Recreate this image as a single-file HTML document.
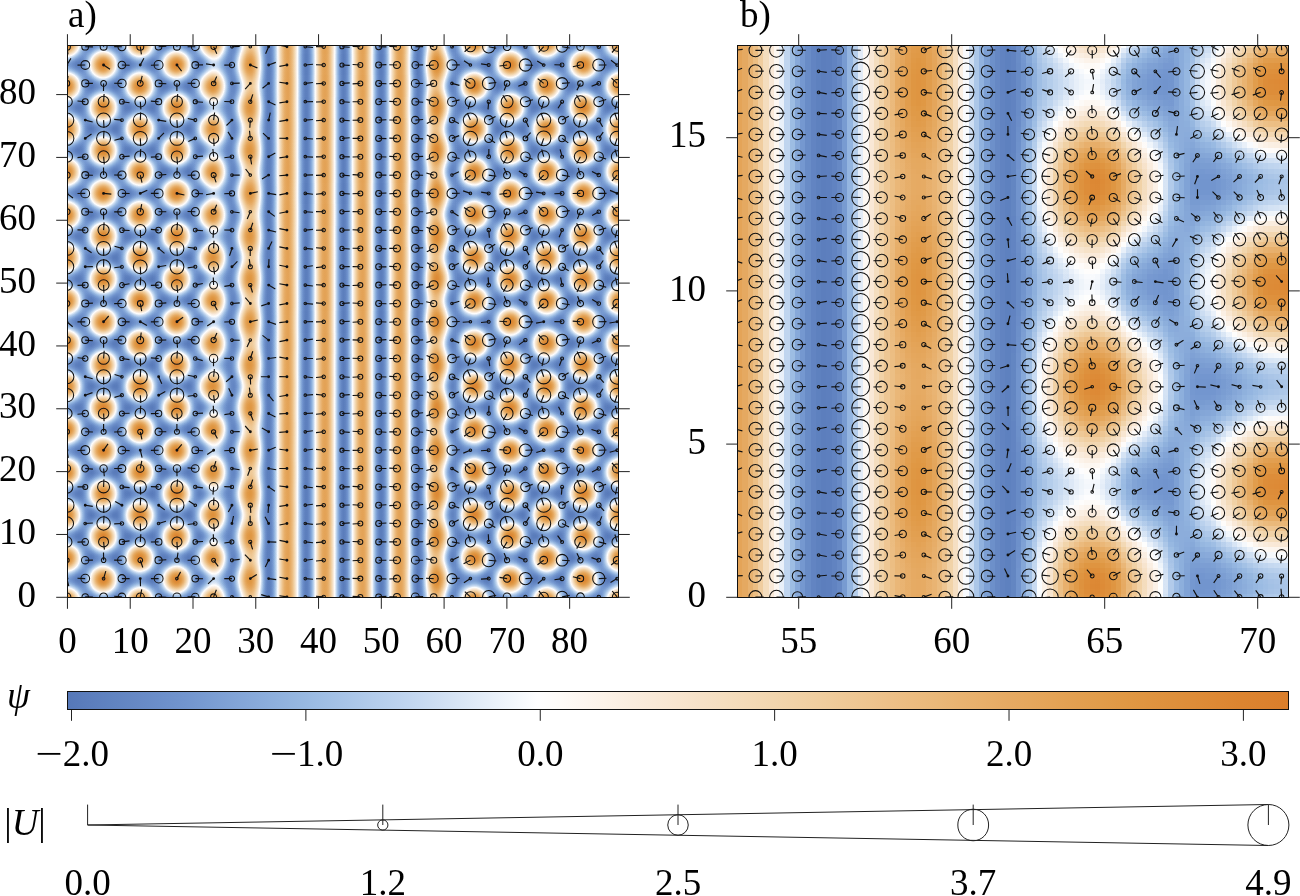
<!DOCTYPE html><html><head><meta charset="utf-8"><style>html,body{margin:0;padding:0;background:#fff;overflow:hidden;}svg{display:block}text{font-family:"Liberation Serif",serif;fill:#000}</style></head><body><svg width="1300" height="896" viewBox="0 0 1300 896"><defs><linearGradient id="ab" gradientUnits="userSpaceOnUse" x1="67.50" y1="0" x2="618.50" y2="0"><stop offset="0.0000" stop-color="#bdbdbd"/><stop offset="0.0024" stop-color="#b3b3b3"/><stop offset="0.0048" stop-color="#a3a3a3"/><stop offset="0.0072" stop-color="#8f8f8f"/><stop offset="0.0095" stop-color="#7a7a7a"/><stop offset="0.0119" stop-color="#666666"/><stop offset="0.0143" stop-color="#555555"/><stop offset="0.0167" stop-color="#484848"/><stop offset="0.0191" stop-color="#3e3e3e"/><stop offset="0.0215" stop-color="#383838"/><stop offset="0.0239" stop-color="#353535"/><stop offset="0.0263" stop-color="#343434"/><stop offset="0.0286" stop-color="#363636"/><stop offset="0.0310" stop-color="#3b3b3b"/><stop offset="0.0358" stop-color="#353535"/><stop offset="0.0382" stop-color="#343434"/><stop offset="0.0406" stop-color="#363636"/><stop offset="0.0430" stop-color="#3a3a3a"/><stop offset="0.0453" stop-color="#434343"/><stop offset="0.0477" stop-color="#4e4e4e"/><stop offset="0.0501" stop-color="#5e5e5e"/><stop offset="0.0525" stop-color="#707070"/><stop offset="0.0573" stop-color="#9a9a9a"/><stop offset="0.0597" stop-color="#acacac"/><stop offset="0.0621" stop-color="#bababa"/><stop offset="0.0644" stop-color="#bfbfbf"/><stop offset="0.0668" stop-color="#bcbcbc"/><stop offset="0.0692" stop-color="#b1b1b1"/><stop offset="0.0716" stop-color="#9f9f9f"/><stop offset="0.0764" stop-color="#767676"/><stop offset="0.0788" stop-color="#636363"/><stop offset="0.0811" stop-color="#525252"/><stop offset="0.0835" stop-color="#454545"/><stop offset="0.0859" stop-color="#3c3c3c"/><stop offset="0.0883" stop-color="#373737"/><stop offset="0.0907" stop-color="#343434"/><stop offset="0.0931" stop-color="#353535"/><stop offset="0.0955" stop-color="#373737"/><stop offset="0.0979" stop-color="#3c3c3c"/><stop offset="0.1002" stop-color="#373737"/><stop offset="0.1026" stop-color="#353535"/><stop offset="0.1050" stop-color="#343434"/><stop offset="0.1074" stop-color="#373737"/><stop offset="0.1098" stop-color="#3c3c3c"/><stop offset="0.1122" stop-color="#454545"/><stop offset="0.1146" stop-color="#515151"/><stop offset="0.1169" stop-color="#626262"/><stop offset="0.1193" stop-color="#757575"/><stop offset="0.1241" stop-color="#9e9e9e"/><stop offset="0.1265" stop-color="#b0b0b0"/><stop offset="0.1289" stop-color="#bcbcbc"/><stop offset="0.1313" stop-color="#bfbfbf"/><stop offset="0.1337" stop-color="#bababa"/><stop offset="0.1360" stop-color="#adadad"/><stop offset="0.1384" stop-color="#9b9b9b"/><stop offset="0.1432" stop-color="#727272"/><stop offset="0.1456" stop-color="#5f5f5f"/><stop offset="0.1480" stop-color="#505050"/><stop offset="0.1504" stop-color="#444444"/><stop offset="0.1527" stop-color="#3b3b3b"/><stop offset="0.1551" stop-color="#363636"/><stop offset="0.1575" stop-color="#343434"/><stop offset="0.1599" stop-color="#353535"/><stop offset="0.1647" stop-color="#3b3b3b"/><stop offset="0.1671" stop-color="#373737"/><stop offset="0.1695" stop-color="#343434"/><stop offset="0.1718" stop-color="#343434"/><stop offset="0.1742" stop-color="#373737"/><stop offset="0.1766" stop-color="#3d3d3d"/><stop offset="0.1790" stop-color="#464646"/><stop offset="0.1814" stop-color="#535353"/><stop offset="0.1838" stop-color="#636363"/><stop offset="0.1862" stop-color="#767676"/><stop offset="0.1909" stop-color="#9f9f9f"/><stop offset="0.1933" stop-color="#b0b0b0"/><stop offset="0.1957" stop-color="#bcbcbc"/><stop offset="0.1981" stop-color="#bfbfbf"/><stop offset="0.2005" stop-color="#bababa"/><stop offset="0.2029" stop-color="#acacac"/><stop offset="0.2053" stop-color="#9a9a9a"/><stop offset="0.2100" stop-color="#707070"/><stop offset="0.2124" stop-color="#5d5d5d"/><stop offset="0.2148" stop-color="#4e4e4e"/><stop offset="0.2172" stop-color="#424242"/><stop offset="0.2196" stop-color="#3a3a3a"/><stop offset="0.2220" stop-color="#363636"/><stop offset="0.2243" stop-color="#343434"/><stop offset="0.2267" stop-color="#363636"/><stop offset="0.2291" stop-color="#393939"/><stop offset="0.2315" stop-color="#3a3a3a"/><stop offset="0.2339" stop-color="#373737"/><stop offset="0.2363" stop-color="#363636"/><stop offset="0.2387" stop-color="#373737"/><stop offset="0.2411" stop-color="#3c3c3c"/><stop offset="0.2434" stop-color="#454545"/><stop offset="0.2458" stop-color="#515151"/><stop offset="0.2482" stop-color="#616161"/><stop offset="0.2506" stop-color="#737373"/><stop offset="0.2554" stop-color="#9a9a9a"/><stop offset="0.2578" stop-color="#ababab"/><stop offset="0.2601" stop-color="#b7b7b7"/><stop offset="0.2625" stop-color="#bebebe"/><stop offset="0.2649" stop-color="#bebebe"/><stop offset="0.2673" stop-color="#b9b9b9"/><stop offset="0.2697" stop-color="#afafaf"/><stop offset="0.2721" stop-color="#a1a1a1"/><stop offset="0.2745" stop-color="#919191"/><stop offset="0.2792" stop-color="#6e6e6e"/><stop offset="0.2816" stop-color="#5e5e5e"/><stop offset="0.2840" stop-color="#4f4f4f"/><stop offset="0.2864" stop-color="#444444"/><stop offset="0.2888" stop-color="#3a3a3a"/><stop offset="0.2912" stop-color="#343434"/><stop offset="0.2936" stop-color="#313131"/><stop offset="0.3007" stop-color="#303030"/><stop offset="0.3031" stop-color="#333333"/><stop offset="0.3055" stop-color="#3b3b3b"/><stop offset="0.3079" stop-color="#464646"/><stop offset="0.3103" stop-color="#545454"/><stop offset="0.3126" stop-color="#656565"/><stop offset="0.3198" stop-color="#a0a0a0"/><stop offset="0.3222" stop-color="#b1b1b1"/><stop offset="0.3246" stop-color="#c0c0c0"/><stop offset="0.3270" stop-color="#cacaca"/><stop offset="0.3294" stop-color="#d0d0d0"/><stop offset="0.3317" stop-color="#d1d1d1"/><stop offset="0.3341" stop-color="#cdcdcd"/><stop offset="0.3365" stop-color="#c5c5c5"/><stop offset="0.3389" stop-color="#bababa"/><stop offset="0.3413" stop-color="#ababab"/><stop offset="0.3437" stop-color="#9a9a9a"/><stop offset="0.3508" stop-color="#636363"/><stop offset="0.3532" stop-color="#525252"/><stop offset="0.3556" stop-color="#434343"/><stop offset="0.3580" stop-color="#373737"/><stop offset="0.3604" stop-color="#2e2e2e"/><stop offset="0.3628" stop-color="#292929"/><stop offset="0.3652" stop-color="#282828"/><stop offset="0.3675" stop-color="#292929"/><stop offset="0.3699" stop-color="#2f2f2f"/><stop offset="0.3723" stop-color="#383838"/><stop offset="0.3747" stop-color="#444444"/><stop offset="0.3771" stop-color="#535353"/><stop offset="0.3795" stop-color="#646464"/><stop offset="0.3866" stop-color="#989898"/><stop offset="0.3890" stop-color="#a8a8a8"/><stop offset="0.3914" stop-color="#b5b5b5"/><stop offset="0.3938" stop-color="#c0c0c0"/><stop offset="0.3962" stop-color="#c7c7c7"/><stop offset="0.3986" stop-color="#cbcbcb"/><stop offset="0.4010" stop-color="#cbcbcb"/><stop offset="0.4033" stop-color="#c6c6c6"/><stop offset="0.4057" stop-color="#bebebe"/><stop offset="0.4081" stop-color="#b3b3b3"/><stop offset="0.4105" stop-color="#a5a5a5"/><stop offset="0.4129" stop-color="#959595"/><stop offset="0.4200" stop-color="#606060"/><stop offset="0.4224" stop-color="#4f4f4f"/><stop offset="0.4248" stop-color="#414141"/><stop offset="0.4272" stop-color="#353535"/><stop offset="0.4296" stop-color="#2d2d2d"/><stop offset="0.4320" stop-color="#292929"/><stop offset="0.4344" stop-color="#282828"/><stop offset="0.4368" stop-color="#2c2c2c"/><stop offset="0.4391" stop-color="#333333"/><stop offset="0.4415" stop-color="#3e3e3e"/><stop offset="0.4439" stop-color="#4b4b4b"/><stop offset="0.4463" stop-color="#5b5b5b"/><stop offset="0.4535" stop-color="#909090"/><stop offset="0.4558" stop-color="#a1a1a1"/><stop offset="0.4582" stop-color="#b0b0b0"/><stop offset="0.4606" stop-color="#bcbcbc"/><stop offset="0.4630" stop-color="#c5c5c5"/><stop offset="0.4654" stop-color="#cacaca"/><stop offset="0.4678" stop-color="#cbcbcb"/><stop offset="0.4702" stop-color="#c8c8c8"/><stop offset="0.4726" stop-color="#c2c2c2"/><stop offset="0.4749" stop-color="#b8b8b8"/><stop offset="0.4773" stop-color="#ababab"/><stop offset="0.4797" stop-color="#9b9b9b"/><stop offset="0.4821" stop-color="#8a8a8a"/><stop offset="0.4869" stop-color="#666666"/><stop offset="0.4893" stop-color="#555555"/><stop offset="0.4916" stop-color="#464646"/><stop offset="0.4940" stop-color="#393939"/><stop offset="0.4964" stop-color="#303030"/><stop offset="0.4988" stop-color="#2a2a2a"/><stop offset="0.5012" stop-color="#282828"/><stop offset="0.5036" stop-color="#2a2a2a"/><stop offset="0.5060" stop-color="#303030"/><stop offset="0.5084" stop-color="#393939"/><stop offset="0.5107" stop-color="#464646"/><stop offset="0.5131" stop-color="#555555"/><stop offset="0.5155" stop-color="#666666"/><stop offset="0.5203" stop-color="#8a8a8a"/><stop offset="0.5227" stop-color="#9b9b9b"/><stop offset="0.5251" stop-color="#ababab"/><stop offset="0.5274" stop-color="#b8b8b8"/><stop offset="0.5298" stop-color="#c2c2c2"/><stop offset="0.5322" stop-color="#c8c8c8"/><stop offset="0.5346" stop-color="#cbcbcb"/><stop offset="0.5370" stop-color="#cacaca"/><stop offset="0.5394" stop-color="#c5c5c5"/><stop offset="0.5418" stop-color="#bcbcbc"/><stop offset="0.5442" stop-color="#b0b0b0"/><stop offset="0.5465" stop-color="#a1a1a1"/><stop offset="0.5489" stop-color="#919191"/><stop offset="0.5561" stop-color="#5c5c5c"/><stop offset="0.5585" stop-color="#4c4c4c"/><stop offset="0.5609" stop-color="#3e3e3e"/><stop offset="0.5632" stop-color="#343434"/><stop offset="0.5656" stop-color="#2c2c2c"/><stop offset="0.5680" stop-color="#282828"/><stop offset="0.5704" stop-color="#282828"/><stop offset="0.5728" stop-color="#2c2c2c"/><stop offset="0.5752" stop-color="#343434"/><stop offset="0.5776" stop-color="#3f3f3f"/><stop offset="0.5800" stop-color="#4d4d4d"/><stop offset="0.5823" stop-color="#5d5d5d"/><stop offset="0.5895" stop-color="#929292"/><stop offset="0.5919" stop-color="#a2a2a2"/><stop offset="0.5943" stop-color="#b1b1b1"/><stop offset="0.5967" stop-color="#bdbdbd"/><stop offset="0.5990" stop-color="#c5c5c5"/><stop offset="0.6014" stop-color="#cacaca"/><stop offset="0.6038" stop-color="#cbcbcb"/><stop offset="0.6062" stop-color="#c8c8c8"/><stop offset="0.6086" stop-color="#c1c1c1"/><stop offset="0.6110" stop-color="#b7b7b7"/><stop offset="0.6134" stop-color="#a9a9a9"/><stop offset="0.6158" stop-color="#999999"/><stop offset="0.6181" stop-color="#878787"/><stop offset="0.6229" stop-color="#626262"/><stop offset="0.6253" stop-color="#515151"/><stop offset="0.6277" stop-color="#414141"/><stop offset="0.6301" stop-color="#353535"/><stop offset="0.6325" stop-color="#2d2d2d"/><stop offset="0.6348" stop-color="#282828"/><stop offset="0.6372" stop-color="#282828"/><stop offset="0.6396" stop-color="#2a2a2a"/><stop offset="0.6420" stop-color="#303030"/><stop offset="0.6444" stop-color="#3a3a3a"/><stop offset="0.6468" stop-color="#484848"/><stop offset="0.6492" stop-color="#585858"/><stop offset="0.6516" stop-color="#6b6b6b"/><stop offset="0.6587" stop-color="#a8a8a8"/><stop offset="0.6611" stop-color="#bbbbbb"/><stop offset="0.6635" stop-color="#cbcbcb"/><stop offset="0.6659" stop-color="#d7d7d7"/><stop offset="0.6683" stop-color="#dedede"/><stop offset="0.6706" stop-color="#e0e0e0"/><stop offset="0.6730" stop-color="#dcdcdc"/><stop offset="0.6754" stop-color="#d1d1d1"/><stop offset="0.6778" stop-color="#c2c2c2"/><stop offset="0.6802" stop-color="#b0b0b0"/><stop offset="0.6826" stop-color="#9b9b9b"/><stop offset="0.6874" stop-color="#6f6f6f"/><stop offset="0.6897" stop-color="#5b5b5b"/><stop offset="0.6921" stop-color="#4a4a4a"/><stop offset="0.6945" stop-color="#3d3d3d"/><stop offset="0.6969" stop-color="#353535"/><stop offset="0.6993" stop-color="#303030"/><stop offset="0.7017" stop-color="#303030"/><stop offset="0.7041" stop-color="#333333"/><stop offset="0.7064" stop-color="#323232"/><stop offset="0.7088" stop-color="#323232"/><stop offset="0.7112" stop-color="#343434"/><stop offset="0.7136" stop-color="#393939"/><stop offset="0.7160" stop-color="#404040"/><stop offset="0.7184" stop-color="#494949"/><stop offset="0.7208" stop-color="#555555"/><stop offset="0.7232" stop-color="#626262"/><stop offset="0.7255" stop-color="#707070"/><stop offset="0.7279" stop-color="#818181"/><stop offset="0.7303" stop-color="#959595"/><stop offset="0.7327" stop-color="#a8a8a8"/><stop offset="0.7351" stop-color="#b6b6b6"/><stop offset="0.7375" stop-color="#bebebe"/><stop offset="0.7399" stop-color="#bebebe"/><stop offset="0.7422" stop-color="#b5b5b5"/><stop offset="0.7446" stop-color="#a5a5a5"/><stop offset="0.7470" stop-color="#919191"/><stop offset="0.7494" stop-color="#7b7b7b"/><stop offset="0.7518" stop-color="#676767"/><stop offset="0.7542" stop-color="#565656"/><stop offset="0.7566" stop-color="#484848"/><stop offset="0.7589" stop-color="#3e3e3e"/><stop offset="0.7613" stop-color="#373737"/><stop offset="0.7637" stop-color="#343434"/><stop offset="0.7661" stop-color="#343434"/><stop offset="0.7685" stop-color="#373737"/><stop offset="0.7709" stop-color="#3b3b3b"/><stop offset="0.7757" stop-color="#353535"/><stop offset="0.7780" stop-color="#343434"/><stop offset="0.7804" stop-color="#363636"/><stop offset="0.7828" stop-color="#3c3c3c"/><stop offset="0.7852" stop-color="#454545"/><stop offset="0.7876" stop-color="#525252"/><stop offset="0.7900" stop-color="#636363"/><stop offset="0.7924" stop-color="#777777"/><stop offset="0.7971" stop-color="#a1a1a1"/><stop offset="0.7995" stop-color="#b2b2b2"/><stop offset="0.8019" stop-color="#bdbdbd"/><stop offset="0.8043" stop-color="#bfbfbf"/><stop offset="0.8067" stop-color="#b8b8b8"/><stop offset="0.8091" stop-color="#aaaaaa"/><stop offset="0.8115" stop-color="#979797"/><stop offset="0.8162" stop-color="#6d6d6d"/><stop offset="0.8186" stop-color="#5b5b5b"/><stop offset="0.8210" stop-color="#4c4c4c"/><stop offset="0.8234" stop-color="#414141"/><stop offset="0.8258" stop-color="#393939"/><stop offset="0.8282" stop-color="#353535"/><stop offset="0.8305" stop-color="#343434"/><stop offset="0.8329" stop-color="#363636"/><stop offset="0.8353" stop-color="#393939"/><stop offset="0.8377" stop-color="#3a3a3a"/><stop offset="0.8401" stop-color="#363636"/><stop offset="0.8425" stop-color="#343434"/><stop offset="0.8449" stop-color="#353535"/><stop offset="0.8473" stop-color="#393939"/><stop offset="0.8496" stop-color="#404040"/><stop offset="0.8520" stop-color="#4a4a4a"/><stop offset="0.8544" stop-color="#595959"/><stop offset="0.8568" stop-color="#6b6b6b"/><stop offset="0.8592" stop-color="#7f7f7f"/><stop offset="0.8616" stop-color="#949494"/><stop offset="0.8640" stop-color="#a8a8a8"/><stop offset="0.8663" stop-color="#b7b7b7"/><stop offset="0.8687" stop-color="#bfbfbf"/><stop offset="0.8711" stop-color="#bebebe"/><stop offset="0.8735" stop-color="#b4b4b4"/><stop offset="0.8759" stop-color="#a5a5a5"/><stop offset="0.8783" stop-color="#919191"/><stop offset="0.8807" stop-color="#7c7c7c"/><stop offset="0.8831" stop-color="#686868"/><stop offset="0.8854" stop-color="#575757"/><stop offset="0.8878" stop-color="#494949"/><stop offset="0.8902" stop-color="#3f3f3f"/><stop offset="0.8926" stop-color="#383838"/><stop offset="0.8950" stop-color="#353535"/><stop offset="0.8974" stop-color="#343434"/><stop offset="0.8998" stop-color="#363636"/><stop offset="0.9021" stop-color="#3a3a3a"/><stop offset="0.9045" stop-color="#393939"/><stop offset="0.9069" stop-color="#353535"/><stop offset="0.9093" stop-color="#343434"/><stop offset="0.9117" stop-color="#353535"/><stop offset="0.9141" stop-color="#393939"/><stop offset="0.9165" stop-color="#414141"/><stop offset="0.9189" stop-color="#4c4c4c"/><stop offset="0.9212" stop-color="#5a5a5a"/><stop offset="0.9236" stop-color="#6c6c6c"/><stop offset="0.9284" stop-color="#959595"/><stop offset="0.9308" stop-color="#a8a8a8"/><stop offset="0.9332" stop-color="#b7b7b7"/><stop offset="0.9356" stop-color="#bfbfbf"/><stop offset="0.9379" stop-color="#bebebe"/><stop offset="0.9403" stop-color="#b4b4b4"/><stop offset="0.9427" stop-color="#a4a4a4"/><stop offset="0.9451" stop-color="#909090"/><stop offset="0.9475" stop-color="#7b7b7b"/><stop offset="0.9499" stop-color="#676767"/><stop offset="0.9523" stop-color="#565656"/><stop offset="0.9547" stop-color="#484848"/><stop offset="0.9570" stop-color="#3e3e3e"/><stop offset="0.9594" stop-color="#383838"/><stop offset="0.9618" stop-color="#353535"/><stop offset="0.9642" stop-color="#343434"/><stop offset="0.9666" stop-color="#363636"/><stop offset="0.9690" stop-color="#3a3a3a"/><stop offset="0.9714" stop-color="#383838"/><stop offset="0.9737" stop-color="#353535"/><stop offset="0.9761" stop-color="#343434"/><stop offset="0.9785" stop-color="#363636"/><stop offset="0.9809" stop-color="#3a3a3a"/><stop offset="0.9833" stop-color="#424242"/><stop offset="0.9857" stop-color="#4e4e4e"/><stop offset="0.9881" stop-color="#5e5e5e"/><stop offset="0.9905" stop-color="#707070"/><stop offset="0.9952" stop-color="#9a9a9a"/><stop offset="0.9976" stop-color="#acacac"/><stop offset="1.0000" stop-color="#bababa"/></linearGradient><linearGradient id="ag0p" gradientUnits="userSpaceOnUse" spreadMethod="repeat" x1="0" y1="64.700" x2="0" y2="107.600"><stop offset="0.0000" stop-color="#ffffff"/><stop offset="0.0278" stop-color="#fdfdfd"/><stop offset="0.0556" stop-color="#f7f7f7"/><stop offset="0.0833" stop-color="#eeeeee"/><stop offset="0.1111" stop-color="#e1e1e1"/><stop offset="0.1389" stop-color="#d1d1d1"/><stop offset="0.1667" stop-color="#bfbfbf"/><stop offset="0.1944" stop-color="#ababab"/><stop offset="0.2222" stop-color="#969696"/><stop offset="0.2500" stop-color="#808080"/><stop offset="0.2778" stop-color="#696969"/><stop offset="0.3056" stop-color="#545454"/><stop offset="0.3333" stop-color="#404040"/><stop offset="0.3611" stop-color="#2e2e2e"/><stop offset="0.3889" stop-color="#1e1e1e"/><stop offset="0.4167" stop-color="#111111"/><stop offset="0.4444" stop-color="#080808"/><stop offset="0.4722" stop-color="#020202"/><stop offset="0.5000" stop-color="#000000"/><stop offset="0.5278" stop-color="#020202"/><stop offset="0.5556" stop-color="#080808"/><stop offset="0.5833" stop-color="#111111"/><stop offset="0.6111" stop-color="#1e1e1e"/><stop offset="0.6389" stop-color="#2e2e2e"/><stop offset="0.6667" stop-color="#404040"/><stop offset="0.6944" stop-color="#545454"/><stop offset="0.7222" stop-color="#696969"/><stop offset="0.7500" stop-color="#7f7f7f"/><stop offset="0.7778" stop-color="#969696"/><stop offset="0.8056" stop-color="#ababab"/><stop offset="0.8333" stop-color="#bfbfbf"/><stop offset="0.8611" stop-color="#d1d1d1"/><stop offset="0.8889" stop-color="#e1e1e1"/><stop offset="0.9167" stop-color="#eeeeee"/><stop offset="0.9444" stop-color="#f7f7f7"/><stop offset="0.9722" stop-color="#fdfdfd"/><stop offset="1.0000" stop-color="#ffffff"/></linearGradient><linearGradient id="ag0pa" gradientUnits="userSpaceOnUse" x1="67.50" y1="0" x2="618.50" y2="0"><stop offset="0.0000" stop-color="#fff" stop-opacity="0.0000"/><stop offset="0.0310" stop-color="#fff" stop-opacity="0.0000"/><stop offset="0.0334" stop-color="#fff" stop-opacity="0.0596"/><stop offset="0.0382" stop-color="#fff" stop-opacity="0.2114"/><stop offset="0.0430" stop-color="#fff" stop-opacity="0.3524"/><stop offset="0.0453" stop-color="#fff" stop-opacity="0.4167"/><stop offset="0.0477" stop-color="#fff" stop-opacity="0.4756"/><stop offset="0.0501" stop-color="#fff" stop-opacity="0.5285"/><stop offset="0.0525" stop-color="#fff" stop-opacity="0.5747"/><stop offset="0.0549" stop-color="#fff" stop-opacity="0.6135"/><stop offset="0.0573" stop-color="#fff" stop-opacity="0.6446"/><stop offset="0.0597" stop-color="#fff" stop-opacity="0.6674"/><stop offset="0.0621" stop-color="#fff" stop-opacity="0.6817"/><stop offset="0.0644" stop-color="#fff" stop-opacity="0.6874"/><stop offset="0.0668" stop-color="#fff" stop-opacity="0.6843"/><stop offset="0.0692" stop-color="#fff" stop-opacity="0.6724"/><stop offset="0.0716" stop-color="#fff" stop-opacity="0.6520"/><stop offset="0.0740" stop-color="#fff" stop-opacity="0.6232"/><stop offset="0.0764" stop-color="#fff" stop-opacity="0.5864"/><stop offset="0.0788" stop-color="#fff" stop-opacity="0.5421"/><stop offset="0.0811" stop-color="#fff" stop-opacity="0.4909"/><stop offset="0.0835" stop-color="#fff" stop-opacity="0.4334"/><stop offset="0.0859" stop-color="#fff" stop-opacity="0.3703"/><stop offset="0.0907" stop-color="#fff" stop-opacity="0.2309"/><stop offset="0.0979" stop-color="#fff" stop-opacity="0.0020"/><stop offset="0.1623" stop-color="#fff" stop-opacity="0.0000"/><stop offset="0.1647" stop-color="#fff" stop-opacity="0.0081"/><stop offset="0.1718" stop-color="#fff" stop-opacity="0.2348"/><stop offset="0.1766" stop-color="#fff" stop-opacity="0.3728"/><stop offset="0.1790" stop-color="#fff" stop-opacity="0.4351"/><stop offset="0.1814" stop-color="#fff" stop-opacity="0.4920"/><stop offset="0.1838" stop-color="#fff" stop-opacity="0.5427"/><stop offset="0.1862" stop-color="#fff" stop-opacity="0.5866"/><stop offset="0.1885" stop-color="#fff" stop-opacity="0.6231"/><stop offset="0.1909" stop-color="#fff" stop-opacity="0.6517"/><stop offset="0.1933" stop-color="#fff" stop-opacity="0.6721"/><stop offset="0.1957" stop-color="#fff" stop-opacity="0.6841"/><stop offset="0.1981" stop-color="#fff" stop-opacity="0.6874"/><stop offset="0.2005" stop-color="#fff" stop-opacity="0.6820"/><stop offset="0.2029" stop-color="#fff" stop-opacity="0.6676"/><stop offset="0.2053" stop-color="#fff" stop-opacity="0.6446"/><stop offset="0.2076" stop-color="#fff" stop-opacity="0.6132"/><stop offset="0.2100" stop-color="#fff" stop-opacity="0.5738"/><stop offset="0.2124" stop-color="#fff" stop-opacity="0.5269"/><stop offset="0.2148" stop-color="#fff" stop-opacity="0.4732"/><stop offset="0.2172" stop-color="#fff" stop-opacity="0.4133"/><stop offset="0.2196" stop-color="#fff" stop-opacity="0.3480"/><stop offset="0.2220" stop-color="#fff" stop-opacity="0.2783"/><stop offset="0.2291" stop-color="#fff" stop-opacity="0.0488"/><stop offset="0.2315" stop-color="#fff" stop-opacity="0.0000"/><stop offset="0.2959" stop-color="#fff" stop-opacity="0.0000"/><stop offset="0.2983" stop-color="#fff" stop-opacity="0.0187"/><stop offset="0.3031" stop-color="#fff" stop-opacity="0.0901"/><stop offset="0.3079" stop-color="#fff" stop-opacity="0.1480"/><stop offset="0.3103" stop-color="#fff" stop-opacity="0.1712"/><stop offset="0.3126" stop-color="#fff" stop-opacity="0.1904"/><stop offset="0.3150" stop-color="#fff" stop-opacity="0.2055"/><stop offset="0.3174" stop-color="#fff" stop-opacity="0.2164"/><stop offset="0.3222" stop-color="#fff" stop-opacity="0.2263"/><stop offset="0.3270" stop-color="#fff" stop-opacity="0.2213"/><stop offset="0.3317" stop-color="#fff" stop-opacity="0.2037"/><stop offset="0.3389" stop-color="#fff" stop-opacity="0.1599"/><stop offset="0.3532" stop-color="#fff" stop-opacity="0.0554"/><stop offset="0.3604" stop-color="#fff" stop-opacity="0.0162"/><stop offset="0.3652" stop-color="#fff" stop-opacity="0.0002"/><stop offset="1.0000" stop-color="#fff" stop-opacity="0.0000"/></linearGradient><mask id="ag0pm" maskUnits="userSpaceOnUse" x="67.50" y="45.50" width="551.00" height="552.00"><rect x="67.50" y="45.50" width="551.00" height="552.00" fill="url(#ag0pa)"/></mask><linearGradient id="ag0n" gradientUnits="userSpaceOnUse" spreadMethod="repeat" x1="0" y1="64.700" x2="0" y2="107.600"><stop offset="0.0000" stop-color="#000000"/><stop offset="0.0278" stop-color="#020202"/><stop offset="0.0556" stop-color="#080808"/><stop offset="0.0833" stop-color="#111111"/><stop offset="0.1111" stop-color="#1e1e1e"/><stop offset="0.1389" stop-color="#2e2e2e"/><stop offset="0.1667" stop-color="#404040"/><stop offset="0.1944" stop-color="#545454"/><stop offset="0.2222" stop-color="#696969"/><stop offset="0.2500" stop-color="#7f7f7f"/><stop offset="0.2778" stop-color="#969696"/><stop offset="0.3056" stop-color="#ababab"/><stop offset="0.3333" stop-color="#bfbfbf"/><stop offset="0.3611" stop-color="#d1d1d1"/><stop offset="0.3889" stop-color="#e1e1e1"/><stop offset="0.4167" stop-color="#eeeeee"/><stop offset="0.4444" stop-color="#f7f7f7"/><stop offset="0.4722" stop-color="#fdfdfd"/><stop offset="0.5000" stop-color="#ffffff"/><stop offset="0.5278" stop-color="#fdfdfd"/><stop offset="0.5556" stop-color="#f7f7f7"/><stop offset="0.5833" stop-color="#eeeeee"/><stop offset="0.6111" stop-color="#e1e1e1"/><stop offset="0.6389" stop-color="#d1d1d1"/><stop offset="0.6667" stop-color="#bfbfbf"/><stop offset="0.6944" stop-color="#ababab"/><stop offset="0.7222" stop-color="#969696"/><stop offset="0.7500" stop-color="#808080"/><stop offset="0.7778" stop-color="#696969"/><stop offset="0.8056" stop-color="#545454"/><stop offset="0.8333" stop-color="#404040"/><stop offset="0.8611" stop-color="#2e2e2e"/><stop offset="0.8889" stop-color="#1e1e1e"/><stop offset="0.9167" stop-color="#111111"/><stop offset="0.9444" stop-color="#080808"/><stop offset="0.9722" stop-color="#020202"/><stop offset="1.0000" stop-color="#000000"/></linearGradient><linearGradient id="ag0na" gradientUnits="userSpaceOnUse" x1="67.50" y1="0" x2="618.50" y2="0"><stop offset="0.0000" stop-color="#fff" stop-opacity="0.6854"/><stop offset="0.0024" stop-color="#fff" stop-opacity="0.6751"/><stop offset="0.0048" stop-color="#fff" stop-opacity="0.6562"/><stop offset="0.0072" stop-color="#fff" stop-opacity="0.6289"/><stop offset="0.0095" stop-color="#fff" stop-opacity="0.5936"/><stop offset="0.0119" stop-color="#fff" stop-opacity="0.5508"/><stop offset="0.0143" stop-color="#fff" stop-opacity="0.5009"/><stop offset="0.0167" stop-color="#fff" stop-opacity="0.4447"/><stop offset="0.0191" stop-color="#fff" stop-opacity="0.3828"/><stop offset="0.0215" stop-color="#fff" stop-opacity="0.3160"/><stop offset="0.0263" stop-color="#fff" stop-opacity="0.1714"/><stop offset="0.0310" stop-color="#fff" stop-opacity="0.0180"/><stop offset="0.0334" stop-color="#fff" stop-opacity="0.0000"/><stop offset="0.0979" stop-color="#fff" stop-opacity="0.0000"/><stop offset="0.1050" stop-color="#fff" stop-opacity="0.2271"/><stop offset="0.1098" stop-color="#fff" stop-opacity="0.3670"/><stop offset="0.1122" stop-color="#fff" stop-opacity="0.4303"/><stop offset="0.1146" stop-color="#fff" stop-opacity="0.4881"/><stop offset="0.1169" stop-color="#fff" stop-opacity="0.5396"/><stop offset="0.1193" stop-color="#fff" stop-opacity="0.5843"/><stop offset="0.1217" stop-color="#fff" stop-opacity="0.6215"/><stop offset="0.1241" stop-color="#fff" stop-opacity="0.6507"/><stop offset="0.1265" stop-color="#fff" stop-opacity="0.6716"/><stop offset="0.1289" stop-color="#fff" stop-opacity="0.6839"/><stop offset="0.1313" stop-color="#fff" stop-opacity="0.6875"/><stop offset="0.1337" stop-color="#fff" stop-opacity="0.6823"/><stop offset="0.1360" stop-color="#fff" stop-opacity="0.6685"/><stop offset="0.1384" stop-color="#fff" stop-opacity="0.6464"/><stop offset="0.1408" stop-color="#fff" stop-opacity="0.6161"/><stop offset="0.1432" stop-color="#fff" stop-opacity="0.5780"/><stop offset="0.1456" stop-color="#fff" stop-opacity="0.5327"/><stop offset="0.1480" stop-color="#fff" stop-opacity="0.4806"/><stop offset="0.1504" stop-color="#fff" stop-opacity="0.4225"/><stop offset="0.1527" stop-color="#fff" stop-opacity="0.3591"/><stop offset="0.1575" stop-color="#fff" stop-opacity="0.2196"/><stop offset="0.1623" stop-color="#fff" stop-opacity="0.0690"/><stop offset="0.1647" stop-color="#fff" stop-opacity="0.0000"/><stop offset="0.2291" stop-color="#fff" stop-opacity="0.0000"/><stop offset="0.2315" stop-color="#fff" stop-opacity="0.0257"/><stop offset="0.2363" stop-color="#fff" stop-opacity="0.1657"/><stop offset="0.2387" stop-color="#fff" stop-opacity="0.2295"/><stop offset="0.2411" stop-color="#fff" stop-opacity="0.2880"/><stop offset="0.2434" stop-color="#fff" stop-opacity="0.3406"/><stop offset="0.2458" stop-color="#fff" stop-opacity="0.3868"/><stop offset="0.2482" stop-color="#fff" stop-opacity="0.4262"/><stop offset="0.2506" stop-color="#fff" stop-opacity="0.4585"/><stop offset="0.2530" stop-color="#fff" stop-opacity="0.4834"/><stop offset="0.2554" stop-color="#fff" stop-opacity="0.5008"/><stop offset="0.2578" stop-color="#fff" stop-opacity="0.5109"/><stop offset="0.2601" stop-color="#fff" stop-opacity="0.5136"/><stop offset="0.2625" stop-color="#fff" stop-opacity="0.5092"/><stop offset="0.2649" stop-color="#fff" stop-opacity="0.4982"/><stop offset="0.2673" stop-color="#fff" stop-opacity="0.4811"/><stop offset="0.2697" stop-color="#fff" stop-opacity="0.4585"/><stop offset="0.2721" stop-color="#fff" stop-opacity="0.4309"/><stop offset="0.2768" stop-color="#fff" stop-opacity="0.3629"/><stop offset="0.2840" stop-color="#fff" stop-opacity="0.2393"/><stop offset="0.2959" stop-color="#fff" stop-opacity="0.0210"/><stop offset="0.2983" stop-color="#fff" stop-opacity="0.0000"/><stop offset="0.3652" stop-color="#fff" stop-opacity="0.0000"/><stop offset="0.3699" stop-color="#fff" stop-opacity="0.0064"/><stop offset="1.0000" stop-color="#fff" stop-opacity="0.0000"/></linearGradient><mask id="ag0nm" maskUnits="userSpaceOnUse" x="67.50" y="45.50" width="551.00" height="552.00"><rect x="67.50" y="45.50" width="551.00" height="552.00" fill="url(#ag0na)"/></mask><linearGradient id="ag1p" gradientUnits="userSpaceOnUse" spreadMethod="repeat" x1="0" y1="64.500" x2="0" y2="107.400"><stop offset="0.0000" stop-color="#ffffff"/><stop offset="0.0278" stop-color="#fdfdfd"/><stop offset="0.0556" stop-color="#f7f7f7"/><stop offset="0.0833" stop-color="#eeeeee"/><stop offset="0.1111" stop-color="#e1e1e1"/><stop offset="0.1389" stop-color="#d1d1d1"/><stop offset="0.1667" stop-color="#bfbfbf"/><stop offset="0.1944" stop-color="#ababab"/><stop offset="0.2222" stop-color="#969696"/><stop offset="0.2500" stop-color="#808080"/><stop offset="0.2778" stop-color="#696969"/><stop offset="0.3056" stop-color="#545454"/><stop offset="0.3333" stop-color="#404040"/><stop offset="0.3611" stop-color="#2e2e2e"/><stop offset="0.3889" stop-color="#1e1e1e"/><stop offset="0.4167" stop-color="#111111"/><stop offset="0.4444" stop-color="#080808"/><stop offset="0.4722" stop-color="#020202"/><stop offset="0.5000" stop-color="#000000"/><stop offset="0.5278" stop-color="#020202"/><stop offset="0.5556" stop-color="#080808"/><stop offset="0.5833" stop-color="#111111"/><stop offset="0.6111" stop-color="#1e1e1e"/><stop offset="0.6389" stop-color="#2e2e2e"/><stop offset="0.6667" stop-color="#404040"/><stop offset="0.6944" stop-color="#545454"/><stop offset="0.7222" stop-color="#696969"/><stop offset="0.7500" stop-color="#7f7f7f"/><stop offset="0.7778" stop-color="#969696"/><stop offset="0.8056" stop-color="#ababab"/><stop offset="0.8333" stop-color="#bfbfbf"/><stop offset="0.8611" stop-color="#d1d1d1"/><stop offset="0.8889" stop-color="#e1e1e1"/><stop offset="0.9167" stop-color="#eeeeee"/><stop offset="0.9444" stop-color="#f7f7f7"/><stop offset="0.9722" stop-color="#fdfdfd"/><stop offset="1.0000" stop-color="#ffffff"/></linearGradient><linearGradient id="ag1pa" gradientUnits="userSpaceOnUse" x1="67.50" y1="0" x2="618.50" y2="0"><stop offset="0.0000" stop-color="#fff" stop-opacity="0.0000"/><stop offset="0.6348" stop-color="#fff" stop-opacity="0.0000"/><stop offset="0.6372" stop-color="#fff" stop-opacity="0.0029"/><stop offset="0.6444" stop-color="#fff" stop-opacity="0.0435"/><stop offset="0.6635" stop-color="#fff" stop-opacity="0.1844"/><stop offset="0.6683" stop-color="#fff" stop-opacity="0.2105"/><stop offset="0.6730" stop-color="#fff" stop-opacity="0.2268"/><stop offset="0.6754" stop-color="#fff" stop-opacity="0.2307"/><stop offset="0.6802" stop-color="#fff" stop-opacity="0.2447"/><stop offset="0.6826" stop-color="#fff" stop-opacity="0.2461"/><stop offset="0.6850" stop-color="#fff" stop-opacity="0.2422"/><stop offset="0.6874" stop-color="#fff" stop-opacity="0.2327"/><stop offset="0.6897" stop-color="#fff" stop-opacity="0.2174"/><stop offset="0.6921" stop-color="#fff" stop-opacity="0.1962"/><stop offset="0.6945" stop-color="#fff" stop-opacity="0.1690"/><stop offset="0.6969" stop-color="#fff" stop-opacity="0.1360"/><stop offset="0.6993" stop-color="#fff" stop-opacity="0.0973"/><stop offset="0.7017" stop-color="#fff" stop-opacity="0.0533"/><stop offset="0.7041" stop-color="#fff" stop-opacity="0.0045"/><stop offset="0.7064" stop-color="#fff" stop-opacity="0.0000"/><stop offset="0.7709" stop-color="#fff" stop-opacity="0.0000"/><stop offset="0.7733" stop-color="#fff" stop-opacity="0.0706"/><stop offset="0.7780" stop-color="#fff" stop-opacity="0.2251"/><stop offset="0.7828" stop-color="#fff" stop-opacity="0.3678"/><stop offset="0.7852" stop-color="#fff" stop-opacity="0.4322"/><stop offset="0.7876" stop-color="#fff" stop-opacity="0.4909"/><stop offset="0.7900" stop-color="#fff" stop-opacity="0.5430"/><stop offset="0.7924" stop-color="#fff" stop-opacity="0.5880"/><stop offset="0.7947" stop-color="#fff" stop-opacity="0.6251"/><stop offset="0.7971" stop-color="#fff" stop-opacity="0.6539"/><stop offset="0.7995" stop-color="#fff" stop-opacity="0.6740"/><stop offset="0.8019" stop-color="#fff" stop-opacity="0.6851"/><stop offset="0.8043" stop-color="#fff" stop-opacity="0.6872"/><stop offset="0.8067" stop-color="#fff" stop-opacity="0.6803"/><stop offset="0.8091" stop-color="#fff" stop-opacity="0.6646"/><stop offset="0.8115" stop-color="#fff" stop-opacity="0.6404"/><stop offset="0.8138" stop-color="#fff" stop-opacity="0.6080"/><stop offset="0.8162" stop-color="#fff" stop-opacity="0.5677"/><stop offset="0.8186" stop-color="#fff" stop-opacity="0.5202"/><stop offset="0.8210" stop-color="#fff" stop-opacity="0.4659"/><stop offset="0.8234" stop-color="#fff" stop-opacity="0.4057"/><stop offset="0.8258" stop-color="#fff" stop-opacity="0.3402"/><stop offset="0.8305" stop-color="#fff" stop-opacity="0.1970"/><stop offset="0.8353" stop-color="#fff" stop-opacity="0.0437"/><stop offset="0.8377" stop-color="#fff" stop-opacity="0.0000"/><stop offset="0.9021" stop-color="#fff" stop-opacity="0.0000"/><stop offset="0.9045" stop-color="#fff" stop-opacity="0.0468"/><stop offset="0.9093" stop-color="#fff" stop-opacity="0.1984"/><stop offset="0.9141" stop-color="#fff" stop-opacity="0.3400"/><stop offset="0.9165" stop-color="#fff" stop-opacity="0.4048"/><stop offset="0.9189" stop-color="#fff" stop-opacity="0.4645"/><stop offset="0.9212" stop-color="#fff" stop-opacity="0.5183"/><stop offset="0.9236" stop-color="#fff" stop-opacity="0.5657"/><stop offset="0.9260" stop-color="#fff" stop-opacity="0.6059"/><stop offset="0.9284" stop-color="#fff" stop-opacity="0.6385"/><stop offset="0.9308" stop-color="#fff" stop-opacity="0.6630"/><stop offset="0.9332" stop-color="#fff" stop-opacity="0.6792"/><stop offset="0.9356" stop-color="#fff" stop-opacity="0.6869"/><stop offset="0.9379" stop-color="#fff" stop-opacity="0.6858"/><stop offset="0.9403" stop-color="#fff" stop-opacity="0.6760"/><stop offset="0.9427" stop-color="#fff" stop-opacity="0.6576"/><stop offset="0.9451" stop-color="#fff" stop-opacity="0.6307"/><stop offset="0.9475" stop-color="#fff" stop-opacity="0.5958"/><stop offset="0.9499" stop-color="#fff" stop-opacity="0.5533"/><stop offset="0.9523" stop-color="#fff" stop-opacity="0.5036"/><stop offset="0.9547" stop-color="#fff" stop-opacity="0.4475"/><stop offset="0.9570" stop-color="#fff" stop-opacity="0.3857"/><stop offset="0.9594" stop-color="#fff" stop-opacity="0.3190"/><stop offset="0.9642" stop-color="#fff" stop-opacity="0.1742"/><stop offset="0.9690" stop-color="#fff" stop-opacity="0.0204"/><stop offset="0.9714" stop-color="#fff" stop-opacity="0.0000"/><stop offset="1.0000" stop-color="#fff" stop-opacity="0.0000"/></linearGradient><mask id="ag1pm" maskUnits="userSpaceOnUse" x="67.50" y="45.50" width="551.00" height="552.00"><rect x="67.50" y="45.50" width="551.00" height="552.00" fill="url(#ag1pa)"/></mask><linearGradient id="ag1n" gradientUnits="userSpaceOnUse" spreadMethod="repeat" x1="0" y1="64.500" x2="0" y2="107.400"><stop offset="0.0000" stop-color="#000000"/><stop offset="0.0278" stop-color="#020202"/><stop offset="0.0556" stop-color="#080808"/><stop offset="0.0833" stop-color="#111111"/><stop offset="0.1111" stop-color="#1e1e1e"/><stop offset="0.1389" stop-color="#2e2e2e"/><stop offset="0.1667" stop-color="#404040"/><stop offset="0.1944" stop-color="#545454"/><stop offset="0.2222" stop-color="#696969"/><stop offset="0.2500" stop-color="#7f7f7f"/><stop offset="0.2778" stop-color="#969696"/><stop offset="0.3056" stop-color="#ababab"/><stop offset="0.3333" stop-color="#bfbfbf"/><stop offset="0.3611" stop-color="#d1d1d1"/><stop offset="0.3889" stop-color="#e1e1e1"/><stop offset="0.4167" stop-color="#eeeeee"/><stop offset="0.4444" stop-color="#f7f7f7"/><stop offset="0.4722" stop-color="#fdfdfd"/><stop offset="0.5000" stop-color="#ffffff"/><stop offset="0.5278" stop-color="#fdfdfd"/><stop offset="0.5556" stop-color="#f7f7f7"/><stop offset="0.5833" stop-color="#eeeeee"/><stop offset="0.6111" stop-color="#e1e1e1"/><stop offset="0.6389" stop-color="#d1d1d1"/><stop offset="0.6667" stop-color="#bfbfbf"/><stop offset="0.6944" stop-color="#ababab"/><stop offset="0.7222" stop-color="#969696"/><stop offset="0.7500" stop-color="#808080"/><stop offset="0.7778" stop-color="#696969"/><stop offset="0.8056" stop-color="#545454"/><stop offset="0.8333" stop-color="#404040"/><stop offset="0.8611" stop-color="#2e2e2e"/><stop offset="0.8889" stop-color="#1e1e1e"/><stop offset="0.9167" stop-color="#111111"/><stop offset="0.9444" stop-color="#080808"/><stop offset="0.9722" stop-color="#020202"/><stop offset="1.0000" stop-color="#000000"/></linearGradient><linearGradient id="ag1na" gradientUnits="userSpaceOnUse" x1="67.50" y1="0" x2="618.50" y2="0"><stop offset="0.0000" stop-color="#fff" stop-opacity="0.0000"/><stop offset="0.6110" stop-color="#fff" stop-opacity="0.0000"/><stop offset="0.6134" stop-color="#fff" stop-opacity="0.0028"/><stop offset="0.6205" stop-color="#fff" stop-opacity="0.0208"/><stop offset="0.6253" stop-color="#fff" stop-opacity="0.0245"/><stop offset="0.6301" stop-color="#fff" stop-opacity="0.0201"/><stop offset="0.6372" stop-color="#fff" stop-opacity="0.0000"/><stop offset="0.7041" stop-color="#fff" stop-opacity="0.0000"/><stop offset="0.7064" stop-color="#fff" stop-opacity="0.0487"/><stop offset="0.7112" stop-color="#fff" stop-opacity="0.1653"/><stop offset="0.7232" stop-color="#fff" stop-opacity="0.4764"/><stop offset="0.7279" stop-color="#fff" stop-opacity="0.5879"/><stop offset="0.7303" stop-color="#fff" stop-opacity="0.6368"/><stop offset="0.7327" stop-color="#fff" stop-opacity="0.6622"/><stop offset="0.7351" stop-color="#fff" stop-opacity="0.6784"/><stop offset="0.7375" stop-color="#fff" stop-opacity="0.6865"/><stop offset="0.7399" stop-color="#fff" stop-opacity="0.6863"/><stop offset="0.7422" stop-color="#fff" stop-opacity="0.6772"/><stop offset="0.7446" stop-color="#fff" stop-opacity="0.6590"/><stop offset="0.7470" stop-color="#fff" stop-opacity="0.6321"/><stop offset="0.7494" stop-color="#fff" stop-opacity="0.5968"/><stop offset="0.7518" stop-color="#fff" stop-opacity="0.5535"/><stop offset="0.7542" stop-color="#fff" stop-opacity="0.5028"/><stop offset="0.7566" stop-color="#fff" stop-opacity="0.4455"/><stop offset="0.7589" stop-color="#fff" stop-opacity="0.3823"/><stop offset="0.7613" stop-color="#fff" stop-opacity="0.3139"/><stop offset="0.7661" stop-color="#fff" stop-opacity="0.1657"/><stop offset="0.7709" stop-color="#fff" stop-opacity="0.0087"/><stop offset="0.7733" stop-color="#fff" stop-opacity="0.0000"/><stop offset="0.8353" stop-color="#fff" stop-opacity="0.0000"/><stop offset="0.8377" stop-color="#fff" stop-opacity="0.0343"/><stop offset="0.8425" stop-color="#fff" stop-opacity="0.1879"/><stop offset="0.8473" stop-color="#fff" stop-opacity="0.3319"/><stop offset="0.8496" stop-color="#fff" stop-opacity="0.3980"/><stop offset="0.8520" stop-color="#fff" stop-opacity="0.4589"/><stop offset="0.8544" stop-color="#fff" stop-opacity="0.5139"/><stop offset="0.8568" stop-color="#fff" stop-opacity="0.5623"/><stop offset="0.8592" stop-color="#fff" stop-opacity="0.6035"/><stop offset="0.8616" stop-color="#fff" stop-opacity="0.6369"/><stop offset="0.8640" stop-color="#fff" stop-opacity="0.6621"/><stop offset="0.8663" stop-color="#fff" stop-opacity="0.6788"/><stop offset="0.8687" stop-color="#fff" stop-opacity="0.6868"/><stop offset="0.8711" stop-color="#fff" stop-opacity="0.6859"/><stop offset="0.8735" stop-color="#fff" stop-opacity="0.6764"/><stop offset="0.8759" stop-color="#fff" stop-opacity="0.6584"/><stop offset="0.8783" stop-color="#fff" stop-opacity="0.6321"/><stop offset="0.8807" stop-color="#fff" stop-opacity="0.5979"/><stop offset="0.8831" stop-color="#fff" stop-opacity="0.5561"/><stop offset="0.8854" stop-color="#fff" stop-opacity="0.5073"/><stop offset="0.8878" stop-color="#fff" stop-opacity="0.4521"/><stop offset="0.8902" stop-color="#fff" stop-opacity="0.3913"/><stop offset="0.8926" stop-color="#fff" stop-opacity="0.3255"/><stop offset="0.8974" stop-color="#fff" stop-opacity="0.1825"/><stop offset="0.9021" stop-color="#fff" stop-opacity="0.0303"/><stop offset="0.9045" stop-color="#fff" stop-opacity="0.0000"/><stop offset="0.9690" stop-color="#fff" stop-opacity="0.0000"/><stop offset="0.9714" stop-color="#fff" stop-opacity="0.0573"/><stop offset="0.9761" stop-color="#fff" stop-opacity="0.2096"/><stop offset="0.9809" stop-color="#fff" stop-opacity="0.3512"/><stop offset="0.9833" stop-color="#fff" stop-opacity="0.4157"/><stop offset="0.9857" stop-color="#fff" stop-opacity="0.4749"/><stop offset="0.9881" stop-color="#fff" stop-opacity="0.5280"/><stop offset="0.9905" stop-color="#fff" stop-opacity="0.5744"/><stop offset="0.9928" stop-color="#fff" stop-opacity="0.6134"/><stop offset="0.9952" stop-color="#fff" stop-opacity="0.6445"/><stop offset="0.9976" stop-color="#fff" stop-opacity="0.6674"/><stop offset="1.0000" stop-color="#fff" stop-opacity="0.6818"/></linearGradient><mask id="ag1nm" maskUnits="userSpaceOnUse" x="67.50" y="45.50" width="551.00" height="552.00"><rect x="67.50" y="45.50" width="551.00" height="552.00" fill="url(#ag1na)"/></mask><filter id="af" filterUnits="userSpaceOnUse" x="67.50" y="45.50" width="551.00" height="552.00" color-interpolation-filters="sRGB"><feComponentTransfer><feFuncR type="table" tableValues="0.3294 0.3294 0.3294 0.3294 0.3294 0.3294 0.3294 0.3294 0.3294 0.3294 0.3294 0.3294 0.3294 0.3294 0.3294 0.3294 0.3302 0.3361 0.3427 0.3538 0.3649 0.3759 0.3870 0.3981 0.4091 0.4202 0.4313 0.4423 0.4542 0.4688 0.4834 0.4981 0.5127 0.5273 0.5419 0.5565 0.5712 0.5858 0.6016 0.6202 0.6387 0.6573 0.6759 0.6945 0.7131 0.7316 0.7502 0.7688 0.7887 0.8108 0.8330 0.8551 0.8772 0.8994 0.9215 0.9436 0.9658 0.9879 0.9989 0.9966 0.9942 0.9918 0.9894 0.9871 0.9847 0.9823 0.9800 0.9776 0.9750 0.9722 0.9695 0.9667 0.9639 0.9612 0.9584 0.9556 0.9529 0.9501 0.9478 0.9458 0.9439 0.9419 0.9399 0.9379 0.9360 0.9340 0.9320 0.9300 0.9275 0.9247 0.9220 0.9192 0.9164 0.9137 0.9109 0.9081 0.9054 0.9026 0.9001 0.8978 0.8954 0.8930 0.8907 0.8883 0.8859 0.8835 0.8812 0.8788 0.8771 0.8755 0.8739 0.8724 0.8708 0.8692 0.8676 0.8660 0.8644 0.8629 0.8613 0.8597 0.8581 0.8565 0.8550 0.8549 0.8549 0.8549 0.8549 0.8549"/><feFuncG type="table" tableValues="0.4549 0.4549 0.4549 0.4549 0.4549 0.4549 0.4549 0.4549 0.4549 0.4549 0.4549 0.4549 0.4549 0.4549 0.4549 0.4549 0.4561 0.4660 0.4761 0.4876 0.4990 0.5105 0.5220 0.5334 0.5449 0.5564 0.5678 0.5793 0.5913 0.6051 0.6189 0.6328 0.6466 0.6604 0.6743 0.6881 0.7019 0.7158 0.7294 0.7424 0.7554 0.7685 0.7815 0.7946 0.8076 0.8207 0.8337 0.8468 0.8604 0.8750 0.8896 0.9043 0.9189 0.9335 0.9481 0.9628 0.9774 0.9920 0.9959 0.9868 0.9777 0.9686 0.9595 0.9504 0.9413 0.9322 0.9232 0.9141 0.9060 0.8989 0.8918 0.8847 0.8776 0.8705 0.8633 0.8562 0.8491 0.8420 0.8339 0.8252 0.8165 0.8078 0.7991 0.7904 0.7817 0.7730 0.7644 0.7557 0.7470 0.7383 0.7296 0.7209 0.7122 0.7035 0.6948 0.6861 0.6774 0.6687 0.6612 0.6541 0.6470 0.6399 0.6328 0.6256 0.6185 0.6114 0.6043 0.5972 0.5894 0.5815 0.5736 0.5657 0.5578 0.5499 0.5420 0.5341 0.5262 0.5183 0.5118 0.5055 0.4992 0.4928 0.4865 0.4863 0.4863 0.4863 0.4863 0.4863"/><feFuncB type="table" tableValues="0.7137 0.7137 0.7137 0.7137 0.7137 0.7137 0.7137 0.7137 0.7137 0.7137 0.7137 0.7137 0.7137 0.7137 0.7137 0.7137 0.7145 0.7204 0.7267 0.7354 0.7441 0.7528 0.7615 0.7702 0.7789 0.7876 0.7963 0.8050 0.8134 0.8209 0.8284 0.8359 0.8434 0.8510 0.8585 0.8660 0.8735 0.8810 0.8880 0.8940 0.8999 0.9058 0.9117 0.9177 0.9236 0.9295 0.9355 0.9414 0.9472 0.9527 0.9582 0.9638 0.9693 0.9748 0.9804 0.9859 0.9914 0.9970 0.9927 0.9765 0.9602 0.9440 0.9278 0.9116 0.8954 0.8792 0.8630 0.8468 0.8308 0.8150 0.7992 0.7834 0.7676 0.7518 0.7360 0.7201 0.7043 0.6885 0.6730 0.6575 0.6421 0.6267 0.6113 0.5959 0.5805 0.5651 0.5496 0.5342 0.5194 0.5047 0.4901 0.4755 0.4609 0.4462 0.4316 0.4170 0.4024 0.3877 0.3752 0.3634 0.3515 0.3397 0.3278 0.3159 0.3041 0.2922 0.2804 0.2685 0.2600 0.2521 0.2442 0.2363 0.2284 0.2205 0.2126 0.2047 0.1968 0.1889 0.1839 0.1791 0.1744 0.1696 0.1649 0.1647 0.1647 0.1647 0.1647 0.1647"/></feComponentTransfer></filter><clipPath id="ac"><rect x="67.50" y="45.50" width="551.00" height="552.00"/></clipPath><linearGradient id="bb" gradientUnits="userSpaceOnUse" x1="737.50" y1="0" x2="1288.50" y2="0"><stop offset="0.0000" stop-color="#cfcfcf"/><stop offset="0.0000" stop-color="#cecece"/><stop offset="0.0000" stop-color="#cecece"/><stop offset="0.0000" stop-color="#cbcbcb"/><stop offset="0.0086" stop-color="#cbcbcb"/><stop offset="0.0086" stop-color="#c4c4c4"/><stop offset="0.0182" stop-color="#c4c4c4"/><stop offset="0.0182" stop-color="#bbbbbb"/><stop offset="0.0277" stop-color="#bbbbbb"/><stop offset="0.0277" stop-color="#afafaf"/><stop offset="0.0373" stop-color="#afafaf"/><stop offset="0.0373" stop-color="#9f9f9f"/><stop offset="0.0468" stop-color="#9f9f9f"/><stop offset="0.0468" stop-color="#8d8d8d"/><stop offset="0.0564" stop-color="#8d8d8d"/><stop offset="0.0564" stop-color="#7e7e7e"/><stop offset="0.0659" stop-color="#7e7e7e"/><stop offset="0.0659" stop-color="#707070"/><stop offset="0.0755" stop-color="#707070"/><stop offset="0.0755" stop-color="#606060"/><stop offset="0.0850" stop-color="#606060"/><stop offset="0.0850" stop-color="#4f4f4f"/><stop offset="0.0946" stop-color="#4f4f4f"/><stop offset="0.0946" stop-color="#3e3e3e"/><stop offset="0.1041" stop-color="#3e3e3e"/><stop offset="0.1041" stop-color="#313131"/><stop offset="0.1137" stop-color="#313131"/><stop offset="0.1137" stop-color="#262626"/><stop offset="0.1232" stop-color="#262626"/><stop offset="0.1232" stop-color="#1d1d1d"/><stop offset="0.1328" stop-color="#1d1d1d"/><stop offset="0.1328" stop-color="#171717"/><stop offset="0.1423" stop-color="#171717"/><stop offset="0.1423" stop-color="#141414"/><stop offset="0.1519" stop-color="#141414"/><stop offset="0.1519" stop-color="#121212"/><stop offset="0.1614" stop-color="#121212"/><stop offset="0.1614" stop-color="#131313"/><stop offset="0.1710" stop-color="#131313"/><stop offset="0.1710" stop-color="#161616"/><stop offset="0.1805" stop-color="#161616"/><stop offset="0.1805" stop-color="#1b1b1b"/><stop offset="0.1901" stop-color="#1b1b1b"/><stop offset="0.1901" stop-color="#282828"/><stop offset="0.1996" stop-color="#282828"/><stop offset="0.1996" stop-color="#393939"/><stop offset="0.2092" stop-color="#393939"/><stop offset="0.2092" stop-color="#4a4a4a"/><stop offset="0.2187" stop-color="#4a4a4a"/><stop offset="0.2187" stop-color="#5d5d5d"/><stop offset="0.2283" stop-color="#5d5d5d"/><stop offset="0.2283" stop-color="#6f6f6f"/><stop offset="0.2378" stop-color="#6f6f6f"/><stop offset="0.2378" stop-color="#7f7f7f"/><stop offset="0.2474" stop-color="#7f7f7f"/><stop offset="0.2474" stop-color="#8d8d8d"/><stop offset="0.2569" stop-color="#8d8d8d"/><stop offset="0.2569" stop-color="#9a9a9a"/><stop offset="0.2665" stop-color="#9a9a9a"/><stop offset="0.2665" stop-color="#a7a7a7"/><stop offset="0.2760" stop-color="#a7a7a7"/><stop offset="0.2760" stop-color="#b3b3b3"/><stop offset="0.2856" stop-color="#b3b3b3"/><stop offset="0.2856" stop-color="#bfbfbf"/><stop offset="0.2951" stop-color="#bfbfbf"/><stop offset="0.2951" stop-color="#c8c8c8"/><stop offset="0.3047" stop-color="#c8c8c8"/><stop offset="0.3047" stop-color="#d1d1d1"/><stop offset="0.3142" stop-color="#d1d1d1"/><stop offset="0.3142" stop-color="#d9d9d9"/><stop offset="0.3238" stop-color="#d9d9d9"/><stop offset="0.3238" stop-color="#dbdbdb"/><stop offset="0.3333" stop-color="#dbdbdb"/><stop offset="0.3333" stop-color="#d8d8d8"/><stop offset="0.3429" stop-color="#d8d8d8"/><stop offset="0.3429" stop-color="#d0d0d0"/><stop offset="0.3524" stop-color="#d0d0d0"/><stop offset="0.3524" stop-color="#c7c7c7"/><stop offset="0.3620" stop-color="#c7c7c7"/><stop offset="0.3620" stop-color="#bcbcbc"/><stop offset="0.3715" stop-color="#bcbcbc"/><stop offset="0.3715" stop-color="#adadad"/><stop offset="0.3811" stop-color="#adadad"/><stop offset="0.3811" stop-color="#9c9c9c"/><stop offset="0.3906" stop-color="#9c9c9c"/><stop offset="0.3906" stop-color="#8b8b8b"/><stop offset="0.4002" stop-color="#8b8b8b"/><stop offset="0.4002" stop-color="#787878"/><stop offset="0.4097" stop-color="#787878"/><stop offset="0.4097" stop-color="#666666"/><stop offset="0.4193" stop-color="#666666"/><stop offset="0.4193" stop-color="#555555"/><stop offset="0.4288" stop-color="#555555"/><stop offset="0.4288" stop-color="#454545"/><stop offset="0.4384" stop-color="#454545"/><stop offset="0.4384" stop-color="#373737"/><stop offset="0.4479" stop-color="#373737"/><stop offset="0.4479" stop-color="#2b2b2b"/><stop offset="0.4575" stop-color="#2b2b2b"/><stop offset="0.4575" stop-color="#202020"/><stop offset="0.4670" stop-color="#202020"/><stop offset="0.4670" stop-color="#1a1a1a"/><stop offset="0.4766" stop-color="#1a1a1a"/><stop offset="0.4766" stop-color="#161616"/><stop offset="0.4862" stop-color="#161616"/><stop offset="0.4862" stop-color="#141414"/><stop offset="0.4957" stop-color="#141414"/><stop offset="0.4957" stop-color="#171717"/><stop offset="0.5053" stop-color="#171717"/><stop offset="0.5053" stop-color="#1d1d1d"/><stop offset="0.5148" stop-color="#1d1d1d"/><stop offset="0.5148" stop-color="#262626"/><stop offset="0.5244" stop-color="#262626"/><stop offset="0.5244" stop-color="#303030"/><stop offset="0.5339" stop-color="#303030"/><stop offset="0.5339" stop-color="#3d3d3d"/><stop offset="0.5435" stop-color="#3d3d3d"/><stop offset="0.5435" stop-color="#4b4b4b"/><stop offset="0.5530" stop-color="#4b4b4b"/><stop offset="0.5530" stop-color="#555555"/><stop offset="0.5626" stop-color="#555555"/><stop offset="0.5626" stop-color="#5f5f5f"/><stop offset="0.5721" stop-color="#5f5f5f"/><stop offset="0.5721" stop-color="#707070"/><stop offset="0.5817" stop-color="#707070"/><stop offset="0.5817" stop-color="#818181"/><stop offset="0.5912" stop-color="#818181"/><stop offset="0.5912" stop-color="#919191"/><stop offset="0.6008" stop-color="#919191"/><stop offset="0.6008" stop-color="#a2a2a2"/><stop offset="0.6103" stop-color="#a2a2a2"/><stop offset="0.6103" stop-color="#b3b3b3"/><stop offset="0.6199" stop-color="#b3b3b3"/><stop offset="0.6199" stop-color="#c3c3c3"/><stop offset="0.6294" stop-color="#c3c3c3"/><stop offset="0.6294" stop-color="#cfcfcf"/><stop offset="0.6390" stop-color="#cfcfcf"/><stop offset="0.6390" stop-color="#d7d7d7"/><stop offset="0.6485" stop-color="#d7d7d7"/><stop offset="0.6485" stop-color="#d7d7d7"/><stop offset="0.6581" stop-color="#d7d7d7"/><stop offset="0.6581" stop-color="#cfcfcf"/><stop offset="0.6676" stop-color="#cfcfcf"/><stop offset="0.6676" stop-color="#c3c3c3"/><stop offset="0.6772" stop-color="#c3c3c3"/><stop offset="0.6772" stop-color="#b3b3b3"/><stop offset="0.6867" stop-color="#b3b3b3"/><stop offset="0.6867" stop-color="#9f9f9f"/><stop offset="0.6963" stop-color="#9f9f9f"/><stop offset="0.6963" stop-color="#818181"/><stop offset="0.7058" stop-color="#818181"/><stop offset="0.7058" stop-color="#686868"/><stop offset="0.7154" stop-color="#686868"/><stop offset="0.7154" stop-color="#585858"/><stop offset="0.7249" stop-color="#585858"/><stop offset="0.7249" stop-color="#4c4c4c"/><stop offset="0.7345" stop-color="#4c4c4c"/><stop offset="0.7345" stop-color="#444444"/><stop offset="0.7440" stop-color="#444444"/><stop offset="0.7440" stop-color="#3c3c3c"/><stop offset="0.7536" stop-color="#3c3c3c"/><stop offset="0.7536" stop-color="#373737"/><stop offset="0.7631" stop-color="#373737"/><stop offset="0.7631" stop-color="#323232"/><stop offset="0.7727" stop-color="#323232"/><stop offset="0.7727" stop-color="#2d2d2d"/><stop offset="0.7822" stop-color="#2d2d2d"/><stop offset="0.7822" stop-color="#2b2b2b"/><stop offset="0.7918" stop-color="#2b2b2b"/><stop offset="0.7918" stop-color="#2f2f2f"/><stop offset="0.8013" stop-color="#2f2f2f"/><stop offset="0.8013" stop-color="#343434"/><stop offset="0.8109" stop-color="#343434"/><stop offset="0.8109" stop-color="#303030"/><stop offset="0.8204" stop-color="#303030"/><stop offset="0.8204" stop-color="#2c2c2c"/><stop offset="0.8300" stop-color="#2c2c2c"/><stop offset="0.8300" stop-color="#2d2d2d"/><stop offset="0.8395" stop-color="#2d2d2d"/><stop offset="0.8395" stop-color="#2f2f2f"/><stop offset="0.8491" stop-color="#2f2f2f"/><stop offset="0.8491" stop-color="#313131"/><stop offset="0.8586" stop-color="#313131"/><stop offset="0.8586" stop-color="#343434"/><stop offset="0.8682" stop-color="#343434"/><stop offset="0.8682" stop-color="#3a3a3a"/><stop offset="0.8777" stop-color="#3a3a3a"/><stop offset="0.8777" stop-color="#424242"/><stop offset="0.8873" stop-color="#424242"/><stop offset="0.8873" stop-color="#4a4a4a"/><stop offset="0.8968" stop-color="#4a4a4a"/><stop offset="0.8968" stop-color="#555555"/><stop offset="0.9064" stop-color="#555555"/><stop offset="0.9064" stop-color="#616161"/><stop offset="0.9159" stop-color="#616161"/><stop offset="0.9159" stop-color="#6e6e6e"/><stop offset="0.9255" stop-color="#6e6e6e"/><stop offset="0.9255" stop-color="#7e7e7e"/><stop offset="0.9350" stop-color="#7e7e7e"/><stop offset="0.9350" stop-color="#939393"/><stop offset="0.9446" stop-color="#939393"/><stop offset="0.9446" stop-color="#a8a8a8"/><stop offset="0.9541" stop-color="#a8a8a8"/><stop offset="0.9541" stop-color="#b9b9b9"/><stop offset="0.9637" stop-color="#b9b9b9"/><stop offset="0.9637" stop-color="#bebebe"/><stop offset="0.9732" stop-color="#bebebe"/><stop offset="0.9732" stop-color="#c2c2c2"/><stop offset="0.9828" stop-color="#c2c2c2"/><stop offset="0.9828" stop-color="#c5c5c5"/><stop offset="0.9923" stop-color="#c5c5c5"/><stop offset="0.9923" stop-color="#c7c7c7"/><stop offset="1.0000" stop-color="#c7c7c7"/><stop offset="1.0000" stop-color="#c8c8c8"/><stop offset="1.0000" stop-color="#c8c8c8"/><stop offset="1.0000" stop-color="#c9c9c9"/></linearGradient><linearGradient id="bg0p" gradientUnits="userSpaceOnUse" x1="0" y1="45.50" x2="0" y2="597.50"><stop offset="0.0000" stop-color="#666666"/><stop offset="0.0000" stop-color="#666666"/><stop offset="0.0000" stop-color="#525252"/><stop offset="0.0039" stop-color="#525252"/><stop offset="0.0039" stop-color="#3f3f3f"/><stop offset="0.0135" stop-color="#3f3f3f"/><stop offset="0.0135" stop-color="#2e2e2e"/><stop offset="0.0230" stop-color="#2e2e2e"/><stop offset="0.0230" stop-color="#1f1f1f"/><stop offset="0.0325" stop-color="#1f1f1f"/><stop offset="0.0325" stop-color="#121212"/><stop offset="0.0420" stop-color="#121212"/><stop offset="0.0420" stop-color="#090909"/><stop offset="0.0516" stop-color="#090909"/><stop offset="0.0516" stop-color="#030303"/><stop offset="0.0611" stop-color="#030303"/><stop offset="0.0611" stop-color="#000000"/><stop offset="0.0706" stop-color="#000000"/><stop offset="0.0706" stop-color="#010101"/><stop offset="0.0801" stop-color="#010101"/><stop offset="0.0801" stop-color="#050505"/><stop offset="0.0897" stop-color="#050505"/><stop offset="0.0897" stop-color="#0c0c0c"/><stop offset="0.0992" stop-color="#0c0c0c"/><stop offset="0.0992" stop-color="#171717"/><stop offset="0.1087" stop-color="#171717"/><stop offset="0.1087" stop-color="#242424"/><stop offset="0.1182" stop-color="#242424"/><stop offset="0.1182" stop-color="#343434"/><stop offset="0.1278" stop-color="#343434"/><stop offset="0.1278" stop-color="#464646"/><stop offset="0.1373" stop-color="#464646"/><stop offset="0.1373" stop-color="#595959"/><stop offset="0.1468" stop-color="#595959"/><stop offset="0.1468" stop-color="#6d6d6d"/><stop offset="0.1563" stop-color="#6d6d6d"/><stop offset="0.1563" stop-color="#828282"/><stop offset="0.1658" stop-color="#828282"/><stop offset="0.1658" stop-color="#979797"/><stop offset="0.1754" stop-color="#979797"/><stop offset="0.1754" stop-color="#ababab"/><stop offset="0.1849" stop-color="#ababab"/><stop offset="0.1849" stop-color="#bebebe"/><stop offset="0.1944" stop-color="#bebebe"/><stop offset="0.1944" stop-color="#d0d0d0"/><stop offset="0.2039" stop-color="#d0d0d0"/><stop offset="0.2039" stop-color="#dfdfdf"/><stop offset="0.2135" stop-color="#dfdfdf"/><stop offset="0.2135" stop-color="#ebebeb"/><stop offset="0.2230" stop-color="#ebebeb"/><stop offset="0.2230" stop-color="#f5f5f5"/><stop offset="0.2325" stop-color="#f5f5f5"/><stop offset="0.2325" stop-color="#fbfbfb"/><stop offset="0.2420" stop-color="#fbfbfb"/><stop offset="0.2420" stop-color="#ffffff"/><stop offset="0.2516" stop-color="#ffffff"/><stop offset="0.2516" stop-color="#fefefe"/><stop offset="0.2611" stop-color="#fefefe"/><stop offset="0.2611" stop-color="#fbfbfb"/><stop offset="0.2706" stop-color="#fbfbfb"/><stop offset="0.2706" stop-color="#f4f4f4"/><stop offset="0.2801" stop-color="#f4f4f4"/><stop offset="0.2801" stop-color="#eaeaea"/><stop offset="0.2897" stop-color="#eaeaea"/><stop offset="0.2897" stop-color="#dddddd"/><stop offset="0.2992" stop-color="#dddddd"/><stop offset="0.2992" stop-color="#cdcdcd"/><stop offset="0.3087" stop-color="#cdcdcd"/><stop offset="0.3087" stop-color="#bcbcbc"/><stop offset="0.3182" stop-color="#bcbcbc"/><stop offset="0.3182" stop-color="#a8a8a8"/><stop offset="0.3278" stop-color="#a8a8a8"/><stop offset="0.3278" stop-color="#949494"/><stop offset="0.3373" stop-color="#949494"/><stop offset="0.3373" stop-color="#7f7f7f"/><stop offset="0.3468" stop-color="#7f7f7f"/><stop offset="0.3468" stop-color="#6a6a6a"/><stop offset="0.3563" stop-color="#6a6a6a"/><stop offset="0.3563" stop-color="#565656"/><stop offset="0.3659" stop-color="#565656"/><stop offset="0.3659" stop-color="#434343"/><stop offset="0.3754" stop-color="#434343"/><stop offset="0.3754" stop-color="#313131"/><stop offset="0.3849" stop-color="#313131"/><stop offset="0.3849" stop-color="#222222"/><stop offset="0.3944" stop-color="#222222"/><stop offset="0.3944" stop-color="#151515"/><stop offset="0.4040" stop-color="#151515"/><stop offset="0.4040" stop-color="#0b0b0b"/><stop offset="0.4135" stop-color="#0b0b0b"/><stop offset="0.4135" stop-color="#040404"/><stop offset="0.4230" stop-color="#040404"/><stop offset="0.4230" stop-color="#010101"/><stop offset="0.4325" stop-color="#010101"/><stop offset="0.4325" stop-color="#000000"/><stop offset="0.4421" stop-color="#000000"/><stop offset="0.4421" stop-color="#040404"/><stop offset="0.4516" stop-color="#040404"/><stop offset="0.4516" stop-color="#0a0a0a"/><stop offset="0.4611" stop-color="#0a0a0a"/><stop offset="0.4611" stop-color="#141414"/><stop offset="0.4706" stop-color="#141414"/><stop offset="0.4706" stop-color="#212121"/><stop offset="0.4802" stop-color="#212121"/><stop offset="0.4802" stop-color="#303030"/><stop offset="0.4897" stop-color="#303030"/><stop offset="0.4897" stop-color="#414141"/><stop offset="0.4992" stop-color="#414141"/><stop offset="0.4992" stop-color="#545454"/><stop offset="0.5087" stop-color="#545454"/><stop offset="0.5087" stop-color="#696969"/><stop offset="0.5183" stop-color="#696969"/><stop offset="0.5183" stop-color="#7d7d7d"/><stop offset="0.5278" stop-color="#7d7d7d"/><stop offset="0.5278" stop-color="#929292"/><stop offset="0.5373" stop-color="#929292"/><stop offset="0.5373" stop-color="#a7a7a7"/><stop offset="0.5468" stop-color="#a7a7a7"/><stop offset="0.5468" stop-color="#bababa"/><stop offset="0.5564" stop-color="#bababa"/><stop offset="0.5564" stop-color="#cccccc"/><stop offset="0.5659" stop-color="#cccccc"/><stop offset="0.5659" stop-color="#dbdbdb"/><stop offset="0.5754" stop-color="#dbdbdb"/><stop offset="0.5754" stop-color="#e9e9e9"/><stop offset="0.5849" stop-color="#e9e9e9"/><stop offset="0.5849" stop-color="#f3f3f3"/><stop offset="0.5944" stop-color="#f3f3f3"/><stop offset="0.5944" stop-color="#fafafa"/><stop offset="0.6040" stop-color="#fafafa"/><stop offset="0.6040" stop-color="#fefefe"/><stop offset="0.6135" stop-color="#fefefe"/><stop offset="0.6135" stop-color="#ffffff"/><stop offset="0.6230" stop-color="#ffffff"/><stop offset="0.6230" stop-color="#fcfcfc"/><stop offset="0.6325" stop-color="#fcfcfc"/><stop offset="0.6325" stop-color="#f6f6f6"/><stop offset="0.6421" stop-color="#f6f6f6"/><stop offset="0.6421" stop-color="#ececec"/><stop offset="0.6516" stop-color="#ececec"/><stop offset="0.6516" stop-color="#e0e0e0"/><stop offset="0.6611" stop-color="#e0e0e0"/><stop offset="0.6611" stop-color="#d1d1d1"/><stop offset="0.6706" stop-color="#d1d1d1"/><stop offset="0.6706" stop-color="#c0c0c0"/><stop offset="0.6802" stop-color="#c0c0c0"/><stop offset="0.6802" stop-color="#adadad"/><stop offset="0.6897" stop-color="#adadad"/><stop offset="0.6897" stop-color="#999999"/><stop offset="0.6992" stop-color="#999999"/><stop offset="0.6992" stop-color="#848484"/><stop offset="0.7087" stop-color="#848484"/><stop offset="0.7087" stop-color="#6f6f6f"/><stop offset="0.7183" stop-color="#6f6f6f"/><stop offset="0.7183" stop-color="#5b5b5b"/><stop offset="0.7278" stop-color="#5b5b5b"/><stop offset="0.7278" stop-color="#474747"/><stop offset="0.7373" stop-color="#474747"/><stop offset="0.7373" stop-color="#353535"/><stop offset="0.7468" stop-color="#353535"/><stop offset="0.7468" stop-color="#252525"/><stop offset="0.7564" stop-color="#252525"/><stop offset="0.7564" stop-color="#181818"/><stop offset="0.7659" stop-color="#181818"/><stop offset="0.7659" stop-color="#0d0d0d"/><stop offset="0.7754" stop-color="#0d0d0d"/><stop offset="0.7754" stop-color="#050505"/><stop offset="0.7849" stop-color="#050505"/><stop offset="0.7849" stop-color="#010101"/><stop offset="0.7945" stop-color="#010101"/><stop offset="0.7945" stop-color="#000000"/><stop offset="0.8040" stop-color="#000000"/><stop offset="0.8040" stop-color="#030303"/><stop offset="0.8135" stop-color="#030303"/><stop offset="0.8135" stop-color="#080808"/><stop offset="0.8230" stop-color="#080808"/><stop offset="0.8230" stop-color="#111111"/><stop offset="0.8326" stop-color="#111111"/><stop offset="0.8326" stop-color="#1d1d1d"/><stop offset="0.8421" stop-color="#1d1d1d"/><stop offset="0.8421" stop-color="#2c2c2c"/><stop offset="0.8516" stop-color="#2c2c2c"/><stop offset="0.8516" stop-color="#3d3d3d"/><stop offset="0.8611" stop-color="#3d3d3d"/><stop offset="0.8611" stop-color="#505050"/><stop offset="0.8707" stop-color="#505050"/><stop offset="0.8707" stop-color="#646464"/><stop offset="0.8802" stop-color="#646464"/><stop offset="0.8802" stop-color="#787878"/><stop offset="0.8897" stop-color="#787878"/><stop offset="0.8897" stop-color="#8d8d8d"/><stop offset="0.8992" stop-color="#8d8d8d"/><stop offset="0.8992" stop-color="#a2a2a2"/><stop offset="0.9088" stop-color="#a2a2a2"/><stop offset="0.9088" stop-color="#b6b6b6"/><stop offset="0.9183" stop-color="#b6b6b6"/><stop offset="0.9183" stop-color="#c8c8c8"/><stop offset="0.9278" stop-color="#c8c8c8"/><stop offset="0.9278" stop-color="#d8d8d8"/><stop offset="0.9373" stop-color="#d8d8d8"/><stop offset="0.9373" stop-color="#e6e6e6"/><stop offset="0.9469" stop-color="#e6e6e6"/><stop offset="0.9469" stop-color="#f1f1f1"/><stop offset="0.9564" stop-color="#f1f1f1"/><stop offset="0.9564" stop-color="#f9f9f9"/><stop offset="0.9659" stop-color="#f9f9f9"/><stop offset="0.9659" stop-color="#fefefe"/><stop offset="0.9754" stop-color="#fefefe"/><stop offset="0.9754" stop-color="#ffffff"/><stop offset="0.9850" stop-color="#ffffff"/><stop offset="0.9850" stop-color="#fdfdfd"/><stop offset="0.9945" stop-color="#fdfdfd"/><stop offset="0.9945" stop-color="#f7f7f7"/><stop offset="1.0000" stop-color="#f7f7f7"/><stop offset="1.0000" stop-color="#efefef"/><stop offset="1.0000" stop-color="#efefef"/><stop offset="1.0000" stop-color="#e3e3e3"/></linearGradient><linearGradient id="bg0pa" gradientUnits="userSpaceOnUse" x1="737.50" y1="0" x2="1288.50" y2="0"><stop offset="0.0000" stop-color="#fff" stop-opacity="0.0000"/><stop offset="0.0000" stop-color="#fff" stop-opacity="0.0000"/><stop offset="0.0000" stop-color="#fff" stop-opacity="0.0000"/><stop offset="0.0000" stop-color="#fff" stop-opacity="0.0000"/><stop offset="0.0086" stop-color="#fff" stop-opacity="0.0000"/><stop offset="0.0086" stop-color="#fff" stop-opacity="0.0000"/><stop offset="0.0182" stop-color="#fff" stop-opacity="0.0000"/><stop offset="0.0182" stop-color="#fff" stop-opacity="0.0000"/><stop offset="0.0277" stop-color="#fff" stop-opacity="0.0000"/><stop offset="0.0277" stop-color="#fff" stop-opacity="0.0000"/><stop offset="0.0373" stop-color="#fff" stop-opacity="0.0000"/><stop offset="0.0373" stop-color="#fff" stop-opacity="0.0000"/><stop offset="0.0468" stop-color="#fff" stop-opacity="0.0000"/><stop offset="0.0468" stop-color="#fff" stop-opacity="0.0000"/><stop offset="0.0564" stop-color="#fff" stop-opacity="0.0000"/><stop offset="0.0564" stop-color="#fff" stop-opacity="0.0000"/><stop offset="0.0659" stop-color="#fff" stop-opacity="0.0000"/><stop offset="0.0659" stop-color="#fff" stop-opacity="0.0000"/><stop offset="0.0755" stop-color="#fff" stop-opacity="0.0000"/><stop offset="0.0755" stop-color="#fff" stop-opacity="0.0000"/><stop offset="0.0850" stop-color="#fff" stop-opacity="0.0000"/><stop offset="0.0850" stop-color="#fff" stop-opacity="0.0000"/><stop offset="0.0946" stop-color="#fff" stop-opacity="0.0000"/><stop offset="0.0946" stop-color="#fff" stop-opacity="0.0000"/><stop offset="0.1041" stop-color="#fff" stop-opacity="0.0000"/><stop offset="0.1041" stop-color="#fff" stop-opacity="0.0000"/><stop offset="0.1137" stop-color="#fff" stop-opacity="0.0000"/><stop offset="0.1137" stop-color="#fff" stop-opacity="0.0000"/><stop offset="0.1232" stop-color="#fff" stop-opacity="0.0000"/><stop offset="0.1232" stop-color="#fff" stop-opacity="0.0000"/><stop offset="0.1328" stop-color="#fff" stop-opacity="0.0000"/><stop offset="0.1328" stop-color="#fff" stop-opacity="0.0000"/><stop offset="0.1423" stop-color="#fff" stop-opacity="0.0000"/><stop offset="0.1423" stop-color="#fff" stop-opacity="0.0000"/><stop offset="0.1519" stop-color="#fff" stop-opacity="0.0000"/><stop offset="0.1519" stop-color="#fff" stop-opacity="0.0000"/><stop offset="0.1614" stop-color="#fff" stop-opacity="0.0000"/><stop offset="0.1614" stop-color="#fff" stop-opacity="0.0000"/><stop offset="0.1710" stop-color="#fff" stop-opacity="0.0000"/><stop offset="0.1710" stop-color="#fff" stop-opacity="0.0000"/><stop offset="0.1805" stop-color="#fff" stop-opacity="0.0000"/><stop offset="0.1805" stop-color="#fff" stop-opacity="0.0000"/><stop offset="0.1901" stop-color="#fff" stop-opacity="0.0000"/><stop offset="0.1901" stop-color="#fff" stop-opacity="0.0000"/><stop offset="0.1996" stop-color="#fff" stop-opacity="0.0000"/><stop offset="0.1996" stop-color="#fff" stop-opacity="0.0000"/><stop offset="0.2092" stop-color="#fff" stop-opacity="0.0000"/><stop offset="0.2092" stop-color="#fff" stop-opacity="0.0000"/><stop offset="0.2187" stop-color="#fff" stop-opacity="0.0000"/><stop offset="0.2187" stop-color="#fff" stop-opacity="0.0000"/><stop offset="0.2283" stop-color="#fff" stop-opacity="0.0000"/><stop offset="0.2283" stop-color="#fff" stop-opacity="0.0000"/><stop offset="0.2378" stop-color="#fff" stop-opacity="0.0000"/><stop offset="0.2378" stop-color="#fff" stop-opacity="0.0000"/><stop offset="0.2474" stop-color="#fff" stop-opacity="0.0000"/><stop offset="0.2474" stop-color="#fff" stop-opacity="0.0000"/><stop offset="0.2569" stop-color="#fff" stop-opacity="0.0000"/><stop offset="0.2569" stop-color="#fff" stop-opacity="0.0000"/><stop offset="0.2665" stop-color="#fff" stop-opacity="0.0000"/><stop offset="0.2665" stop-color="#fff" stop-opacity="0.0000"/><stop offset="0.2760" stop-color="#fff" stop-opacity="0.0000"/><stop offset="0.2760" stop-color="#fff" stop-opacity="0.0000"/><stop offset="0.2856" stop-color="#fff" stop-opacity="0.0000"/><stop offset="0.2856" stop-color="#fff" stop-opacity="0.0000"/><stop offset="0.2951" stop-color="#fff" stop-opacity="0.0000"/><stop offset="0.2951" stop-color="#fff" stop-opacity="0.0000"/><stop offset="0.3047" stop-color="#fff" stop-opacity="0.0000"/><stop offset="0.3047" stop-color="#fff" stop-opacity="0.0000"/><stop offset="0.3142" stop-color="#fff" stop-opacity="0.0000"/><stop offset="0.3142" stop-color="#fff" stop-opacity="0.0000"/><stop offset="0.3238" stop-color="#fff" stop-opacity="0.0000"/><stop offset="0.3238" stop-color="#fff" stop-opacity="0.0000"/><stop offset="0.3333" stop-color="#fff" stop-opacity="0.0000"/><stop offset="0.3333" stop-color="#fff" stop-opacity="0.0000"/><stop offset="0.3429" stop-color="#fff" stop-opacity="0.0000"/><stop offset="0.3429" stop-color="#fff" stop-opacity="0.0000"/><stop offset="0.3524" stop-color="#fff" stop-opacity="0.0000"/><stop offset="0.3524" stop-color="#fff" stop-opacity="0.0000"/><stop offset="0.3620" stop-color="#fff" stop-opacity="0.0000"/><stop offset="0.3620" stop-color="#fff" stop-opacity="0.0000"/><stop offset="0.3715" stop-color="#fff" stop-opacity="0.0000"/><stop offset="0.3715" stop-color="#fff" stop-opacity="0.0000"/><stop offset="0.3811" stop-color="#fff" stop-opacity="0.0000"/><stop offset="0.3811" stop-color="#fff" stop-opacity="0.0000"/><stop offset="0.3906" stop-color="#fff" stop-opacity="0.0000"/><stop offset="0.3906" stop-color="#fff" stop-opacity="0.0000"/><stop offset="0.4002" stop-color="#fff" stop-opacity="0.0000"/><stop offset="0.4002" stop-color="#fff" stop-opacity="0.0000"/><stop offset="0.4097" stop-color="#fff" stop-opacity="0.0000"/><stop offset="0.4097" stop-color="#fff" stop-opacity="0.0000"/><stop offset="0.4193" stop-color="#fff" stop-opacity="0.0000"/><stop offset="0.4193" stop-color="#fff" stop-opacity="0.0000"/><stop offset="0.4288" stop-color="#fff" stop-opacity="0.0000"/><stop offset="0.4288" stop-color="#fff" stop-opacity="0.0000"/><stop offset="0.4384" stop-color="#fff" stop-opacity="0.0000"/><stop offset="0.4384" stop-color="#fff" stop-opacity="0.0000"/><stop offset="0.4479" stop-color="#fff" stop-opacity="0.0000"/><stop offset="0.4479" stop-color="#fff" stop-opacity="0.0000"/><stop offset="0.4575" stop-color="#fff" stop-opacity="0.0000"/><stop offset="0.4575" stop-color="#fff" stop-opacity="0.0000"/><stop offset="0.4670" stop-color="#fff" stop-opacity="0.0000"/><stop offset="0.4670" stop-color="#fff" stop-opacity="0.0000"/><stop offset="0.4766" stop-color="#fff" stop-opacity="0.0000"/><stop offset="0.4766" stop-color="#fff" stop-opacity="0.0000"/><stop offset="0.4862" stop-color="#fff" stop-opacity="0.0000"/><stop offset="0.4862" stop-color="#fff" stop-opacity="0.0000"/><stop offset="0.4957" stop-color="#fff" stop-opacity="0.0000"/><stop offset="0.4957" stop-color="#fff" stop-opacity="0.0077"/><stop offset="0.5053" stop-color="#fff" stop-opacity="0.0077"/><stop offset="0.5053" stop-color="#fff" stop-opacity="0.0277"/><stop offset="0.5148" stop-color="#fff" stop-opacity="0.0277"/><stop offset="0.5148" stop-color="#fff" stop-opacity="0.0548"/><stop offset="0.5244" stop-color="#fff" stop-opacity="0.0548"/><stop offset="0.5244" stop-color="#fff" stop-opacity="0.0841"/><stop offset="0.5339" stop-color="#fff" stop-opacity="0.0841"/><stop offset="0.5339" stop-color="#fff" stop-opacity="0.1176"/><stop offset="0.5435" stop-color="#fff" stop-opacity="0.1176"/><stop offset="0.5435" stop-color="#fff" stop-opacity="0.1576"/><stop offset="0.5530" stop-color="#fff" stop-opacity="0.1576"/><stop offset="0.5530" stop-color="#fff" stop-opacity="0.1929"/><stop offset="0.5626" stop-color="#fff" stop-opacity="0.1929"/><stop offset="0.5626" stop-color="#fff" stop-opacity="0.2331"/><stop offset="0.5721" stop-color="#fff" stop-opacity="0.2331"/><stop offset="0.5721" stop-color="#fff" stop-opacity="0.3013"/><stop offset="0.5817" stop-color="#fff" stop-opacity="0.3013"/><stop offset="0.5817" stop-color="#fff" stop-opacity="0.3621"/><stop offset="0.5912" stop-color="#fff" stop-opacity="0.3621"/><stop offset="0.5912" stop-color="#fff" stop-opacity="0.4023"/><stop offset="0.6008" stop-color="#fff" stop-opacity="0.4023"/><stop offset="0.6008" stop-color="#fff" stop-opacity="0.4390"/><stop offset="0.6103" stop-color="#fff" stop-opacity="0.4390"/><stop offset="0.6103" stop-color="#fff" stop-opacity="0.4712"/><stop offset="0.6199" stop-color="#fff" stop-opacity="0.4712"/><stop offset="0.6199" stop-color="#fff" stop-opacity="0.4981"/><stop offset="0.6294" stop-color="#fff" stop-opacity="0.4981"/><stop offset="0.6294" stop-color="#fff" stop-opacity="0.5189"/><stop offset="0.6390" stop-color="#fff" stop-opacity="0.5189"/><stop offset="0.6390" stop-color="#fff" stop-opacity="0.5328"/><stop offset="0.6485" stop-color="#fff" stop-opacity="0.5328"/><stop offset="0.6485" stop-color="#fff" stop-opacity="0.5404"/><stop offset="0.6581" stop-color="#fff" stop-opacity="0.5404"/><stop offset="0.6581" stop-color="#fff" stop-opacity="0.5465"/><stop offset="0.6676" stop-color="#fff" stop-opacity="0.5465"/><stop offset="0.6676" stop-color="#fff" stop-opacity="0.5511"/><stop offset="0.6772" stop-color="#fff" stop-opacity="0.5511"/><stop offset="0.6772" stop-color="#fff" stop-opacity="0.5534"/><stop offset="0.6867" stop-color="#fff" stop-opacity="0.5534"/><stop offset="0.6867" stop-color="#fff" stop-opacity="0.5491"/><stop offset="0.6963" stop-color="#fff" stop-opacity="0.5491"/><stop offset="0.6963" stop-color="#fff" stop-opacity="0.5302"/><stop offset="0.7058" stop-color="#fff" stop-opacity="0.5302"/><stop offset="0.7058" stop-color="#fff" stop-opacity="0.5046"/><stop offset="0.7154" stop-color="#fff" stop-opacity="0.5046"/><stop offset="0.7154" stop-color="#fff" stop-opacity="0.4748"/><stop offset="0.7249" stop-color="#fff" stop-opacity="0.4748"/><stop offset="0.7249" stop-color="#fff" stop-opacity="0.4354"/><stop offset="0.7345" stop-color="#fff" stop-opacity="0.4354"/><stop offset="0.7345" stop-color="#fff" stop-opacity="0.3942"/><stop offset="0.7440" stop-color="#fff" stop-opacity="0.3942"/><stop offset="0.7440" stop-color="#fff" stop-opacity="0.3561"/><stop offset="0.7536" stop-color="#fff" stop-opacity="0.3561"/><stop offset="0.7536" stop-color="#fff" stop-opacity="0.3170"/><stop offset="0.7631" stop-color="#fff" stop-opacity="0.3170"/><stop offset="0.7631" stop-color="#fff" stop-opacity="0.2716"/><stop offset="0.7727" stop-color="#fff" stop-opacity="0.2716"/><stop offset="0.7727" stop-color="#fff" stop-opacity="0.2114"/><stop offset="0.7822" stop-color="#fff" stop-opacity="0.2114"/><stop offset="0.7822" stop-color="#fff" stop-opacity="0.1400"/><stop offset="0.7918" stop-color="#fff" stop-opacity="0.1400"/><stop offset="0.7918" stop-color="#fff" stop-opacity="0.0722"/><stop offset="0.8013" stop-color="#fff" stop-opacity="0.0722"/><stop offset="0.8013" stop-color="#fff" stop-opacity="0.0096"/><stop offset="0.8109" stop-color="#fff" stop-opacity="0.0096"/><stop offset="0.8109" stop-color="#fff" stop-opacity="0.0000"/><stop offset="0.8204" stop-color="#fff" stop-opacity="0.0000"/><stop offset="0.8204" stop-color="#fff" stop-opacity="0.0000"/><stop offset="0.8300" stop-color="#fff" stop-opacity="0.0000"/><stop offset="0.8300" stop-color="#fff" stop-opacity="0.0000"/><stop offset="0.8395" stop-color="#fff" stop-opacity="0.0000"/><stop offset="0.8395" stop-color="#fff" stop-opacity="0.0000"/><stop offset="0.8491" stop-color="#fff" stop-opacity="0.0000"/><stop offset="0.8491" stop-color="#fff" stop-opacity="0.0000"/><stop offset="0.8586" stop-color="#fff" stop-opacity="0.0000"/><stop offset="0.8586" stop-color="#fff" stop-opacity="0.0000"/><stop offset="0.8682" stop-color="#fff" stop-opacity="0.0000"/><stop offset="0.8682" stop-color="#fff" stop-opacity="0.0000"/><stop offset="0.8777" stop-color="#fff" stop-opacity="0.0000"/><stop offset="0.8777" stop-color="#fff" stop-opacity="0.0000"/><stop offset="0.8873" stop-color="#fff" stop-opacity="0.0000"/><stop offset="0.8873" stop-color="#fff" stop-opacity="0.0000"/><stop offset="0.8968" stop-color="#fff" stop-opacity="0.0000"/><stop offset="0.8968" stop-color="#fff" stop-opacity="0.0000"/><stop offset="0.9064" stop-color="#fff" stop-opacity="0.0000"/><stop offset="0.9064" stop-color="#fff" stop-opacity="0.0000"/><stop offset="0.9159" stop-color="#fff" stop-opacity="0.0000"/><stop offset="0.9159" stop-color="#fff" stop-opacity="0.0000"/><stop offset="0.9255" stop-color="#fff" stop-opacity="0.0000"/><stop offset="0.9255" stop-color="#fff" stop-opacity="0.0000"/><stop offset="0.9350" stop-color="#fff" stop-opacity="0.0000"/><stop offset="0.9350" stop-color="#fff" stop-opacity="0.0000"/><stop offset="0.9446" stop-color="#fff" stop-opacity="0.0000"/><stop offset="0.9446" stop-color="#fff" stop-opacity="0.0000"/><stop offset="0.9541" stop-color="#fff" stop-opacity="0.0000"/><stop offset="0.9541" stop-color="#fff" stop-opacity="0.0000"/><stop offset="0.9637" stop-color="#fff" stop-opacity="0.0000"/><stop offset="0.9637" stop-color="#fff" stop-opacity="0.0000"/><stop offset="0.9732" stop-color="#fff" stop-opacity="0.0000"/><stop offset="0.9732" stop-color="#fff" stop-opacity="0.0000"/><stop offset="0.9828" stop-color="#fff" stop-opacity="0.0000"/><stop offset="0.9828" stop-color="#fff" stop-opacity="0.0000"/><stop offset="0.9923" stop-color="#fff" stop-opacity="0.0000"/><stop offset="0.9923" stop-color="#fff" stop-opacity="0.0000"/><stop offset="1.0000" stop-color="#fff" stop-opacity="0.0000"/><stop offset="1.0000" stop-color="#fff" stop-opacity="0.0000"/><stop offset="1.0000" stop-color="#fff" stop-opacity="0.0000"/><stop offset="1.0000" stop-color="#fff" stop-opacity="0.0000"/></linearGradient><mask id="bg0pm" maskUnits="userSpaceOnUse" x="737.50" y="45.50" width="551.00" height="552.00"><rect x="737.50" y="45.50" width="551.00" height="552.00" fill="url(#bg0pa)"/></mask><linearGradient id="bg0n" gradientUnits="userSpaceOnUse" x1="0" y1="45.50" x2="0" y2="597.50"><stop offset="0.0000" stop-color="#999999"/><stop offset="0.0000" stop-color="#999999"/><stop offset="0.0000" stop-color="#adadad"/><stop offset="0.0039" stop-color="#adadad"/><stop offset="0.0039" stop-color="#c0c0c0"/><stop offset="0.0135" stop-color="#c0c0c0"/><stop offset="0.0135" stop-color="#d1d1d1"/><stop offset="0.0230" stop-color="#d1d1d1"/><stop offset="0.0230" stop-color="#e0e0e0"/><stop offset="0.0325" stop-color="#e0e0e0"/><stop offset="0.0325" stop-color="#ededed"/><stop offset="0.0420" stop-color="#ededed"/><stop offset="0.0420" stop-color="#f6f6f6"/><stop offset="0.0516" stop-color="#f6f6f6"/><stop offset="0.0516" stop-color="#fcfcfc"/><stop offset="0.0611" stop-color="#fcfcfc"/><stop offset="0.0611" stop-color="#ffffff"/><stop offset="0.0706" stop-color="#ffffff"/><stop offset="0.0706" stop-color="#fefefe"/><stop offset="0.0801" stop-color="#fefefe"/><stop offset="0.0801" stop-color="#fafafa"/><stop offset="0.0897" stop-color="#fafafa"/><stop offset="0.0897" stop-color="#f3f3f3"/><stop offset="0.0992" stop-color="#f3f3f3"/><stop offset="0.0992" stop-color="#e8e8e8"/><stop offset="0.1087" stop-color="#e8e8e8"/><stop offset="0.1087" stop-color="#dbdbdb"/><stop offset="0.1182" stop-color="#dbdbdb"/><stop offset="0.1182" stop-color="#cbcbcb"/><stop offset="0.1278" stop-color="#cbcbcb"/><stop offset="0.1278" stop-color="#b9b9b9"/><stop offset="0.1373" stop-color="#b9b9b9"/><stop offset="0.1373" stop-color="#a6a6a6"/><stop offset="0.1468" stop-color="#a6a6a6"/><stop offset="0.1468" stop-color="#929292"/><stop offset="0.1563" stop-color="#929292"/><stop offset="0.1563" stop-color="#7d7d7d"/><stop offset="0.1658" stop-color="#7d7d7d"/><stop offset="0.1658" stop-color="#686868"/><stop offset="0.1754" stop-color="#686868"/><stop offset="0.1754" stop-color="#545454"/><stop offset="0.1849" stop-color="#545454"/><stop offset="0.1849" stop-color="#414141"/><stop offset="0.1944" stop-color="#414141"/><stop offset="0.1944" stop-color="#2f2f2f"/><stop offset="0.2039" stop-color="#2f2f2f"/><stop offset="0.2039" stop-color="#202020"/><stop offset="0.2135" stop-color="#202020"/><stop offset="0.2135" stop-color="#141414"/><stop offset="0.2230" stop-color="#141414"/><stop offset="0.2230" stop-color="#0a0a0a"/><stop offset="0.2325" stop-color="#0a0a0a"/><stop offset="0.2325" stop-color="#040404"/><stop offset="0.2420" stop-color="#040404"/><stop offset="0.2420" stop-color="#000000"/><stop offset="0.2516" stop-color="#000000"/><stop offset="0.2516" stop-color="#010101"/><stop offset="0.2611" stop-color="#010101"/><stop offset="0.2611" stop-color="#040404"/><stop offset="0.2706" stop-color="#040404"/><stop offset="0.2706" stop-color="#0b0b0b"/><stop offset="0.2801" stop-color="#0b0b0b"/><stop offset="0.2801" stop-color="#151515"/><stop offset="0.2897" stop-color="#151515"/><stop offset="0.2897" stop-color="#222222"/><stop offset="0.2992" stop-color="#222222"/><stop offset="0.2992" stop-color="#323232"/><stop offset="0.3087" stop-color="#323232"/><stop offset="0.3087" stop-color="#434343"/><stop offset="0.3182" stop-color="#434343"/><stop offset="0.3182" stop-color="#575757"/><stop offset="0.3278" stop-color="#575757"/><stop offset="0.3278" stop-color="#6b6b6b"/><stop offset="0.3373" stop-color="#6b6b6b"/><stop offset="0.3373" stop-color="#808080"/><stop offset="0.3468" stop-color="#808080"/><stop offset="0.3468" stop-color="#959595"/><stop offset="0.3563" stop-color="#959595"/><stop offset="0.3563" stop-color="#a9a9a9"/><stop offset="0.3659" stop-color="#a9a9a9"/><stop offset="0.3659" stop-color="#bcbcbc"/><stop offset="0.3754" stop-color="#bcbcbc"/><stop offset="0.3754" stop-color="#cecece"/><stop offset="0.3849" stop-color="#cecece"/><stop offset="0.3849" stop-color="#dddddd"/><stop offset="0.3944" stop-color="#dddddd"/><stop offset="0.3944" stop-color="#eaeaea"/><stop offset="0.4040" stop-color="#eaeaea"/><stop offset="0.4040" stop-color="#f4f4f4"/><stop offset="0.4135" stop-color="#f4f4f4"/><stop offset="0.4135" stop-color="#fbfbfb"/><stop offset="0.4230" stop-color="#fbfbfb"/><stop offset="0.4230" stop-color="#fefefe"/><stop offset="0.4325" stop-color="#fefefe"/><stop offset="0.4325" stop-color="#ffffff"/><stop offset="0.4421" stop-color="#ffffff"/><stop offset="0.4421" stop-color="#fbfbfb"/><stop offset="0.4516" stop-color="#fbfbfb"/><stop offset="0.4516" stop-color="#f5f5f5"/><stop offset="0.4611" stop-color="#f5f5f5"/><stop offset="0.4611" stop-color="#ebebeb"/><stop offset="0.4706" stop-color="#ebebeb"/><stop offset="0.4706" stop-color="#dedede"/><stop offset="0.4802" stop-color="#dedede"/><stop offset="0.4802" stop-color="#cfcfcf"/><stop offset="0.4897" stop-color="#cfcfcf"/><stop offset="0.4897" stop-color="#bebebe"/><stop offset="0.4992" stop-color="#bebebe"/><stop offset="0.4992" stop-color="#ababab"/><stop offset="0.5087" stop-color="#ababab"/><stop offset="0.5087" stop-color="#969696"/><stop offset="0.5183" stop-color="#969696"/><stop offset="0.5183" stop-color="#828282"/><stop offset="0.5278" stop-color="#828282"/><stop offset="0.5278" stop-color="#6d6d6d"/><stop offset="0.5373" stop-color="#6d6d6d"/><stop offset="0.5373" stop-color="#585858"/><stop offset="0.5468" stop-color="#585858"/><stop offset="0.5468" stop-color="#454545"/><stop offset="0.5564" stop-color="#454545"/><stop offset="0.5564" stop-color="#333333"/><stop offset="0.5659" stop-color="#333333"/><stop offset="0.5659" stop-color="#242424"/><stop offset="0.5754" stop-color="#242424"/><stop offset="0.5754" stop-color="#161616"/><stop offset="0.5849" stop-color="#161616"/><stop offset="0.5849" stop-color="#0c0c0c"/><stop offset="0.5944" stop-color="#0c0c0c"/><stop offset="0.5944" stop-color="#050505"/><stop offset="0.6040" stop-color="#050505"/><stop offset="0.6040" stop-color="#010101"/><stop offset="0.6135" stop-color="#010101"/><stop offset="0.6135" stop-color="#000000"/><stop offset="0.6230" stop-color="#000000"/><stop offset="0.6230" stop-color="#030303"/><stop offset="0.6325" stop-color="#030303"/><stop offset="0.6325" stop-color="#090909"/><stop offset="0.6421" stop-color="#090909"/><stop offset="0.6421" stop-color="#131313"/><stop offset="0.6516" stop-color="#131313"/><stop offset="0.6516" stop-color="#1f1f1f"/><stop offset="0.6611" stop-color="#1f1f1f"/><stop offset="0.6611" stop-color="#2e2e2e"/><stop offset="0.6706" stop-color="#2e2e2e"/><stop offset="0.6706" stop-color="#3f3f3f"/><stop offset="0.6802" stop-color="#3f3f3f"/><stop offset="0.6802" stop-color="#525252"/><stop offset="0.6897" stop-color="#525252"/><stop offset="0.6897" stop-color="#666666"/><stop offset="0.6992" stop-color="#666666"/><stop offset="0.6992" stop-color="#7b7b7b"/><stop offset="0.7087" stop-color="#7b7b7b"/><stop offset="0.7087" stop-color="#909090"/><stop offset="0.7183" stop-color="#909090"/><stop offset="0.7183" stop-color="#a4a4a4"/><stop offset="0.7278" stop-color="#a4a4a4"/><stop offset="0.7278" stop-color="#b8b8b8"/><stop offset="0.7373" stop-color="#b8b8b8"/><stop offset="0.7373" stop-color="#cacaca"/><stop offset="0.7468" stop-color="#cacaca"/><stop offset="0.7468" stop-color="#dadada"/><stop offset="0.7564" stop-color="#dadada"/><stop offset="0.7564" stop-color="#e7e7e7"/><stop offset="0.7659" stop-color="#e7e7e7"/><stop offset="0.7659" stop-color="#f2f2f2"/><stop offset="0.7754" stop-color="#f2f2f2"/><stop offset="0.7754" stop-color="#fafafa"/><stop offset="0.7849" stop-color="#fafafa"/><stop offset="0.7849" stop-color="#fefefe"/><stop offset="0.7945" stop-color="#fefefe"/><stop offset="0.7945" stop-color="#ffffff"/><stop offset="0.8040" stop-color="#ffffff"/><stop offset="0.8040" stop-color="#fcfcfc"/><stop offset="0.8135" stop-color="#fcfcfc"/><stop offset="0.8135" stop-color="#f7f7f7"/><stop offset="0.8230" stop-color="#f7f7f7"/><stop offset="0.8230" stop-color="#eeeeee"/><stop offset="0.8326" stop-color="#eeeeee"/><stop offset="0.8326" stop-color="#e2e2e2"/><stop offset="0.8421" stop-color="#e2e2e2"/><stop offset="0.8421" stop-color="#d3d3d3"/><stop offset="0.8516" stop-color="#d3d3d3"/><stop offset="0.8516" stop-color="#c2c2c2"/><stop offset="0.8611" stop-color="#c2c2c2"/><stop offset="0.8611" stop-color="#afafaf"/><stop offset="0.8707" stop-color="#afafaf"/><stop offset="0.8707" stop-color="#9b9b9b"/><stop offset="0.8802" stop-color="#9b9b9b"/><stop offset="0.8802" stop-color="#878787"/><stop offset="0.8897" stop-color="#878787"/><stop offset="0.8897" stop-color="#727272"/><stop offset="0.8992" stop-color="#727272"/><stop offset="0.8992" stop-color="#5d5d5d"/><stop offset="0.9088" stop-color="#5d5d5d"/><stop offset="0.9088" stop-color="#494949"/><stop offset="0.9183" stop-color="#494949"/><stop offset="0.9183" stop-color="#373737"/><stop offset="0.9278" stop-color="#373737"/><stop offset="0.9278" stop-color="#272727"/><stop offset="0.9373" stop-color="#272727"/><stop offset="0.9373" stop-color="#191919"/><stop offset="0.9469" stop-color="#191919"/><stop offset="0.9469" stop-color="#0e0e0e"/><stop offset="0.9564" stop-color="#0e0e0e"/><stop offset="0.9564" stop-color="#060606"/><stop offset="0.9659" stop-color="#060606"/><stop offset="0.9659" stop-color="#010101"/><stop offset="0.9754" stop-color="#010101"/><stop offset="0.9754" stop-color="#000000"/><stop offset="0.9850" stop-color="#000000"/><stop offset="0.9850" stop-color="#020202"/><stop offset="0.9945" stop-color="#020202"/><stop offset="0.9945" stop-color="#080808"/><stop offset="1.0000" stop-color="#080808"/><stop offset="1.0000" stop-color="#101010"/><stop offset="1.0000" stop-color="#101010"/><stop offset="1.0000" stop-color="#1c1c1c"/></linearGradient><linearGradient id="bg0na" gradientUnits="userSpaceOnUse" x1="737.50" y1="0" x2="1288.50" y2="0"><stop offset="0.0000" stop-color="#fff" stop-opacity="0.0000"/><stop offset="0.0000" stop-color="#fff" stop-opacity="0.0000"/><stop offset="0.0000" stop-color="#fff" stop-opacity="0.0000"/><stop offset="0.0000" stop-color="#fff" stop-opacity="0.0000"/><stop offset="0.0086" stop-color="#fff" stop-opacity="0.0000"/><stop offset="0.0086" stop-color="#fff" stop-opacity="0.0000"/><stop offset="0.0182" stop-color="#fff" stop-opacity="0.0000"/><stop offset="0.0182" stop-color="#fff" stop-opacity="0.0000"/><stop offset="0.0277" stop-color="#fff" stop-opacity="0.0000"/><stop offset="0.0277" stop-color="#fff" stop-opacity="0.0000"/><stop offset="0.0373" stop-color="#fff" stop-opacity="0.0000"/><stop offset="0.0373" stop-color="#fff" stop-opacity="0.0000"/><stop offset="0.0468" stop-color="#fff" stop-opacity="0.0000"/><stop offset="0.0468" stop-color="#fff" stop-opacity="0.0000"/><stop offset="0.0564" stop-color="#fff" stop-opacity="0.0000"/><stop offset="0.0564" stop-color="#fff" stop-opacity="0.0000"/><stop offset="0.0659" stop-color="#fff" stop-opacity="0.0000"/><stop offset="0.0659" stop-color="#fff" stop-opacity="0.0000"/><stop offset="0.0755" stop-color="#fff" stop-opacity="0.0000"/><stop offset="0.0755" stop-color="#fff" stop-opacity="0.0000"/><stop offset="0.0850" stop-color="#fff" stop-opacity="0.0000"/><stop offset="0.0850" stop-color="#fff" stop-opacity="0.0000"/><stop offset="0.0946" stop-color="#fff" stop-opacity="0.0000"/><stop offset="0.0946" stop-color="#fff" stop-opacity="0.0000"/><stop offset="0.1041" stop-color="#fff" stop-opacity="0.0000"/><stop offset="0.1041" stop-color="#fff" stop-opacity="0.0000"/><stop offset="0.1137" stop-color="#fff" stop-opacity="0.0000"/><stop offset="0.1137" stop-color="#fff" stop-opacity="0.0000"/><stop offset="0.1232" stop-color="#fff" stop-opacity="0.0000"/><stop offset="0.1232" stop-color="#fff" stop-opacity="0.0000"/><stop offset="0.1328" stop-color="#fff" stop-opacity="0.0000"/><stop offset="0.1328" stop-color="#fff" stop-opacity="0.0000"/><stop offset="0.1423" stop-color="#fff" stop-opacity="0.0000"/><stop offset="0.1423" stop-color="#fff" stop-opacity="0.0000"/><stop offset="0.1519" stop-color="#fff" stop-opacity="0.0000"/><stop offset="0.1519" stop-color="#fff" stop-opacity="0.0000"/><stop offset="0.1614" stop-color="#fff" stop-opacity="0.0000"/><stop offset="0.1614" stop-color="#fff" stop-opacity="0.0000"/><stop offset="0.1710" stop-color="#fff" stop-opacity="0.0000"/><stop offset="0.1710" stop-color="#fff" stop-opacity="0.0000"/><stop offset="0.1805" stop-color="#fff" stop-opacity="0.0000"/><stop offset="0.1805" stop-color="#fff" stop-opacity="0.0000"/><stop offset="0.1901" stop-color="#fff" stop-opacity="0.0000"/><stop offset="0.1901" stop-color="#fff" stop-opacity="0.0000"/><stop offset="0.1996" stop-color="#fff" stop-opacity="0.0000"/><stop offset="0.1996" stop-color="#fff" stop-opacity="0.0000"/><stop offset="0.2092" stop-color="#fff" stop-opacity="0.0000"/><stop offset="0.2092" stop-color="#fff" stop-opacity="0.0000"/><stop offset="0.2187" stop-color="#fff" stop-opacity="0.0000"/><stop offset="0.2187" stop-color="#fff" stop-opacity="0.0000"/><stop offset="0.2283" stop-color="#fff" stop-opacity="0.0000"/><stop offset="0.2283" stop-color="#fff" stop-opacity="0.0000"/><stop offset="0.2378" stop-color="#fff" stop-opacity="0.0000"/><stop offset="0.2378" stop-color="#fff" stop-opacity="0.0000"/><stop offset="0.2474" stop-color="#fff" stop-opacity="0.0000"/><stop offset="0.2474" stop-color="#fff" stop-opacity="0.0000"/><stop offset="0.2569" stop-color="#fff" stop-opacity="0.0000"/><stop offset="0.2569" stop-color="#fff" stop-opacity="0.0006"/><stop offset="0.2665" stop-color="#fff" stop-opacity="0.0006"/><stop offset="0.2665" stop-color="#fff" stop-opacity="0.0095"/><stop offset="0.2760" stop-color="#fff" stop-opacity="0.0095"/><stop offset="0.2760" stop-color="#fff" stop-opacity="0.0261"/><stop offset="0.2856" stop-color="#fff" stop-opacity="0.0261"/><stop offset="0.2856" stop-color="#fff" stop-opacity="0.0472"/><stop offset="0.2951" stop-color="#fff" stop-opacity="0.0472"/><stop offset="0.2951" stop-color="#fff" stop-opacity="0.0692"/><stop offset="0.3047" stop-color="#fff" stop-opacity="0.0692"/><stop offset="0.3047" stop-color="#fff" stop-opacity="0.0888"/><stop offset="0.3142" stop-color="#fff" stop-opacity="0.0888"/><stop offset="0.3142" stop-color="#fff" stop-opacity="0.1026"/><stop offset="0.3238" stop-color="#fff" stop-opacity="0.1026"/><stop offset="0.3238" stop-color="#fff" stop-opacity="0.1071"/><stop offset="0.3333" stop-color="#fff" stop-opacity="0.1071"/><stop offset="0.3333" stop-color="#fff" stop-opacity="0.1016"/><stop offset="0.3429" stop-color="#fff" stop-opacity="0.1016"/><stop offset="0.3429" stop-color="#fff" stop-opacity="0.0888"/><stop offset="0.3524" stop-color="#fff" stop-opacity="0.0888"/><stop offset="0.3524" stop-color="#fff" stop-opacity="0.0712"/><stop offset="0.3620" stop-color="#fff" stop-opacity="0.0712"/><stop offset="0.3620" stop-color="#fff" stop-opacity="0.0513"/><stop offset="0.3715" stop-color="#fff" stop-opacity="0.0513"/><stop offset="0.3715" stop-color="#fff" stop-opacity="0.0318"/><stop offset="0.3811" stop-color="#fff" stop-opacity="0.0318"/><stop offset="0.3811" stop-color="#fff" stop-opacity="0.0150"/><stop offset="0.3906" stop-color="#fff" stop-opacity="0.0150"/><stop offset="0.3906" stop-color="#fff" stop-opacity="0.0036"/><stop offset="0.4002" stop-color="#fff" stop-opacity="0.0036"/><stop offset="0.4002" stop-color="#fff" stop-opacity="0.0000"/><stop offset="0.4097" stop-color="#fff" stop-opacity="0.0000"/><stop offset="0.4097" stop-color="#fff" stop-opacity="0.0000"/><stop offset="0.4193" stop-color="#fff" stop-opacity="0.0000"/><stop offset="0.4193" stop-color="#fff" stop-opacity="0.0000"/><stop offset="0.4288" stop-color="#fff" stop-opacity="0.0000"/><stop offset="0.4288" stop-color="#fff" stop-opacity="0.0000"/><stop offset="0.4384" stop-color="#fff" stop-opacity="0.0000"/><stop offset="0.4384" stop-color="#fff" stop-opacity="0.0000"/><stop offset="0.4479" stop-color="#fff" stop-opacity="0.0000"/><stop offset="0.4479" stop-color="#fff" stop-opacity="0.0000"/><stop offset="0.4575" stop-color="#fff" stop-opacity="0.0000"/><stop offset="0.4575" stop-color="#fff" stop-opacity="0.0000"/><stop offset="0.4670" stop-color="#fff" stop-opacity="0.0000"/><stop offset="0.4670" stop-color="#fff" stop-opacity="0.0000"/><stop offset="0.4766" stop-color="#fff" stop-opacity="0.0000"/><stop offset="0.4766" stop-color="#fff" stop-opacity="0.0000"/><stop offset="0.4862" stop-color="#fff" stop-opacity="0.0000"/><stop offset="0.4862" stop-color="#fff" stop-opacity="0.0000"/><stop offset="0.4957" stop-color="#fff" stop-opacity="0.0000"/><stop offset="0.4957" stop-color="#fff" stop-opacity="0.0000"/><stop offset="0.5053" stop-color="#fff" stop-opacity="0.0000"/><stop offset="0.5053" stop-color="#fff" stop-opacity="0.0000"/><stop offset="0.5148" stop-color="#fff" stop-opacity="0.0000"/><stop offset="0.5148" stop-color="#fff" stop-opacity="0.0000"/><stop offset="0.5244" stop-color="#fff" stop-opacity="0.0000"/><stop offset="0.5244" stop-color="#fff" stop-opacity="0.0000"/><stop offset="0.5339" stop-color="#fff" stop-opacity="0.0000"/><stop offset="0.5339" stop-color="#fff" stop-opacity="0.0000"/><stop offset="0.5435" stop-color="#fff" stop-opacity="0.0000"/><stop offset="0.5435" stop-color="#fff" stop-opacity="0.0000"/><stop offset="0.5530" stop-color="#fff" stop-opacity="0.0000"/><stop offset="0.5530" stop-color="#fff" stop-opacity="0.0000"/><stop offset="0.5626" stop-color="#fff" stop-opacity="0.0000"/><stop offset="0.5626" stop-color="#fff" stop-opacity="0.0000"/><stop offset="0.5721" stop-color="#fff" stop-opacity="0.0000"/><stop offset="0.5721" stop-color="#fff" stop-opacity="0.0000"/><stop offset="0.5817" stop-color="#fff" stop-opacity="0.0000"/><stop offset="0.5817" stop-color="#fff" stop-opacity="0.0000"/><stop offset="0.5912" stop-color="#fff" stop-opacity="0.0000"/><stop offset="0.5912" stop-color="#fff" stop-opacity="0.0000"/><stop offset="0.6008" stop-color="#fff" stop-opacity="0.0000"/><stop offset="0.6008" stop-color="#fff" stop-opacity="0.0000"/><stop offset="0.6103" stop-color="#fff" stop-opacity="0.0000"/><stop offset="0.6103" stop-color="#fff" stop-opacity="0.0000"/><stop offset="0.6199" stop-color="#fff" stop-opacity="0.0000"/><stop offset="0.6199" stop-color="#fff" stop-opacity="0.0000"/><stop offset="0.6294" stop-color="#fff" stop-opacity="0.0000"/><stop offset="0.6294" stop-color="#fff" stop-opacity="0.0000"/><stop offset="0.6390" stop-color="#fff" stop-opacity="0.0000"/><stop offset="0.6390" stop-color="#fff" stop-opacity="0.0000"/><stop offset="0.6485" stop-color="#fff" stop-opacity="0.0000"/><stop offset="0.6485" stop-color="#fff" stop-opacity="0.0000"/><stop offset="0.6581" stop-color="#fff" stop-opacity="0.0000"/><stop offset="0.6581" stop-color="#fff" stop-opacity="0.0000"/><stop offset="0.6676" stop-color="#fff" stop-opacity="0.0000"/><stop offset="0.6676" stop-color="#fff" stop-opacity="0.0000"/><stop offset="0.6772" stop-color="#fff" stop-opacity="0.0000"/><stop offset="0.6772" stop-color="#fff" stop-opacity="0.0000"/><stop offset="0.6867" stop-color="#fff" stop-opacity="0.0000"/><stop offset="0.6867" stop-color="#fff" stop-opacity="0.0000"/><stop offset="0.6963" stop-color="#fff" stop-opacity="0.0000"/><stop offset="0.6963" stop-color="#fff" stop-opacity="0.0000"/><stop offset="0.7058" stop-color="#fff" stop-opacity="0.0000"/><stop offset="0.7058" stop-color="#fff" stop-opacity="0.0000"/><stop offset="0.7154" stop-color="#fff" stop-opacity="0.0000"/><stop offset="0.7154" stop-color="#fff" stop-opacity="0.0000"/><stop offset="0.7249" stop-color="#fff" stop-opacity="0.0000"/><stop offset="0.7249" stop-color="#fff" stop-opacity="0.0000"/><stop offset="0.7345" stop-color="#fff" stop-opacity="0.0000"/><stop offset="0.7345" stop-color="#fff" stop-opacity="0.0000"/><stop offset="0.7440" stop-color="#fff" stop-opacity="0.0000"/><stop offset="0.7440" stop-color="#fff" stop-opacity="0.0000"/><stop offset="0.7536" stop-color="#fff" stop-opacity="0.0000"/><stop offset="0.7536" stop-color="#fff" stop-opacity="0.0000"/><stop offset="0.7631" stop-color="#fff" stop-opacity="0.0000"/><stop offset="0.7631" stop-color="#fff" stop-opacity="0.0000"/><stop offset="0.7727" stop-color="#fff" stop-opacity="0.0000"/><stop offset="0.7727" stop-color="#fff" stop-opacity="0.0000"/><stop offset="0.7822" stop-color="#fff" stop-opacity="0.0000"/><stop offset="0.7822" stop-color="#fff" stop-opacity="0.0000"/><stop offset="0.7918" stop-color="#fff" stop-opacity="0.0000"/><stop offset="0.7918" stop-color="#fff" stop-opacity="0.0000"/><stop offset="0.8013" stop-color="#fff" stop-opacity="0.0000"/><stop offset="0.8013" stop-color="#fff" stop-opacity="0.0000"/><stop offset="0.8109" stop-color="#fff" stop-opacity="0.0000"/><stop offset="0.8109" stop-color="#fff" stop-opacity="0.0523"/><stop offset="0.8204" stop-color="#fff" stop-opacity="0.0523"/><stop offset="0.8204" stop-color="#fff" stop-opacity="0.1181"/><stop offset="0.8300" stop-color="#fff" stop-opacity="0.1181"/><stop offset="0.8300" stop-color="#fff" stop-opacity="0.1893"/><stop offset="0.8395" stop-color="#fff" stop-opacity="0.1893"/><stop offset="0.8395" stop-color="#fff" stop-opacity="0.2313"/><stop offset="0.8491" stop-color="#fff" stop-opacity="0.2313"/><stop offset="0.8491" stop-color="#fff" stop-opacity="0.2563"/><stop offset="0.8586" stop-color="#fff" stop-opacity="0.2563"/><stop offset="0.8586" stop-color="#fff" stop-opacity="0.2915"/><stop offset="0.8682" stop-color="#fff" stop-opacity="0.2915"/><stop offset="0.8682" stop-color="#fff" stop-opacity="0.3375"/><stop offset="0.8777" stop-color="#fff" stop-opacity="0.3375"/><stop offset="0.8777" stop-color="#fff" stop-opacity="0.3833"/><stop offset="0.8873" stop-color="#fff" stop-opacity="0.3833"/><stop offset="0.8873" stop-color="#fff" stop-opacity="0.4221"/><stop offset="0.8968" stop-color="#fff" stop-opacity="0.4221"/><stop offset="0.8968" stop-color="#fff" stop-opacity="0.4582"/><stop offset="0.9064" stop-color="#fff" stop-opacity="0.4582"/><stop offset="0.9064" stop-color="#fff" stop-opacity="0.4924"/><stop offset="0.9159" stop-color="#fff" stop-opacity="0.4924"/><stop offset="0.9159" stop-color="#fff" stop-opacity="0.5256"/><stop offset="0.9255" stop-color="#fff" stop-opacity="0.5256"/><stop offset="0.9255" stop-color="#fff" stop-opacity="0.5627"/><stop offset="0.9350" stop-color="#fff" stop-opacity="0.5627"/><stop offset="0.9350" stop-color="#fff" stop-opacity="0.6032"/><stop offset="0.9446" stop-color="#fff" stop-opacity="0.6032"/><stop offset="0.9446" stop-color="#fff" stop-opacity="0.6381"/><stop offset="0.9541" stop-color="#fff" stop-opacity="0.6381"/><stop offset="0.9541" stop-color="#fff" stop-opacity="0.6586"/><stop offset="0.9637" stop-color="#fff" stop-opacity="0.6586"/><stop offset="0.9637" stop-color="#fff" stop-opacity="0.6607"/><stop offset="0.9732" stop-color="#fff" stop-opacity="0.6607"/><stop offset="0.9732" stop-color="#fff" stop-opacity="0.6607"/><stop offset="0.9828" stop-color="#fff" stop-opacity="0.6607"/><stop offset="0.9828" stop-color="#fff" stop-opacity="0.6607"/><stop offset="0.9923" stop-color="#fff" stop-opacity="0.6607"/><stop offset="0.9923" stop-color="#fff" stop-opacity="0.6607"/><stop offset="1.0000" stop-color="#fff" stop-opacity="0.6607"/><stop offset="1.0000" stop-color="#fff" stop-opacity="0.6607"/><stop offset="1.0000" stop-color="#fff" stop-opacity="0.6607"/><stop offset="1.0000" stop-color="#fff" stop-opacity="0.6607"/></linearGradient><mask id="bg0nm" maskUnits="userSpaceOnUse" x="737.50" y="45.50" width="551.00" height="552.00"><rect x="737.50" y="45.50" width="551.00" height="552.00" fill="url(#bg0na)"/></mask><filter id="bf" filterUnits="userSpaceOnUse" x="737.50" y="45.50" width="551.00" height="552.00" color-interpolation-filters="sRGB"><feComponentTransfer><feFuncR type="table" tableValues="0.3294 0.3294 0.3294 0.3294 0.3294 0.3318 0.3370 0.3431 0.3528 0.3624 0.3721 0.3818 0.3915 0.4012 0.4109 0.4205 0.4302 0.4399 0.4496 0.4619 0.4747 0.4875 0.5003 0.5131 0.5259 0.5387 0.5515 0.5643 0.5771 0.5899 0.6045 0.6208 0.6370 0.6533 0.6695 0.6858 0.7020 0.7183 0.7345 0.7508 0.7670 0.7839 0.8032 0.8226 0.8420 0.8613 0.8807 0.9001 0.9194 0.9388 0.9582 0.9775 0.9969 0.9983 0.9962 0.9941 0.9920 0.9900 0.9879 0.9858 0.9837 0.9817 0.9796 0.9775 0.9753 0.9728 0.9704 0.9680 0.9656 0.9632 0.9607 0.9583 0.9559 0.9535 0.9511 0.9487 0.9470 0.9453 0.9436 0.9418 0.9401 0.9384 0.9366 0.9349 0.9332 0.9314 0.9297 0.9274 0.9250 0.9226 0.9202 0.9177 0.9153 0.9129 0.9105 0.9081 0.9056 0.9032 0.9010 0.8989 0.8968 0.8947 0.8927 0.8906 0.8885 0.8864 0.8844 0.8823 0.8802 0.8782 0.8769 0.8755 0.8741 0.8727 0.8713 0.8699 0.8686 0.8672 0.8658 0.8644 0.8630 0.8616 0.8603 0.8589 0.8575 0.8561 0.8549 0.8549"/><feFuncG type="table" tableValues="0.4549 0.4549 0.4549 0.4549 0.4549 0.4589 0.4676 0.4765 0.4865 0.4965 0.5066 0.5166 0.5266 0.5367 0.5467 0.5567 0.5667 0.5768 0.5868 0.5986 0.6107 0.6228 0.6349 0.6470 0.6591 0.6712 0.6833 0.6954 0.7075 0.7197 0.7314 0.7428 0.7542 0.7656 0.7771 0.7885 0.7999 0.8113 0.8227 0.8341 0.8455 0.8572 0.8700 0.8828 0.8956 0.9084 0.9212 0.9340 0.9468 0.9596 0.9724 0.9851 0.9979 0.9933 0.9854 0.9774 0.9695 0.9615 0.9536 0.9456 0.9376 0.9297 0.9217 0.9138 0.9067 0.9005 0.8942 0.8880 0.8818 0.8756 0.8693 0.8631 0.8569 0.8507 0.8444 0.8380 0.8304 0.8228 0.8152 0.8076 0.8000 0.7923 0.7847 0.7771 0.7695 0.7619 0.7543 0.7467 0.7391 0.7315 0.7239 0.7163 0.7086 0.7010 0.6934 0.6858 0.6782 0.6706 0.6637 0.6574 0.6512 0.6450 0.6388 0.6325 0.6263 0.6201 0.6139 0.6076 0.6014 0.5951 0.5882 0.5813 0.5743 0.5674 0.5605 0.5536 0.5467 0.5398 0.5328 0.5259 0.5190 0.5132 0.5077 0.5021 0.4966 0.4911 0.4863 0.4863"/><feFuncB type="table" tableValues="0.7137 0.7137 0.7137 0.7137 0.7137 0.7161 0.7213 0.7270 0.7346 0.7422 0.7498 0.7574 0.7650 0.7726 0.7802 0.7879 0.7955 0.8031 0.8107 0.8174 0.8240 0.8305 0.8371 0.8437 0.8503 0.8568 0.8634 0.8700 0.8765 0.8831 0.8890 0.8941 0.8993 0.9045 0.9097 0.9149 0.9201 0.9253 0.9305 0.9356 0.9408 0.9460 0.9508 0.9556 0.9605 0.9653 0.9702 0.9750 0.9799 0.9847 0.9895 0.9944 0.9992 0.9881 0.9739 0.9597 0.9456 0.9314 0.9172 0.9030 0.8888 0.8747 0.8605 0.8463 0.8323 0.8185 0.8046 0.7908 0.7770 0.7631 0.7493 0.7355 0.7216 0.7078 0.6940 0.6802 0.6667 0.6532 0.6397 0.6262 0.6127 0.5993 0.5858 0.5723 0.5588 0.5453 0.5318 0.5189 0.5061 0.4933 0.4805 0.4677 0.4549 0.4421 0.4293 0.4165 0.4037 0.3909 0.3793 0.3689 0.3586 0.3482 0.3378 0.3274 0.3171 0.3067 0.2963 0.2859 0.2756 0.2657 0.2588 0.2518 0.2449 0.2380 0.2311 0.2242 0.2173 0.2103 0.2034 0.1965 0.1896 0.1849 0.1808 0.1766 0.1725 0.1683 0.1647 0.1647"/></feComponentTransfer></filter><clipPath id="bc"><rect x="737.50" y="45.50" width="551.00" height="552.00"/></clipPath><linearGradient id="cbar" x1="0" y1="0" x2="1" y2="0"><stop offset="0.0000" stop-color="#5678b8"/><stop offset="0.0192" stop-color="#5c7ebd"/><stop offset="0.0385" stop-color="#6184c1"/><stop offset="0.0577" stop-color="#6789c5"/><stop offset="0.0769" stop-color="#6c8fca"/><stop offset="0.0962" stop-color="#7295ce"/><stop offset="0.1154" stop-color="#799cd2"/><stop offset="0.1346" stop-color="#81a3d6"/><stop offset="0.1538" stop-color="#88aada"/><stop offset="0.1731" stop-color="#8fb1de"/><stop offset="0.1923" stop-color="#97b8e1"/><stop offset="0.2115" stop-color="#a0bfe5"/><stop offset="0.2308" stop-color="#a9c5e8"/><stop offset="0.2500" stop-color="#b3cceb"/><stop offset="0.2692" stop-color="#bcd2ee"/><stop offset="0.2885" stop-color="#c6d9f1"/><stop offset="0.3077" stop-color="#d1e0f3"/><stop offset="0.3269" stop-color="#dce8f6"/><stop offset="0.3462" stop-color="#e7eff9"/><stop offset="0.3654" stop-color="#f2f7fc"/><stop offset="0.3846" stop-color="#fefeff"/><stop offset="0.4038" stop-color="#fefbf8"/><stop offset="0.4231" stop-color="#fdf6f0"/><stop offset="0.4423" stop-color="#fcf2e7"/><stop offset="0.4615" stop-color="#faeddf"/><stop offset="0.4808" stop-color="#f9e9d7"/><stop offset="0.5000" stop-color="#f8e5cf"/><stop offset="0.5192" stop-color="#f6e1c7"/><stop offset="0.5385" stop-color="#f5debf"/><stop offset="0.5577" stop-color="#f4dab7"/><stop offset="0.5769" stop-color="#f2d6af"/><stop offset="0.5962" stop-color="#f1d2a7"/><stop offset="0.6154" stop-color="#f0ce9f"/><stop offset="0.6346" stop-color="#efc997"/><stop offset="0.6538" stop-color="#eec590"/><stop offset="0.6731" stop-color="#edc088"/><stop offset="0.6923" stop-color="#ecbc80"/><stop offset="0.7115" stop-color="#eab879"/><stop offset="0.7308" stop-color="#e9b371"/><stop offset="0.7500" stop-color="#e8af6a"/><stop offset="0.7692" stop-color="#e6aa63"/><stop offset="0.7885" stop-color="#e5a75d"/><stop offset="0.8077" stop-color="#e4a356"/><stop offset="0.8269" stop-color="#e29f50"/><stop offset="0.8462" stop-color="#e19c4a"/><stop offset="0.8654" stop-color="#e09844"/><stop offset="0.8846" stop-color="#df9440"/><stop offset="0.9038" stop-color="#de903c"/><stop offset="0.9231" stop-color="#de8c38"/><stop offset="0.9423" stop-color="#dd8834"/><stop offset="0.9615" stop-color="#dc8430"/><stop offset="0.9808" stop-color="#db812e"/><stop offset="1.0000" stop-color="#da7e2b"/></linearGradient></defs><g clip-path="url(#ac)"><g filter="url(#af)"><rect x="67.50" y="45.50" width="551.00" height="552.00" fill="url(#ab)"/><rect x="67.50" y="45.50" width="551.00" height="552.00" fill="url(#ag0p)" mask="url(#ag0pm)"/><rect x="67.50" y="45.50" width="551.00" height="552.00" fill="url(#ag0n)" mask="url(#ag0nm)"/><rect x="67.50" y="45.50" width="551.00" height="552.00" fill="url(#ag1p)" mask="url(#ag1pm)"/><rect x="67.50" y="45.50" width="551.00" height="552.00" fill="url(#ag1n)" mask="url(#ag1nm)"/></g></g><g clip-path="url(#bc)"><g filter="url(#bf)"><rect x="737.50" y="45.50" width="551.00" height="552.00" fill="url(#bb)"/><rect x="737.50" y="45.50" width="551.00" height="552.00" fill="url(#bg0p)" mask="url(#bg0pm)"/><rect x="737.50" y="45.50" width="551.00" height="552.00" fill="url(#bg0n)" mask="url(#bg0nm)"/></g></g><g clip-path="url(#ac)" fill="none" stroke="#111"><path stroke-width="1.05" d="M63.5 46.7a3.44 3.44 0 1 0 6.88 0a3.44 3.44 0 1 0 -6.88 0M81.8 46.7a3.39 3.39 0 1 0 6.78 0a3.39 3.39 0 1 0 -6.78 0M100.2 46.7a3.43 3.43 0 1 0 6.86 0a3.43 3.43 0 1 0 -6.86 0M117.9 46.7a3.98 3.98 0 1 0 7.96 0a3.98 3.98 0 1 0 -7.96 0M136.8 46.7a3.47 3.47 0 1 0 6.94 0a3.47 3.47 0 1 0 -6.94 0M155.3 46.7a3.26 3.26 0 1 0 6.53 0a3.26 3.26 0 1 0 -6.53 0M173.5 46.7a3.43 3.43 0 1 0 6.86 0a3.43 3.43 0 1 0 -6.86 0M191.4 46.7a3.91 3.91 0 1 0 7.82 0a3.91 3.91 0 1 0 -7.82 0M211.0 46.7a2.66 2.66 0 1 0 5.31 0a2.66 2.66 0 1 0 -5.31 0M230.7 46.7a1.30 1.30 0 1 0 2.60 0a1.30 1.30 0 1 0 -2.60 0M249.0 46.7a1.30 1.30 0 1 0 2.60 0a1.30 1.30 0 1 0 -2.60 0M304.0 46.7a1.31 1.31 0 1 0 2.62 0a1.31 1.31 0 1 0 -2.62 0M322.0 46.7a1.70 1.70 0 1 0 3.40 0a1.70 1.70 0 1 0 -3.40 0M339.9 46.7a2.08 2.08 0 1 0 4.16 0a2.08 2.08 0 1 0 -4.16 0M357.9 46.7a2.46 2.46 0 1 0 4.92 0a2.46 2.46 0 1 0 -4.92 0M375.7 46.7a2.96 2.96 0 1 0 5.92 0a2.96 2.96 0 1 0 -5.92 0M393.5 46.7a3.48 3.48 0 1 0 6.97 0a3.48 3.48 0 1 0 -6.97 0M411.4 46.7a3.92 3.92 0 1 0 7.84 0a3.92 3.92 0 1 0 -7.84 0M430.5 46.7a3.18 3.18 0 1 0 6.36 0a3.18 3.18 0 1 0 -6.36 0M450.7 46.7a1.36 1.36 0 1 0 2.72 0a1.36 1.36 0 1 0 -2.72 0M465.3 46.7a5.09 5.09 0 1 0 10.18 0a5.09 5.09 0 1 0 -10.18 0M482.6 46.7a6.13 6.13 0 1 0 12.25 0a6.13 6.13 0 1 0 -12.25 0M503.4 46.7a3.69 3.69 0 1 0 7.37 0a3.69 3.69 0 1 0 -7.37 0M523.8 46.7a1.64 1.64 0 1 0 3.29 0a1.64 1.64 0 1 0 -3.29 0M539.2 46.7a4.57 4.57 0 1 0 9.14 0a4.57 4.57 0 1 0 -9.14 0M556.5 46.7a5.55 5.55 0 1 0 11.10 0a5.55 5.55 0 1 0 -11.10 0M576.8 46.7a3.67 3.67 0 1 0 7.34 0a3.67 3.67 0 1 0 -7.34 0M597.1 46.7a1.69 1.69 0 1 0 3.38 0a1.69 1.69 0 1 0 -3.38 0M612.6 46.7a4.53 4.53 0 1 0 9.06 0a4.53 4.53 0 1 0 -9.06 0M80.9 65.0a4.39 4.39 0 1 0 8.78 0a4.39 4.39 0 1 0 -8.78 0M118.1 65.0a3.82 3.82 0 1 0 7.64 0a3.82 3.82 0 1 0 -7.64 0M154.1 65.0a4.47 4.47 0 1 0 8.95 0a4.47 4.47 0 1 0 -8.95 0M191.9 65.0a3.40 3.40 0 1 0 6.80 0a3.40 3.40 0 1 0 -6.80 0M229.4 65.0a2.59 2.59 0 1 0 5.17 0a2.59 2.59 0 1 0 -5.17 0M304.0 65.0a1.31 1.31 0 1 0 2.62 0a1.31 1.31 0 1 0 -2.62 0M322.0 65.0a1.70 1.70 0 1 0 3.40 0a1.70 1.70 0 1 0 -3.40 0M339.9 65.0a2.08 2.08 0 1 0 4.16 0a2.08 2.08 0 1 0 -4.16 0M357.9 65.0a2.46 2.46 0 1 0 4.92 0a2.46 2.46 0 1 0 -4.92 0M375.7 65.0a2.96 2.96 0 1 0 5.92 0a2.96 2.96 0 1 0 -5.92 0M393.5 65.0a3.48 3.48 0 1 0 6.97 0a3.48 3.48 0 1 0 -6.97 0M412.0 65.0a3.37 3.37 0 1 0 6.73 0a3.37 3.37 0 1 0 -6.73 0M429.3 65.0a4.43 4.43 0 1 0 8.87 0a4.43 4.43 0 1 0 -8.87 0M447.0 65.0a5.01 5.01 0 1 0 10.01 0a5.01 5.01 0 1 0 -10.01 0M469.1 65.0a1.30 1.30 0 1 0 2.60 0a1.30 1.30 0 1 0 -2.60 0M487.2 65.0a1.47 1.47 0 1 0 2.94 0a1.47 1.47 0 1 0 -2.94 0M503.5 65.0a3.51 3.51 0 1 0 7.03 0a3.51 3.51 0 1 0 -7.03 0M519.3 65.0a6.14 6.14 0 1 0 12.29 0a6.14 6.14 0 1 0 -12.29 0M542.4 65.0a1.30 1.30 0 1 0 2.60 0a1.30 1.30 0 1 0 -2.60 0M560.1 65.0a1.95 1.95 0 1 0 3.90 0a1.95 1.95 0 1 0 -3.90 0M577.2 65.0a3.19 3.19 0 1 0 6.38 0a3.19 3.19 0 1 0 -6.38 0M592.7 65.0a6.06 6.06 0 1 0 12.13 0a6.06 6.06 0 1 0 -12.13 0M615.8 65.0a1.30 1.30 0 1 0 2.60 0a1.30 1.30 0 1 0 -2.60 0M64.1 83.4a2.81 2.81 0 1 0 5.62 0a2.81 2.81 0 1 0 -5.62 0M81.7 83.4a3.57 3.57 0 1 0 7.15 0a3.57 3.57 0 1 0 -7.15 0M100.8 83.4a2.80 2.80 0 1 0 5.59 0a2.80 2.80 0 1 0 -5.59 0M117.8 83.4a4.16 4.16 0 1 0 8.32 0a4.16 4.16 0 1 0 -8.32 0M137.4 83.4a2.85 2.85 0 1 0 5.70 0a2.85 2.85 0 1 0 -5.70 0M155.2 83.4a3.44 3.44 0 1 0 6.88 0a3.44 3.44 0 1 0 -6.88 0M174.1 83.4a2.80 2.80 0 1 0 5.60 0a2.80 2.80 0 1 0 -5.60 0M191.2 83.4a4.08 4.08 0 1 0 8.16 0a4.08 4.08 0 1 0 -8.16 0M211.4 83.4a2.25 2.25 0 1 0 4.50 0a2.25 2.25 0 1 0 -4.50 0M230.6 83.4a1.35 1.35 0 1 0 2.71 0a1.35 1.35 0 1 0 -2.71 0M304.0 83.4a1.31 1.31 0 1 0 2.62 0a1.31 1.31 0 1 0 -2.62 0M322.0 83.4a1.70 1.70 0 1 0 3.40 0a1.70 1.70 0 1 0 -3.40 0M339.9 83.4a2.08 2.08 0 1 0 4.16 0a2.08 2.08 0 1 0 -4.16 0M357.9 83.4a2.46 2.46 0 1 0 4.92 0a2.46 2.46 0 1 0 -4.92 0M375.7 83.4a2.96 2.96 0 1 0 5.92 0a2.96 2.96 0 1 0 -5.92 0M393.5 83.4a3.48 3.48 0 1 0 6.97 0a3.48 3.48 0 1 0 -6.97 0M411.4 83.4a3.94 3.94 0 1 0 7.88 0a3.94 3.94 0 1 0 -7.88 0M430.6 83.4a3.05 3.05 0 1 0 6.11 0a3.05 3.05 0 1 0 -6.11 0M450.7 83.4a1.30 1.30 0 1 0 2.60 0a1.30 1.30 0 1 0 -2.60 0M465.8 83.4a4.60 4.60 0 1 0 9.19 0a4.60 4.60 0 1 0 -9.19 0M482.4 83.4a6.35 6.35 0 1 0 12.70 0a6.35 6.35 0 1 0 -12.70 0M504.3 83.4a2.76 2.76 0 1 0 5.52 0a2.76 2.76 0 1 0 -5.52 0M523.6 83.4a1.76 1.76 0 1 0 3.52 0a1.76 1.76 0 1 0 -3.52 0M539.8 83.4a3.93 3.93 0 1 0 7.87 0a3.93 3.93 0 1 0 -7.87 0M556.3 83.4a5.79 5.79 0 1 0 11.58 0a5.79 5.79 0 1 0 -11.58 0M577.7 83.4a2.73 2.73 0 1 0 5.47 0a2.73 2.73 0 1 0 -5.47 0M596.9 83.4a1.82 1.82 0 1 0 3.64 0a1.82 1.82 0 1 0 -3.64 0M613.2 83.4a3.88 3.88 0 1 0 7.76 0a3.88 3.88 0 1 0 -7.76 0M61.5 101.7a5.37 5.37 0 1 0 10.75 0a5.37 5.37 0 1 0 -10.75 0M82.3 101.7a2.95 2.95 0 1 0 5.90 0a2.95 2.95 0 1 0 -5.90 0M98.2 101.7a5.38 5.38 0 1 0 10.76 0a5.38 5.38 0 1 0 -10.76 0M119.5 101.7a2.38 2.38 0 1 0 4.77 0a2.38 2.38 0 1 0 -4.77 0M134.9 101.7a5.37 5.37 0 1 0 10.75 0a5.37 5.37 0 1 0 -10.75 0M155.6 101.7a3.05 3.05 0 1 0 6.10 0a3.05 3.05 0 1 0 -6.10 0M171.6 101.7a5.39 5.39 0 1 0 10.77 0a5.39 5.39 0 1 0 -10.77 0M193.2 101.7a2.07 2.07 0 1 0 4.14 0a2.07 2.07 0 1 0 -4.14 0M209.7 101.7a3.89 3.89 0 1 0 7.78 0a3.89 3.89 0 1 0 -7.78 0M230.1 101.7a1.88 1.88 0 1 0 3.76 0a1.88 1.88 0 1 0 -3.76 0M248.6 101.7a1.66 1.66 0 1 0 3.32 0a1.66 1.66 0 1 0 -3.32 0M304.0 101.7a1.31 1.31 0 1 0 2.62 0a1.31 1.31 0 1 0 -2.62 0M322.0 101.7a1.70 1.70 0 1 0 3.40 0a1.70 1.70 0 1 0 -3.40 0M339.9 101.7a2.08 2.08 0 1 0 4.16 0a2.08 2.08 0 1 0 -4.16 0M357.9 101.7a2.46 2.46 0 1 0 4.92 0a2.46 2.46 0 1 0 -4.92 0M375.7 101.7a2.96 2.96 0 1 0 5.92 0a2.96 2.96 0 1 0 -5.92 0M393.5 101.7a3.48 3.48 0 1 0 6.97 0a3.48 3.48 0 1 0 -6.97 0M411.9 101.7a3.46 3.46 0 1 0 6.93 0a3.46 3.46 0 1 0 -6.93 0M429.3 101.7a4.43 4.43 0 1 0 8.86 0a4.43 4.43 0 1 0 -8.86 0M447.6 101.7a4.44 4.44 0 1 0 8.88 0a4.44 4.44 0 1 0 -8.88 0M465.2 101.7a5.17 5.17 0 1 0 10.34 0a5.17 5.17 0 1 0 -10.34 0M487.1 101.7a1.67 1.67 0 1 0 3.34 0a1.67 1.67 0 1 0 -3.34 0M501.2 101.7a5.90 5.90 0 1 0 11.79 0a5.90 5.90 0 1 0 -11.79 0M520.4 101.7a5.03 5.03 0 1 0 10.07 0a5.03 5.03 0 1 0 -10.07 0M538.5 101.7a5.24 5.24 0 1 0 10.47 0a5.24 5.24 0 1 0 -10.47 0M560.6 101.7a1.49 1.49 0 1 0 2.97 0a1.49 1.49 0 1 0 -2.97 0M574.6 101.7a5.78 5.78 0 1 0 11.55 0a5.78 5.78 0 1 0 -11.55 0M593.8 101.7a4.94 4.94 0 1 0 9.89 0a4.94 4.94 0 1 0 -9.89 0M611.9 101.7a5.24 5.24 0 1 0 10.47 0a5.24 5.24 0 1 0 -10.47 0M60.0 120.1a6.86 6.86 0 1 0 13.71 0a6.86 6.86 0 1 0 -13.71 0M96.7 120.1a6.86 6.86 0 1 0 13.71 0a6.86 6.86 0 1 0 -13.71 0M120.5 120.1a1.41 1.41 0 1 0 2.82 0a1.41 1.41 0 1 0 -2.82 0M133.4 120.1a6.86 6.86 0 1 0 13.72 0a6.86 6.86 0 1 0 -13.72 0M170.1 120.1a6.86 6.86 0 1 0 13.71 0a6.86 6.86 0 1 0 -13.71 0M193.8 120.1a1.52 1.52 0 1 0 3.04 0a1.52 1.52 0 1 0 -3.04 0M208.6 120.1a4.97 4.97 0 1 0 9.95 0a4.97 4.97 0 1 0 -9.95 0M248.3 120.1a2.03 2.03 0 1 0 4.06 0a2.03 2.03 0 1 0 -4.06 0M304.0 120.1a1.31 1.31 0 1 0 2.62 0a1.31 1.31 0 1 0 -2.62 0M322.0 120.1a1.70 1.70 0 1 0 3.40 0a1.70 1.70 0 1 0 -3.40 0M339.9 120.1a2.08 2.08 0 1 0 4.16 0a2.08 2.08 0 1 0 -4.16 0M357.9 120.1a2.46 2.46 0 1 0 4.92 0a2.46 2.46 0 1 0 -4.92 0M375.7 120.1a2.96 2.96 0 1 0 5.92 0a2.96 2.96 0 1 0 -5.92 0M393.5 120.1a3.48 3.48 0 1 0 6.97 0a3.48 3.48 0 1 0 -6.97 0M411.6 120.1a3.75 3.75 0 1 0 7.50 0a3.75 3.75 0 1 0 -7.50 0M429.8 120.1a3.94 3.94 0 1 0 7.89 0a3.94 3.94 0 1 0 -7.89 0M449.4 120.1a2.67 2.67 0 1 0 5.35 0a2.67 2.67 0 1 0 -5.35 0M463.3 120.1a7.05 7.05 0 1 0 14.10 0a7.05 7.05 0 1 0 -14.10 0M484.5 120.1a4.27 4.27 0 1 0 8.53 0a4.27 4.27 0 1 0 -8.53 0M500.2 120.1a6.81 6.81 0 1 0 13.62 0a6.81 6.81 0 1 0 -13.62 0M523.3 120.1a2.06 2.06 0 1 0 4.12 0a2.06 2.06 0 1 0 -4.12 0M536.8 120.1a6.98 6.98 0 1 0 13.96 0a6.98 6.98 0 1 0 -13.96 0M558.5 120.1a3.60 3.60 0 1 0 7.19 0a3.60 3.60 0 1 0 -7.19 0M573.6 120.1a6.80 6.80 0 1 0 13.60 0a6.80 6.80 0 1 0 -13.60 0M596.8 120.1a1.96 1.96 0 1 0 3.92 0a1.96 1.96 0 1 0 -3.92 0M610.1 120.1a6.97 6.97 0 1 0 13.94 0a6.97 6.97 0 1 0 -13.94 0M60.0 138.4a6.94 6.94 0 1 0 13.88 0a6.94 6.94 0 1 0 -13.88 0M96.6 138.4a6.94 6.94 0 1 0 13.88 0a6.94 6.94 0 1 0 -13.88 0M120.6 138.4a1.30 1.30 0 1 0 2.60 0a1.30 1.30 0 1 0 -2.60 0M133.3 138.4a6.94 6.94 0 1 0 13.89 0a6.94 6.94 0 1 0 -13.89 0M170.0 138.4a6.94 6.94 0 1 0 13.88 0a6.94 6.94 0 1 0 -13.88 0M193.9 138.4a1.33 1.33 0 1 0 2.66 0a1.33 1.33 0 1 0 -2.66 0M208.6 138.4a5.03 5.03 0 1 0 10.06 0a5.03 5.03 0 1 0 -10.06 0M248.2 138.4a2.06 2.06 0 1 0 4.11 0a2.06 2.06 0 1 0 -4.11 0M304.0 138.4a1.31 1.31 0 1 0 2.62 0a1.31 1.31 0 1 0 -2.62 0M322.0 138.4a1.70 1.70 0 1 0 3.40 0a1.70 1.70 0 1 0 -3.40 0M339.9 138.4a2.08 2.08 0 1 0 4.16 0a2.08 2.08 0 1 0 -4.16 0M357.9 138.4a2.46 2.46 0 1 0 4.92 0a2.46 2.46 0 1 0 -4.92 0M375.7 138.4a2.96 2.96 0 1 0 5.92 0a2.96 2.96 0 1 0 -5.92 0M393.5 138.4a3.48 3.48 0 1 0 6.97 0a3.48 3.48 0 1 0 -6.97 0M411.6 138.4a3.72 3.72 0 1 0 7.43 0a3.72 3.72 0 1 0 -7.43 0M429.7 138.4a4.04 4.04 0 1 0 8.08 0a4.04 4.04 0 1 0 -8.08 0M449.2 138.4a2.89 2.89 0 1 0 5.77 0a2.89 2.89 0 1 0 -5.77 0M463.2 138.4a7.14 7.14 0 1 0 14.28 0a7.14 7.14 0 1 0 -14.28 0M484.8 138.4a3.93 3.93 0 1 0 7.85 0a3.93 3.93 0 1 0 -7.85 0M500.0 138.4a7.01 7.01 0 1 0 14.03 0a7.01 7.01 0 1 0 -14.03 0M523.1 138.4a2.34 2.34 0 1 0 4.68 0a2.34 2.34 0 1 0 -4.68 0M536.6 138.4a7.11 7.11 0 1 0 14.21 0a7.11 7.11 0 1 0 -14.21 0M558.8 138.4a3.25 3.25 0 1 0 6.50 0a3.25 3.25 0 1 0 -6.50 0M573.4 138.4a7.00 7.00 0 1 0 13.99 0a7.00 7.00 0 1 0 -13.99 0M596.5 138.4a2.24 2.24 0 1 0 4.47 0a2.24 2.24 0 1 0 -4.47 0M610.0 138.4a7.10 7.10 0 1 0 14.20 0a7.10 7.10 0 1 0 -14.20 0M61.3 156.7a5.61 5.61 0 1 0 11.22 0a5.61 5.61 0 1 0 -11.22 0M82.5 156.7a2.78 2.78 0 1 0 5.56 0a2.78 2.78 0 1 0 -5.56 0M98.0 156.7a5.62 5.62 0 1 0 11.23 0a5.62 5.62 0 1 0 -11.23 0M119.7 156.7a2.22 2.22 0 1 0 4.43 0a2.22 2.22 0 1 0 -4.43 0M134.7 156.7a5.61 5.61 0 1 0 11.22 0a5.61 5.61 0 1 0 -11.22 0M155.7 156.7a2.88 2.88 0 1 0 5.76 0a2.88 2.88 0 1 0 -5.76 0M171.3 156.7a5.62 5.62 0 1 0 11.24 0a5.62 5.62 0 1 0 -11.24 0M193.4 156.7a1.91 1.91 0 1 0 3.83 0a1.91 1.91 0 1 0 -3.83 0M209.6 156.7a4.06 4.06 0 1 0 8.11 0a4.06 4.06 0 1 0 -8.11 0M230.2 156.7a1.80 1.80 0 1 0 3.60 0a1.80 1.80 0 1 0 -3.60 0M248.6 156.7a1.72 1.72 0 1 0 3.44 0a1.72 1.72 0 1 0 -3.44 0M304.0 156.7a1.31 1.31 0 1 0 2.62 0a1.31 1.31 0 1 0 -2.62 0M322.0 156.7a1.70 1.70 0 1 0 3.40 0a1.70 1.70 0 1 0 -3.40 0M339.9 156.7a2.08 2.08 0 1 0 4.16 0a2.08 2.08 0 1 0 -4.16 0M357.9 156.7a2.46 2.46 0 1 0 4.92 0a2.46 2.46 0 1 0 -4.92 0M375.7 156.7a2.96 2.96 0 1 0 5.92 0a2.96 2.96 0 1 0 -5.92 0M393.5 156.7a3.48 3.48 0 1 0 6.97 0a3.48 3.48 0 1 0 -6.97 0M411.9 156.7a3.49 3.49 0 1 0 6.98 0a3.49 3.49 0 1 0 -6.98 0M429.3 156.7a4.42 4.42 0 1 0 8.84 0a4.42 4.42 0 1 0 -8.84 0M447.8 156.7a4.29 4.29 0 1 0 8.57 0a4.29 4.29 0 1 0 -8.57 0M464.7 156.7a5.65 5.65 0 1 0 11.31 0a5.65 5.65 0 1 0 -11.31 0M486.9 156.7a1.83 1.83 0 1 0 3.66 0a1.83 1.83 0 1 0 -3.66 0M500.8 156.7a6.26 6.26 0 1 0 12.52 0a6.26 6.26 0 1 0 -12.52 0M520.7 156.7a4.74 4.74 0 1 0 9.48 0a4.74 4.74 0 1 0 -9.48 0M538.0 156.7a5.73 5.73 0 1 0 11.45 0a5.73 5.73 0 1 0 -11.45 0M560.6 156.7a1.49 1.49 0 1 0 2.99 0a1.49 1.49 0 1 0 -2.99 0M574.3 156.7a6.16 6.16 0 1 0 12.32 0a6.16 6.16 0 1 0 -12.32 0M594.1 156.7a4.65 4.65 0 1 0 9.30 0a4.65 4.65 0 1 0 -9.30 0M611.4 156.7a5.73 5.73 0 1 0 11.45 0a5.73 5.73 0 1 0 -11.45 0M63.8 175.1a3.15 3.15 0 1 0 6.30 0a3.15 3.15 0 1 0 -6.30 0M81.8 175.1a3.48 3.48 0 1 0 6.96 0a3.48 3.48 0 1 0 -6.96 0M100.4 175.1a3.14 3.14 0 1 0 6.27 0a3.14 3.14 0 1 0 -6.27 0M117.9 175.1a4.07 4.07 0 1 0 8.14 0a4.07 4.07 0 1 0 -8.14 0M137.1 175.1a3.18 3.18 0 1 0 6.36 0a3.18 3.18 0 1 0 -6.36 0M155.2 175.1a3.35 3.35 0 1 0 6.70 0a3.35 3.35 0 1 0 -6.70 0M173.8 175.1a3.14 3.14 0 1 0 6.27 0a3.14 3.14 0 1 0 -6.27 0M191.3 175.1a4.00 4.00 0 1 0 7.99 0a4.00 4.00 0 1 0 -7.99 0M211.2 175.1a2.46 2.46 0 1 0 4.93 0a2.46 2.46 0 1 0 -4.93 0M230.7 175.1a1.31 1.31 0 1 0 2.62 0a1.31 1.31 0 1 0 -2.62 0M249.0 175.1a1.30 1.30 0 1 0 2.60 0a1.30 1.30 0 1 0 -2.60 0M304.0 175.1a1.31 1.31 0 1 0 2.62 0a1.31 1.31 0 1 0 -2.62 0M322.0 175.1a1.70 1.70 0 1 0 3.40 0a1.70 1.70 0 1 0 -3.40 0M339.9 175.1a2.08 2.08 0 1 0 4.16 0a2.08 2.08 0 1 0 -4.16 0M357.9 175.1a2.46 2.46 0 1 0 4.92 0a2.46 2.46 0 1 0 -4.92 0M375.7 175.1a2.96 2.96 0 1 0 5.92 0a2.96 2.96 0 1 0 -5.92 0M393.5 175.1a3.48 3.48 0 1 0 6.97 0a3.48 3.48 0 1 0 -6.97 0M411.4 175.1a3.93 3.93 0 1 0 7.85 0a3.93 3.93 0 1 0 -7.85 0M430.6 175.1a3.14 3.14 0 1 0 6.28 0a3.14 3.14 0 1 0 -6.28 0M450.7 175.1a1.30 1.30 0 1 0 2.60 0a1.30 1.30 0 1 0 -2.60 0M465.4 175.1a4.94 4.94 0 1 0 9.87 0a4.94 4.94 0 1 0 -9.87 0M482.5 175.1a6.20 6.20 0 1 0 12.40 0a6.20 6.20 0 1 0 -12.40 0M503.6 175.1a3.42 3.42 0 1 0 6.83 0a3.42 3.42 0 1 0 -6.83 0M523.7 175.1a1.68 1.68 0 1 0 3.36 0a1.68 1.68 0 1 0 -3.36 0M539.4 175.1a4.38 4.38 0 1 0 8.75 0a4.38 4.38 0 1 0 -8.75 0M556.5 175.1a5.63 5.63 0 1 0 11.25 0a5.63 5.63 0 1 0 -11.25 0M577.0 175.1a3.40 3.40 0 1 0 6.79 0a3.40 3.40 0 1 0 -6.79 0M597.0 175.1a1.73 1.73 0 1 0 3.46 0a1.73 1.73 0 1 0 -3.46 0M612.8 175.1a4.33 4.33 0 1 0 8.66 0a4.33 4.33 0 1 0 -8.66 0M80.8 193.4a4.39 4.39 0 1 0 8.79 0a4.39 4.39 0 1 0 -8.79 0M118.1 193.4a3.82 3.82 0 1 0 7.65 0a3.82 3.82 0 1 0 -7.65 0M154.1 193.4a4.48 4.48 0 1 0 8.96 0a4.48 4.48 0 1 0 -8.96 0M191.9 193.4a3.41 3.41 0 1 0 6.81 0a3.41 3.41 0 1 0 -6.81 0M229.4 193.4a2.59 2.59 0 1 0 5.18 0a2.59 2.59 0 1 0 -5.18 0M304.0 193.4a1.31 1.31 0 1 0 2.62 0a1.31 1.31 0 1 0 -2.62 0M322.0 193.4a1.70 1.70 0 1 0 3.40 0a1.70 1.70 0 1 0 -3.40 0M339.9 193.4a2.08 2.08 0 1 0 4.16 0a2.08 2.08 0 1 0 -4.16 0M357.9 193.4a2.46 2.46 0 1 0 4.92 0a2.46 2.46 0 1 0 -4.92 0M375.7 193.4a2.96 2.96 0 1 0 5.92 0a2.96 2.96 0 1 0 -5.92 0M393.5 193.4a3.48 3.48 0 1 0 6.97 0a3.48 3.48 0 1 0 -6.97 0M412.0 193.4a3.36 3.36 0 1 0 6.73 0a3.36 3.36 0 1 0 -6.73 0M429.3 193.4a4.43 4.43 0 1 0 8.87 0a4.43 4.43 0 1 0 -8.87 0M447.0 193.4a5.01 5.01 0 1 0 10.02 0a5.01 5.01 0 1 0 -10.02 0M469.1 193.4a1.30 1.30 0 1 0 2.60 0a1.30 1.30 0 1 0 -2.60 0M487.2 193.4a1.47 1.47 0 1 0 2.95 0a1.47 1.47 0 1 0 -2.95 0M503.6 193.4a3.48 3.48 0 1 0 6.96 0a3.48 3.48 0 1 0 -6.96 0M519.2 193.4a6.15 6.15 0 1 0 12.31 0a6.15 6.15 0 1 0 -12.31 0M542.4 193.4a1.30 1.30 0 1 0 2.60 0a1.30 1.30 0 1 0 -2.60 0M560.1 193.4a1.96 1.96 0 1 0 3.92 0a1.96 1.96 0 1 0 -3.92 0M577.3 193.4a3.15 3.15 0 1 0 6.30 0a3.15 3.15 0 1 0 -6.30 0M592.7 193.4a6.07 6.07 0 1 0 12.15 0a6.07 6.07 0 1 0 -12.15 0M63.8 211.8a3.11 3.11 0 1 0 6.22 0a3.11 3.11 0 1 0 -6.22 0M81.7 211.8a3.49 3.49 0 1 0 6.99 0a3.49 3.49 0 1 0 -6.99 0M100.5 211.8a3.10 3.10 0 1 0 6.20 0a3.10 3.10 0 1 0 -6.20 0M117.8 211.8a4.08 4.08 0 1 0 8.16 0a4.08 4.08 0 1 0 -8.16 0M137.1 211.8a3.15 3.15 0 1 0 6.29 0a3.15 3.15 0 1 0 -6.29 0M155.2 211.8a3.36 3.36 0 1 0 6.72 0a3.36 3.36 0 1 0 -6.72 0M173.8 211.8a3.10 3.10 0 1 0 6.20 0a3.10 3.10 0 1 0 -6.20 0M191.3 211.8a4.01 4.01 0 1 0 8.01 0a4.01 4.01 0 1 0 -8.01 0M211.2 211.8a2.44 2.44 0 1 0 4.88 0a2.44 2.44 0 1 0 -4.88 0M230.6 211.8a1.31 1.31 0 1 0 2.63 0a1.31 1.31 0 1 0 -2.63 0M249.0 211.8a1.30 1.30 0 1 0 2.60 0a1.30 1.30 0 1 0 -2.60 0M304.0 211.8a1.31 1.31 0 1 0 2.62 0a1.31 1.31 0 1 0 -2.62 0M322.0 211.8a1.70 1.70 0 1 0 3.40 0a1.70 1.70 0 1 0 -3.40 0M339.9 211.8a2.08 2.08 0 1 0 4.16 0a2.08 2.08 0 1 0 -4.16 0M357.9 211.8a2.46 2.46 0 1 0 4.92 0a2.46 2.46 0 1 0 -4.92 0M375.7 211.8a2.96 2.96 0 1 0 5.92 0a2.96 2.96 0 1 0 -5.92 0M393.5 211.8a3.48 3.48 0 1 0 6.97 0a3.48 3.48 0 1 0 -6.97 0M411.4 211.8a3.93 3.93 0 1 0 7.87 0a3.93 3.93 0 1 0 -7.87 0M430.6 211.8a3.09 3.09 0 1 0 6.18 0a3.09 3.09 0 1 0 -6.18 0M450.7 211.8a1.30 1.30 0 1 0 2.60 0a1.30 1.30 0 1 0 -2.60 0M465.6 211.8a4.73 4.73 0 1 0 9.47 0a4.73 4.73 0 1 0 -9.47 0M482.4 211.8a6.29 6.29 0 1 0 12.58 0a6.29 6.29 0 1 0 -12.58 0M504.0 211.8a3.04 3.04 0 1 0 6.08 0a3.04 3.04 0 1 0 -6.08 0M523.7 211.8a1.73 1.73 0 1 0 3.45 0a1.73 1.73 0 1 0 -3.45 0M539.6 211.8a4.12 4.12 0 1 0 8.23 0a4.12 4.12 0 1 0 -8.23 0M556.4 211.8a5.72 5.72 0 1 0 11.45 0a5.72 5.72 0 1 0 -11.45 0M577.4 211.8a3.01 3.01 0 1 0 6.03 0a3.01 3.01 0 1 0 -6.03 0M597.0 211.8a1.78 1.78 0 1 0 3.57 0a1.78 1.78 0 1 0 -3.57 0M613.0 211.8a4.07 4.07 0 1 0 8.13 0a4.07 4.07 0 1 0 -8.13 0M61.3 230.1a5.58 5.58 0 1 0 11.17 0a5.58 5.58 0 1 0 -11.17 0M82.4 230.1a2.80 2.80 0 1 0 5.60 0a2.80 2.80 0 1 0 -5.60 0M98.0 230.1a5.59 5.59 0 1 0 11.18 0a5.59 5.59 0 1 0 -11.18 0M119.7 230.1a2.24 2.24 0 1 0 4.47 0a2.24 2.24 0 1 0 -4.47 0M134.7 230.1a5.58 5.58 0 1 0 11.17 0a5.58 5.58 0 1 0 -11.17 0M155.7 230.1a2.90 2.90 0 1 0 5.80 0a2.90 2.90 0 1 0 -5.80 0M171.3 230.1a5.59 5.59 0 1 0 11.19 0a5.59 5.59 0 1 0 -11.19 0M193.3 230.1a1.93 1.93 0 1 0 3.86 0a1.93 1.93 0 1 0 -3.86 0M209.6 230.1a4.04 4.04 0 1 0 8.08 0a4.04 4.04 0 1 0 -8.08 0M230.2 230.1a1.81 1.81 0 1 0 3.62 0a1.81 1.81 0 1 0 -3.62 0M248.6 230.1a1.71 1.71 0 1 0 3.43 0a1.71 1.71 0 1 0 -3.43 0M304.0 230.1a1.31 1.31 0 1 0 2.62 0a1.31 1.31 0 1 0 -2.62 0M322.0 230.1a1.70 1.70 0 1 0 3.40 0a1.70 1.70 0 1 0 -3.40 0M339.9 230.1a2.08 2.08 0 1 0 4.16 0a2.08 2.08 0 1 0 -4.16 0M357.9 230.1a2.46 2.46 0 1 0 4.92 0a2.46 2.46 0 1 0 -4.92 0M375.7 230.1a2.96 2.96 0 1 0 5.92 0a2.96 2.96 0 1 0 -5.92 0M393.5 230.1a3.48 3.48 0 1 0 6.97 0a3.48 3.48 0 1 0 -6.97 0M411.9 230.1a3.47 3.47 0 1 0 6.95 0a3.47 3.47 0 1 0 -6.95 0M429.3 230.1a4.43 4.43 0 1 0 8.85 0a4.43 4.43 0 1 0 -8.85 0M447.7 230.1a4.38 4.38 0 1 0 8.75 0a4.38 4.38 0 1 0 -8.75 0M465.0 230.1a5.38 5.38 0 1 0 10.76 0a5.38 5.38 0 1 0 -10.76 0M487.0 230.1a1.73 1.73 0 1 0 3.46 0a1.73 1.73 0 1 0 -3.46 0M501.0 230.1a6.06 6.06 0 1 0 12.11 0a6.06 6.06 0 1 0 -12.11 0M520.5 230.1a4.91 4.91 0 1 0 9.83 0a4.91 4.91 0 1 0 -9.83 0M538.3 230.1a5.45 5.45 0 1 0 10.90 0a5.45 5.45 0 1 0 -10.90 0M560.6 230.1a1.48 1.48 0 1 0 2.96 0a1.48 1.48 0 1 0 -2.96 0M574.5 230.1a5.94 5.94 0 1 0 11.89 0a5.94 5.94 0 1 0 -11.89 0M593.9 230.1a4.82 4.82 0 1 0 9.64 0a4.82 4.82 0 1 0 -9.64 0M611.6 230.1a5.45 5.45 0 1 0 10.90 0a5.45 5.45 0 1 0 -10.90 0M60.0 248.4a6.93 6.93 0 1 0 13.87 0a6.93 6.93 0 1 0 -13.87 0M96.6 248.4a6.93 6.93 0 1 0 13.86 0a6.93 6.93 0 1 0 -13.86 0M120.6 248.4a1.30 1.30 0 1 0 2.60 0a1.30 1.30 0 1 0 -2.60 0M133.3 248.4a6.94 6.94 0 1 0 13.87 0a6.94 6.94 0 1 0 -13.87 0M170.0 248.4a6.93 6.93 0 1 0 13.86 0a6.93 6.93 0 1 0 -13.86 0M193.9 248.4a1.35 1.35 0 1 0 2.70 0a1.35 1.35 0 1 0 -2.70 0M208.6 248.4a5.02 5.02 0 1 0 10.05 0a5.02 5.02 0 1 0 -10.05 0M248.2 248.4a2.05 2.05 0 1 0 4.11 0a2.05 2.05 0 1 0 -4.11 0M304.0 248.4a1.31 1.31 0 1 0 2.62 0a1.31 1.31 0 1 0 -2.62 0M322.0 248.4a1.70 1.70 0 1 0 3.40 0a1.70 1.70 0 1 0 -3.40 0M339.9 248.4a2.08 2.08 0 1 0 4.16 0a2.08 2.08 0 1 0 -4.16 0M357.9 248.4a2.46 2.46 0 1 0 4.92 0a2.46 2.46 0 1 0 -4.92 0M375.7 248.4a2.96 2.96 0 1 0 5.92 0a2.96 2.96 0 1 0 -5.92 0M393.5 248.4a3.48 3.48 0 1 0 6.97 0a3.48 3.48 0 1 0 -6.97 0M411.6 248.4a3.74 3.74 0 1 0 7.47 0a3.74 3.74 0 1 0 -7.47 0M429.7 248.4a3.99 3.99 0 1 0 7.97 0a3.99 3.99 0 1 0 -7.97 0M449.3 248.4a2.76 2.76 0 1 0 5.52 0a2.76 2.76 0 1 0 -5.52 0M463.3 248.4a7.09 7.09 0 1 0 14.19 0a7.09 7.09 0 1 0 -14.19 0M484.6 248.4a4.12 4.12 0 1 0 8.25 0a4.12 4.12 0 1 0 -8.25 0M500.2 248.4a6.91 6.91 0 1 0 13.81 0a6.91 6.91 0 1 0 -13.81 0M523.2 248.4a2.17 2.17 0 1 0 4.34 0a2.17 2.17 0 1 0 -4.34 0M536.7 248.4a7.04 7.04 0 1 0 14.09 0a7.04 7.04 0 1 0 -14.09 0M558.6 248.4a3.45 3.45 0 1 0 6.90 0a3.45 3.45 0 1 0 -6.90 0M573.5 248.4a6.89 6.89 0 1 0 13.79 0a6.89 6.89 0 1 0 -13.79 0M596.7 248.4a2.07 2.07 0 1 0 4.14 0a2.07 2.07 0 1 0 -4.14 0M610.1 248.4a7.04 7.04 0 1 0 14.07 0a7.04 7.04 0 1 0 -14.07 0M60.0 266.8a6.87 6.87 0 1 0 13.73 0a6.87 6.87 0 1 0 -13.73 0M96.7 266.8a6.87 6.87 0 1 0 13.73 0a6.87 6.87 0 1 0 -13.73 0M120.5 266.8a1.39 1.39 0 1 0 2.77 0a1.39 1.39 0 1 0 -2.77 0M133.4 266.8a6.87 6.87 0 1 0 13.74 0a6.87 6.87 0 1 0 -13.74 0M170.1 266.8a6.87 6.87 0 1 0 13.73 0a6.87 6.87 0 1 0 -13.73 0M193.8 266.8a1.50 1.50 0 1 0 3.00 0a1.50 1.50 0 1 0 -3.00 0M208.6 266.8a4.98 4.98 0 1 0 9.96 0a4.98 4.98 0 1 0 -9.96 0M248.3 266.8a2.03 2.03 0 1 0 4.07 0a2.03 2.03 0 1 0 -4.07 0M304.0 266.8a1.31 1.31 0 1 0 2.62 0a1.31 1.31 0 1 0 -2.62 0M322.0 266.8a1.70 1.70 0 1 0 3.40 0a1.70 1.70 0 1 0 -3.40 0M339.9 266.8a2.08 2.08 0 1 0 4.16 0a2.08 2.08 0 1 0 -4.16 0M357.9 266.8a2.46 2.46 0 1 0 4.92 0a2.46 2.46 0 1 0 -4.92 0M375.7 266.8a2.96 2.96 0 1 0 5.92 0a2.96 2.96 0 1 0 -5.92 0M393.5 266.8a3.48 3.48 0 1 0 6.97 0a3.48 3.48 0 1 0 -6.97 0M411.6 266.8a3.73 3.73 0 1 0 7.46 0a3.73 3.73 0 1 0 -7.46 0M429.7 266.8a4.00 4.00 0 1 0 8.00 0a4.00 4.00 0 1 0 -8.00 0M449.2 266.8a2.80 2.80 0 1 0 5.59 0a2.80 2.80 0 1 0 -5.59 0M463.3 266.8a7.11 7.11 0 1 0 14.22 0a7.11 7.11 0 1 0 -14.22 0M484.7 266.8a4.07 4.07 0 1 0 8.14 0a4.07 4.07 0 1 0 -8.14 0M500.1 266.8a6.94 6.94 0 1 0 13.88 0a6.94 6.94 0 1 0 -13.88 0M523.2 266.8a2.22 2.22 0 1 0 4.43 0a2.22 2.22 0 1 0 -4.43 0M536.7 266.8a7.06 7.06 0 1 0 14.13 0a7.06 7.06 0 1 0 -14.13 0M558.7 266.8a3.40 3.40 0 1 0 6.79 0a3.40 3.40 0 1 0 -6.79 0M573.5 266.8a6.92 6.92 0 1 0 13.85 0a6.92 6.92 0 1 0 -13.85 0M596.6 266.8a2.11 2.11 0 1 0 4.23 0a2.11 2.11 0 1 0 -4.23 0M610.0 266.8a7.06 7.06 0 1 0 14.11 0a7.06 7.06 0 1 0 -14.11 0M61.5 285.1a5.40 5.40 0 1 0 10.80 0a5.40 5.40 0 1 0 -10.80 0M82.3 285.1a2.93 2.93 0 1 0 5.87 0a2.93 2.93 0 1 0 -5.87 0M98.2 285.1a5.41 5.41 0 1 0 10.82 0a5.41 5.41 0 1 0 -10.82 0M119.6 285.1a2.37 2.37 0 1 0 4.73 0a2.37 2.37 0 1 0 -4.73 0M134.9 285.1a5.40 5.40 0 1 0 10.80 0a5.40 5.40 0 1 0 -10.80 0M155.6 285.1a3.03 3.03 0 1 0 6.06 0a3.03 3.03 0 1 0 -6.06 0M171.5 285.1a5.41 5.41 0 1 0 10.82 0a5.41 5.41 0 1 0 -10.82 0M193.2 285.1a2.05 2.05 0 1 0 4.10 0a2.05 2.05 0 1 0 -4.10 0M209.7 285.1a3.91 3.91 0 1 0 7.82 0a3.91 3.91 0 1 0 -7.82 0M230.1 285.1a1.87 1.87 0 1 0 3.74 0a1.87 1.87 0 1 0 -3.74 0M248.6 285.1a1.67 1.67 0 1 0 3.34 0a1.67 1.67 0 1 0 -3.34 0M304.0 285.1a1.31 1.31 0 1 0 2.62 0a1.31 1.31 0 1 0 -2.62 0M322.0 285.1a1.70 1.70 0 1 0 3.40 0a1.70 1.70 0 1 0 -3.40 0M339.9 285.1a2.08 2.08 0 1 0 4.16 0a2.08 2.08 0 1 0 -4.16 0M357.9 285.1a2.46 2.46 0 1 0 4.92 0a2.46 2.46 0 1 0 -4.92 0M375.7 285.1a2.96 2.96 0 1 0 5.92 0a2.96 2.96 0 1 0 -5.92 0M393.5 285.1a3.48 3.48 0 1 0 6.97 0a3.48 3.48 0 1 0 -6.97 0M411.9 285.1a3.48 3.48 0 1 0 6.96 0a3.48 3.48 0 1 0 -6.96 0M429.3 285.1a4.42 4.42 0 1 0 8.85 0a4.42 4.42 0 1 0 -8.85 0M447.7 285.1a4.35 4.35 0 1 0 8.70 0a4.35 4.35 0 1 0 -8.70 0M464.9 285.1a5.46 5.46 0 1 0 10.91 0a5.46 5.46 0 1 0 -10.91 0M487.0 285.1a1.76 1.76 0 1 0 3.51 0a1.76 1.76 0 1 0 -3.51 0M500.9 285.1a6.11 6.11 0 1 0 12.22 0a6.11 6.11 0 1 0 -12.22 0M520.5 285.1a4.87 4.87 0 1 0 9.73 0a4.87 4.87 0 1 0 -9.73 0M538.2 285.1a5.53 5.53 0 1 0 11.05 0a5.53 5.53 0 1 0 -11.05 0M560.6 285.1a1.48 1.48 0 1 0 2.97 0a1.48 1.48 0 1 0 -2.97 0M574.4 285.1a6.00 6.00 0 1 0 12.01 0a6.00 6.00 0 1 0 -12.01 0M594.0 285.1a4.78 4.78 0 1 0 9.55 0a4.78 4.78 0 1 0 -9.55 0M611.6 285.1a5.53 5.53 0 1 0 11.06 0a5.53 5.53 0 1 0 -11.06 0M64.1 303.5a2.85 2.85 0 1 0 5.70 0a2.85 2.85 0 1 0 -5.70 0M81.7 303.5a3.56 3.56 0 1 0 7.13 0a3.56 3.56 0 1 0 -7.13 0M100.7 303.5a2.84 2.84 0 1 0 5.67 0a2.84 2.84 0 1 0 -5.67 0M117.8 303.5a4.15 4.15 0 1 0 8.30 0a4.15 4.15 0 1 0 -8.30 0M137.4 303.5a2.89 2.89 0 1 0 5.78 0a2.89 2.89 0 1 0 -5.78 0M155.2 303.5a3.43 3.43 0 1 0 6.87 0a3.43 3.43 0 1 0 -6.87 0M174.1 303.5a2.84 2.84 0 1 0 5.67 0a2.84 2.84 0 1 0 -5.67 0M191.2 303.5a4.07 4.07 0 1 0 8.14 0a4.07 4.07 0 1 0 -8.14 0M211.3 303.5a2.27 2.27 0 1 0 4.55 0a2.27 2.27 0 1 0 -4.55 0M230.6 303.5a1.35 1.35 0 1 0 2.70 0a1.35 1.35 0 1 0 -2.70 0M304.0 303.5a1.31 1.31 0 1 0 2.62 0a1.31 1.31 0 1 0 -2.62 0M322.0 303.5a1.70 1.70 0 1 0 3.40 0a1.70 1.70 0 1 0 -3.40 0M339.9 303.5a2.08 2.08 0 1 0 4.16 0a2.08 2.08 0 1 0 -4.16 0M357.9 303.5a2.46 2.46 0 1 0 4.92 0a2.46 2.46 0 1 0 -4.92 0M375.7 303.5a2.96 2.96 0 1 0 5.92 0a2.96 2.96 0 1 0 -5.92 0M393.5 303.5a3.48 3.48 0 1 0 6.97 0a3.48 3.48 0 1 0 -6.97 0M411.4 303.5a3.93 3.93 0 1 0 7.86 0a3.93 3.93 0 1 0 -7.86 0M430.6 303.5a3.10 3.10 0 1 0 6.20 0a3.10 3.10 0 1 0 -6.20 0M450.7 303.5a1.30 1.30 0 1 0 2.60 0a1.30 1.30 0 1 0 -2.60 0M465.6 303.5a4.79 4.79 0 1 0 9.58 0a4.79 4.79 0 1 0 -9.58 0M482.5 303.5a6.27 6.27 0 1 0 12.54 0a6.27 6.27 0 1 0 -12.54 0M503.9 303.5a3.14 3.14 0 1 0 6.28 0a3.14 3.14 0 1 0 -6.28 0M523.7 303.5a1.71 1.71 0 1 0 3.43 0a1.71 1.71 0 1 0 -3.43 0M539.6 303.5a4.19 4.19 0 1 0 8.37 0a4.19 4.19 0 1 0 -8.37 0M556.4 303.5a5.70 5.70 0 1 0 11.40 0a5.70 5.70 0 1 0 -11.40 0M577.3 303.5a3.12 3.12 0 1 0 6.24 0a3.12 3.12 0 1 0 -6.24 0M597.0 303.5a1.77 1.77 0 1 0 3.54 0a1.77 1.77 0 1 0 -3.54 0M613.0 303.5a4.14 4.14 0 1 0 8.27 0a4.14 4.14 0 1 0 -8.27 0M80.9 321.8a4.39 4.39 0 1 0 8.78 0a4.39 4.39 0 1 0 -8.78 0M118.1 321.8a3.82 3.82 0 1 0 7.64 0a3.82 3.82 0 1 0 -7.64 0M154.1 321.8a4.47 4.47 0 1 0 8.95 0a4.47 4.47 0 1 0 -8.95 0M191.9 321.8a3.40 3.40 0 1 0 6.81 0a3.40 3.40 0 1 0 -6.81 0M229.4 321.8a2.59 2.59 0 1 0 5.18 0a2.59 2.59 0 1 0 -5.18 0M304.0 321.8a1.31 1.31 0 1 0 2.62 0a1.31 1.31 0 1 0 -2.62 0M322.0 321.8a1.70 1.70 0 1 0 3.40 0a1.70 1.70 0 1 0 -3.40 0M339.9 321.8a2.08 2.08 0 1 0 4.16 0a2.08 2.08 0 1 0 -4.16 0M357.9 321.8a2.46 2.46 0 1 0 4.92 0a2.46 2.46 0 1 0 -4.92 0M375.7 321.8a2.96 2.96 0 1 0 5.92 0a2.96 2.96 0 1 0 -5.92 0M393.5 321.8a3.48 3.48 0 1 0 6.97 0a3.48 3.48 0 1 0 -6.97 0M412.0 321.8a3.36 3.36 0 1 0 6.73 0a3.36 3.36 0 1 0 -6.73 0M429.3 321.8a4.43 4.43 0 1 0 8.87 0a4.43 4.43 0 1 0 -8.87 0M447.0 321.8a5.01 5.01 0 1 0 10.02 0a5.01 5.01 0 1 0 -10.02 0M469.1 321.8a1.30 1.30 0 1 0 2.60 0a1.30 1.30 0 1 0 -2.60 0M487.2 321.8a1.47 1.47 0 1 0 2.95 0a1.47 1.47 0 1 0 -2.95 0M503.6 321.8a3.48 3.48 0 1 0 6.95 0a3.48 3.48 0 1 0 -6.95 0M519.2 321.8a6.15 6.15 0 1 0 12.31 0a6.15 6.15 0 1 0 -12.31 0M560.1 321.8a1.96 1.96 0 1 0 3.92 0a1.96 1.96 0 1 0 -3.92 0M577.3 321.8a3.15 3.15 0 1 0 6.29 0a3.15 3.15 0 1 0 -6.29 0M592.7 321.8a6.08 6.08 0 1 0 12.15 0a6.08 6.08 0 1 0 -12.15 0M63.5 340.1a3.40 3.40 0 1 0 6.81 0a3.40 3.40 0 1 0 -6.81 0M81.8 340.1a3.40 3.40 0 1 0 6.81 0a3.40 3.40 0 1 0 -6.81 0M100.2 340.1a3.39 3.39 0 1 0 6.79 0a3.39 3.39 0 1 0 -6.79 0M117.9 340.1a3.99 3.99 0 1 0 7.98 0a3.99 3.99 0 1 0 -7.98 0M136.8 340.1a3.44 3.44 0 1 0 6.87 0a3.44 3.44 0 1 0 -6.87 0M155.3 340.1a3.27 3.27 0 1 0 6.55 0a3.27 3.27 0 1 0 -6.55 0M173.5 340.1a3.39 3.39 0 1 0 6.79 0a3.39 3.39 0 1 0 -6.79 0M191.4 340.1a3.92 3.92 0 1 0 7.84 0a3.92 3.92 0 1 0 -7.84 0M211.0 340.1a2.63 2.63 0 1 0 5.26 0a2.63 2.63 0 1 0 -5.26 0M230.7 340.1a1.30 1.30 0 1 0 2.60 0a1.30 1.30 0 1 0 -2.60 0M249.0 340.1a1.30 1.30 0 1 0 2.60 0a1.30 1.30 0 1 0 -2.60 0M304.0 340.1a1.31 1.31 0 1 0 2.62 0a1.31 1.31 0 1 0 -2.62 0M322.0 340.1a1.70 1.70 0 1 0 3.40 0a1.70 1.70 0 1 0 -3.40 0M339.9 340.1a2.08 2.08 0 1 0 4.16 0a2.08 2.08 0 1 0 -4.16 0M357.9 340.1a2.46 2.46 0 1 0 4.92 0a2.46 2.46 0 1 0 -4.92 0M375.7 340.1a2.96 2.96 0 1 0 5.92 0a2.96 2.96 0 1 0 -5.92 0M393.5 340.1a3.48 3.48 0 1 0 6.97 0a3.48 3.48 0 1 0 -6.97 0M411.4 340.1a3.93 3.93 0 1 0 7.86 0a3.93 3.93 0 1 0 -7.86 0M430.6 340.1a3.13 3.13 0 1 0 6.25 0a3.13 3.13 0 1 0 -6.25 0M450.7 340.1a1.30 1.30 0 1 0 2.60 0a1.30 1.30 0 1 0 -2.60 0M465.5 340.1a4.88 4.88 0 1 0 9.76 0a4.88 4.88 0 1 0 -9.76 0M482.5 340.1a6.23 6.23 0 1 0 12.45 0a6.23 6.23 0 1 0 -12.45 0M503.7 340.1a3.31 3.31 0 1 0 6.63 0a3.31 3.31 0 1 0 -6.63 0M523.7 340.1a1.69 1.69 0 1 0 3.38 0a1.69 1.69 0 1 0 -3.38 0M539.4 340.1a4.30 4.30 0 1 0 8.61 0a4.30 4.30 0 1 0 -8.61 0M556.4 340.1a5.66 5.66 0 1 0 11.31 0a5.66 5.66 0 1 0 -11.31 0M577.1 340.1a3.29 3.29 0 1 0 6.58 0a3.29 3.29 0 1 0 -6.58 0M597.0 340.1a1.75 1.75 0 1 0 3.49 0a1.75 1.75 0 1 0 -3.49 0M612.8 340.1a4.26 4.26 0 1 0 8.52 0a4.26 4.26 0 1 0 -8.52 0M61.1 358.5a5.78 5.78 0 1 0 11.56 0a5.78 5.78 0 1 0 -11.56 0M82.6 358.5a2.65 2.65 0 1 0 5.29 0a2.65 2.65 0 1 0 -5.29 0M97.8 358.5a5.79 5.79 0 1 0 11.58 0a5.79 5.79 0 1 0 -11.58 0M119.8 358.5a2.08 2.08 0 1 0 4.16 0a2.08 2.08 0 1 0 -4.16 0M134.5 358.5a5.78 5.78 0 1 0 11.56 0a5.78 5.78 0 1 0 -11.56 0M155.9 358.5a2.75 2.75 0 1 0 5.49 0a2.75 2.75 0 1 0 -5.49 0M171.1 358.5a5.79 5.79 0 1 0 11.58 0a5.79 5.79 0 1 0 -11.58 0M193.5 358.5a1.79 1.79 0 1 0 3.58 0a1.79 1.79 0 1 0 -3.58 0M209.4 358.5a4.18 4.18 0 1 0 8.36 0a4.18 4.18 0 1 0 -8.36 0M230.2 358.5a1.73 1.73 0 1 0 3.46 0a1.73 1.73 0 1 0 -3.46 0M248.5 358.5a1.77 1.77 0 1 0 3.53 0a1.77 1.77 0 1 0 -3.53 0M304.0 358.5a1.31 1.31 0 1 0 2.62 0a1.31 1.31 0 1 0 -2.62 0M322.0 358.5a1.70 1.70 0 1 0 3.40 0a1.70 1.70 0 1 0 -3.40 0M339.9 358.5a2.08 2.08 0 1 0 4.16 0a2.08 2.08 0 1 0 -4.16 0M357.9 358.5a2.46 2.46 0 1 0 4.92 0a2.46 2.46 0 1 0 -4.92 0M375.7 358.5a2.96 2.96 0 1 0 5.92 0a2.96 2.96 0 1 0 -5.92 0M393.5 358.5a3.48 3.48 0 1 0 6.97 0a3.48 3.48 0 1 0 -6.97 0M411.9 358.5a3.49 3.49 0 1 0 6.97 0a3.49 3.49 0 1 0 -6.97 0M429.3 358.5a4.42 4.42 0 1 0 8.84 0a4.42 4.42 0 1 0 -8.84 0M447.7 358.5a4.31 4.31 0 1 0 8.62 0a4.31 4.31 0 1 0 -8.62 0M464.8 358.5a5.58 5.58 0 1 0 11.16 0a5.58 5.58 0 1 0 -11.16 0M486.9 358.5a1.80 1.80 0 1 0 3.60 0a1.80 1.80 0 1 0 -3.60 0M500.9 358.5a6.21 6.21 0 1 0 12.41 0a6.21 6.21 0 1 0 -12.41 0M520.6 358.5a4.79 4.79 0 1 0 9.58 0a4.79 4.79 0 1 0 -9.58 0M538.1 358.5a5.65 5.65 0 1 0 11.31 0a5.65 5.65 0 1 0 -11.31 0M560.6 358.5a1.49 1.49 0 1 0 2.98 0a1.49 1.49 0 1 0 -2.98 0M574.3 358.5a6.10 6.10 0 1 0 12.21 0a6.10 6.10 0 1 0 -12.21 0M594.1 358.5a4.70 4.70 0 1 0 9.39 0a4.70 4.70 0 1 0 -9.39 0M611.4 358.5a5.65 5.65 0 1 0 11.31 0a5.65 5.65 0 1 0 -11.31 0M59.9 376.8a6.99 6.99 0 1 0 13.99 0a6.99 6.99 0 1 0 -13.99 0M96.6 376.8a6.99 6.99 0 1 0 13.98 0a6.99 6.99 0 1 0 -13.98 0M120.6 376.8a1.30 1.30 0 1 0 2.60 0a1.30 1.30 0 1 0 -2.60 0M133.3 376.8a7.00 7.00 0 1 0 13.99 0a7.00 7.00 0 1 0 -13.99 0M169.9 376.8a6.99 6.99 0 1 0 13.99 0a6.99 6.99 0 1 0 -13.99 0M194.0 376.8a1.30 1.30 0 1 0 2.60 0a1.30 1.30 0 1 0 -2.60 0M208.6 376.8a5.06 5.06 0 1 0 10.13 0a5.06 5.06 0 1 0 -10.13 0M248.2 376.8a2.07 2.07 0 1 0 4.14 0a2.07 2.07 0 1 0 -4.14 0M304.0 376.8a1.31 1.31 0 1 0 2.62 0a1.31 1.31 0 1 0 -2.62 0M322.0 376.8a1.70 1.70 0 1 0 3.40 0a1.70 1.70 0 1 0 -3.40 0M339.9 376.8a2.08 2.08 0 1 0 4.16 0a2.08 2.08 0 1 0 -4.16 0M357.9 376.8a2.46 2.46 0 1 0 4.92 0a2.46 2.46 0 1 0 -4.92 0M375.7 376.8a2.96 2.96 0 1 0 5.92 0a2.96 2.96 0 1 0 -5.92 0M393.5 376.8a3.48 3.48 0 1 0 6.97 0a3.48 3.48 0 1 0 -6.97 0M411.6 376.8a3.72 3.72 0 1 0 7.44 0a3.72 3.72 0 1 0 -7.44 0M429.7 376.8a4.03 4.03 0 1 0 8.05 0a4.03 4.03 0 1 0 -8.05 0M449.2 376.8a2.85 2.85 0 1 0 5.70 0a2.85 2.85 0 1 0 -5.70 0M463.3 376.8a7.13 7.13 0 1 0 14.26 0a7.13 7.13 0 1 0 -14.26 0M484.7 376.8a3.98 3.98 0 1 0 7.96 0a3.98 3.98 0 1 0 -7.96 0M500.1 376.8a6.99 6.99 0 1 0 13.97 0a6.99 6.99 0 1 0 -13.97 0M523.1 376.8a2.29 2.29 0 1 0 4.58 0a2.29 2.29 0 1 0 -4.58 0M536.6 376.8a7.09 7.09 0 1 0 14.18 0a7.09 7.09 0 1 0 -14.18 0M558.8 376.8a3.30 3.30 0 1 0 6.61 0a3.30 3.30 0 1 0 -6.61 0M573.4 376.8a6.97 6.97 0 1 0 13.94 0a6.97 6.97 0 1 0 -13.94 0M596.6 376.8a2.19 2.19 0 1 0 4.38 0a2.19 2.19 0 1 0 -4.38 0M610.0 376.8a7.09 7.09 0 1 0 14.17 0a7.09 7.09 0 1 0 -14.17 0M60.1 395.2a6.78 6.78 0 1 0 13.56 0a6.78 6.78 0 1 0 -13.56 0M96.8 395.2a6.78 6.78 0 1 0 13.55 0a6.78 6.78 0 1 0 -13.55 0M120.3 395.2a1.57 1.57 0 1 0 3.14 0a1.57 1.57 0 1 0 -3.14 0M133.5 395.2a6.78 6.78 0 1 0 13.57 0a6.78 6.78 0 1 0 -13.57 0M170.2 395.2a6.78 6.78 0 1 0 13.55 0a6.78 6.78 0 1 0 -13.55 0M193.6 395.2a1.67 1.67 0 1 0 3.34 0a1.67 1.67 0 1 0 -3.34 0M208.7 395.2a4.92 4.92 0 1 0 9.84 0a4.92 4.92 0 1 0 -9.84 0M248.3 395.2a2.01 2.01 0 1 0 4.02 0a2.01 2.01 0 1 0 -4.02 0M304.0 395.2a1.31 1.31 0 1 0 2.62 0a1.31 1.31 0 1 0 -2.62 0M322.0 395.2a1.70 1.70 0 1 0 3.40 0a1.70 1.70 0 1 0 -3.40 0M339.9 395.2a2.08 2.08 0 1 0 4.16 0a2.08 2.08 0 1 0 -4.16 0M357.9 395.2a2.46 2.46 0 1 0 4.92 0a2.46 2.46 0 1 0 -4.92 0M375.7 395.2a2.96 2.96 0 1 0 5.92 0a2.96 2.96 0 1 0 -5.92 0M393.5 395.2a3.48 3.48 0 1 0 6.97 0a3.48 3.48 0 1 0 -6.97 0M411.6 395.2a3.74 3.74 0 1 0 7.49 0a3.74 3.74 0 1 0 -7.49 0M429.7 395.2a3.96 3.96 0 1 0 7.92 0a3.96 3.96 0 1 0 -7.92 0M449.3 395.2a2.71 2.71 0 1 0 5.41 0a2.71 2.71 0 1 0 -5.41 0M463.3 395.2a7.07 7.07 0 1 0 14.13 0a7.07 7.07 0 1 0 -14.13 0M484.5 395.2a4.21 4.21 0 1 0 8.42 0a4.21 4.21 0 1 0 -8.42 0M500.2 395.2a6.85 6.85 0 1 0 13.70 0a6.85 6.85 0 1 0 -13.70 0M523.3 395.2a2.10 2.10 0 1 0 4.20 0a2.10 2.10 0 1 0 -4.20 0M536.7 395.2a7.01 7.01 0 1 0 14.01 0a7.01 7.01 0 1 0 -14.01 0M558.5 395.2a3.54 3.54 0 1 0 7.08 0a3.54 3.54 0 1 0 -7.08 0M573.6 395.2a6.84 6.84 0 1 0 13.67 0a6.84 6.84 0 1 0 -13.67 0M596.8 395.2a2.00 2.00 0 1 0 4.00 0a2.00 2.00 0 1 0 -4.00 0M610.1 395.2a7.00 7.00 0 1 0 14.00 0a7.00 7.00 0 1 0 -14.00 0M61.7 413.5a5.18 5.18 0 1 0 10.36 0a5.18 5.18 0 1 0 -10.36 0M82.2 413.5a3.08 3.08 0 1 0 6.15 0a3.08 3.08 0 1 0 -6.15 0M98.4 413.5a5.19 5.19 0 1 0 10.38 0a5.19 5.19 0 1 0 -10.38 0M119.4 413.5a2.51 2.51 0 1 0 5.02 0a2.51 2.51 0 1 0 -5.02 0M135.1 413.5a5.18 5.18 0 1 0 10.36 0a5.18 5.18 0 1 0 -10.36 0M155.4 413.5a3.17 3.17 0 1 0 6.35 0a3.17 3.17 0 1 0 -6.35 0M171.7 413.5a5.19 5.19 0 1 0 10.39 0a5.19 5.19 0 1 0 -10.39 0M193.1 413.5a2.19 2.19 0 1 0 4.37 0a2.19 2.19 0 1 0 -4.37 0M209.9 413.5a3.75 3.75 0 1 0 7.50 0a3.75 3.75 0 1 0 -7.50 0M230.0 413.5a1.94 1.94 0 1 0 3.89 0a1.94 1.94 0 1 0 -3.89 0M248.7 413.5a1.61 1.61 0 1 0 3.22 0a1.61 1.61 0 1 0 -3.22 0M304.0 413.5a1.31 1.31 0 1 0 2.62 0a1.31 1.31 0 1 0 -2.62 0M322.0 413.5a1.70 1.70 0 1 0 3.40 0a1.70 1.70 0 1 0 -3.40 0M339.9 413.5a2.08 2.08 0 1 0 4.16 0a2.08 2.08 0 1 0 -4.16 0M357.9 413.5a2.46 2.46 0 1 0 4.92 0a2.46 2.46 0 1 0 -4.92 0M375.7 413.5a2.96 2.96 0 1 0 5.92 0a2.96 2.96 0 1 0 -5.92 0M393.5 413.5a3.48 3.48 0 1 0 6.97 0a3.48 3.48 0 1 0 -6.97 0M411.9 413.5a3.47 3.47 0 1 0 6.94 0a3.47 3.47 0 1 0 -6.94 0M429.3 413.5a4.43 4.43 0 1 0 8.86 0a4.43 4.43 0 1 0 -8.86 0M447.6 413.5a4.42 4.42 0 1 0 8.83 0a4.42 4.42 0 1 0 -8.83 0M465.1 413.5a5.25 5.25 0 1 0 10.50 0a5.25 5.25 0 1 0 -10.50 0M487.0 413.5a1.69 1.69 0 1 0 3.38 0a1.69 1.69 0 1 0 -3.38 0M501.1 413.5a5.96 5.96 0 1 0 11.91 0a5.96 5.96 0 1 0 -11.91 0M520.4 413.5a4.99 4.99 0 1 0 9.98 0a4.99 4.99 0 1 0 -9.98 0M538.4 413.5a5.32 5.32 0 1 0 10.64 0a5.32 5.32 0 1 0 -10.64 0M560.6 413.5a1.48 1.48 0 1 0 2.97 0a1.48 1.48 0 1 0 -2.97 0M574.6 413.5a5.84 5.84 0 1 0 11.68 0a5.84 5.84 0 1 0 -11.68 0M593.9 413.5a4.90 4.90 0 1 0 9.80 0a4.90 4.90 0 1 0 -9.80 0M611.8 413.5a5.32 5.32 0 1 0 10.64 0a5.32 5.32 0 1 0 -10.64 0M64.4 431.8a2.54 2.54 0 1 0 5.09 0a2.54 2.54 0 1 0 -5.09 0M81.6 431.8a3.64 3.64 0 1 0 7.27 0a3.64 3.64 0 1 0 -7.27 0M101.1 431.8a2.53 2.53 0 1 0 5.06 0a2.53 2.53 0 1 0 -5.06 0M117.7 431.8a4.22 4.22 0 1 0 8.45 0a4.22 4.22 0 1 0 -8.45 0M137.7 431.8a2.59 2.59 0 1 0 5.18 0a2.59 2.59 0 1 0 -5.18 0M155.1 431.8a3.51 3.51 0 1 0 7.01 0a3.51 3.51 0 1 0 -7.01 0M174.4 431.8a2.53 2.53 0 1 0 5.06 0a2.53 2.53 0 1 0 -5.06 0M191.1 431.8a4.14 4.14 0 1 0 8.28 0a4.14 4.14 0 1 0 -8.28 0M211.5 431.8a2.08 2.08 0 1 0 4.17 0a2.08 2.08 0 1 0 -4.17 0M230.6 431.8a1.39 1.39 0 1 0 2.77 0a1.39 1.39 0 1 0 -2.77 0M304.0 431.8a1.31 1.31 0 1 0 2.62 0a1.31 1.31 0 1 0 -2.62 0M322.0 431.8a1.70 1.70 0 1 0 3.40 0a1.70 1.70 0 1 0 -3.40 0M339.9 431.8a2.08 2.08 0 1 0 4.16 0a2.08 2.08 0 1 0 -4.16 0M357.9 431.8a2.46 2.46 0 1 0 4.92 0a2.46 2.46 0 1 0 -4.92 0M375.7 431.8a2.96 2.96 0 1 0 5.92 0a2.96 2.96 0 1 0 -5.92 0M393.5 431.8a3.48 3.48 0 1 0 6.97 0a3.48 3.48 0 1 0 -6.97 0M411.4 431.8a3.94 3.94 0 1 0 7.87 0a3.94 3.94 0 1 0 -7.87 0M430.6 431.8a3.07 3.07 0 1 0 6.13 0a3.07 3.07 0 1 0 -6.13 0M450.7 431.8a1.30 1.30 0 1 0 2.60 0a1.30 1.30 0 1 0 -2.60 0M465.7 431.8a4.65 4.65 0 1 0 9.29 0a4.65 4.65 0 1 0 -9.29 0M482.4 431.8a6.33 6.33 0 1 0 12.66 0a6.33 6.33 0 1 0 -12.66 0M504.2 431.8a2.87 2.87 0 1 0 5.73 0a2.87 2.87 0 1 0 -5.73 0M523.7 431.8a1.75 1.75 0 1 0 3.49 0a1.75 1.75 0 1 0 -3.49 0M539.7 431.8a4.00 4.00 0 1 0 8.00 0a4.00 4.00 0 1 0 -8.00 0M556.3 431.8a5.76 5.76 0 1 0 11.53 0a5.76 5.76 0 1 0 -11.53 0M577.6 431.8a2.84 2.84 0 1 0 5.68 0a2.84 2.84 0 1 0 -5.68 0M597.0 431.8a1.81 1.81 0 1 0 3.62 0a1.81 1.81 0 1 0 -3.62 0M613.2 431.8a3.95 3.95 0 1 0 7.90 0a3.95 3.95 0 1 0 -7.90 0M80.9 450.2a4.38 4.38 0 1 0 8.75 0a4.38 4.38 0 1 0 -8.75 0M118.1 450.2a3.81 3.81 0 1 0 7.62 0a3.81 3.81 0 1 0 -7.62 0M154.1 450.2a4.46 4.46 0 1 0 8.92 0a4.46 4.46 0 1 0 -8.92 0M191.9 450.2a3.39 3.39 0 1 0 6.78 0a3.39 3.39 0 1 0 -6.78 0M229.4 450.2a2.58 2.58 0 1 0 5.16 0a2.58 2.58 0 1 0 -5.16 0M304.0 450.2a1.31 1.31 0 1 0 2.62 0a1.31 1.31 0 1 0 -2.62 0M322.0 450.2a1.70 1.70 0 1 0 3.40 0a1.70 1.70 0 1 0 -3.40 0M339.9 450.2a2.08 2.08 0 1 0 4.16 0a2.08 2.08 0 1 0 -4.16 0M357.9 450.2a2.46 2.46 0 1 0 4.92 0a2.46 2.46 0 1 0 -4.92 0M375.7 450.2a2.96 2.96 0 1 0 5.92 0a2.96 2.96 0 1 0 -5.92 0M393.5 450.2a3.48 3.48 0 1 0 6.97 0a3.48 3.48 0 1 0 -6.97 0M412.0 450.2a3.36 3.36 0 1 0 6.73 0a3.36 3.36 0 1 0 -6.73 0M429.3 450.2a4.43 4.43 0 1 0 8.87 0a4.43 4.43 0 1 0 -8.87 0M447.0 450.2a5.01 5.01 0 1 0 10.02 0a5.01 5.01 0 1 0 -10.02 0M469.1 450.2a1.30 1.30 0 1 0 2.60 0a1.30 1.30 0 1 0 -2.60 0M487.2 450.2a1.47 1.47 0 1 0 2.94 0a1.47 1.47 0 1 0 -2.94 0M503.6 450.2a3.50 3.50 0 1 0 7.00 0a3.50 3.50 0 1 0 -7.00 0M519.3 450.2a6.15 6.15 0 1 0 12.30 0a6.15 6.15 0 1 0 -12.30 0M542.4 450.2a1.30 1.30 0 1 0 2.60 0a1.30 1.30 0 1 0 -2.60 0M560.1 450.2a1.95 1.95 0 1 0 3.91 0a1.95 1.95 0 1 0 -3.91 0M577.2 450.2a3.17 3.17 0 1 0 6.34 0a3.17 3.17 0 1 0 -6.34 0M592.7 450.2a6.07 6.07 0 1 0 12.14 0a6.07 6.07 0 1 0 -12.14 0M615.8 450.2a1.30 1.30 0 1 0 2.60 0a1.30 1.30 0 1 0 -2.60 0M63.2 468.5a3.69 3.69 0 1 0 7.38 0a3.69 3.69 0 1 0 -7.38 0M81.9 468.5a3.31 3.31 0 1 0 6.61 0a3.31 3.31 0 1 0 -6.61 0M99.9 468.5a3.68 3.68 0 1 0 7.36 0a3.68 3.68 0 1 0 -7.36 0M118.0 468.5a3.89 3.89 0 1 0 7.79 0a3.89 3.89 0 1 0 -7.79 0M136.5 468.5a3.72 3.72 0 1 0 7.44 0a3.72 3.72 0 1 0 -7.44 0M155.4 468.5a3.18 3.18 0 1 0 6.36 0a3.18 3.18 0 1 0 -6.36 0M173.3 468.5a3.68 3.68 0 1 0 7.36 0a3.68 3.68 0 1 0 -7.36 0M191.4 468.5a3.83 3.83 0 1 0 7.66 0a3.83 3.83 0 1 0 -7.66 0M210.8 468.5a2.82 2.82 0 1 0 5.64 0a2.82 2.82 0 1 0 -5.64 0M230.7 468.5a1.30 1.30 0 1 0 2.60 0a1.30 1.30 0 1 0 -2.60 0M249.0 468.5a1.30 1.30 0 1 0 2.60 0a1.30 1.30 0 1 0 -2.60 0M304.0 468.5a1.31 1.31 0 1 0 2.62 0a1.31 1.31 0 1 0 -2.62 0M322.0 468.5a1.70 1.70 0 1 0 3.40 0a1.70 1.70 0 1 0 -3.40 0M339.9 468.5a2.08 2.08 0 1 0 4.16 0a2.08 2.08 0 1 0 -4.16 0M357.9 468.5a2.46 2.46 0 1 0 4.92 0a2.46 2.46 0 1 0 -4.92 0M375.7 468.5a2.96 2.96 0 1 0 5.92 0a2.96 2.96 0 1 0 -5.92 0M393.5 468.5a3.48 3.48 0 1 0 6.97 0a3.48 3.48 0 1 0 -6.97 0M411.4 468.5a3.92 3.92 0 1 0 7.84 0a3.92 3.92 0 1 0 -7.84 0M430.5 468.5a3.17 3.17 0 1 0 6.33 0a3.17 3.17 0 1 0 -6.33 0M450.7 468.5a1.33 1.33 0 1 0 2.67 0a1.33 1.33 0 1 0 -2.67 0M465.3 468.5a5.03 5.03 0 1 0 10.06 0a5.03 5.03 0 1 0 -10.06 0M482.6 468.5a6.15 6.15 0 1 0 12.31 0a6.15 6.15 0 1 0 -12.31 0M503.5 468.5a3.58 3.58 0 1 0 7.17 0a3.58 3.58 0 1 0 -7.17 0M523.7 468.5a1.66 1.66 0 1 0 3.31 0a1.66 1.66 0 1 0 -3.31 0M539.2 468.5a4.50 4.50 0 1 0 8.99 0a4.50 4.50 0 1 0 -8.99 0M556.5 468.5a5.58 5.58 0 1 0 11.16 0a5.58 5.58 0 1 0 -11.16 0M576.9 468.5a3.57 3.57 0 1 0 7.13 0a3.57 3.57 0 1 0 -7.13 0M597.1 468.5a1.70 1.70 0 1 0 3.41 0a1.70 1.70 0 1 0 -3.41 0M612.6 468.5a4.45 4.45 0 1 0 8.91 0a4.45 4.45 0 1 0 -8.91 0M60.9 486.9a5.97 5.97 0 1 0 11.93 0a5.97 5.97 0 1 0 -11.93 0M82.8 486.9a2.48 2.48 0 1 0 4.97 0a2.48 2.48 0 1 0 -4.97 0M97.6 486.9a5.97 5.97 0 1 0 11.95 0a5.97 5.97 0 1 0 -11.95 0M120.0 486.9a1.92 1.92 0 1 0 3.84 0a1.92 1.92 0 1 0 -3.84 0M134.3 486.9a5.97 5.97 0 1 0 11.93 0a5.97 5.97 0 1 0 -11.93 0M156.0 486.9a2.59 2.59 0 1 0 5.18 0a2.59 2.59 0 1 0 -5.18 0M171.0 486.9a5.98 5.98 0 1 0 11.95 0a5.98 5.98 0 1 0 -11.95 0M193.6 486.9a1.64 1.64 0 1 0 3.28 0a1.64 1.64 0 1 0 -3.28 0M209.3 486.9a4.31 4.31 0 1 0 8.62 0a4.31 4.31 0 1 0 -8.62 0M230.3 486.9a1.65 1.65 0 1 0 3.31 0a1.65 1.65 0 1 0 -3.31 0M248.5 486.9a1.81 1.81 0 1 0 3.63 0a1.81 1.81 0 1 0 -3.63 0M304.0 486.9a1.31 1.31 0 1 0 2.62 0a1.31 1.31 0 1 0 -2.62 0M322.0 486.9a1.70 1.70 0 1 0 3.40 0a1.70 1.70 0 1 0 -3.40 0M339.9 486.9a2.08 2.08 0 1 0 4.16 0a2.08 2.08 0 1 0 -4.16 0M357.9 486.9a2.46 2.46 0 1 0 4.92 0a2.46 2.46 0 1 0 -4.92 0M375.7 486.9a2.96 2.96 0 1 0 5.92 0a2.96 2.96 0 1 0 -5.92 0M393.5 486.9a3.48 3.48 0 1 0 6.97 0a3.48 3.48 0 1 0 -6.97 0M411.9 486.9a3.50 3.50 0 1 0 6.99 0a3.50 3.50 0 1 0 -6.99 0M429.3 486.9a4.41 4.41 0 1 0 8.83 0a4.41 4.41 0 1 0 -8.83 0M447.8 486.9a4.24 4.24 0 1 0 8.49 0a4.24 4.24 0 1 0 -8.49 0M464.6 486.9a5.77 5.77 0 1 0 11.54 0a5.77 5.77 0 1 0 -11.54 0M486.8 486.9a1.88 1.88 0 1 0 3.76 0a1.88 1.88 0 1 0 -3.76 0M500.7 486.9a6.35 6.35 0 1 0 12.69 0a6.35 6.35 0 1 0 -12.69 0M520.7 486.9a4.66 4.66 0 1 0 9.32 0a4.66 4.66 0 1 0 -9.32 0M537.9 486.9a5.84 5.84 0 1 0 11.69 0a5.84 5.84 0 1 0 -11.69 0M560.6 486.9a1.51 1.51 0 1 0 3.01 0a1.51 1.51 0 1 0 -3.01 0M574.2 486.9a6.25 6.25 0 1 0 12.51 0a6.25 6.25 0 1 0 -12.51 0M594.2 486.9a4.57 4.57 0 1 0 9.13 0a4.57 4.57 0 1 0 -9.13 0M611.3 486.9a5.84 5.84 0 1 0 11.69 0a5.84 5.84 0 1 0 -11.69 0M59.9 505.2a7.04 7.04 0 1 0 14.08 0a7.04 7.04 0 1 0 -14.08 0M96.5 505.2a7.04 7.04 0 1 0 14.08 0a7.04 7.04 0 1 0 -14.08 0M133.2 505.2a7.04 7.04 0 1 0 14.08 0a7.04 7.04 0 1 0 -14.08 0M169.9 505.2a7.04 7.04 0 1 0 14.08 0a7.04 7.04 0 1 0 -14.08 0M194.0 505.2a1.30 1.30 0 1 0 2.60 0a1.30 1.30 0 1 0 -2.60 0M208.5 505.2a5.09 5.09 0 1 0 10.19 0a5.09 5.09 0 1 0 -10.19 0M248.2 505.2a2.08 2.08 0 1 0 4.17 0a2.08 2.08 0 1 0 -4.17 0M304.0 505.2a1.31 1.31 0 1 0 2.62 0a1.31 1.31 0 1 0 -2.62 0M322.0 505.2a1.70 1.70 0 1 0 3.40 0a1.70 1.70 0 1 0 -3.40 0M339.9 505.2a2.08 2.08 0 1 0 4.16 0a2.08 2.08 0 1 0 -4.16 0M357.9 505.2a2.46 2.46 0 1 0 4.92 0a2.46 2.46 0 1 0 -4.92 0M375.7 505.2a2.96 2.96 0 1 0 5.92 0a2.96 2.96 0 1 0 -5.92 0M393.5 505.2a3.48 3.48 0 1 0 6.97 0a3.48 3.48 0 1 0 -6.97 0M411.7 505.2a3.71 3.71 0 1 0 7.42 0a3.71 3.71 0 1 0 -7.42 0M429.6 505.2a4.06 4.06 0 1 0 8.13 0a4.06 4.06 0 1 0 -8.13 0M449.1 505.2a2.94 2.94 0 1 0 5.88 0a2.94 2.94 0 1 0 -5.88 0M463.2 505.2a7.15 7.15 0 1 0 14.30 0a7.15 7.15 0 1 0 -14.30 0M484.9 505.2a3.84 3.84 0 1 0 7.67 0a3.84 3.84 0 1 0 -7.67 0M500.0 505.2a7.05 7.05 0 1 0 14.11 0a7.05 7.05 0 1 0 -14.11 0M523.0 505.2a2.42 2.42 0 1 0 4.84 0a2.42 2.42 0 1 0 -4.84 0M536.6 505.2a7.13 7.13 0 1 0 14.26 0a7.13 7.13 0 1 0 -14.26 0M558.9 505.2a3.16 3.16 0 1 0 6.32 0a3.16 3.16 0 1 0 -6.32 0M573.4 505.2a7.04 7.04 0 1 0 14.07 0a7.04 7.04 0 1 0 -14.07 0M596.4 505.2a2.32 2.32 0 1 0 4.63 0a2.32 2.32 0 1 0 -4.63 0M610.0 505.2a7.12 7.12 0 1 0 14.24 0a7.12 7.12 0 1 0 -14.24 0M60.2 523.5a6.67 6.67 0 1 0 13.35 0a6.67 6.67 0 1 0 -13.35 0M83.9 523.5a1.30 1.30 0 1 0 2.60 0a1.30 1.30 0 1 0 -2.60 0M96.9 523.5a6.67 6.67 0 1 0 13.35 0a6.67 6.67 0 1 0 -13.35 0M120.2 523.5a1.75 1.75 0 1 0 3.51 0a1.75 1.75 0 1 0 -3.51 0M133.6 523.5a6.68 6.68 0 1 0 13.36 0a6.68 6.68 0 1 0 -13.36 0M157.3 523.5a1.30 1.30 0 1 0 2.60 0a1.30 1.30 0 1 0 -2.60 0M170.3 523.5a6.67 6.67 0 1 0 13.35 0a6.67 6.67 0 1 0 -13.35 0M193.4 523.5a1.84 1.84 0 1 0 3.68 0a1.84 1.84 0 1 0 -3.68 0M208.8 523.5a4.85 4.85 0 1 0 9.70 0a4.85 4.85 0 1 0 -9.70 0M248.3 523.5a1.98 1.98 0 1 0 3.96 0a1.98 1.98 0 1 0 -3.96 0M304.0 523.5a1.31 1.31 0 1 0 2.62 0a1.31 1.31 0 1 0 -2.62 0M322.0 523.5a1.70 1.70 0 1 0 3.40 0a1.70 1.70 0 1 0 -3.40 0M339.9 523.5a2.08 2.08 0 1 0 4.16 0a2.08 2.08 0 1 0 -4.16 0M357.9 523.5a2.46 2.46 0 1 0 4.92 0a2.46 2.46 0 1 0 -4.92 0M375.7 523.5a2.96 2.96 0 1 0 5.92 0a2.96 2.96 0 1 0 -5.92 0M393.5 523.5a3.48 3.48 0 1 0 6.97 0a3.48 3.48 0 1 0 -6.97 0M411.6 523.5a3.76 3.76 0 1 0 7.51 0a3.76 3.76 0 1 0 -7.51 0M429.8 523.5a3.92 3.92 0 1 0 7.83 0a3.92 3.92 0 1 0 -7.83 0M449.4 523.5a2.62 2.62 0 1 0 5.23 0a2.62 2.62 0 1 0 -5.23 0M463.4 523.5a7.01 7.01 0 1 0 14.03 0a7.01 7.01 0 1 0 -14.03 0M484.4 523.5a4.35 4.35 0 1 0 8.71 0a4.35 4.35 0 1 0 -8.71 0M500.3 523.5a6.75 6.75 0 1 0 13.49 0a6.75 6.75 0 1 0 -13.49 0M523.4 523.5a1.99 1.99 0 1 0 3.98 0a1.99 1.99 0 1 0 -3.98 0M536.8 523.5a6.94 6.94 0 1 0 13.87 0a6.94 6.94 0 1 0 -13.87 0M558.4 523.5a3.69 3.69 0 1 0 7.38 0a3.69 3.69 0 1 0 -7.38 0M573.7 523.5a6.74 6.74 0 1 0 13.47 0a6.74 6.74 0 1 0 -13.47 0M596.9 523.5a1.90 1.90 0 1 0 3.79 0a1.90 1.90 0 1 0 -3.79 0M610.2 523.5a6.93 6.93 0 1 0 13.85 0a6.93 6.93 0 1 0 -13.85 0M62.0 541.9a4.95 4.95 0 1 0 9.89 0a4.95 4.95 0 1 0 -9.89 0M82.0 541.9a3.22 3.22 0 1 0 6.43 0a3.22 3.22 0 1 0 -6.43 0M98.6 541.9a4.96 4.96 0 1 0 9.92 0a4.96 4.96 0 1 0 -9.92 0M119.3 541.9a2.65 2.65 0 1 0 5.30 0a2.65 2.65 0 1 0 -5.30 0M135.3 541.9a4.95 4.95 0 1 0 9.90 0a4.95 4.95 0 1 0 -9.90 0M155.3 541.9a3.31 3.31 0 1 0 6.62 0a3.31 3.31 0 1 0 -6.62 0M172.0 541.9a4.96 4.96 0 1 0 9.93 0a4.96 4.96 0 1 0 -9.93 0M193.0 541.9a2.31 2.31 0 1 0 4.63 0a2.31 2.31 0 1 0 -4.63 0M210.0 541.9a3.59 3.59 0 1 0 7.17 0a3.59 3.59 0 1 0 -7.17 0M229.9 541.9a2.01 2.01 0 1 0 4.02 0a2.01 2.01 0 1 0 -4.02 0M248.7 541.9a1.55 1.55 0 1 0 3.11 0a1.55 1.55 0 1 0 -3.11 0M304.0 541.9a1.31 1.31 0 1 0 2.62 0a1.31 1.31 0 1 0 -2.62 0M322.0 541.9a1.70 1.70 0 1 0 3.40 0a1.70 1.70 0 1 0 -3.40 0M339.9 541.9a2.08 2.08 0 1 0 4.16 0a2.08 2.08 0 1 0 -4.16 0M357.9 541.9a2.46 2.46 0 1 0 4.92 0a2.46 2.46 0 1 0 -4.92 0M375.7 541.9a2.96 2.96 0 1 0 5.92 0a2.96 2.96 0 1 0 -5.92 0M393.5 541.9a3.48 3.48 0 1 0 6.97 0a3.48 3.48 0 1 0 -6.97 0M411.9 541.9a3.46 3.46 0 1 0 6.92 0a3.46 3.46 0 1 0 -6.92 0M429.3 541.9a4.43 4.43 0 1 0 8.87 0a4.43 4.43 0 1 0 -8.87 0M447.6 541.9a4.48 4.48 0 1 0 8.95 0a4.48 4.48 0 1 0 -8.95 0M465.3 541.9a5.03 5.03 0 1 0 10.07 0a5.03 5.03 0 1 0 -10.07 0M487.1 541.9a1.63 1.63 0 1 0 3.27 0a1.63 1.63 0 1 0 -3.27 0M501.3 541.9a5.80 5.80 0 1 0 11.59 0a5.80 5.80 0 1 0 -11.59 0M520.3 541.9a5.11 5.11 0 1 0 10.21 0a5.11 5.11 0 1 0 -10.21 0M538.6 541.9a5.10 5.10 0 1 0 10.20 0a5.10 5.10 0 1 0 -10.20 0M560.6 541.9a1.49 1.49 0 1 0 2.99 0a1.49 1.49 0 1 0 -2.99 0M574.8 541.9a5.67 5.67 0 1 0 11.34 0a5.67 5.67 0 1 0 -11.34 0M593.7 541.9a5.02 5.02 0 1 0 10.03 0a5.02 5.02 0 1 0 -10.03 0M612.0 541.9a5.10 5.10 0 1 0 10.20 0a5.10 5.10 0 1 0 -10.20 0M64.7 560.2a2.23 2.23 0 1 0 4.47 0a2.23 2.23 0 1 0 -4.47 0M81.5 560.2a3.70 3.70 0 1 0 7.40 0a3.70 3.70 0 1 0 -7.40 0M101.4 560.2a2.22 2.22 0 1 0 4.43 0a2.22 2.22 0 1 0 -4.43 0M117.6 560.2a4.29 4.29 0 1 0 8.58 0a4.29 4.29 0 1 0 -8.58 0M138.0 560.2a2.29 2.29 0 1 0 4.57 0a2.29 2.29 0 1 0 -4.57 0M155.0 560.2a3.57 3.57 0 1 0 7.14 0a3.57 3.57 0 1 0 -7.14 0M174.7 560.2a2.22 2.22 0 1 0 4.44 0a2.22 2.22 0 1 0 -4.44 0M191.1 560.2a4.20 4.20 0 1 0 8.40 0a4.20 4.20 0 1 0 -8.40 0M211.7 560.2a1.90 1.90 0 1 0 3.79 0a1.90 1.90 0 1 0 -3.79 0M230.5 560.2a1.42 1.42 0 1 0 2.83 0a1.42 1.42 0 1 0 -2.83 0M304.0 560.2a1.31 1.31 0 1 0 2.62 0a1.31 1.31 0 1 0 -2.62 0M322.0 560.2a1.70 1.70 0 1 0 3.40 0a1.70 1.70 0 1 0 -3.40 0M339.9 560.2a2.08 2.08 0 1 0 4.16 0a2.08 2.08 0 1 0 -4.16 0M357.9 560.2a2.46 2.46 0 1 0 4.92 0a2.46 2.46 0 1 0 -4.92 0M375.7 560.2a2.96 2.96 0 1 0 5.92 0a2.96 2.96 0 1 0 -5.92 0M393.5 560.2a3.48 3.48 0 1 0 6.97 0a3.48 3.48 0 1 0 -6.97 0M411.4 560.2a3.94 3.94 0 1 0 7.88 0a3.94 3.94 0 1 0 -7.88 0M430.7 560.2a3.03 3.03 0 1 0 6.07 0a3.03 3.03 0 1 0 -6.07 0M450.7 560.2a1.30 1.30 0 1 0 2.60 0a1.30 1.30 0 1 0 -2.60 0M465.9 560.2a4.51 4.51 0 1 0 9.03 0a4.51 4.51 0 1 0 -9.03 0M482.3 560.2a6.39 6.39 0 1 0 12.77 0a6.39 6.39 0 1 0 -12.77 0M504.5 560.2a2.59 2.59 0 1 0 5.18 0a2.59 2.59 0 1 0 -5.18 0M523.6 560.2a1.78 1.78 0 1 0 3.56 0a1.78 1.78 0 1 0 -3.56 0M539.9 560.2a3.82 3.82 0 1 0 7.65 0a3.82 3.82 0 1 0 -7.65 0M556.3 560.2a5.82 5.82 0 1 0 11.65 0a5.82 5.82 0 1 0 -11.65 0M577.9 560.2a2.56 2.56 0 1 0 5.11 0a2.56 2.56 0 1 0 -5.11 0M596.9 560.2a1.84 1.84 0 1 0 3.69 0a1.84 1.84 0 1 0 -3.69 0M613.3 560.2a3.77 3.77 0 1 0 7.54 0a3.77 3.77 0 1 0 -7.54 0M80.9 578.6a4.35 4.35 0 1 0 8.71 0a4.35 4.35 0 1 0 -8.71 0M102.3 578.6a1.30 1.30 0 1 0 2.60 0a1.30 1.30 0 1 0 -2.60 0M118.1 578.6a3.79 3.79 0 1 0 7.57 0a3.79 3.79 0 1 0 -7.57 0M154.2 578.6a4.44 4.44 0 1 0 8.88 0a4.44 4.44 0 1 0 -8.88 0M175.6 578.6a1.30 1.30 0 1 0 2.60 0a1.30 1.30 0 1 0 -2.60 0M191.9 578.6a3.37 3.37 0 1 0 6.74 0a3.37 3.37 0 1 0 -6.74 0M229.4 578.6a2.57 2.57 0 1 0 5.14 0a2.57 2.57 0 1 0 -5.14 0M304.0 578.6a1.31 1.31 0 1 0 2.62 0a1.31 1.31 0 1 0 -2.62 0M322.0 578.6a1.70 1.70 0 1 0 3.40 0a1.70 1.70 0 1 0 -3.40 0M339.9 578.6a2.08 2.08 0 1 0 4.16 0a2.08 2.08 0 1 0 -4.16 0M357.9 578.6a2.46 2.46 0 1 0 4.92 0a2.46 2.46 0 1 0 -4.92 0M375.7 578.6a2.96 2.96 0 1 0 5.92 0a2.96 2.96 0 1 0 -5.92 0M393.5 578.6a3.48 3.48 0 1 0 6.97 0a3.48 3.48 0 1 0 -6.97 0M412.0 578.6a3.37 3.37 0 1 0 6.73 0a3.37 3.37 0 1 0 -6.73 0M429.3 578.6a4.43 4.43 0 1 0 8.87 0a4.43 4.43 0 1 0 -8.87 0M447.0 578.6a5.00 5.00 0 1 0 10.00 0a5.00 5.00 0 1 0 -10.00 0M469.1 578.6a1.30 1.30 0 1 0 2.60 0a1.30 1.30 0 1 0 -2.60 0M487.3 578.6a1.47 1.47 0 1 0 2.94 0a1.47 1.47 0 1 0 -2.94 0M503.5 578.6a3.55 3.55 0 1 0 7.09 0a3.55 3.55 0 1 0 -7.09 0M519.3 578.6a6.13 6.13 0 1 0 12.27 0a6.13 6.13 0 1 0 -12.27 0M542.4 578.6a1.30 1.30 0 1 0 2.60 0a1.30 1.30 0 1 0 -2.60 0M560.1 578.6a1.95 1.95 0 1 0 3.89 0a1.95 1.95 0 1 0 -3.89 0M577.2 578.6a3.22 3.22 0 1 0 6.45 0a3.22 3.22 0 1 0 -6.45 0M592.7 578.6a6.06 6.06 0 1 0 12.11 0a6.06 6.06 0 1 0 -12.11 0M615.8 578.6a1.30 1.30 0 1 0 2.60 0a1.30 1.30 0 1 0 -2.60 0M62.9 596.9a3.97 3.97 0 1 0 7.94 0a3.97 3.97 0 1 0 -7.94 0M82.0 596.9a3.20 3.20 0 1 0 6.40 0a3.20 3.20 0 1 0 -6.40 0M99.6 596.9a3.96 3.96 0 1 0 7.92 0a3.96 3.96 0 1 0 -7.92 0M118.1 596.9a3.79 3.79 0 1 0 7.58 0a3.79 3.79 0 1 0 -7.58 0M136.3 596.9a3.99 3.99 0 1 0 7.99 0a3.99 3.99 0 1 0 -7.99 0M155.5 596.9a3.07 3.07 0 1 0 6.15 0a3.07 3.07 0 1 0 -6.15 0M173.0 596.9a3.96 3.96 0 1 0 7.92 0a3.96 3.96 0 1 0 -7.92 0M191.5 596.9a3.73 3.73 0 1 0 7.47 0a3.73 3.73 0 1 0 -7.47 0M210.6 596.9a3.00 3.00 0 1 0 6.01 0a3.00 3.00 0 1 0 -6.01 0M230.7 596.9a1.30 1.30 0 1 0 2.60 0a1.30 1.30 0 1 0 -2.60 0M249.0 596.9a1.30 1.30 0 1 0 2.60 0a1.30 1.30 0 1 0 -2.60 0M304.0 596.9a1.31 1.31 0 1 0 2.62 0a1.31 1.31 0 1 0 -2.62 0M322.0 596.9a1.70 1.70 0 1 0 3.40 0a1.70 1.70 0 1 0 -3.40 0M339.9 596.9a2.08 2.08 0 1 0 4.16 0a2.08 2.08 0 1 0 -4.16 0M357.9 596.9a2.46 2.46 0 1 0 4.92 0a2.46 2.46 0 1 0 -4.92 0M375.7 596.9a2.96 2.96 0 1 0 5.92 0a2.96 2.96 0 1 0 -5.92 0M393.5 596.9a3.48 3.48 0 1 0 6.97 0a3.48 3.48 0 1 0 -6.97 0M411.4 596.9a3.91 3.91 0 1 0 7.83 0a3.91 3.91 0 1 0 -7.83 0M430.5 596.9a3.21 3.21 0 1 0 6.42 0a3.21 3.21 0 1 0 -6.42 0M450.6 596.9a1.40 1.40 0 1 0 2.80 0a1.40 1.40 0 1 0 -2.80 0M465.2 596.9a5.18 5.18 0 1 0 10.37 0a5.18 5.18 0 1 0 -10.37 0M482.6 596.9a6.08 6.08 0 1 0 12.15 0a6.08 6.08 0 1 0 -12.15 0M503.2 596.9a3.85 3.85 0 1 0 7.70 0a3.85 3.85 0 1 0 -7.70 0M523.8 596.9a1.62 1.62 0 1 0 3.24 0a1.62 1.62 0 1 0 -3.24 0M539.0 596.9a4.69 4.69 0 1 0 9.38 0a4.69 4.69 0 1 0 -9.38 0M556.6 596.9a5.50 5.50 0 1 0 10.99 0a5.50 5.50 0 1 0 -10.99 0M576.6 596.9a3.84 3.84 0 1 0 7.67 0a3.84 3.84 0 1 0 -7.67 0M597.1 596.9a1.66 1.66 0 1 0 3.33 0a1.66 1.66 0 1 0 -3.33 0M612.4 596.9a4.65 4.65 0 1 0 9.30 0a4.65 4.65 0 1 0 -9.30 0"/><path stroke-width="1.15" d="M66.9 46.7l1.1 7.6M85.2 46.7l7.7 0.2M103.6 46.7l-0.1 -7.7M121.9 46.7l-7.7 -0.1M140.3 46.7l1.1 7.6M158.6 46.7l7.7 -0.6M176.9 46.7l0.2 -7.7M195.3 46.7l-7.7 0.1M213.6 46.7l3.2 7.0M232.0 46.7l7.7 -0.3M250.3 46.7l-2.2 -7.4M268.6 46.7l-3.0 7.1M287.0 46.7l-7.6 -1.4M305.3 46.7l7.7 0.8M323.7 46.7l-7.7 -0.1M342.0 46.7l7.7 0.5M360.3 46.7l-7.7 -0.3M378.7 46.7l7.7 0.2M397.0 46.7l-7.7 -0.3M415.4 46.7l7.7 -0.1M433.7 46.7l-7.4 -2.0M452.0 46.7l6.7 -3.9M470.4 46.7l-5.8 5.1M488.7 46.7l7.5 1.6M507.1 46.7l-2.9 -7.1M525.4 46.7l-6.7 -3.8M543.7 46.7l-5.2 5.7M562.1 46.7l7.6 1.3M580.4 46.7l-2.5 -7.3M598.8 46.7l-6.8 -3.5M617.1 46.7l-5.1 5.8M66.9 65.0l4.0 -6.6M85.2 65.0l-7.7 0.1M103.6 65.0l6.4 4.3M121.9 65.0l7.7 0.3M140.3 65.0l3.6 -6.8M158.6 65.0l-7.7 0.3M176.9 65.0l4.7 6.1M195.3 65.0l7.7 -0.1M213.6 65.0l-7.6 -1.1M232.0 65.0l-7.7 0.1M250.3 65.0l7.1 2.9M268.6 65.0l7.2 -2.6M287.0 65.0l-7.6 1.4M305.3 65.0l7.7 -0.7M323.7 65.0l-7.7 -0.3M342.0 65.0l7.7 0.4M360.3 65.0l-7.7 -0.5M378.7 65.0l7.7 -0.4M397.0 65.0l-7.7 -0.3M415.4 65.0l7.7 -0.1M433.7 65.0l-7.7 0.6M452.0 65.0l7.7 -0.1M470.4 65.0l-6.4 -4.3M488.7 65.0l-7.6 -1.1M507.1 65.0l-7.6 1.0M525.4 65.0l7.7 0.3M543.7 65.0l-6.5 -4.1M562.1 65.0l-7.7 -0.2M580.4 65.0l-7.5 1.7M598.8 65.0l7.7 0.0M617.1 65.0l-6.1 -4.7M66.9 83.4l1.1 -7.6M85.2 83.4l7.7 -0.0M103.6 83.4l-0.1 7.7M121.9 83.4l-7.7 -0.1M140.3 83.4l1.9 -7.5M158.6 83.4l7.7 0.3M176.9 83.4l0.0 7.7M195.3 83.4l-7.7 -0.1M213.6 83.4l3.1 -7.0M232.0 83.4l7.7 -0.3M250.3 83.4l-5.1 5.7M268.6 83.4l-6.1 4.8M287.0 83.4l-7.6 -1.1M305.3 83.4l7.6 -0.9M323.7 83.4l-7.7 0.3M342.0 83.4l7.7 -0.5M360.3 83.4l-7.7 0.5M378.7 83.4l7.7 0.4M397.0 83.4l-7.7 0.3M415.4 83.4l7.7 0.1M433.7 83.4l-7.4 2.2M452.0 83.4l7.4 2.0M470.4 83.4l-6.4 -4.3M488.7 83.4l7.6 -0.9M507.1 83.4l-3.0 7.1M525.4 83.4l-7.1 2.9M543.7 83.4l-6.0 -4.8M562.1 83.4l7.7 -0.7M580.4 83.4l-3.5 6.9M598.8 83.4l-7.2 2.8M617.1 83.4l-5.6 -5.2M66.9 101.7l0.4 7.7M85.2 101.7l-7.7 -0.7M103.6 101.7l0.5 -7.7M121.9 101.7l7.6 1.1M140.3 101.7l0.6 7.7M158.6 101.7l-7.7 -0.6M176.9 101.7l0.8 -7.7M195.3 101.7l7.7 0.5M213.6 101.7l-0.2 7.7M232.0 101.7l-7.7 -0.2M250.3 101.7l2.5 -7.3M268.6 101.7l6.9 3.3M287.0 101.7l-7.6 1.2M305.3 101.7l7.7 -0.1M323.7 101.7l-7.7 0.3M342.0 101.7l7.7 0.6M360.3 101.7l-7.7 0.0M378.7 101.7l7.7 -0.4M397.0 101.7l-7.7 -0.3M415.4 101.7l7.7 0.5M433.7 101.7l-7.3 -2.3M452.0 101.7l7.5 -1.8M470.4 101.7l-2.2 7.4M488.7 101.7l-0.7 7.7M507.1 101.7l-4.2 -6.4M525.4 101.7l7.5 -1.9M543.7 101.7l-2.2 7.4M562.1 101.7l-4.1 6.5M580.4 101.7l-3.9 -6.6M598.8 101.7l7.4 -2.2M617.1 101.7l-2.0 7.4M66.9 120.1l0.1 -7.7M85.2 120.1l7.5 1.9M103.6 120.1l0.4 7.7M121.9 120.1l-7.7 -0.7M140.3 120.1l0.4 -7.7M158.6 120.1l7.6 1.3M176.9 120.1l0.5 7.7M195.3 120.1l-7.5 -1.6M213.6 120.1l1.0 -7.6M232.0 120.1l-5.5 5.4M250.3 120.1l-0.5 7.7M268.6 120.1l1.7 -7.5M287.0 120.1l-7.6 1.3M305.3 120.1l7.7 -0.6M323.7 120.1l-7.7 0.6M342.0 120.1l7.7 0.6M360.3 120.1l-7.7 0.2M378.7 120.1l7.7 -0.4M397.0 120.1l-7.7 -0.1M415.4 120.1l7.7 -0.6M433.7 120.1l-6.9 3.5M452.0 120.1l6.9 3.3M470.4 120.1l-3.2 -7.0M488.7 120.1l6.8 -3.6M507.1 120.1l-2.0 7.4M525.4 120.1l3.2 7.0M543.7 120.1l-2.7 -7.2M562.1 120.1l6.7 -3.8M580.4 120.1l-1.8 7.5M598.8 120.1l3.8 6.7M617.1 120.1l-2.5 -7.3M66.9 138.4l0.3 7.7M85.2 138.4l6.3 -4.4M103.6 138.4l0.4 -7.7M121.9 138.4l-7.5 1.8M140.3 138.4l0.4 7.7M158.6 138.4l5.4 -5.5M176.9 138.4l0.5 -7.7M195.3 138.4l-7.0 3.1M213.6 138.4l0.5 7.7M232.0 138.4l-4.0 -6.5M250.3 138.4l-0.8 -7.7M268.6 138.4l-5.6 -5.3M287.0 138.4l-7.7 -0.2M305.3 138.4l7.7 0.6M323.7 138.4l-7.7 0.4M342.0 138.4l7.7 -0.6M360.3 138.4l-7.7 0.0M378.7 138.4l7.7 0.2M397.0 138.4l-7.7 -0.3M415.4 138.4l7.7 0.5M433.7 138.4l-6.9 -3.4M452.0 138.4l7.2 -2.8M470.4 138.4l-3.1 7.1M488.7 138.4l6.3 4.4M507.1 138.4l-2.1 -7.4M525.4 138.4l5.2 -5.7M543.7 138.4l-2.5 7.3M562.1 138.4l6.2 4.5M580.4 138.4l-2.2 -7.4M598.8 138.4l4.4 -6.3M617.1 138.4l-2.4 7.3M66.9 156.7l0.1 -7.7M85.2 156.7l-7.7 0.9M103.6 156.7l0.7 7.7M121.9 156.7l7.7 -0.6M140.3 156.7l0.4 -7.7M158.6 156.7l-7.7 0.4M176.9 156.7l0.6 7.7M195.3 156.7l7.7 -0.6M213.6 156.7l-0.7 -7.7M232.0 156.7l-7.6 1.0M250.3 156.7l1.3 7.6M268.6 156.7l6.7 -3.7M287.0 156.7l-7.6 1.2M305.3 156.7l7.7 0.4M323.7 156.7l-7.7 0.2M342.0 156.7l7.7 0.2M360.3 156.7l-7.7 0.3M378.7 156.7l7.7 0.3M397.0 156.7l-7.7 -0.3M415.4 156.7l7.7 -0.3M433.7 156.7l-7.1 3.0M452.0 156.7l7.5 1.8M470.4 156.7l-2.5 -7.3M488.7 156.7l0.2 -7.7M507.1 156.7l-3.6 6.8M525.4 156.7l7.2 2.6M543.7 156.7l-2.0 -7.4M562.1 156.7l-2.0 -7.4M580.4 156.7l-3.6 6.8M598.8 156.7l7.3 2.3M617.1 156.7l-2.1 -7.4M66.9 175.1l0.3 7.7M85.2 175.1l7.7 0.1M103.6 175.1l-0.1 -7.7M121.9 175.1l-7.7 -0.1M140.3 175.1l1.7 7.5M158.6 175.1l7.7 -0.6M176.9 175.1l0.3 -7.7M195.3 175.1l-7.7 0.1M213.6 175.1l2.5 7.3M232.0 175.1l7.7 -0.0M250.3 175.1l-4.7 -6.1M268.6 175.1l-6.6 3.9M287.0 175.1l-7.7 0.7M305.3 175.1l7.7 -0.2M323.7 175.1l-7.7 0.3M342.0 175.1l7.7 0.6M360.3 175.1l-7.7 -0.5M378.7 175.1l7.7 -0.0M397.0 175.1l-7.7 0.2M415.4 175.1l7.7 0.1M433.7 175.1l-7.4 -2.1M452.0 175.1l6.9 -3.4M470.4 175.1l-5.9 5.0M488.7 175.1l7.6 1.1M507.1 175.1l-3.1 -7.0M525.4 175.1l-6.5 -4.1M543.7 175.1l-5.4 5.5M562.1 175.1l7.6 1.4M580.4 175.1l-2.3 -7.3M598.8 175.1l-6.8 -3.7M617.1 175.1l-5.1 5.8M66.9 193.4l6.1 4.6M85.2 193.4l-7.7 0.1M103.6 193.4l7.7 0.7M121.9 193.4l7.7 0.1M140.3 193.4l7.0 -3.1M158.6 193.4l-7.7 0.0M176.9 193.4l7.5 1.6M195.3 193.4l7.7 0.4M213.6 193.4l-7.6 1.3M232.0 193.4l-7.7 0.4M250.3 193.4l7.5 -1.7M268.6 193.4l7.6 1.2M287.0 193.4l-7.6 1.5M305.3 193.4l7.7 0.9M323.7 193.4l-7.7 0.8M342.0 193.4l7.7 0.6M360.3 193.4l-7.7 0.4M378.7 193.4l7.7 -0.4M397.0 193.4l-7.7 0.3M415.4 193.4l7.7 -0.1M433.7 193.4l-7.7 -0.1M452.0 193.4l7.7 -0.1M470.4 193.4l-7.3 -2.5M488.7 193.4l-7.6 -1.3M507.1 193.4l-7.7 0.8M525.4 193.4l7.7 -0.0M543.7 193.4l-7.6 -1.3M562.1 193.4l-7.7 0.4M580.4 193.4l-7.7 0.1M598.8 193.4l7.7 -0.0M617.1 193.4l-7.1 -3.0M66.9 211.8l0.7 -7.7M85.2 211.8l7.7 0.5M103.6 211.8l0.0 7.7M121.9 211.8l-7.7 0.0M140.3 211.8l1.4 -7.6M158.6 211.8l7.7 -0.1M176.9 211.8l0.2 7.7M195.3 211.8l-7.7 -0.3M213.6 211.8l3.1 -7.0M232.0 211.8l7.6 0.9M250.3 211.8l-3.1 7.1M268.6 211.8l6.2 4.6M287.0 211.8l-7.6 1.4M305.3 211.8l7.7 0.4M323.7 211.8l-7.7 -0.2M342.0 211.8l7.7 -0.5M360.3 211.8l-7.7 -0.2M378.7 211.8l7.7 -0.3M397.0 211.8l-7.7 -0.2M415.4 211.8l7.7 -0.1M433.7 211.8l-7.5 1.6M452.0 211.8l6.5 4.2M470.4 211.8l-6.4 -4.2M488.7 211.8l7.6 -0.9M507.1 211.8l-2.6 7.2M525.4 211.8l-7.2 2.7M543.7 211.8l-5.4 -5.5M562.1 211.8l7.6 -1.2M580.4 211.8l-3.0 7.1M598.8 211.8l-6.7 3.8M617.1 211.8l-5.3 -5.6M66.9 230.1l-0.0 7.7M85.2 230.1l-7.7 -0.2M103.6 230.1l0.5 -7.7M121.9 230.1l7.7 0.4M140.3 230.1l0.3 7.7M158.6 230.1l-7.7 -0.7M176.9 230.1l0.6 -7.7M195.3 230.1l7.7 0.6M213.6 230.1l-0.5 7.7M232.0 230.1l-7.7 -0.1M250.3 230.1l2.5 -7.3M268.6 230.1l7.5 1.9M287.0 230.1l-7.6 -1.5M305.3 230.1l7.7 -0.7M323.7 230.1l-7.7 0.1M342.0 230.1l7.7 -0.1M360.3 230.1l-7.7 -0.4M378.7 230.1l7.7 0.3M397.0 230.1l-7.7 0.1M415.4 230.1l7.7 0.6M433.7 230.1l-7.2 -2.8M452.0 230.1l7.6 -1.4M470.4 230.1l-2.4 7.3M488.7 230.1l0.7 7.7M507.1 230.1l-4.0 -6.6M525.4 230.1l7.3 -2.4M543.7 230.1l-1.9 7.5M562.1 230.1l-3.0 7.1M580.4 230.1l-3.8 -6.7M598.8 230.1l7.4 -2.1M617.1 230.1l-2.0 7.4M66.9 248.4l0.1 -7.7M85.2 248.4l6.4 4.3M103.6 248.4l0.1 7.7M121.9 248.4l-7.4 -2.1M140.3 248.4l0.6 -7.7M158.6 248.4l5.9 5.0M176.9 248.4l0.5 7.7M195.3 248.4l-7.6 -1.2M213.6 248.4l0.4 -7.7M232.0 248.4l-2.5 7.3M250.3 248.4l-0.1 7.7M268.6 248.4l3.4 -6.9M287.0 248.4l-7.6 -1.5M305.3 248.4l7.7 0.7M323.7 248.4l-7.7 -0.7M342.0 248.4l7.7 0.6M360.3 248.4l-7.7 -0.2M378.7 248.4l7.7 0.5M397.0 248.4l-7.7 0.0M415.4 248.4l7.7 -0.7M433.7 248.4l-6.9 3.4M452.0 248.4l6.7 3.8M470.4 248.4l-3.0 -7.1M488.7 248.4l6.5 -4.2M507.1 248.4l-2.1 7.4M525.4 248.4l3.7 6.7M543.7 248.4l-2.3 -7.3M562.1 248.4l6.7 -3.7M580.4 248.4l-2.2 7.4M598.8 248.4l4.6 6.2M617.1 248.4l-2.6 -7.2M66.9 266.8l0.2 7.7M85.2 266.8l7.7 -0.2M103.6 266.8l0.1 -7.7M121.9 266.8l-7.6 0.9M140.3 266.8l0.4 7.7M158.6 266.8l7.6 -1.3M176.9 266.8l0.4 -7.7M195.3 266.8l-7.6 1.1M213.6 266.8l1.0 7.6M232.0 266.8l5.4 -5.5M250.3 266.8l-1.0 -7.6M268.6 266.8l0.4 -7.7M287.0 266.8l-7.6 -1.5M305.3 266.8l7.6 -1.0M323.7 266.8l-7.7 0.8M342.0 266.8l7.7 -0.2M360.3 266.8l-7.7 -0.2M378.7 266.8l7.7 0.0M397.0 266.8l-7.7 -0.4M415.4 266.8l7.7 0.7M433.7 266.8l-6.6 -4.0M452.0 266.8l6.8 -3.6M470.4 266.8l-2.9 7.1M488.7 266.8l6.3 4.4M507.1 266.8l-2.1 -7.4M525.4 266.8l4.7 -6.1M543.7 266.8l-2.3 7.3M562.1 266.8l6.6 3.9M580.4 266.8l-2.2 -7.4M598.8 266.8l4.4 -6.3M617.1 266.8l-2.6 7.2M66.9 285.1l0.3 -7.7M85.2 285.1l-7.7 0.3M103.6 285.1l0.3 7.7M121.9 285.1l7.6 -1.3M140.3 285.1l0.4 -7.7M158.6 285.1l-7.7 0.3M176.9 285.1l0.8 7.7M195.3 285.1l7.5 -1.6M213.6 285.1l-0.3 -7.7M232.0 285.1l-7.6 1.3M250.3 285.1l2.2 7.4M268.6 285.1l6.7 3.8M287.0 285.1l-7.6 -1.4M305.3 285.1l7.6 0.9M323.7 285.1l-7.7 -0.4M342.0 285.1l7.7 0.6M360.3 285.1l-7.7 0.4M378.7 285.1l7.7 -0.4M397.0 285.1l-7.7 -0.2M415.4 285.1l7.7 -0.4M433.7 285.1l-7.3 2.5M452.0 285.1l7.5 1.6M470.4 285.1l-2.4 -7.3M488.7 285.1l-0.6 -7.7M507.1 285.1l-3.7 6.7M525.4 285.1l7.4 2.1M543.7 285.1l-2.0 -7.4M562.1 285.1l-1.5 -7.6M580.4 285.1l-3.4 6.9M598.8 285.1l7.4 2.2M617.1 285.1l-1.6 -7.5M66.9 303.5l0.6 7.7M85.2 303.5l7.7 -0.4M103.6 303.5l0.0 -7.7M121.9 303.5l-7.7 0.1M140.3 303.5l1.4 7.6M158.6 303.5l7.7 -0.6M176.9 303.5l0.9 -7.7M195.3 303.5l-7.7 0.3M213.6 303.5l3.7 6.7M232.0 303.5l7.7 -0.6M250.3 303.5l-5.0 -5.9M268.6 303.5l-7.3 2.4M287.0 303.5l-7.6 1.4M305.3 303.5l7.7 0.6M323.7 303.5l-7.7 -0.6M342.0 303.5l7.7 -0.6M360.3 303.5l-7.7 -0.5M378.7 303.5l7.7 0.3M397.0 303.5l-7.7 0.2M415.4 303.5l7.7 0.2M433.7 303.5l-7.5 -1.7M452.0 303.5l7.3 -2.3M470.4 303.5l-6.2 4.6M488.7 303.5l7.6 1.0M507.1 303.5l-2.8 -7.2M525.4 303.5l-6.6 -4.0M543.7 303.5l-5.7 5.1M562.1 303.5l7.6 1.3M580.4 303.5l-2.8 -7.2M598.8 303.5l-6.6 -4.0M617.1 303.5l-5.4 5.5M66.9 321.8l5.8 5.0M85.2 321.8l-7.7 0.0M103.6 321.8l5.1 -5.8M121.9 321.8l7.7 0.1M140.3 321.8l6.7 3.8M158.6 321.8l-7.7 0.1M176.9 321.8l6.2 -4.6M195.3 321.8l7.7 -0.1M213.6 321.8l-6.4 4.3M232.0 321.8l-7.7 0.2M250.3 321.8l7.5 -1.8M268.6 321.8l7.3 2.6M287.0 321.8l-7.7 0.8M305.3 321.8l7.7 -0.2M323.7 321.8l-7.7 0.1M342.0 321.8l7.7 -0.6M360.3 321.8l-7.7 0.4M378.7 321.8l7.7 0.2M397.0 321.8l-7.7 0.4M415.4 321.8l7.7 -0.1M433.7 321.8l-7.7 0.2M452.0 321.8l7.7 -0.3M470.4 321.8l-7.7 0.5M488.7 321.8l-7.7 0.7M507.1 321.8l-7.7 -0.6M525.4 321.8l7.7 -0.0M543.7 321.8l-7.6 1.3M562.1 321.8l-7.7 -0.2M580.4 321.8l-7.7 -0.7M598.8 321.8l7.7 -0.2M617.1 321.8l-7.6 1.2M66.9 340.1l0.3 -7.7M85.2 340.1l7.7 0.6M103.6 340.1l-0.0 7.7M121.9 340.1l-7.7 -0.6M140.3 340.1l0.9 -7.6M158.6 340.1l7.7 -0.1M176.9 340.1l0.6 7.7M195.3 340.1l-7.7 -0.7M213.6 340.1l3.3 -7.0M232.0 340.1l7.7 0.1M250.3 340.1l-3.3 7.0M268.6 340.1l-6.1 -4.7M287.0 340.1l-7.5 1.5M305.3 340.1l7.6 -1.0M323.7 340.1l-7.7 0.4M342.0 340.1l7.7 -0.5M360.3 340.1l-7.7 -0.2M378.7 340.1l7.7 -0.5M397.0 340.1l-7.7 0.3M415.4 340.1l7.7 -0.2M433.7 340.1l-7.3 2.4M452.0 340.1l7.2 2.8M470.4 340.1l-6.0 -4.8M488.7 340.1l7.6 -1.3M507.1 340.1l-2.9 7.2M525.4 340.1l-6.3 4.5M543.7 340.1l-5.5 -5.4M562.1 340.1l7.6 -1.0M580.4 340.1l-2.2 7.4M598.8 340.1l-7.0 3.2M617.1 340.1l-5.3 -5.6M66.9 358.5l-0.0 7.7M85.2 358.5l-7.7 -0.7M103.6 358.5l0.6 -7.7M121.9 358.5l7.6 1.1M140.3 358.5l0.3 7.7M158.6 358.5l-7.7 -0.6M176.9 358.5l0.5 -7.7M195.3 358.5l7.4 2.1M213.6 358.5l-0.1 7.7M232.0 358.5l-7.7 -0.1M250.3 358.5l2.5 -7.3M268.6 358.5l7.6 -1.0M287.0 358.5l-7.6 -1.4M305.3 358.5l7.7 -0.0M323.7 358.5l-7.7 0.8M342.0 358.5l7.7 -0.1M360.3 358.5l-7.7 -0.2M378.7 358.5l7.7 -0.4M397.0 358.5l-7.7 -0.0M415.4 358.5l7.7 0.7M433.7 358.5l-7.1 -3.0M452.0 358.5l7.5 -1.8M470.4 358.5l-2.4 7.3M488.7 358.5l1.0 7.6M507.1 358.5l-3.6 -6.8M525.4 358.5l7.4 -2.1M543.7 358.5l-1.7 7.5M562.1 358.5l-2.7 7.2M580.4 358.5l-3.3 -7.0M598.8 358.5l7.4 -2.3M617.1 358.5l-1.7 7.5M66.9 376.8l0.2 -7.7M85.2 376.8l7.5 1.9M103.6 376.8l0.1 7.7M121.9 376.8l-7.3 -2.3M140.3 376.8l0.4 -7.7M158.6 376.8l3.2 7.0M176.9 376.8l0.4 7.7M195.3 376.8l-7.5 -1.6M213.6 376.8l0.8 -7.7M232.0 376.8l-5.9 5.0M250.3 376.8l0.3 7.7M268.6 376.8l-7.7 -0.1M287.0 376.8l-7.7 -0.2M305.3 376.8l7.7 0.9M323.7 376.8l-7.7 0.7M342.0 376.8l7.7 0.5M360.3 376.8l-7.7 0.5M378.7 376.8l7.7 0.2M397.0 376.8l-7.7 -0.4M415.4 376.8l7.7 -0.2M433.7 376.8l-6.6 4.0M452.0 376.8l7.1 2.9M470.4 376.8l-3.2 -7.0M488.7 376.8l6.2 -4.5M507.1 376.8l-2.2 7.4M525.4 376.8l5.0 5.9M543.7 376.8l-2.5 -7.3M562.1 376.8l6.5 -4.1M580.4 376.8l-2.1 7.4M598.8 376.8l5.0 5.8M617.1 376.8l-2.4 -7.3M66.9 395.2l0.2 7.7M85.2 395.2l7.3 -2.6M103.6 395.2l0.3 -7.7M121.9 395.2l-7.4 2.2M140.3 395.2l0.5 7.7M158.6 395.2l6.7 -3.8M176.9 395.2l0.2 -7.7M195.3 395.2l-7.6 1.0M213.6 395.2l1.0 7.6M232.0 395.2l-3.3 -7.0M250.3 395.2l-0.9 -7.6M268.6 395.2l4.9 5.9M287.0 395.2l-7.6 1.3M305.3 395.2l7.7 -0.6M323.7 395.2l-7.7 -0.8M342.0 395.2l7.7 -0.6M360.3 395.2l-7.7 0.3M378.7 395.2l7.7 0.4M397.0 395.2l-7.7 0.1M415.4 395.2l7.7 0.0M433.7 395.2l-6.9 -3.4M452.0 395.2l6.9 -3.4M470.4 395.2l-3.3 7.0M488.7 395.2l6.5 4.1M507.1 395.2l-2.0 -7.4M525.4 395.2l3.4 -6.9M543.7 395.2l-2.7 7.2M562.1 395.2l6.8 3.6M580.4 395.2l-2.0 -7.4M598.8 395.2l4.1 -6.5M617.1 395.2l-2.4 7.3M66.9 413.5l0.0 -7.7M85.2 413.5l-7.7 0.8M103.6 413.5l0.5 7.7M121.9 413.5l7.7 -0.2M140.3 413.5l0.4 -7.7M158.6 413.5l-7.7 0.1M176.9 413.5l0.8 7.7M195.3 413.5l7.7 -0.4M213.6 413.5l-0.3 -7.7M232.0 413.5l-7.6 1.1M250.3 413.5l2.9 7.1M268.6 413.5l6.9 3.4M287.0 413.5l-7.7 0.4M305.3 413.5l7.7 -0.4M323.7 413.5l-7.7 0.8M342.0 413.5l7.7 -0.2M360.3 413.5l-7.7 0.5M378.7 413.5l7.7 -0.4M397.0 413.5l-7.7 -0.2M415.4 413.5l7.7 -0.7M433.7 413.5l-7.3 2.4M452.0 413.5l7.5 1.8M470.4 413.5l-2.1 -7.4M488.7 413.5l0.3 -7.7M507.1 413.5l-3.8 6.7M525.4 413.5l7.4 2.0M543.7 413.5l-1.9 -7.4M562.1 413.5l-3.6 -6.8M580.4 413.5l-3.5 6.9M598.8 413.5l7.5 1.9M617.1 413.5l-1.7 -7.5M66.9 431.8l0.6 7.7M85.2 431.8l7.7 0.2M103.6 431.8l0.0 -7.7M121.9 431.8l-7.7 0.2M140.3 431.8l1.6 7.5M158.6 431.8l7.7 -0.1M176.9 431.8l0.0 -7.7M195.3 431.8l-7.7 0.6M213.6 431.8l3.8 6.7M232.0 431.8l7.7 -0.2M250.3 431.8l-5.1 -5.8M268.6 431.8l-6.7 -3.8M287.0 431.8l-7.7 0.6M305.3 431.8l7.6 -1.0M323.7 431.8l-7.7 0.8M342.0 431.8l7.7 0.6M360.3 431.8l-7.7 -0.5M378.7 431.8l7.7 0.4M397.0 431.8l-7.7 -0.0M415.4 431.8l7.7 0.4M433.7 431.8l-7.5 -1.8M452.0 431.8l7.0 -3.3M470.4 431.8l-6.3 4.4M488.7 431.8l7.6 1.2M507.1 431.8l-3.6 -6.8M525.4 431.8l-6.7 -3.8M543.7 431.8l-5.9 4.9M562.1 431.8l7.6 1.0M580.4 431.8l-3.3 -6.9M598.8 431.8l-7.3 -2.3M617.1 431.8l-5.6 5.3M66.9 450.2l1.4 7.6M85.2 450.2l-7.7 0.3M103.6 450.2l4.4 -6.3M121.9 450.2l7.7 0.4M140.3 450.2l1.8 7.5M158.6 450.2l-7.7 0.2M176.9 450.2l4.9 -5.9M195.3 450.2l7.7 0.5M213.6 450.2l-6.4 4.2M232.0 450.2l-7.7 0.5M250.3 450.2l7.6 -1.2M268.6 450.2l7.1 -2.9M287.0 450.2l-7.6 -0.9M305.3 450.2l7.6 -1.0M323.7 450.2l-7.7 -0.8M342.0 450.2l7.7 0.5M360.3 450.2l-7.7 0.2M378.7 450.2l7.7 -0.4M397.0 450.2l-7.7 -0.3M415.4 450.2l7.7 -0.4M433.7 450.2l-7.7 -0.0M452.0 450.2l7.7 -0.4M470.4 450.2l-7.1 2.9M488.7 450.2l-7.7 0.5M507.1 450.2l-7.7 -0.6M525.4 450.2l7.7 -0.2M543.7 450.2l-7.4 2.3M562.1 450.2l-7.6 1.1M580.4 450.2l-7.6 -1.4M598.8 450.2l7.7 -0.2M617.1 450.2l-7.4 2.1M66.9 468.5l0.9 -7.6M85.2 468.5l7.7 0.6M103.6 468.5l0.7 7.7M121.9 468.5l-7.7 0.0M140.3 468.5l1.5 -7.6M158.6 468.5l7.7 0.7M176.9 468.5l0.1 7.7M195.3 468.5l-7.7 -0.6M213.6 468.5l2.3 -7.4M232.0 468.5l7.6 1.2M250.3 468.5l-2.7 7.2M268.6 468.5l7.6 1.3M287.0 468.5l-7.7 -0.0M305.3 468.5l7.6 0.9M323.7 468.5l-7.7 -0.3M342.0 468.5l7.7 0.3M360.3 468.5l-7.7 0.2M378.7 468.5l7.7 0.0M397.0 468.5l-7.7 -0.4M415.4 468.5l7.7 0.1M433.7 468.5l-7.4 2.0M452.0 468.5l6.5 4.1M470.4 468.5l-5.7 -5.1M488.7 468.5l7.6 -1.4M507.1 468.5l-2.4 7.3M525.4 468.5l-6.2 4.6M543.7 468.5l-5.2 -5.7M562.1 468.5l7.6 -1.3M580.4 468.5l-2.8 7.2M598.8 468.5l-6.8 3.6M617.1 468.5l-5.2 -5.7M66.9 486.9l-0.0 7.7M85.2 486.9l-7.7 -0.0M103.6 486.9l0.3 -7.7M121.9 486.9l7.7 0.7M140.3 486.9l0.4 7.7M158.6 486.9l-7.7 -0.3M176.9 486.9l0.7 -7.7M195.3 486.9l7.6 1.0M213.6 486.9l-0.6 7.7M232.0 486.9l-7.7 -0.3M250.3 486.9l2.4 -7.3M268.6 486.9l6.3 4.4M287.0 486.9l-7.6 -0.9M305.3 486.9l7.6 0.9M323.7 486.9l-7.7 -0.5M342.0 486.9l7.7 0.0M360.3 486.9l-7.7 -0.5M378.7 486.9l7.7 0.1M397.0 486.9l-7.7 -0.4M415.4 486.9l7.7 0.1M433.7 486.9l-7.1 -3.0M452.0 486.9l7.4 -2.0M470.4 486.9l-2.2 7.4M488.7 486.9l1.7 7.5M507.1 486.9l-3.7 -6.7M525.4 486.9l7.3 -2.5M543.7 486.9l-1.9 7.5M562.1 486.9l-0.7 7.7M580.4 486.9l-3.4 -6.9M598.8 486.9l7.3 -2.6M617.1 486.9l-1.7 7.5M66.9 505.2l0.2 -7.7M85.2 505.2l7.6 1.2M103.6 505.2l0.2 7.7M121.9 505.2l-6.7 -3.8M140.3 505.2l0.4 -7.7M158.6 505.2l6.1 4.7M176.9 505.2l0.1 7.7M195.3 505.2l-6.5 -4.1M213.6 505.2l0.3 -7.7M232.0 505.2l-3.7 6.8M250.3 505.2l0.5 7.7M268.6 505.2l-0.5 7.7M287.0 505.2l-7.6 1.2M305.3 505.2l7.6 -1.0M323.7 505.2l-7.7 0.7M342.0 505.2l7.7 -0.2M360.3 505.2l-7.7 -0.4M378.7 505.2l7.7 -0.4M397.0 505.2l-7.7 0.4M415.4 505.2l7.7 -0.7M433.7 505.2l-6.7 3.9M452.0 505.2l7.2 2.8M470.4 505.2l-2.8 -7.2M488.7 505.2l6.4 -4.3M507.1 505.2l-2.4 7.3M525.4 505.2l4.5 6.2M543.7 505.2l-2.4 -7.3M562.1 505.2l6.6 -4.0M580.4 505.2l-2.2 7.4M598.8 505.2l5.3 5.6M617.1 505.2l-2.5 -7.3M66.9 523.5l0.3 7.7M85.2 523.5l7.7 -0.5M103.6 523.5l0.4 -7.7M121.9 523.5l-7.7 0.4M140.3 523.5l0.3 7.7M158.6 523.5l7.3 -2.3M176.9 523.5l0.1 -7.7M195.3 523.5l-7.6 1.0M213.6 523.5l0.8 7.7M232.0 523.5l1.5 -7.5M250.3 523.5l-0.2 -7.7M268.6 523.5l-3.6 -6.8M287.0 523.5l-7.5 1.5M305.3 523.5l7.6 0.9M323.7 523.5l-7.7 0.8M342.0 523.5l7.7 -0.6M360.3 523.5l-7.7 0.5M378.7 523.5l7.7 -0.5M397.0 523.5l-7.7 -0.2M415.4 523.5l7.7 0.1M433.7 523.5l-6.6 -4.0M452.0 523.5l6.7 -3.8M470.4 523.5l-3.1 7.0M488.7 523.5l6.6 4.0M507.1 523.5l-2.1 -7.4M525.4 523.5l4.0 -6.6M543.7 523.5l-2.8 7.2M562.1 523.5l6.9 3.4M580.4 523.5l-1.8 -7.5M598.8 523.5l3.0 -7.1M617.1 523.5l-2.7 7.2M66.9 541.9l0.5 -7.7M85.2 541.9l-7.7 0.2M103.6 541.9l0.8 7.7M121.9 541.9l7.6 -1.0M140.3 541.9l0.5 -7.7M158.6 541.9l-7.7 0.1M176.9 541.9l0.5 7.7M195.3 541.9l7.7 -0.4M213.6 541.9l-0.3 -7.7M232.0 541.9l-7.6 1.1M250.3 541.9l2.3 7.4M268.6 541.9l7.7 0.2M287.0 541.9l-7.5 -1.5M305.3 541.9l7.7 0.9M323.7 541.9l-7.7 0.7M342.0 541.9l7.7 0.5M360.3 541.9l-7.7 -0.4M378.7 541.9l7.7 -0.1M397.0 541.9l-7.7 0.0M415.4 541.9l7.7 -0.2M433.7 541.9l-7.2 2.7M452.0 541.9l7.6 1.3M470.4 541.9l-2.2 -7.4M488.7 541.9l-0.4 -7.7M507.1 541.9l-4.0 6.6M525.4 541.9l7.5 1.9M543.7 541.9l-1.8 -7.5M562.1 541.9l-4.5 -6.2M580.4 541.9l-3.7 6.7M598.8 541.9l7.4 2.0M617.1 541.9l-2.2 -7.4M66.9 560.2l0.6 7.7M85.2 560.2l7.7 -0.1M103.6 560.2l-0.1 -7.7M121.9 560.2l-7.7 -0.1M140.3 560.2l2.5 7.3M158.6 560.2l7.7 -0.5M176.9 560.2l1.1 -7.6M195.3 560.2l-7.7 0.1M213.6 560.2l4.6 6.2M232.0 560.2l7.7 -0.8M250.3 560.2l-5.4 -5.5M268.6 560.2l-3.3 6.9M287.0 560.2l-7.6 -1.2M305.3 560.2l7.6 -1.0M323.7 560.2l-7.7 0.8M342.0 560.2l7.7 -0.5M360.3 560.2l-7.7 0.5M378.7 560.2l7.7 -0.0M397.0 560.2l-7.7 0.1M415.4 560.2l7.7 0.1M433.7 560.2l-7.6 -1.4M452.0 560.2l6.9 -3.4M470.4 560.2l-6.8 3.6M488.7 560.2l7.7 0.8M507.1 560.2l-3.0 -7.1M525.4 560.2l-7.0 -3.2M543.7 560.2l-6.2 4.6M562.1 560.2l7.7 0.6M580.4 560.2l-3.5 -6.9M598.8 560.2l-7.3 -2.6M617.1 560.2l-6.0 4.8M66.9 578.6l1.9 7.5M85.2 578.6l-7.7 -0.4M103.6 578.6l2.2 -7.4M121.9 578.6l7.7 -0.0M140.3 578.6l0.2 7.7M158.6 578.6l-7.7 0.0M176.9 578.6l3.7 -6.7M195.3 578.6l7.7 0.1M213.6 578.6l-5.6 5.2M232.0 578.6l-7.7 -0.0M250.3 578.6l6.5 -4.1M268.6 578.6l7.6 1.0M287.0 578.6l-7.6 -1.3M305.3 578.6l7.7 0.7M323.7 578.6l-7.7 0.1M342.0 578.6l7.7 0.5M360.3 578.6l-7.7 -0.2M378.7 578.6l7.7 0.4M397.0 578.6l-7.7 0.4M415.4 578.6l7.7 0.0M433.7 578.6l-7.7 -0.3M452.0 578.6l7.7 -0.4M470.4 578.6l-6.5 4.1M488.7 578.6l-7.7 0.5M507.1 578.6l-7.6 -1.2M525.4 578.6l7.7 -0.3M543.7 578.6l-5.9 4.9M562.1 578.6l-7.6 1.1M580.4 578.6l-7.5 -1.8M598.8 578.6l7.7 -0.4M617.1 578.6l-6.6 4.0M66.9 596.9l0.3 -7.7M85.2 596.9l7.7 0.1M103.6 596.9l-0.0 7.7M121.9 596.9l-7.7 -0.7M140.3 596.9l1.4 -7.6M158.6 596.9l7.7 0.5M176.9 596.9l0.1 7.7M195.3 596.9l-7.7 -0.1M213.6 596.9l2.8 -7.2M232.0 596.9l7.5 1.9M250.3 596.9l-3.7 6.8M268.6 596.9l-7.4 -2.3M287.0 596.9l-7.6 -1.1M305.3 596.9l7.6 1.0M323.7 596.9l-7.7 -0.7M342.0 596.9l7.7 0.7M360.3 596.9l-7.7 -0.5M378.7 596.9l7.7 -0.5M397.0 596.9l-7.7 -0.0M415.4 596.9l7.7 -0.4M433.7 596.9l-7.3 2.4M452.0 596.9l6.6 4.0M470.4 596.9l-5.6 -5.2M488.7 596.9l7.5 -1.7M507.1 596.9l-2.9 7.1M525.4 596.9l-6.5 4.1M543.7 596.9l-4.8 -6.0M562.1 596.9l7.6 -1.5M580.4 596.9l-2.3 7.4M598.8 596.9l-5.8 5.0M617.1 596.9l-4.9 -5.9"/><path fill="#111" stroke="none" d="M267.2 46.7a1.45 1.45 0 1 0 2.90 0a1.45 1.45 0 1 0 -2.90 0M285.5 46.7a1.45 1.45 0 1 0 2.90 0a1.45 1.45 0 1 0 -2.90 0M65.5 65.0a1.45 1.45 0 1 0 2.90 0a1.45 1.45 0 1 0 -2.90 0M102.1 65.0a1.45 1.45 0 1 0 2.90 0a1.45 1.45 0 1 0 -2.90 0M138.8 65.0a1.45 1.45 0 1 0 2.90 0a1.45 1.45 0 1 0 -2.90 0M175.5 65.0a1.45 1.45 0 1 0 2.90 0a1.45 1.45 0 1 0 -2.90 0M212.2 65.0a1.45 1.45 0 1 0 2.90 0a1.45 1.45 0 1 0 -2.90 0M248.9 65.0a1.45 1.45 0 1 0 2.90 0a1.45 1.45 0 1 0 -2.90 0M267.2 65.0a1.45 1.45 0 1 0 2.90 0a1.45 1.45 0 1 0 -2.90 0M285.5 65.0a1.45 1.45 0 1 0 2.90 0a1.45 1.45 0 1 0 -2.90 0M248.9 83.4a1.45 1.45 0 1 0 2.90 0a1.45 1.45 0 1 0 -2.90 0M267.2 83.4a1.45 1.45 0 1 0 2.90 0a1.45 1.45 0 1 0 -2.90 0M285.5 83.4a1.45 1.45 0 1 0 2.90 0a1.45 1.45 0 1 0 -2.90 0M267.2 101.7a1.45 1.45 0 1 0 2.90 0a1.45 1.45 0 1 0 -2.90 0M285.5 101.7a1.45 1.45 0 1 0 2.90 0a1.45 1.45 0 1 0 -2.90 0M83.8 120.1a1.45 1.45 0 1 0 2.90 0a1.45 1.45 0 1 0 -2.90 0M157.2 120.1a1.45 1.45 0 1 0 2.90 0a1.45 1.45 0 1 0 -2.90 0M230.5 120.1a1.45 1.45 0 1 0 2.90 0a1.45 1.45 0 1 0 -2.90 0M267.2 120.1a1.45 1.45 0 1 0 2.90 0a1.45 1.45 0 1 0 -2.90 0M285.5 120.1a1.45 1.45 0 1 0 2.90 0a1.45 1.45 0 1 0 -2.90 0M83.8 138.4a1.45 1.45 0 1 0 2.90 0a1.45 1.45 0 1 0 -2.90 0M157.2 138.4a1.45 1.45 0 1 0 2.90 0a1.45 1.45 0 1 0 -2.90 0M230.5 138.4a1.45 1.45 0 1 0 2.90 0a1.45 1.45 0 1 0 -2.90 0M267.2 138.4a1.45 1.45 0 1 0 2.90 0a1.45 1.45 0 1 0 -2.90 0M285.5 138.4a1.45 1.45 0 1 0 2.90 0a1.45 1.45 0 1 0 -2.90 0M267.2 156.7a1.45 1.45 0 1 0 2.90 0a1.45 1.45 0 1 0 -2.90 0M285.5 156.7a1.45 1.45 0 1 0 2.90 0a1.45 1.45 0 1 0 -2.90 0M267.2 175.1a1.45 1.45 0 1 0 2.90 0a1.45 1.45 0 1 0 -2.90 0M285.5 175.1a1.45 1.45 0 1 0 2.90 0a1.45 1.45 0 1 0 -2.90 0M65.5 193.4a1.45 1.45 0 1 0 2.90 0a1.45 1.45 0 1 0 -2.90 0M102.1 193.4a1.45 1.45 0 1 0 2.90 0a1.45 1.45 0 1 0 -2.90 0M138.8 193.4a1.45 1.45 0 1 0 2.90 0a1.45 1.45 0 1 0 -2.90 0M175.5 193.4a1.45 1.45 0 1 0 2.90 0a1.45 1.45 0 1 0 -2.90 0M212.2 193.4a1.45 1.45 0 1 0 2.90 0a1.45 1.45 0 1 0 -2.90 0M248.9 193.4a1.45 1.45 0 1 0 2.90 0a1.45 1.45 0 1 0 -2.90 0M267.2 193.4a1.45 1.45 0 1 0 2.90 0a1.45 1.45 0 1 0 -2.90 0M285.5 193.4a1.45 1.45 0 1 0 2.90 0a1.45 1.45 0 1 0 -2.90 0M615.6 193.4a1.45 1.45 0 1 0 2.90 0a1.45 1.45 0 1 0 -2.90 0M267.2 211.8a1.45 1.45 0 1 0 2.90 0a1.45 1.45 0 1 0 -2.90 0M285.5 211.8a1.45 1.45 0 1 0 2.90 0a1.45 1.45 0 1 0 -2.90 0M267.2 230.1a1.45 1.45 0 1 0 2.90 0a1.45 1.45 0 1 0 -2.90 0M285.5 230.1a1.45 1.45 0 1 0 2.90 0a1.45 1.45 0 1 0 -2.90 0M83.8 248.4a1.45 1.45 0 1 0 2.90 0a1.45 1.45 0 1 0 -2.90 0M157.2 248.4a1.45 1.45 0 1 0 2.90 0a1.45 1.45 0 1 0 -2.90 0M230.5 248.4a1.45 1.45 0 1 0 2.90 0a1.45 1.45 0 1 0 -2.90 0M267.2 248.4a1.45 1.45 0 1 0 2.90 0a1.45 1.45 0 1 0 -2.90 0M285.5 248.4a1.45 1.45 0 1 0 2.90 0a1.45 1.45 0 1 0 -2.90 0M83.8 266.8a1.45 1.45 0 1 0 2.90 0a1.45 1.45 0 1 0 -2.90 0M157.2 266.8a1.45 1.45 0 1 0 2.90 0a1.45 1.45 0 1 0 -2.90 0M230.5 266.8a1.45 1.45 0 1 0 2.90 0a1.45 1.45 0 1 0 -2.90 0M267.2 266.8a1.45 1.45 0 1 0 2.90 0a1.45 1.45 0 1 0 -2.90 0M285.5 266.8a1.45 1.45 0 1 0 2.90 0a1.45 1.45 0 1 0 -2.90 0M267.2 285.1a1.45 1.45 0 1 0 2.90 0a1.45 1.45 0 1 0 -2.90 0M285.5 285.1a1.45 1.45 0 1 0 2.90 0a1.45 1.45 0 1 0 -2.90 0M248.9 303.5a1.45 1.45 0 1 0 2.90 0a1.45 1.45 0 1 0 -2.90 0M267.2 303.5a1.45 1.45 0 1 0 2.90 0a1.45 1.45 0 1 0 -2.90 0M285.5 303.5a1.45 1.45 0 1 0 2.90 0a1.45 1.45 0 1 0 -2.90 0M65.5 321.8a1.45 1.45 0 1 0 2.90 0a1.45 1.45 0 1 0 -2.90 0M102.1 321.8a1.45 1.45 0 1 0 2.90 0a1.45 1.45 0 1 0 -2.90 0M138.8 321.8a1.45 1.45 0 1 0 2.90 0a1.45 1.45 0 1 0 -2.90 0M175.5 321.8a1.45 1.45 0 1 0 2.90 0a1.45 1.45 0 1 0 -2.90 0M212.2 321.8a1.45 1.45 0 1 0 2.90 0a1.45 1.45 0 1 0 -2.90 0M248.9 321.8a1.45 1.45 0 1 0 2.90 0a1.45 1.45 0 1 0 -2.90 0M267.2 321.8a1.45 1.45 0 1 0 2.90 0a1.45 1.45 0 1 0 -2.90 0M285.5 321.8a1.45 1.45 0 1 0 2.90 0a1.45 1.45 0 1 0 -2.90 0M542.3 321.8a1.45 1.45 0 1 0 2.90 0a1.45 1.45 0 1 0 -2.90 0M615.6 321.8a1.45 1.45 0 1 0 2.90 0a1.45 1.45 0 1 0 -2.90 0M267.2 340.1a1.45 1.45 0 1 0 2.90 0a1.45 1.45 0 1 0 -2.90 0M285.5 340.1a1.45 1.45 0 1 0 2.90 0a1.45 1.45 0 1 0 -2.90 0M267.2 358.5a1.45 1.45 0 1 0 2.90 0a1.45 1.45 0 1 0 -2.90 0M285.5 358.5a1.45 1.45 0 1 0 2.90 0a1.45 1.45 0 1 0 -2.90 0M83.8 376.8a1.45 1.45 0 1 0 2.90 0a1.45 1.45 0 1 0 -2.90 0M157.2 376.8a1.45 1.45 0 1 0 2.90 0a1.45 1.45 0 1 0 -2.90 0M230.5 376.8a1.45 1.45 0 1 0 2.90 0a1.45 1.45 0 1 0 -2.90 0M267.2 376.8a1.45 1.45 0 1 0 2.90 0a1.45 1.45 0 1 0 -2.90 0M285.5 376.8a1.45 1.45 0 1 0 2.90 0a1.45 1.45 0 1 0 -2.90 0M83.8 395.2a1.45 1.45 0 1 0 2.90 0a1.45 1.45 0 1 0 -2.90 0M157.2 395.2a1.45 1.45 0 1 0 2.90 0a1.45 1.45 0 1 0 -2.90 0M230.5 395.2a1.45 1.45 0 1 0 2.90 0a1.45 1.45 0 1 0 -2.90 0M267.2 395.2a1.45 1.45 0 1 0 2.90 0a1.45 1.45 0 1 0 -2.90 0M285.5 395.2a1.45 1.45 0 1 0 2.90 0a1.45 1.45 0 1 0 -2.90 0M267.2 413.5a1.45 1.45 0 1 0 2.90 0a1.45 1.45 0 1 0 -2.90 0M285.5 413.5a1.45 1.45 0 1 0 2.90 0a1.45 1.45 0 1 0 -2.90 0M248.9 431.8a1.45 1.45 0 1 0 2.90 0a1.45 1.45 0 1 0 -2.90 0M267.2 431.8a1.45 1.45 0 1 0 2.90 0a1.45 1.45 0 1 0 -2.90 0M285.5 431.8a1.45 1.45 0 1 0 2.90 0a1.45 1.45 0 1 0 -2.90 0M65.5 450.2a1.45 1.45 0 1 0 2.90 0a1.45 1.45 0 1 0 -2.90 0M102.1 450.2a1.45 1.45 0 1 0 2.90 0a1.45 1.45 0 1 0 -2.90 0M138.8 450.2a1.45 1.45 0 1 0 2.90 0a1.45 1.45 0 1 0 -2.90 0M175.5 450.2a1.45 1.45 0 1 0 2.90 0a1.45 1.45 0 1 0 -2.90 0M212.2 450.2a1.45 1.45 0 1 0 2.90 0a1.45 1.45 0 1 0 -2.90 0M248.9 450.2a1.45 1.45 0 1 0 2.90 0a1.45 1.45 0 1 0 -2.90 0M267.2 450.2a1.45 1.45 0 1 0 2.90 0a1.45 1.45 0 1 0 -2.90 0M285.5 450.2a1.45 1.45 0 1 0 2.90 0a1.45 1.45 0 1 0 -2.90 0M267.2 468.5a1.45 1.45 0 1 0 2.90 0a1.45 1.45 0 1 0 -2.90 0M285.5 468.5a1.45 1.45 0 1 0 2.90 0a1.45 1.45 0 1 0 -2.90 0M267.2 486.9a1.45 1.45 0 1 0 2.90 0a1.45 1.45 0 1 0 -2.90 0M285.5 486.9a1.45 1.45 0 1 0 2.90 0a1.45 1.45 0 1 0 -2.90 0M83.8 505.2a1.45 1.45 0 1 0 2.90 0a1.45 1.45 0 1 0 -2.90 0M120.5 505.2a1.45 1.45 0 1 0 2.90 0a1.45 1.45 0 1 0 -2.90 0M157.2 505.2a1.45 1.45 0 1 0 2.90 0a1.45 1.45 0 1 0 -2.90 0M230.5 505.2a1.45 1.45 0 1 0 2.90 0a1.45 1.45 0 1 0 -2.90 0M267.2 505.2a1.45 1.45 0 1 0 2.90 0a1.45 1.45 0 1 0 -2.90 0M285.5 505.2a1.45 1.45 0 1 0 2.90 0a1.45 1.45 0 1 0 -2.90 0M230.5 523.5a1.45 1.45 0 1 0 2.90 0a1.45 1.45 0 1 0 -2.90 0M267.2 523.5a1.45 1.45 0 1 0 2.90 0a1.45 1.45 0 1 0 -2.90 0M285.5 523.5a1.45 1.45 0 1 0 2.90 0a1.45 1.45 0 1 0 -2.90 0M267.2 541.9a1.45 1.45 0 1 0 2.90 0a1.45 1.45 0 1 0 -2.90 0M285.5 541.9a1.45 1.45 0 1 0 2.90 0a1.45 1.45 0 1 0 -2.90 0M248.9 560.2a1.45 1.45 0 1 0 2.90 0a1.45 1.45 0 1 0 -2.90 0M267.2 560.2a1.45 1.45 0 1 0 2.90 0a1.45 1.45 0 1 0 -2.90 0M285.5 560.2a1.45 1.45 0 1 0 2.90 0a1.45 1.45 0 1 0 -2.90 0M65.5 578.6a1.45 1.45 0 1 0 2.90 0a1.45 1.45 0 1 0 -2.90 0M138.8 578.6a1.45 1.45 0 1 0 2.90 0a1.45 1.45 0 1 0 -2.90 0M212.2 578.6a1.45 1.45 0 1 0 2.90 0a1.45 1.45 0 1 0 -2.90 0M248.9 578.6a1.45 1.45 0 1 0 2.90 0a1.45 1.45 0 1 0 -2.90 0M267.2 578.6a1.45 1.45 0 1 0 2.90 0a1.45 1.45 0 1 0 -2.90 0M285.5 578.6a1.45 1.45 0 1 0 2.90 0a1.45 1.45 0 1 0 -2.90 0M267.2 596.9a1.45 1.45 0 1 0 2.90 0a1.45 1.45 0 1 0 -2.90 0M285.5 596.9a1.45 1.45 0 1 0 2.90 0a1.45 1.45 0 1 0 -2.90 0"/></g><g clip-path="url(#bc)" fill="none" stroke="#111"><path stroke-width="1.05" d="M749.0 50.3a6.45 6.45 0 1 0 12.90 0a6.45 6.45 0 1 0 -12.90 0M769.6 50.3a6.85 6.85 0 1 0 13.70 0a6.85 6.85 0 1 0 -13.70 0M792.3 50.3a5.16 5.16 0 1 0 10.31 0a5.16 5.16 0 1 0 -10.31 0M817.3 50.3a1.30 1.30 0 1 0 2.60 0a1.30 1.30 0 1 0 -2.60 0M835.6 50.3a3.96 3.96 0 1 0 7.92 0a3.96 3.96 0 1 0 -7.92 0M851.8 50.3a8.86 8.86 0 1 0 17.71 0a8.86 8.86 0 1 0 -17.71 0M875.7 50.3a5.99 5.99 0 1 0 11.99 0a5.99 5.99 0 1 0 -11.99 0M898.6 50.3a4.14 4.14 0 1 0 8.28 0a4.14 4.14 0 1 0 -8.28 0M921.3 50.3a2.50 2.50 0 1 0 5.01 0a2.50 2.50 0 1 0 -5.01 0M937.4 50.3a7.47 7.47 0 1 0 14.94 0a7.47 7.47 0 1 0 -14.94 0M958.0 50.3a7.92 7.92 0 1 0 15.83 0a7.92 7.92 0 1 0 -15.83 0M981.3 50.3a5.65 5.65 0 1 0 11.29 0a5.65 5.65 0 1 0 -11.29 0M1024.5 50.3a4.55 4.55 0 1 0 9.10 0a4.55 4.55 0 1 0 -9.10 0M1045.8 50.3a4.26 4.26 0 1 0 8.53 0a4.26 4.26 0 1 0 -8.53 0M1066.4 50.3a4.72 4.72 0 1 0 9.44 0a4.72 4.72 0 1 0 -9.44 0M1087.7 50.3a4.50 4.50 0 1 0 9.00 0a4.50 4.50 0 1 0 -9.00 0M1107.4 50.3a5.83 5.83 0 1 0 11.67 0a5.83 5.83 0 1 0 -11.67 0M1129.4 50.3a4.91 4.91 0 1 0 9.81 0a4.91 4.91 0 1 0 -9.81 0M1152.1 50.3a3.23 3.23 0 1 0 6.46 0a3.23 3.23 0 1 0 -6.46 0M1174.4 50.3a2.03 2.03 0 1 0 4.05 0a2.03 2.03 0 1 0 -4.05 0M1191.8 50.3a5.65 5.65 0 1 0 11.29 0a5.65 5.65 0 1 0 -11.29 0M1212.6 50.3a5.88 5.88 0 1 0 11.76 0a5.88 5.88 0 1 0 -11.76 0M1233.4 50.3a6.13 6.13 0 1 0 12.27 0a6.13 6.13 0 1 0 -12.27 0M1254.0 50.3a6.59 6.59 0 1 0 13.18 0a6.59 6.59 0 1 0 -13.18 0M1276.1 50.3a5.59 5.59 0 1 0 11.19 0a5.59 5.59 0 1 0 -11.19 0M1297.1 50.3a5.58 5.58 0 1 0 11.16 0a5.58 5.58 0 1 0 -11.16 0M749.0 71.3a6.45 6.45 0 1 0 12.90 0a6.45 6.45 0 1 0 -12.90 0M769.6 71.3a6.85 6.85 0 1 0 13.70 0a6.85 6.85 0 1 0 -13.70 0M792.3 71.3a5.16 5.16 0 1 0 10.31 0a5.16 5.16 0 1 0 -10.31 0M817.3 71.3a1.30 1.30 0 1 0 2.60 0a1.30 1.30 0 1 0 -2.60 0M835.6 71.3a3.96 3.96 0 1 0 7.92 0a3.96 3.96 0 1 0 -7.92 0M851.8 71.3a8.86 8.86 0 1 0 17.71 0a8.86 8.86 0 1 0 -17.71 0M875.6 71.3a6.09 6.09 0 1 0 12.18 0a6.09 6.09 0 1 0 -12.18 0M898.1 71.3a4.64 4.64 0 1 0 9.28 0a4.64 4.64 0 1 0 -9.28 0M921.2 71.3a2.62 2.62 0 1 0 5.24 0a2.62 2.62 0 1 0 -5.24 0M936.9 71.3a7.93 7.93 0 1 0 15.86 0a7.93 7.93 0 1 0 -15.86 0M958.0 71.3a7.92 7.92 0 1 0 15.83 0a7.92 7.92 0 1 0 -15.83 0M981.3 71.3a5.65 5.65 0 1 0 11.29 0a5.65 5.65 0 1 0 -11.29 0M1025.3 71.3a3.79 3.79 0 1 0 7.57 0a3.79 3.79 0 1 0 -7.57 0M1047.4 71.3a2.68 2.68 0 1 0 5.36 0a2.68 2.68 0 1 0 -5.36 0M1068.5 71.3a2.60 2.60 0 1 0 5.20 0a2.60 2.60 0 1 0 -5.20 0M1090.3 71.3a1.94 1.94 0 1 0 3.88 0a1.94 1.94 0 1 0 -3.88 0M1109.2 71.3a4.05 4.05 0 1 0 8.10 0a4.05 4.05 0 1 0 -8.10 0M1131.7 71.3a2.59 2.59 0 1 0 5.18 0a2.59 2.59 0 1 0 -5.18 0M1154.0 71.3a1.39 1.39 0 1 0 2.78 0a1.39 1.39 0 1 0 -2.78 0M1172.9 71.3a3.54 3.54 0 1 0 7.08 0a3.54 3.54 0 1 0 -7.08 0M1190.5 71.3a6.99 6.99 0 1 0 13.98 0a6.99 6.99 0 1 0 -13.98 0M1212.0 71.3a6.46 6.46 0 1 0 12.91 0a6.46 6.46 0 1 0 -12.91 0M1233.9 71.3a5.64 5.64 0 1 0 11.29 0a5.64 5.64 0 1 0 -11.29 0M1255.5 71.3a5.09 5.09 0 1 0 10.18 0a5.09 5.09 0 1 0 -10.18 0M1279.2 71.3a2.44 2.44 0 1 0 4.88 0a2.44 2.44 0 1 0 -4.88 0M1300.3 71.3a2.40 2.40 0 1 0 4.81 0a2.40 2.40 0 1 0 -4.81 0M749.0 92.4a6.45 6.45 0 1 0 12.90 0a6.45 6.45 0 1 0 -12.90 0M769.6 92.4a6.85 6.85 0 1 0 13.70 0a6.85 6.85 0 1 0 -13.70 0M792.3 92.4a5.16 5.16 0 1 0 10.31 0a5.16 5.16 0 1 0 -10.31 0M817.3 92.4a1.30 1.30 0 1 0 2.60 0a1.30 1.30 0 1 0 -2.60 0M835.6 92.4a3.96 3.96 0 1 0 7.92 0a3.96 3.96 0 1 0 -7.92 0M851.8 92.4a8.86 8.86 0 1 0 17.71 0a8.86 8.86 0 1 0 -17.71 0M875.6 92.4a6.10 6.10 0 1 0 12.19 0a6.10 6.10 0 1 0 -12.19 0M898.1 92.4a4.68 4.68 0 1 0 9.36 0a4.68 4.68 0 1 0 -9.36 0M921.2 92.4a2.63 2.63 0 1 0 5.25 0a2.63 2.63 0 1 0 -5.25 0M936.9 92.4a7.97 7.97 0 1 0 15.94 0a7.97 7.97 0 1 0 -15.94 0M958.0 92.4a7.92 7.92 0 1 0 15.83 0a7.92 7.92 0 1 0 -15.83 0M981.3 92.4a5.65 5.65 0 1 0 11.29 0a5.65 5.65 0 1 0 -11.29 0M1025.3 92.4a3.72 3.72 0 1 0 7.45 0a3.72 3.72 0 1 0 -7.45 0M1047.6 92.4a2.52 2.52 0 1 0 5.04 0a2.52 2.52 0 1 0 -5.04 0M1068.8 92.4a2.31 2.31 0 1 0 4.61 0a2.31 2.31 0 1 0 -4.61 0M1090.8 92.4a1.43 1.43 0 1 0 2.86 0a1.43 1.43 0 1 0 -2.86 0M1109.4 92.4a3.82 3.82 0 1 0 7.64 0a3.82 3.82 0 1 0 -7.64 0M1132.0 92.4a2.25 2.25 0 1 0 4.51 0a2.25 2.25 0 1 0 -4.51 0M1154.0 92.4a1.30 1.30 0 1 0 2.60 0a1.30 1.30 0 1 0 -2.60 0M1172.7 92.4a3.66 3.66 0 1 0 7.33 0a3.66 3.66 0 1 0 -7.33 0M1190.4 92.4a7.10 7.10 0 1 0 14.20 0a7.10 7.10 0 1 0 -14.20 0M1212.0 92.4a6.50 6.50 0 1 0 12.99 0a6.50 6.50 0 1 0 -12.99 0M1234.0 92.4a5.58 5.58 0 1 0 11.16 0a5.58 5.58 0 1 0 -11.16 0M1255.7 92.4a4.89 4.89 0 1 0 9.79 0a4.89 4.89 0 1 0 -9.79 0M1279.8 92.4a1.82 1.82 0 1 0 3.63 0a1.82 1.82 0 1 0 -3.63 0M1300.9 92.4a1.77 1.77 0 1 0 3.54 0a1.77 1.77 0 1 0 -3.54 0M749.0 113.4a6.45 6.45 0 1 0 12.90 0a6.45 6.45 0 1 0 -12.90 0M769.6 113.4a6.85 6.85 0 1 0 13.70 0a6.85 6.85 0 1 0 -13.70 0M792.3 113.4a5.16 5.16 0 1 0 10.31 0a5.16 5.16 0 1 0 -10.31 0M817.3 113.4a1.30 1.30 0 1 0 2.60 0a1.30 1.30 0 1 0 -2.60 0M835.6 113.4a3.96 3.96 0 1 0 7.92 0a3.96 3.96 0 1 0 -7.92 0M851.8 113.4a8.86 8.86 0 1 0 17.71 0a8.86 8.86 0 1 0 -17.71 0M875.7 113.4a6.01 6.01 0 1 0 12.03 0a6.01 6.01 0 1 0 -12.03 0M898.5 113.4a4.24 4.24 0 1 0 8.49 0a4.24 4.24 0 1 0 -8.49 0M921.3 113.4a2.53 2.53 0 1 0 5.06 0a2.53 2.53 0 1 0 -5.06 0M937.3 113.4a7.56 7.56 0 1 0 15.13 0a7.56 7.56 0 1 0 -15.13 0M958.0 113.4a7.92 7.92 0 1 0 15.83 0a7.92 7.92 0 1 0 -15.83 0M981.3 113.4a5.65 5.65 0 1 0 11.29 0a5.65 5.65 0 1 0 -11.29 0M1024.7 113.4a4.40 4.40 0 1 0 8.79 0a4.40 4.40 0 1 0 -8.79 0M1046.1 113.4a3.98 3.98 0 1 0 7.95 0a3.98 3.98 0 1 0 -7.95 0M1066.7 113.4a4.42 4.42 0 1 0 8.83 0a4.42 4.42 0 1 0 -8.83 0M1088.0 113.4a4.20 4.20 0 1 0 8.40 0a4.20 4.20 0 1 0 -8.40 0M1107.7 113.4a5.59 5.59 0 1 0 11.18 0a5.59 5.59 0 1 0 -11.18 0M1129.7 113.4a4.58 4.58 0 1 0 9.16 0a4.58 4.58 0 1 0 -9.16 0M1152.4 113.4a2.96 2.96 0 1 0 5.93 0a2.96 2.96 0 1 0 -5.93 0M1174.1 113.4a2.33 2.33 0 1 0 4.66 0a2.33 2.33 0 1 0 -4.66 0M1191.5 113.4a5.92 5.92 0 1 0 11.85 0a5.92 5.92 0 1 0 -11.85 0M1212.5 113.4a6.01 6.01 0 1 0 12.02 0a6.01 6.01 0 1 0 -12.02 0M1233.5 113.4a6.08 6.08 0 1 0 12.17 0a6.08 6.08 0 1 0 -12.17 0M1254.2 113.4a6.39 6.39 0 1 0 12.79 0a6.39 6.39 0 1 0 -12.79 0M1276.4 113.4a5.22 5.22 0 1 0 10.45 0a5.22 5.22 0 1 0 -10.45 0M1297.5 113.4a5.21 5.21 0 1 0 10.42 0a5.21 5.21 0 1 0 -10.42 0M749.0 134.4a6.45 6.45 0 1 0 12.90 0a6.45 6.45 0 1 0 -12.90 0M769.6 134.4a6.85 6.85 0 1 0 13.70 0a6.85 6.85 0 1 0 -13.70 0M792.3 134.4a5.16 5.16 0 1 0 10.31 0a5.16 5.16 0 1 0 -10.31 0M817.3 134.4a1.30 1.30 0 1 0 2.60 0a1.30 1.30 0 1 0 -2.60 0M835.6 134.4a3.96 3.96 0 1 0 7.92 0a3.96 3.96 0 1 0 -7.92 0M851.8 134.4a8.86 8.86 0 1 0 17.71 0a8.86 8.86 0 1 0 -17.71 0M875.8 134.4a5.87 5.87 0 1 0 11.75 0a5.87 5.87 0 1 0 -11.75 0M899.3 134.4a3.49 3.49 0 1 0 6.98 0a3.49 3.49 0 1 0 -6.98 0M921.5 134.4a2.28 2.28 0 1 0 4.56 0a2.28 2.28 0 1 0 -4.56 0M938.0 134.4a6.89 6.89 0 1 0 13.77 0a6.89 6.89 0 1 0 -13.77 0M958.0 134.4a7.92 7.92 0 1 0 15.83 0a7.92 7.92 0 1 0 -15.83 0M981.3 134.4a5.65 5.65 0 1 0 11.29 0a5.65 5.65 0 1 0 -11.29 0M1023.6 134.4a5.46 5.46 0 1 0 10.93 0a5.46 5.46 0 1 0 -10.93 0M1044.3 134.4a5.81 5.81 0 1 0 11.63 0a5.81 5.81 0 1 0 -11.63 0M1065.3 134.4a5.88 5.88 0 1 0 11.76 0a5.88 5.88 0 1 0 -11.76 0M1087.0 134.4a5.24 5.24 0 1 0 10.49 0a5.24 5.24 0 1 0 -10.49 0M1106.8 134.4a6.43 6.43 0 1 0 12.87 0a6.43 6.43 0 1 0 -12.87 0M1128.2 134.4a6.11 6.11 0 1 0 12.21 0a6.11 6.11 0 1 0 -12.21 0M1151.0 134.4a4.40 4.40 0 1 0 8.79 0a4.40 4.40 0 1 0 -8.79 0M1193.5 134.4a3.94 3.94 0 1 0 7.88 0a3.94 3.94 0 1 0 -7.88 0M1213.6 134.4a4.92 4.92 0 1 0 9.84 0a4.92 4.92 0 1 0 -9.84 0M1233.6 134.4a5.93 5.93 0 1 0 11.87 0a5.93 5.93 0 1 0 -11.87 0M1253.7 134.4a6.88 6.88 0 1 0 13.77 0a6.88 6.88 0 1 0 -13.77 0M1275.2 134.4a6.49 6.49 0 1 0 12.98 0a6.49 6.49 0 1 0 -12.98 0M1296.2 134.4a6.48 6.48 0 1 0 12.95 0a6.48 6.48 0 1 0 -12.95 0M749.0 155.4a6.45 6.45 0 1 0 12.90 0a6.45 6.45 0 1 0 -12.90 0M769.6 155.4a6.85 6.85 0 1 0 13.70 0a6.85 6.85 0 1 0 -13.70 0M792.3 155.4a5.16 5.16 0 1 0 10.31 0a5.16 5.16 0 1 0 -10.31 0M817.3 155.4a1.30 1.30 0 1 0 2.60 0a1.30 1.30 0 1 0 -2.60 0M835.6 155.4a3.96 3.96 0 1 0 7.92 0a3.96 3.96 0 1 0 -7.92 0M851.8 155.4a8.86 8.86 0 1 0 17.71 0a8.86 8.86 0 1 0 -17.71 0M876.0 155.4a5.74 5.74 0 1 0 11.47 0a5.74 5.74 0 1 0 -11.47 0M900.0 155.4a2.70 2.70 0 1 0 5.41 0a2.70 2.70 0 1 0 -5.41 0M921.9 155.4a1.87 1.87 0 1 0 3.74 0a1.87 1.87 0 1 0 -3.74 0M938.6 155.4a6.21 6.21 0 1 0 12.43 0a6.21 6.21 0 1 0 -12.43 0M958.0 155.4a7.92 7.92 0 1 0 15.83 0a7.92 7.92 0 1 0 -15.83 0M981.3 155.4a5.65 5.65 0 1 0 11.29 0a5.65 5.65 0 1 0 -11.29 0M1022.6 155.4a6.47 6.47 0 1 0 12.95 0a6.47 6.47 0 1 0 -12.95 0M1042.7 155.4a7.36 7.36 0 1 0 14.71 0a7.36 7.36 0 1 0 -14.71 0M1064.9 155.4a6.24 6.24 0 1 0 12.47 0a6.24 6.24 0 1 0 -12.47 0M1088.0 155.4a4.15 4.15 0 1 0 8.31 0a4.15 4.15 0 1 0 -8.31 0M1107.8 155.4a5.44 5.44 0 1 0 10.88 0a5.44 5.44 0 1 0 -10.88 0M1127.9 155.4a6.38 6.38 0 1 0 12.76 0a6.38 6.38 0 1 0 -12.76 0M1150.1 155.4a5.20 5.20 0 1 0 10.41 0a5.20 5.20 0 1 0 -10.41 0M1174.0 155.4a2.45 2.45 0 1 0 4.90 0a2.45 2.45 0 1 0 -4.90 0M1195.5 155.4a1.91 1.91 0 1 0 3.82 0a1.91 1.91 0 1 0 -3.82 0M1215.3 155.4a3.21 3.21 0 1 0 6.43 0a3.21 3.21 0 1 0 -6.43 0M1235.2 155.4a4.37 4.37 0 1 0 8.75 0a4.37 4.37 0 1 0 -8.75 0M1255.4 155.4a5.20 5.20 0 1 0 10.40 0a5.20 5.20 0 1 0 -10.40 0M1276.6 155.4a5.06 5.06 0 1 0 10.12 0a5.06 5.06 0 1 0 -10.12 0M1297.7 155.4a5.04 5.04 0 1 0 10.09 0a5.04 5.04 0 1 0 -10.09 0M749.0 176.5a6.45 6.45 0 1 0 12.90 0a6.45 6.45 0 1 0 -12.90 0M769.6 176.5a6.85 6.85 0 1 0 13.70 0a6.85 6.85 0 1 0 -13.70 0M792.3 176.5a5.16 5.16 0 1 0 10.31 0a5.16 5.16 0 1 0 -10.31 0M817.3 176.5a1.30 1.30 0 1 0 2.60 0a1.30 1.30 0 1 0 -2.60 0M835.6 176.5a3.96 3.96 0 1 0 7.92 0a3.96 3.96 0 1 0 -7.92 0M851.8 176.5a8.86 8.86 0 1 0 17.71 0a8.86 8.86 0 1 0 -17.71 0M876.0 176.5a5.66 5.66 0 1 0 11.32 0a5.66 5.66 0 1 0 -11.32 0M900.5 176.5a2.22 2.22 0 1 0 4.44 0a2.22 2.22 0 1 0 -4.44 0M922.3 176.5a1.52 1.52 0 1 0 3.05 0a1.52 1.52 0 1 0 -3.05 0M939.0 176.5a5.83 5.83 0 1 0 11.65 0a5.83 5.83 0 1 0 -11.65 0M958.0 176.5a7.92 7.92 0 1 0 15.83 0a7.92 7.92 0 1 0 -15.83 0M981.3 176.5a5.65 5.65 0 1 0 11.29 0a5.65 5.65 0 1 0 -11.29 0M1022.0 176.5a7.04 7.04 0 1 0 14.07 0a7.04 7.04 0 1 0 -14.07 0M1041.9 176.5a8.17 8.17 0 1 0 16.35 0a8.17 8.17 0 1 0 -16.35 0M1065.1 176.5a6.05 6.05 0 1 0 12.11 0a6.05 6.05 0 1 0 -12.11 0M1090.6 176.5a1.61 1.61 0 1 0 3.22 0a1.61 1.61 0 1 0 -3.22 0M1109.6 176.5a3.63 3.63 0 1 0 7.26 0a3.63 3.63 0 1 0 -7.26 0M1128.2 176.5a6.08 6.08 0 1 0 12.16 0a6.08 6.08 0 1 0 -12.16 0M1149.8 176.5a5.50 5.50 0 1 0 11.01 0a5.50 5.50 0 1 0 -11.01 0M1172.7 176.5a3.70 3.70 0 1 0 7.40 0a3.70 3.70 0 1 0 -7.40 0M1217.2 176.5a1.30 1.30 0 1 0 2.60 0a1.30 1.30 0 1 0 -2.60 0M1237.6 176.5a1.91 1.91 0 1 0 3.82 0a1.91 1.91 0 1 0 -3.82 0M1258.7 176.5a1.90 1.90 0 1 0 3.80 0a1.90 1.90 0 1 0 -3.80 0M1280.1 176.5a1.56 1.56 0 1 0 3.13 0a1.56 1.56 0 1 0 -3.13 0M1301.2 176.5a1.51 1.51 0 1 0 3.02 0a1.51 1.51 0 1 0 -3.02 0M749.0 197.5a6.45 6.45 0 1 0 12.90 0a6.45 6.45 0 1 0 -12.90 0M769.6 197.5a6.85 6.85 0 1 0 13.70 0a6.85 6.85 0 1 0 -13.70 0M792.3 197.5a5.16 5.16 0 1 0 10.31 0a5.16 5.16 0 1 0 -10.31 0M817.3 197.5a1.30 1.30 0 1 0 2.60 0a1.30 1.30 0 1 0 -2.60 0M835.6 197.5a3.96 3.96 0 1 0 7.92 0a3.96 3.96 0 1 0 -7.92 0M851.8 197.5a8.86 8.86 0 1 0 17.71 0a8.86 8.86 0 1 0 -17.71 0M876.0 197.5a5.67 5.67 0 1 0 11.35 0a5.67 5.67 0 1 0 -11.35 0M900.4 197.5a2.31 2.31 0 1 0 4.61 0a2.31 2.31 0 1 0 -4.61 0M922.2 197.5a1.59 1.59 0 1 0 3.19 0a1.59 1.59 0 1 0 -3.19 0M939.0 197.5a5.89 5.89 0 1 0 11.79 0a5.89 5.89 0 1 0 -11.79 0M958.0 197.5a7.92 7.92 0 1 0 15.83 0a7.92 7.92 0 1 0 -15.83 0M981.3 197.5a5.65 5.65 0 1 0 11.29 0a5.65 5.65 0 1 0 -11.29 0M1022.1 197.5a6.94 6.94 0 1 0 13.88 0a6.94 6.94 0 1 0 -13.88 0M1042.1 197.5a8.03 8.03 0 1 0 16.07 0a8.03 8.03 0 1 0 -16.07 0M1065.0 197.5a6.11 6.11 0 1 0 12.21 0a6.11 6.11 0 1 0 -12.21 0M1089.8 197.5a2.37 2.37 0 1 0 4.74 0a2.37 2.37 0 1 0 -4.74 0M1109.2 197.5a4.07 4.07 0 1 0 8.14 0a4.07 4.07 0 1 0 -8.14 0M1128.1 197.5a6.16 6.16 0 1 0 12.32 0a6.16 6.16 0 1 0 -12.32 0M1149.9 197.5a5.46 5.46 0 1 0 10.92 0a5.46 5.46 0 1 0 -10.92 0M1172.9 197.5a3.48 3.48 0 1 0 6.96 0a3.48 3.48 0 1 0 -6.96 0M1216.7 197.5a1.75 1.75 0 1 0 3.51 0a1.75 1.75 0 1 0 -3.51 0M1237.0 197.5a2.59 2.59 0 1 0 5.17 0a2.59 2.59 0 1 0 -5.17 0M1257.7 197.5a2.89 2.89 0 1 0 5.77 0a2.89 2.89 0 1 0 -5.77 0M1279.0 197.5a2.69 2.69 0 1 0 5.37 0a2.69 2.69 0 1 0 -5.37 0M1300.0 197.5a2.65 2.65 0 1 0 5.31 0a2.65 2.65 0 1 0 -5.31 0M749.0 218.5a6.45 6.45 0 1 0 12.90 0a6.45 6.45 0 1 0 -12.90 0M769.6 218.5a6.85 6.85 0 1 0 13.70 0a6.85 6.85 0 1 0 -13.70 0M792.3 218.5a5.16 5.16 0 1 0 10.31 0a5.16 5.16 0 1 0 -10.31 0M817.3 218.5a1.30 1.30 0 1 0 2.60 0a1.30 1.30 0 1 0 -2.60 0M835.6 218.5a3.96 3.96 0 1 0 7.92 0a3.96 3.96 0 1 0 -7.92 0M851.8 218.5a8.86 8.86 0 1 0 17.71 0a8.86 8.86 0 1 0 -17.71 0M875.9 218.5a5.77 5.77 0 1 0 11.54 0a5.77 5.77 0 1 0 -11.54 0M899.8 218.5a2.91 2.91 0 1 0 5.83 0a2.91 2.91 0 1 0 -5.83 0M921.8 218.5a2.00 2.00 0 1 0 3.99 0a2.00 2.00 0 1 0 -3.99 0M938.5 218.5a6.39 6.39 0 1 0 12.77 0a6.39 6.39 0 1 0 -12.77 0M958.0 218.5a7.92 7.92 0 1 0 15.83 0a7.92 7.92 0 1 0 -15.83 0M981.3 218.5a5.65 5.65 0 1 0 11.29 0a5.65 5.65 0 1 0 -11.29 0M1022.8 218.5a6.22 6.22 0 1 0 12.43 0a6.22 6.22 0 1 0 -12.43 0M1043.1 218.5a6.97 6.97 0 1 0 13.95 0a6.97 6.97 0 1 0 -13.95 0M1064.9 218.5a6.23 6.23 0 1 0 12.46 0a6.23 6.23 0 1 0 -12.46 0M1087.5 218.5a4.67 4.67 0 1 0 9.33 0a4.67 4.67 0 1 0 -9.33 0M1107.4 218.5a5.89 5.89 0 1 0 11.78 0a5.89 5.89 0 1 0 -11.78 0M1127.9 218.5a6.40 6.40 0 1 0 12.81 0a6.40 6.40 0 1 0 -12.81 0M1150.3 218.5a5.03 5.03 0 1 0 10.07 0a5.03 5.03 0 1 0 -10.07 0M1174.5 218.5a1.90 1.90 0 1 0 3.80 0a1.90 1.90 0 1 0 -3.80 0M1195.0 218.5a2.45 2.45 0 1 0 4.90 0a2.45 2.45 0 1 0 -4.90 0M1214.7 218.5a3.75 3.75 0 1 0 7.51 0a3.75 3.75 0 1 0 -7.51 0M1234.6 218.5a4.96 4.96 0 1 0 9.92 0a4.96 4.96 0 1 0 -9.92 0M1254.7 218.5a5.90 5.90 0 1 0 11.80 0a5.90 5.90 0 1 0 -11.80 0M1275.9 218.5a5.73 5.73 0 1 0 11.45 0a5.73 5.73 0 1 0 -11.45 0M1297.0 218.5a5.71 5.71 0 1 0 11.42 0a5.71 5.71 0 1 0 -11.42 0M749.0 239.6a6.45 6.45 0 1 0 12.90 0a6.45 6.45 0 1 0 -12.90 0M769.6 239.6a6.85 6.85 0 1 0 13.70 0a6.85 6.85 0 1 0 -13.70 0M792.3 239.6a5.16 5.16 0 1 0 10.31 0a5.16 5.16 0 1 0 -10.31 0M817.3 239.6a1.30 1.30 0 1 0 2.60 0a1.30 1.30 0 1 0 -2.60 0M835.6 239.6a3.96 3.96 0 1 0 7.92 0a3.96 3.96 0 1 0 -7.92 0M851.8 239.6a8.86 8.86 0 1 0 17.71 0a8.86 8.86 0 1 0 -17.71 0M875.8 239.6a5.92 5.92 0 1 0 11.83 0a5.92 5.92 0 1 0 -11.83 0M899.0 239.6a3.72 3.72 0 1 0 7.45 0a3.72 3.72 0 1 0 -7.45 0M921.4 239.6a2.37 2.37 0 1 0 4.74 0a2.37 2.37 0 1 0 -4.74 0M937.8 239.6a7.09 7.09 0 1 0 14.19 0a7.09 7.09 0 1 0 -14.19 0M958.0 239.6a7.92 7.92 0 1 0 15.83 0a7.92 7.92 0 1 0 -15.83 0M981.3 239.6a5.65 5.65 0 1 0 11.29 0a5.65 5.65 0 1 0 -11.29 0M1023.9 239.6a5.15 5.15 0 1 0 10.29 0a5.15 5.15 0 1 0 -10.29 0M1044.8 239.6a5.30 5.30 0 1 0 10.59 0a5.30 5.30 0 1 0 -10.59 0M1065.6 239.6a5.58 5.58 0 1 0 11.16 0a5.58 5.58 0 1 0 -11.16 0M1087.0 239.6a5.16 5.16 0 1 0 10.33 0a5.16 5.16 0 1 0 -10.33 0M1106.9 239.6a6.38 6.38 0 1 0 12.76 0a6.38 6.38 0 1 0 -12.76 0M1128.5 239.6a5.81 5.81 0 1 0 11.61 0a5.81 5.81 0 1 0 -11.61 0M1151.3 239.6a4.05 4.05 0 1 0 8.11 0a4.05 4.05 0 1 0 -8.11 0M1192.9 239.6a4.54 4.54 0 1 0 9.09 0a4.54 4.54 0 1 0 -9.09 0M1213.2 239.6a5.30 5.30 0 1 0 10.59 0a5.30 5.30 0 1 0 -10.59 0M1233.4 239.6a6.11 6.11 0 1 0 12.21 0a6.11 6.11 0 1 0 -12.21 0M1253.6 239.6a6.95 6.95 0 1 0 13.90 0a6.95 6.95 0 1 0 -13.90 0M1275.2 239.6a6.40 6.40 0 1 0 12.80 0a6.40 6.40 0 1 0 -12.80 0M1296.3 239.6a6.39 6.39 0 1 0 12.77 0a6.39 6.39 0 1 0 -12.77 0M749.0 260.6a6.45 6.45 0 1 0 12.90 0a6.45 6.45 0 1 0 -12.90 0M769.6 260.6a6.85 6.85 0 1 0 13.70 0a6.85 6.85 0 1 0 -13.70 0M792.3 260.6a5.16 5.16 0 1 0 10.31 0a5.16 5.16 0 1 0 -10.31 0M817.3 260.6a1.30 1.30 0 1 0 2.60 0a1.30 1.30 0 1 0 -2.60 0M835.6 260.6a3.96 3.96 0 1 0 7.92 0a3.96 3.96 0 1 0 -7.92 0M851.8 260.6a8.86 8.86 0 1 0 17.71 0a8.86 8.86 0 1 0 -17.71 0M875.7 260.6a6.05 6.05 0 1 0 12.09 0a6.05 6.05 0 1 0 -12.09 0M898.3 260.6a4.41 4.41 0 1 0 8.82 0a4.41 4.41 0 1 0 -8.82 0M921.2 260.6a2.57 2.57 0 1 0 5.14 0a2.57 2.57 0 1 0 -5.14 0M937.1 260.6a7.72 7.72 0 1 0 15.43 0a7.72 7.72 0 1 0 -15.43 0M958.0 260.6a7.92 7.92 0 1 0 15.83 0a7.92 7.92 0 1 0 -15.83 0M981.3 260.6a5.65 5.65 0 1 0 11.29 0a5.65 5.65 0 1 0 -11.29 0M1024.9 260.6a4.15 4.15 0 1 0 8.29 0a4.15 4.15 0 1 0 -8.29 0M1046.6 260.6a3.48 3.48 0 1 0 6.96 0a3.48 3.48 0 1 0 -6.96 0M1067.3 260.6a3.82 3.82 0 1 0 7.64 0a3.82 3.82 0 1 0 -7.64 0M1088.7 260.6a3.55 3.55 0 1 0 7.10 0a3.55 3.55 0 1 0 -7.10 0M1108.2 260.6a5.09 5.09 0 1 0 10.17 0a5.09 5.09 0 1 0 -10.17 0M1130.4 260.6a3.94 3.94 0 1 0 7.88 0a3.94 3.94 0 1 0 -7.88 0M1152.9 260.6a2.45 2.45 0 1 0 4.91 0a2.45 2.45 0 1 0 -4.91 0M1173.6 260.6a2.83 2.83 0 1 0 5.66 0a2.83 2.83 0 1 0 -5.66 0M1191.1 260.6a6.37 6.37 0 1 0 12.74 0a6.37 6.37 0 1 0 -12.74 0M1212.3 260.6a6.21 6.21 0 1 0 12.41 0a6.21 6.21 0 1 0 -12.41 0M1233.6 260.6a5.95 5.95 0 1 0 11.90 0a5.95 5.95 0 1 0 -11.90 0M1254.6 260.6a5.97 5.97 0 1 0 11.94 0a5.97 5.97 0 1 0 -11.94 0M1277.2 260.6a4.42 4.42 0 1 0 8.84 0a4.42 4.42 0 1 0 -8.84 0M1298.3 260.6a4.40 4.40 0 1 0 8.80 0a4.40 4.40 0 1 0 -8.80 0M749.0 281.6a6.45 6.45 0 1 0 12.90 0a6.45 6.45 0 1 0 -12.90 0M769.6 281.6a6.85 6.85 0 1 0 13.70 0a6.85 6.85 0 1 0 -13.70 0M792.3 281.6a5.16 5.16 0 1 0 10.31 0a5.16 5.16 0 1 0 -10.31 0M817.3 281.6a1.30 1.30 0 1 0 2.60 0a1.30 1.30 0 1 0 -2.60 0M835.6 281.6a3.96 3.96 0 1 0 7.92 0a3.96 3.96 0 1 0 -7.92 0M851.8 281.6a8.86 8.86 0 1 0 17.71 0a8.86 8.86 0 1 0 -17.71 0M875.6 281.6a6.10 6.10 0 1 0 12.21 0a6.10 6.10 0 1 0 -12.21 0M898.0 281.6a4.72 4.72 0 1 0 9.44 0a4.72 4.72 0 1 0 -9.44 0M921.2 281.6a2.63 2.63 0 1 0 5.26 0a2.63 2.63 0 1 0 -5.26 0M936.8 281.6a8.00 8.00 0 1 0 16.01 0a8.00 8.00 0 1 0 -16.01 0M958.0 281.6a7.92 7.92 0 1 0 15.83 0a7.92 7.92 0 1 0 -15.83 0M981.3 281.6a5.65 5.65 0 1 0 11.29 0a5.65 5.65 0 1 0 -11.29 0M1025.4 281.6a3.66 3.66 0 1 0 7.32 0a3.66 3.66 0 1 0 -7.32 0M1047.8 281.6a2.35 2.35 0 1 0 4.70 0a2.35 2.35 0 1 0 -4.70 0M1069.2 281.6a1.95 1.95 0 1 0 3.91 0a1.95 1.95 0 1 0 -3.91 0M1109.7 281.6a3.55 3.55 0 1 0 7.11 0a3.55 3.55 0 1 0 -7.11 0M1132.5 281.6a1.84 1.84 0 1 0 3.67 0a1.84 1.84 0 1 0 -3.67 0M1172.6 281.6a3.79 3.79 0 1 0 7.58 0a3.79 3.79 0 1 0 -7.58 0M1190.2 281.6a7.21 7.21 0 1 0 14.41 0a7.21 7.21 0 1 0 -14.41 0M1212.0 281.6a6.54 6.54 0 1 0 13.07 0a6.54 6.54 0 1 0 -13.07 0M1234.0 281.6a5.50 5.50 0 1 0 11.01 0a5.50 5.50 0 1 0 -11.01 0M1255.9 281.6a4.68 4.68 0 1 0 9.36 0a4.68 4.68 0 1 0 -9.36 0M749.0 302.7a6.45 6.45 0 1 0 12.90 0a6.45 6.45 0 1 0 -12.90 0M769.6 302.7a6.85 6.85 0 1 0 13.70 0a6.85 6.85 0 1 0 -13.70 0M792.3 302.7a5.16 5.16 0 1 0 10.31 0a5.16 5.16 0 1 0 -10.31 0M817.3 302.7a1.30 1.30 0 1 0 2.60 0a1.30 1.30 0 1 0 -2.60 0M835.6 302.7a3.96 3.96 0 1 0 7.92 0a3.96 3.96 0 1 0 -7.92 0M851.8 302.7a8.86 8.86 0 1 0 17.71 0a8.86 8.86 0 1 0 -17.71 0M875.6 302.7a6.07 6.07 0 1 0 12.14 0a6.07 6.07 0 1 0 -12.14 0M898.2 302.7a4.54 4.54 0 1 0 9.08 0a4.54 4.54 0 1 0 -9.08 0M921.2 302.7a2.60 2.60 0 1 0 5.20 0a2.60 2.60 0 1 0 -5.20 0M937.0 302.7a7.84 7.84 0 1 0 15.68 0a7.84 7.84 0 1 0 -15.68 0M958.0 302.7a7.92 7.92 0 1 0 15.83 0a7.92 7.92 0 1 0 -15.83 0M981.3 302.7a5.65 5.65 0 1 0 11.29 0a5.65 5.65 0 1 0 -11.29 0M1025.1 302.7a3.94 3.94 0 1 0 7.89 0a3.94 3.94 0 1 0 -7.89 0M1047.0 302.7a3.05 3.05 0 1 0 6.10 0a3.05 3.05 0 1 0 -6.10 0M1067.9 302.7a3.21 3.21 0 1 0 6.43 0a3.21 3.21 0 1 0 -6.43 0M1089.4 302.7a2.81 2.81 0 1 0 5.62 0a2.81 2.81 0 1 0 -5.62 0M1108.7 302.7a4.56 4.56 0 1 0 9.13 0a4.56 4.56 0 1 0 -9.13 0M1131.0 302.7a3.28 3.28 0 1 0 6.55 0a3.28 3.28 0 1 0 -6.55 0M1153.4 302.7a1.94 1.94 0 1 0 3.88 0a1.94 1.94 0 1 0 -3.88 0M1173.2 302.7a3.23 3.23 0 1 0 6.46 0a3.23 3.23 0 1 0 -6.46 0M1190.7 302.7a6.72 6.72 0 1 0 13.44 0a6.72 6.72 0 1 0 -13.44 0M1212.1 302.7a6.35 6.35 0 1 0 12.70 0a6.35 6.35 0 1 0 -12.70 0M1233.8 302.7a5.80 5.80 0 1 0 11.59 0a5.80 5.80 0 1 0 -11.59 0M1255.1 302.7a5.52 5.52 0 1 0 11.04 0a5.52 5.52 0 1 0 -11.04 0M1278.1 302.7a3.51 3.51 0 1 0 7.01 0a3.51 3.51 0 1 0 -7.01 0M1299.2 302.7a3.48 3.48 0 1 0 6.96 0a3.48 3.48 0 1 0 -6.96 0M749.0 323.7a6.45 6.45 0 1 0 12.90 0a6.45 6.45 0 1 0 -12.90 0M769.6 323.7a6.85 6.85 0 1 0 13.70 0a6.85 6.85 0 1 0 -13.70 0M792.3 323.7a5.16 5.16 0 1 0 10.31 0a5.16 5.16 0 1 0 -10.31 0M817.3 323.7a1.30 1.30 0 1 0 2.60 0a1.30 1.30 0 1 0 -2.60 0M835.6 323.7a3.96 3.96 0 1 0 7.92 0a3.96 3.96 0 1 0 -7.92 0M851.8 323.7a8.86 8.86 0 1 0 17.71 0a8.86 8.86 0 1 0 -17.71 0M875.7 323.7a5.96 5.96 0 1 0 11.91 0a5.96 5.96 0 1 0 -11.91 0M898.8 323.7a3.94 3.94 0 1 0 7.87 0a3.94 3.94 0 1 0 -7.87 0M921.4 323.7a2.44 2.44 0 1 0 4.88 0a2.44 2.44 0 1 0 -4.88 0M937.6 323.7a7.28 7.28 0 1 0 14.57 0a7.28 7.28 0 1 0 -14.57 0M958.0 323.7a7.92 7.92 0 1 0 15.83 0a7.92 7.92 0 1 0 -15.83 0M981.3 323.7a5.65 5.65 0 1 0 11.29 0a5.65 5.65 0 1 0 -11.29 0M1024.2 323.7a4.85 4.85 0 1 0 9.69 0a4.85 4.85 0 1 0 -9.69 0M1045.3 323.7a4.79 4.79 0 1 0 9.58 0a4.79 4.79 0 1 0 -9.58 0M1065.9 323.7a5.20 5.20 0 1 0 10.41 0a5.20 5.20 0 1 0 -10.41 0M1087.3 323.7a4.92 4.92 0 1 0 9.84 0a4.92 4.92 0 1 0 -9.84 0M1107.1 323.7a6.18 6.18 0 1 0 12.36 0a6.18 6.18 0 1 0 -12.36 0M1128.9 323.7a5.42 5.42 0 1 0 10.83 0a5.42 5.42 0 1 0 -10.83 0M1151.7 323.7a3.67 3.67 0 1 0 7.35 0a3.67 3.67 0 1 0 -7.35 0M1174.9 323.7a1.45 1.45 0 1 0 2.90 0a1.45 1.45 0 1 0 -2.90 0M1192.3 323.7a5.10 5.10 0 1 0 10.20 0a5.10 5.10 0 1 0 -10.20 0M1212.9 323.7a5.61 5.61 0 1 0 11.22 0a5.61 5.61 0 1 0 -11.22 0M1233.4 323.7a6.17 6.17 0 1 0 12.33 0a6.17 6.17 0 1 0 -12.33 0M1253.8 323.7a6.85 6.85 0 1 0 13.70 0a6.85 6.85 0 1 0 -13.70 0M1275.5 323.7a6.11 6.11 0 1 0 12.21 0a6.11 6.11 0 1 0 -12.21 0M1296.6 323.7a6.09 6.09 0 1 0 12.19 0a6.09 6.09 0 1 0 -12.19 0M749.0 344.7a6.45 6.45 0 1 0 12.90 0a6.45 6.45 0 1 0 -12.90 0M769.6 344.7a6.85 6.85 0 1 0 13.70 0a6.85 6.85 0 1 0 -13.70 0M792.3 344.7a5.16 5.16 0 1 0 10.31 0a5.16 5.16 0 1 0 -10.31 0M817.3 344.7a1.30 1.30 0 1 0 2.60 0a1.30 1.30 0 1 0 -2.60 0M835.6 344.7a3.96 3.96 0 1 0 7.92 0a3.96 3.96 0 1 0 -7.92 0M851.8 344.7a8.86 8.86 0 1 0 17.71 0a8.86 8.86 0 1 0 -17.71 0M875.9 344.7a5.81 5.81 0 1 0 11.62 0a5.81 5.81 0 1 0 -11.62 0M899.6 344.7a3.13 3.13 0 1 0 6.26 0a3.13 3.13 0 1 0 -6.26 0M921.7 344.7a2.11 2.11 0 1 0 4.22 0a2.11 2.11 0 1 0 -4.22 0M938.3 344.7a6.57 6.57 0 1 0 13.14 0a6.57 6.57 0 1 0 -13.14 0M958.0 344.7a7.92 7.92 0 1 0 15.83 0a7.92 7.92 0 1 0 -15.83 0M981.3 344.7a5.65 5.65 0 1 0 11.29 0a5.65 5.65 0 1 0 -11.29 0M1023.1 344.7a5.94 5.94 0 1 0 11.89 0a5.94 5.94 0 1 0 -11.89 0M1043.5 344.7a6.56 6.56 0 1 0 13.12 0a6.56 6.56 0 1 0 -13.12 0M1065.0 344.7a6.16 6.16 0 1 0 12.32 0a6.16 6.16 0 1 0 -12.32 0M1087.2 344.7a5.01 5.01 0 1 0 10.03 0a5.01 5.01 0 1 0 -10.03 0M1107.0 344.7a6.21 6.21 0 1 0 12.41 0a6.21 6.21 0 1 0 -12.41 0M1127.9 344.7a6.36 6.36 0 1 0 12.72 0a6.36 6.36 0 1 0 -12.72 0M1150.5 344.7a4.83 4.83 0 1 0 9.65 0a4.83 4.83 0 1 0 -9.65 0M1175.1 344.7a1.35 1.35 0 1 0 2.69 0a1.35 1.35 0 1 0 -2.69 0M1194.4 344.7a3.00 3.00 0 1 0 6.00 0a3.00 3.00 0 1 0 -6.00 0M1214.3 344.7a4.23 4.23 0 1 0 8.47 0a4.23 4.23 0 1 0 -8.47 0M1234.1 344.7a5.42 5.42 0 1 0 10.84 0a5.42 5.42 0 1 0 -10.84 0M1254.2 344.7a6.41 6.41 0 1 0 12.82 0a6.41 6.41 0 1 0 -12.82 0M1275.5 344.7a6.18 6.18 0 1 0 12.36 0a6.18 6.18 0 1 0 -12.36 0M1296.5 344.7a6.16 6.16 0 1 0 12.33 0a6.16 6.16 0 1 0 -12.33 0M749.0 365.8a6.45 6.45 0 1 0 12.90 0a6.45 6.45 0 1 0 -12.90 0M769.6 365.8a6.85 6.85 0 1 0 13.70 0a6.85 6.85 0 1 0 -13.70 0M792.3 365.8a5.16 5.16 0 1 0 10.31 0a5.16 5.16 0 1 0 -10.31 0M817.3 365.8a1.30 1.30 0 1 0 2.60 0a1.30 1.30 0 1 0 -2.60 0M835.6 365.8a3.96 3.96 0 1 0 7.92 0a3.96 3.96 0 1 0 -7.92 0M851.8 365.8a8.86 8.86 0 1 0 17.71 0a8.86 8.86 0 1 0 -17.71 0M876.0 365.8a5.69 5.69 0 1 0 11.39 0a5.69 5.69 0 1 0 -11.39 0M900.3 365.8a2.43 2.43 0 1 0 4.86 0a2.43 2.43 0 1 0 -4.86 0M922.1 365.8a1.69 1.69 0 1 0 3.38 0a1.69 1.69 0 1 0 -3.38 0M938.9 365.8a5.99 5.99 0 1 0 11.99 0a5.99 5.99 0 1 0 -11.99 0M958.0 365.8a7.92 7.92 0 1 0 15.83 0a7.92 7.92 0 1 0 -15.83 0M981.3 365.8a5.65 5.65 0 1 0 11.29 0a5.65 5.65 0 1 0 -11.29 0M1022.3 365.8a6.80 6.80 0 1 0 13.59 0a6.80 6.80 0 1 0 -13.59 0M1042.3 365.8a7.83 7.83 0 1 0 15.65 0a7.83 7.83 0 1 0 -15.65 0M1065.0 365.8a6.17 6.17 0 1 0 12.33 0a6.17 6.17 0 1 0 -12.33 0M1089.1 365.8a3.11 3.11 0 1 0 6.22 0a3.11 3.11 0 1 0 -6.22 0M1108.7 365.8a4.59 4.59 0 1 0 9.18 0a4.59 4.59 0 1 0 -9.18 0M1128.0 365.8a6.25 6.25 0 1 0 12.50 0a6.25 6.25 0 1 0 -12.50 0M1150.0 365.8a5.39 5.39 0 1 0 10.77 0a5.39 5.39 0 1 0 -10.77 0M1173.2 365.8a3.16 3.16 0 1 0 6.32 0a3.16 3.16 0 1 0 -6.32 0M1196.2 365.8a1.30 1.30 0 1 0 2.60 0a1.30 1.30 0 1 0 -2.60 0M1216.2 365.8a2.32 2.32 0 1 0 4.63 0a2.32 2.32 0 1 0 -4.63 0M1236.3 365.8a3.29 3.29 0 1 0 6.59 0a3.29 3.29 0 1 0 -6.59 0M1256.8 365.8a3.84 3.84 0 1 0 7.68 0a3.84 3.84 0 1 0 -7.68 0M1278.0 365.8a3.69 3.69 0 1 0 7.38 0a3.69 3.69 0 1 0 -7.38 0M1299.0 365.8a3.67 3.67 0 1 0 7.33 0a3.67 3.67 0 1 0 -7.33 0M749.0 386.8a6.45 6.45 0 1 0 12.90 0a6.45 6.45 0 1 0 -12.90 0M769.6 386.8a6.85 6.85 0 1 0 13.70 0a6.85 6.85 0 1 0 -13.70 0M792.3 386.8a5.16 5.16 0 1 0 10.31 0a5.16 5.16 0 1 0 -10.31 0M817.3 386.8a1.30 1.30 0 1 0 2.60 0a1.30 1.30 0 1 0 -2.60 0M835.6 386.8a3.96 3.96 0 1 0 7.92 0a3.96 3.96 0 1 0 -7.92 0M851.8 386.8a8.86 8.86 0 1 0 17.71 0a8.86 8.86 0 1 0 -17.71 0M876.0 386.8a5.65 5.65 0 1 0 11.31 0a5.65 5.65 0 1 0 -11.31 0M900.6 386.8a2.18 2.18 0 1 0 4.36 0a2.18 2.18 0 1 0 -4.36 0M922.3 386.8a1.49 1.49 0 1 0 2.99 0a1.49 1.49 0 1 0 -2.99 0M939.1 386.8a5.80 5.80 0 1 0 11.60 0a5.80 5.80 0 1 0 -11.60 0M958.0 386.8a7.92 7.92 0 1 0 15.83 0a7.92 7.92 0 1 0 -15.83 0M981.3 386.8a5.65 5.65 0 1 0 11.29 0a5.65 5.65 0 1 0 -11.29 0M1022.0 386.8a7.08 7.08 0 1 0 14.16 0a7.08 7.08 0 1 0 -14.16 0M1041.9 386.8a8.23 8.23 0 1 0 16.47 0a8.23 8.23 0 1 0 -16.47 0M1065.1 386.8a6.03 6.03 0 1 0 12.06 0a6.03 6.03 0 1 0 -12.06 0M1090.9 386.8a1.30 1.30 0 1 0 2.60 0a1.30 1.30 0 1 0 -2.60 0M1109.8 386.8a3.42 3.42 0 1 0 6.83 0a3.42 3.42 0 1 0 -6.83 0M1128.3 386.8a6.05 6.05 0 1 0 12.09 0a6.05 6.05 0 1 0 -12.09 0M1149.8 386.8a5.52 5.52 0 1 0 11.05 0a5.52 5.52 0 1 0 -11.05 0M1172.6 386.8a3.80 3.80 0 1 0 7.59 0a3.80 3.80 0 1 0 -7.59 0M1238.0 386.8a1.52 1.52 0 1 0 3.03 0a1.52 1.52 0 1 0 -3.03 0M1259.3 386.8a1.30 1.30 0 1 0 2.60 0a1.30 1.30 0 1 0 -2.60 0M749.0 407.8a6.45 6.45 0 1 0 12.90 0a6.45 6.45 0 1 0 -12.90 0M769.6 407.8a6.85 6.85 0 1 0 13.70 0a6.85 6.85 0 1 0 -13.70 0M792.3 407.8a5.16 5.16 0 1 0 10.31 0a5.16 5.16 0 1 0 -10.31 0M817.3 407.8a1.30 1.30 0 1 0 2.60 0a1.30 1.30 0 1 0 -2.60 0M835.6 407.8a3.96 3.96 0 1 0 7.92 0a3.96 3.96 0 1 0 -7.92 0M851.8 407.8a8.86 8.86 0 1 0 17.71 0a8.86 8.86 0 1 0 -17.71 0M876.0 407.8a5.71 5.71 0 1 0 11.42 0a5.71 5.71 0 1 0 -11.42 0M900.2 407.8a2.53 2.53 0 1 0 5.05 0a2.53 2.53 0 1 0 -5.05 0M922.0 407.8a1.76 1.76 0 1 0 3.51 0a1.76 1.76 0 1 0 -3.51 0M938.8 407.8a6.07 6.07 0 1 0 12.14 0a6.07 6.07 0 1 0 -12.14 0M958.0 407.8a7.92 7.92 0 1 0 15.83 0a7.92 7.92 0 1 0 -15.83 0M981.3 407.8a5.65 5.65 0 1 0 11.29 0a5.65 5.65 0 1 0 -11.29 0M1022.4 407.8a6.68 6.68 0 1 0 13.37 0a6.68 6.68 0 1 0 -13.37 0M1042.4 407.8a7.66 7.66 0 1 0 15.33 0a7.66 7.66 0 1 0 -15.33 0M1064.9 407.8a6.20 6.20 0 1 0 12.40 0a6.20 6.20 0 1 0 -12.40 0M1088.7 407.8a3.54 3.54 0 1 0 7.08 0a3.54 3.54 0 1 0 -7.08 0M1108.3 407.8a4.93 4.93 0 1 0 9.85 0a4.93 4.93 0 1 0 -9.85 0M1128.0 407.8a6.31 6.31 0 1 0 12.61 0a6.31 6.31 0 1 0 -12.61 0M1150.0 407.8a5.33 5.33 0 1 0 10.65 0a5.33 5.33 0 1 0 -10.65 0M1173.5 407.8a2.91 2.91 0 1 0 5.83 0a2.91 2.91 0 1 0 -5.83 0M1196.0 407.8a1.44 1.44 0 1 0 2.88 0a1.44 1.44 0 1 0 -2.88 0M1215.8 407.8a2.66 2.66 0 1 0 5.33 0a2.66 2.66 0 1 0 -5.33 0M1235.8 407.8a3.73 3.73 0 1 0 7.45 0a3.73 3.73 0 1 0 -7.45 0M1256.2 407.8a4.39 4.39 0 1 0 8.79 0a4.39 4.39 0 1 0 -8.79 0M1277.4 407.8a4.26 4.26 0 1 0 8.51 0a4.26 4.26 0 1 0 -8.51 0M1298.5 407.8a4.24 4.24 0 1 0 8.47 0a4.24 4.24 0 1 0 -8.47 0M749.0 428.8a6.45 6.45 0 1 0 12.90 0a6.45 6.45 0 1 0 -12.90 0M769.6 428.8a6.85 6.85 0 1 0 13.70 0a6.85 6.85 0 1 0 -13.70 0M792.3 428.8a5.16 5.16 0 1 0 10.31 0a5.16 5.16 0 1 0 -10.31 0M817.3 428.8a1.30 1.30 0 1 0 2.60 0a1.30 1.30 0 1 0 -2.60 0M835.6 428.8a3.96 3.96 0 1 0 7.92 0a3.96 3.96 0 1 0 -7.92 0M851.8 428.8a8.86 8.86 0 1 0 17.71 0a8.86 8.86 0 1 0 -17.71 0M875.9 428.8a5.83 5.83 0 1 0 11.67 0a5.83 5.83 0 1 0 -11.67 0M899.5 428.8a3.27 3.27 0 1 0 6.53 0a3.27 3.27 0 1 0 -6.53 0M921.6 428.8a2.18 2.18 0 1 0 4.36 0a2.18 2.18 0 1 0 -4.36 0M938.2 428.8a6.69 6.69 0 1 0 13.38 0a6.69 6.69 0 1 0 -13.38 0M958.0 428.8a7.92 7.92 0 1 0 15.83 0a7.92 7.92 0 1 0 -15.83 0M981.3 428.8a5.65 5.65 0 1 0 11.29 0a5.65 5.65 0 1 0 -11.29 0M1023.3 428.8a5.76 5.76 0 1 0 11.53 0a5.76 5.76 0 1 0 -11.53 0M1043.8 428.8a6.28 6.28 0 1 0 12.57 0a6.28 6.28 0 1 0 -12.57 0M1065.1 428.8a6.08 6.08 0 1 0 12.16 0a6.08 6.08 0 1 0 -12.16 0M1087.0 428.8a5.15 5.15 0 1 0 10.30 0a5.15 5.15 0 1 0 -10.30 0M1106.9 428.8a6.34 6.34 0 1 0 12.68 0a6.34 6.34 0 1 0 -12.68 0M1128.0 428.8a6.29 6.29 0 1 0 12.58 0a6.29 6.29 0 1 0 -12.58 0M1150.7 428.8a4.68 4.68 0 1 0 9.35 0a4.68 4.68 0 1 0 -9.35 0M1175.1 428.8a1.30 1.30 0 1 0 2.60 0a1.30 1.30 0 1 0 -2.60 0M1194.1 428.8a3.36 3.36 0 1 0 6.71 0a3.36 3.36 0 1 0 -6.71 0M1214.0 428.8a4.51 4.51 0 1 0 9.02 0a4.51 4.51 0 1 0 -9.02 0M1233.9 428.8a5.65 5.65 0 1 0 11.30 0a5.65 5.65 0 1 0 -11.30 0M1254.0 428.8a6.65 6.65 0 1 0 13.29 0a6.65 6.65 0 1 0 -13.29 0M1275.3 428.8a6.36 6.36 0 1 0 12.72 0a6.36 6.36 0 1 0 -12.72 0M1296.4 428.8a6.35 6.35 0 1 0 12.69 0a6.35 6.35 0 1 0 -12.69 0M749.0 449.9a6.45 6.45 0 1 0 12.90 0a6.45 6.45 0 1 0 -12.90 0M769.6 449.9a6.85 6.85 0 1 0 13.70 0a6.85 6.85 0 1 0 -13.70 0M792.3 449.9a5.16 5.16 0 1 0 10.31 0a5.16 5.16 0 1 0 -10.31 0M817.3 449.9a1.30 1.30 0 1 0 2.60 0a1.30 1.30 0 1 0 -2.60 0M835.6 449.9a3.96 3.96 0 1 0 7.92 0a3.96 3.96 0 1 0 -7.92 0M851.8 449.9a8.86 8.86 0 1 0 17.71 0a8.86 8.86 0 1 0 -17.71 0M875.7 449.9a5.98 5.98 0 1 0 11.96 0a5.98 5.98 0 1 0 -11.96 0M898.7 449.9a4.06 4.06 0 1 0 8.12 0a4.06 4.06 0 1 0 -8.12 0M921.3 449.9a2.48 2.48 0 1 0 4.96 0a2.48 2.48 0 1 0 -4.96 0M937.5 449.9a7.40 7.40 0 1 0 14.79 0a7.40 7.40 0 1 0 -14.79 0M958.0 449.9a7.92 7.92 0 1 0 15.83 0a7.92 7.92 0 1 0 -15.83 0M981.3 449.9a5.65 5.65 0 1 0 11.29 0a5.65 5.65 0 1 0 -11.29 0M1024.4 449.9a4.67 4.67 0 1 0 9.34 0a4.67 4.67 0 1 0 -9.34 0M1045.6 449.9a4.48 4.48 0 1 0 8.95 0a4.48 4.48 0 1 0 -8.95 0M1066.2 449.9a4.93 4.93 0 1 0 9.85 0a4.93 4.93 0 1 0 -9.85 0M1087.5 449.9a4.69 4.69 0 1 0 9.38 0a4.69 4.69 0 1 0 -9.38 0M1107.3 449.9a5.99 5.99 0 1 0 11.98 0a5.99 5.99 0 1 0 -11.98 0M1129.2 449.9a5.12 5.12 0 1 0 10.25 0a5.12 5.12 0 1 0 -10.25 0M1151.9 449.9a3.42 3.42 0 1 0 6.83 0a3.42 3.42 0 1 0 -6.83 0M1174.6 449.9a1.79 1.79 0 1 0 3.59 0a1.79 1.79 0 1 0 -3.59 0M1192.0 449.9a5.43 5.43 0 1 0 10.86 0a5.43 5.43 0 1 0 -10.86 0M1212.7 449.9a5.78 5.78 0 1 0 11.55 0a5.78 5.78 0 1 0 -11.55 0M1233.4 449.9a6.16 6.16 0 1 0 12.32 0a6.16 6.16 0 1 0 -12.32 0M1253.9 449.9a6.71 6.71 0 1 0 13.43 0a6.71 6.71 0 1 0 -13.43 0M1275.8 449.9a5.83 5.83 0 1 0 11.65 0a5.83 5.83 0 1 0 -11.65 0M1296.9 449.9a5.81 5.81 0 1 0 11.62 0a5.81 5.81 0 1 0 -11.62 0M749.0 470.9a6.45 6.45 0 1 0 12.90 0a6.45 6.45 0 1 0 -12.90 0M769.6 470.9a6.85 6.85 0 1 0 13.70 0a6.85 6.85 0 1 0 -13.70 0M792.3 470.9a5.16 5.16 0 1 0 10.31 0a5.16 5.16 0 1 0 -10.31 0M817.3 470.9a1.30 1.30 0 1 0 2.60 0a1.30 1.30 0 1 0 -2.60 0M835.6 470.9a3.96 3.96 0 1 0 7.92 0a3.96 3.96 0 1 0 -7.92 0M851.8 470.9a8.86 8.86 0 1 0 17.71 0a8.86 8.86 0 1 0 -17.71 0M875.6 470.9a6.08 6.08 0 1 0 12.16 0a6.08 6.08 0 1 0 -12.16 0M898.1 470.9a4.61 4.61 0 1 0 9.21 0a4.61 4.61 0 1 0 -9.21 0M921.2 470.9a2.61 2.61 0 1 0 5.22 0a2.61 2.61 0 1 0 -5.22 0M937.0 470.9a7.90 7.90 0 1 0 15.79 0a7.90 7.90 0 1 0 -15.79 0M958.0 470.9a7.92 7.92 0 1 0 15.83 0a7.92 7.92 0 1 0 -15.83 0M981.3 470.9a5.65 5.65 0 1 0 11.29 0a5.65 5.65 0 1 0 -11.29 0M1025.2 470.9a3.84 3.84 0 1 0 7.69 0a3.84 3.84 0 1 0 -7.69 0M1047.3 470.9a2.82 2.82 0 1 0 5.63 0a2.82 2.82 0 1 0 -5.63 0M1068.3 470.9a2.84 2.84 0 1 0 5.68 0a2.84 2.84 0 1 0 -5.68 0M1089.9 470.9a2.30 2.30 0 1 0 4.60 0a2.30 2.30 0 1 0 -4.60 0M1109.0 470.9a4.25 4.25 0 1 0 8.50 0a4.25 4.25 0 1 0 -8.50 0M1131.4 470.9a2.86 2.86 0 1 0 5.72 0a2.86 2.86 0 1 0 -5.72 0M1153.7 470.9a1.61 1.61 0 1 0 3.22 0a1.61 1.61 0 1 0 -3.22 0M1173.0 470.9a3.43 3.43 0 1 0 6.86 0a3.43 3.43 0 1 0 -6.86 0M1190.6 470.9a6.89 6.89 0 1 0 13.79 0a6.89 6.89 0 1 0 -13.79 0M1212.1 470.9a6.42 6.42 0 1 0 12.84 0a6.42 6.42 0 1 0 -12.84 0M1233.8 470.9a5.70 5.70 0 1 0 11.40 0a5.70 5.70 0 1 0 -11.40 0M1255.3 470.9a5.26 5.26 0 1 0 10.51 0a5.26 5.26 0 1 0 -10.51 0M1278.8 470.9a2.88 2.88 0 1 0 5.77 0a2.88 2.88 0 1 0 -5.77 0M1299.8 470.9a2.85 2.85 0 1 0 5.71 0a2.85 2.85 0 1 0 -5.71 0M749.0 491.9a6.45 6.45 0 1 0 12.90 0a6.45 6.45 0 1 0 -12.90 0M769.6 491.9a6.85 6.85 0 1 0 13.70 0a6.85 6.85 0 1 0 -13.70 0M792.3 491.9a5.16 5.16 0 1 0 10.31 0a5.16 5.16 0 1 0 -10.31 0M817.3 491.9a1.30 1.30 0 1 0 2.60 0a1.30 1.30 0 1 0 -2.60 0M835.6 491.9a3.96 3.96 0 1 0 7.92 0a3.96 3.96 0 1 0 -7.92 0M851.8 491.9a8.86 8.86 0 1 0 17.71 0a8.86 8.86 0 1 0 -17.71 0M875.6 491.9a6.10 6.10 0 1 0 12.20 0a6.10 6.10 0 1 0 -12.20 0M898.0 491.9a4.70 4.70 0 1 0 9.40 0a4.70 4.70 0 1 0 -9.40 0M921.2 491.9a2.63 2.63 0 1 0 5.26 0a2.63 2.63 0 1 0 -5.26 0M936.9 491.9a7.99 7.99 0 1 0 15.97 0a7.99 7.99 0 1 0 -15.97 0M958.0 491.9a7.92 7.92 0 1 0 15.83 0a7.92 7.92 0 1 0 -15.83 0M981.3 491.9a5.65 5.65 0 1 0 11.29 0a5.65 5.65 0 1 0 -11.29 0M1025.4 491.9a3.69 3.69 0 1 0 7.38 0a3.69 3.69 0 1 0 -7.38 0M1047.7 491.9a2.43 2.43 0 1 0 4.86 0a2.43 2.43 0 1 0 -4.86 0M1069.0 491.9a2.13 2.13 0 1 0 4.26 0a2.13 2.13 0 1 0 -4.26 0M1090.9 491.9a1.30 1.30 0 1 0 2.60 0a1.30 1.30 0 1 0 -2.60 0M1109.6 491.9a3.68 3.68 0 1 0 7.36 0a3.68 3.68 0 1 0 -7.36 0M1132.3 491.9a2.04 2.04 0 1 0 4.09 0a2.04 2.04 0 1 0 -4.09 0M1172.7 491.9a3.73 3.73 0 1 0 7.46 0a3.73 3.73 0 1 0 -7.46 0M1190.3 491.9a7.16 7.16 0 1 0 14.31 0a7.16 7.16 0 1 0 -14.31 0M1212.0 491.9a6.52 6.52 0 1 0 13.04 0a6.52 6.52 0 1 0 -13.04 0M1234.0 491.9a5.54 5.54 0 1 0 11.08 0a5.54 5.54 0 1 0 -11.08 0M1255.8 491.9a4.78 4.78 0 1 0 9.57 0a4.78 4.78 0 1 0 -9.57 0M1280.3 491.9a1.36 1.36 0 1 0 2.71 0a1.36 1.36 0 1 0 -2.71 0M1301.4 491.9a1.30 1.30 0 1 0 2.60 0a1.30 1.30 0 1 0 -2.60 0M749.0 513.0a6.45 6.45 0 1 0 12.90 0a6.45 6.45 0 1 0 -12.90 0M769.6 513.0a6.85 6.85 0 1 0 13.70 0a6.85 6.85 0 1 0 -13.70 0M792.3 513.0a5.16 5.16 0 1 0 10.31 0a5.16 5.16 0 1 0 -10.31 0M817.3 513.0a1.30 1.30 0 1 0 2.60 0a1.30 1.30 0 1 0 -2.60 0M835.6 513.0a3.96 3.96 0 1 0 7.92 0a3.96 3.96 0 1 0 -7.92 0M851.8 513.0a8.86 8.86 0 1 0 17.71 0a8.86 8.86 0 1 0 -17.71 0M875.7 513.0a6.03 6.03 0 1 0 12.05 0a6.03 6.03 0 1 0 -12.05 0M898.4 513.0a4.32 4.32 0 1 0 8.63 0a4.32 4.32 0 1 0 -8.63 0M921.3 513.0a2.55 2.55 0 1 0 5.10 0a2.55 2.55 0 1 0 -5.10 0M937.2 513.0a7.63 7.63 0 1 0 15.26 0a7.63 7.63 0 1 0 -15.26 0M958.0 513.0a7.92 7.92 0 1 0 15.83 0a7.92 7.92 0 1 0 -15.83 0M981.3 513.0a5.65 5.65 0 1 0 11.29 0a5.65 5.65 0 1 0 -11.29 0M1024.8 513.0a4.29 4.29 0 1 0 8.58 0a4.29 4.29 0 1 0 -8.58 0M1046.3 513.0a3.77 3.77 0 1 0 7.54 0a3.77 3.77 0 1 0 -7.54 0M1067.0 513.0a4.18 4.18 0 1 0 8.36 0a4.18 4.18 0 1 0 -8.36 0M1088.2 513.0a3.95 3.95 0 1 0 7.91 0a3.95 3.95 0 1 0 -7.91 0M1107.9 513.0a5.39 5.39 0 1 0 10.79 0a5.39 5.39 0 1 0 -10.79 0M1130.0 513.0a4.33 4.33 0 1 0 8.66 0a4.33 4.33 0 1 0 -8.66 0M1152.6 513.0a2.76 2.76 0 1 0 5.52 0a2.76 2.76 0 1 0 -5.52 0M1173.9 513.0a2.54 2.54 0 1 0 5.09 0a2.54 2.54 0 1 0 -5.09 0M1191.3 513.0a6.11 6.11 0 1 0 12.23 0a6.11 6.11 0 1 0 -12.23 0M1212.4 513.0a6.10 6.10 0 1 0 12.19 0a6.10 6.10 0 1 0 -12.19 0M1233.5 513.0a6.03 6.03 0 1 0 12.07 0a6.03 6.03 0 1 0 -12.07 0M1254.4 513.0a6.23 6.23 0 1 0 12.46 0a6.23 6.23 0 1 0 -12.46 0M1276.7 513.0a4.92 4.92 0 1 0 9.84 0a4.92 4.92 0 1 0 -9.84 0M1297.8 513.0a4.90 4.90 0 1 0 9.80 0a4.90 4.90 0 1 0 -9.80 0M749.0 534.0a6.45 6.45 0 1 0 12.90 0a6.45 6.45 0 1 0 -12.90 0M769.6 534.0a6.85 6.85 0 1 0 13.70 0a6.85 6.85 0 1 0 -13.70 0M792.3 534.0a5.16 5.16 0 1 0 10.31 0a5.16 5.16 0 1 0 -10.31 0M817.3 534.0a1.30 1.30 0 1 0 2.60 0a1.30 1.30 0 1 0 -2.60 0M835.6 534.0a3.96 3.96 0 1 0 7.92 0a3.96 3.96 0 1 0 -7.92 0M851.8 534.0a8.86 8.86 0 1 0 17.71 0a8.86 8.86 0 1 0 -17.71 0M875.8 534.0a5.89 5.89 0 1 0 11.78 0a5.89 5.89 0 1 0 -11.78 0M899.2 534.0a3.59 3.59 0 1 0 7.17 0a3.59 3.59 0 1 0 -7.17 0M921.5 534.0a2.32 2.32 0 1 0 4.64 0a2.32 2.32 0 1 0 -4.64 0M937.9 534.0a6.97 6.97 0 1 0 13.94 0a6.97 6.97 0 1 0 -13.94 0M958.0 534.0a7.92 7.92 0 1 0 15.83 0a7.92 7.92 0 1 0 -15.83 0M981.3 534.0a5.65 5.65 0 1 0 11.29 0a5.65 5.65 0 1 0 -11.29 0M1023.7 534.0a5.34 5.34 0 1 0 10.67 0a5.34 5.34 0 1 0 -10.67 0M1044.5 534.0a5.61 5.61 0 1 0 11.21 0a5.61 5.61 0 1 0 -11.21 0M1065.4 534.0a5.77 5.77 0 1 0 11.54 0a5.77 5.77 0 1 0 -11.54 0M1087.0 534.0a5.23 5.23 0 1 0 10.47 0a5.23 5.23 0 1 0 -10.47 0M1106.8 534.0a6.43 6.43 0 1 0 12.86 0a6.43 6.43 0 1 0 -12.86 0M1128.3 534.0a6.00 6.00 0 1 0 12.00 0a6.00 6.00 0 1 0 -12.00 0M1151.1 534.0a4.26 4.26 0 1 0 8.53 0a4.26 4.26 0 1 0 -8.53 0M1193.3 534.0a4.19 4.19 0 1 0 8.37 0a4.19 4.19 0 1 0 -8.37 0M1213.4 534.0a5.08 5.08 0 1 0 10.16 0a5.08 5.08 0 1 0 -10.16 0M1233.5 534.0a6.02 6.02 0 1 0 12.03 0a6.02 6.02 0 1 0 -12.03 0M1253.7 534.0a6.93 6.93 0 1 0 13.87 0a6.93 6.93 0 1 0 -13.87 0M1275.2 534.0a6.48 6.48 0 1 0 12.96 0a6.48 6.48 0 1 0 -12.96 0M1296.2 534.0a6.47 6.47 0 1 0 12.93 0a6.47 6.47 0 1 0 -12.93 0M749.0 555.0a6.45 6.45 0 1 0 12.90 0a6.45 6.45 0 1 0 -12.90 0M769.6 555.0a6.85 6.85 0 1 0 13.70 0a6.85 6.85 0 1 0 -13.70 0M792.3 555.0a5.16 5.16 0 1 0 10.31 0a5.16 5.16 0 1 0 -10.31 0M817.3 555.0a1.30 1.30 0 1 0 2.60 0a1.30 1.30 0 1 0 -2.60 0M835.6 555.0a3.96 3.96 0 1 0 7.92 0a3.96 3.96 0 1 0 -7.92 0M851.8 555.0a8.86 8.86 0 1 0 17.71 0a8.86 8.86 0 1 0 -17.71 0M875.9 555.0a5.75 5.75 0 1 0 11.50 0a5.75 5.75 0 1 0 -11.50 0M900.0 555.0a2.79 2.79 0 1 0 5.57 0a2.79 2.79 0 1 0 -5.57 0M921.9 555.0a1.92 1.92 0 1 0 3.84 0a1.92 1.92 0 1 0 -3.84 0M938.6 555.0a6.28 6.28 0 1 0 12.56 0a6.28 6.28 0 1 0 -12.56 0M958.0 555.0a7.92 7.92 0 1 0 15.83 0a7.92 7.92 0 1 0 -15.83 0M981.3 555.0a5.65 5.65 0 1 0 11.29 0a5.65 5.65 0 1 0 -11.29 0M1022.7 555.0a6.37 6.37 0 1 0 12.75 0a6.37 6.37 0 1 0 -12.75 0M1042.9 555.0a7.21 7.21 0 1 0 14.41 0a7.21 7.21 0 1 0 -14.41 0M1064.9 555.0a6.24 6.24 0 1 0 12.48 0a6.24 6.24 0 1 0 -12.48 0M1087.8 555.0a4.38 4.38 0 1 0 8.76 0a4.38 4.38 0 1 0 -8.76 0M1107.6 555.0a5.63 5.63 0 1 0 11.27 0a5.63 5.63 0 1 0 -11.27 0M1127.9 555.0a6.40 6.40 0 1 0 12.79 0a6.40 6.40 0 1 0 -12.79 0M1150.2 555.0a5.14 5.14 0 1 0 10.28 0a5.14 5.14 0 1 0 -10.28 0M1174.2 555.0a2.23 2.23 0 1 0 4.46 0a2.23 2.23 0 1 0 -4.46 0M1195.3 555.0a2.12 2.12 0 1 0 4.24 0a2.12 2.12 0 1 0 -4.24 0M1215.1 555.0a3.44 3.44 0 1 0 6.87 0a3.44 3.44 0 1 0 -6.87 0M1234.9 555.0a4.62 4.62 0 1 0 9.25 0a4.62 4.62 0 1 0 -9.25 0M1255.1 555.0a5.50 5.50 0 1 0 11.01 0a5.50 5.50 0 1 0 -11.01 0M1276.3 555.0a5.35 5.35 0 1 0 10.70 0a5.35 5.35 0 1 0 -10.70 0M1297.4 555.0a5.34 5.34 0 1 0 10.67 0a5.34 5.34 0 1 0 -10.67 0M749.0 576.0a6.45 6.45 0 1 0 12.90 0a6.45 6.45 0 1 0 -12.90 0M769.6 576.0a6.85 6.85 0 1 0 13.70 0a6.85 6.85 0 1 0 -13.70 0M792.3 576.0a5.16 5.16 0 1 0 10.31 0a5.16 5.16 0 1 0 -10.31 0M817.3 576.0a1.30 1.30 0 1 0 2.60 0a1.30 1.30 0 1 0 -2.60 0M835.6 576.0a3.96 3.96 0 1 0 7.92 0a3.96 3.96 0 1 0 -7.92 0M851.8 576.0a8.86 8.86 0 1 0 17.71 0a8.86 8.86 0 1 0 -17.71 0M876.0 576.0a5.66 5.66 0 1 0 11.33 0a5.66 5.66 0 1 0 -11.33 0M900.5 576.0a2.25 2.25 0 1 0 4.50 0a2.25 2.25 0 1 0 -4.50 0M922.3 576.0a1.55 1.55 0 1 0 3.10 0a1.55 1.55 0 1 0 -3.10 0M939.0 576.0a5.85 5.85 0 1 0 11.70 0a5.85 5.85 0 1 0 -11.70 0M958.0 576.0a7.92 7.92 0 1 0 15.83 0a7.92 7.92 0 1 0 -15.83 0M981.3 576.0a5.65 5.65 0 1 0 11.29 0a5.65 5.65 0 1 0 -11.29 0M1022.0 576.0a7.00 7.00 0 1 0 14.01 0a7.00 7.00 0 1 0 -14.01 0M1042.0 576.0a8.13 8.13 0 1 0 16.25 0a8.13 8.13 0 1 0 -16.25 0M1065.1 576.0a6.07 6.07 0 1 0 12.15 0a6.07 6.07 0 1 0 -12.15 0M1090.3 576.0a1.91 1.91 0 1 0 3.82 0a1.91 1.91 0 1 0 -3.82 0M1109.5 576.0a3.79 3.79 0 1 0 7.58 0a3.79 3.79 0 1 0 -7.58 0M1128.2 576.0a6.11 6.11 0 1 0 12.22 0a6.11 6.11 0 1 0 -12.22 0M1149.9 576.0a5.49 5.49 0 1 0 10.98 0a5.49 5.49 0 1 0 -10.98 0M1172.8 576.0a3.63 3.63 0 1 0 7.25 0a3.63 3.63 0 1 0 -7.25 0M1217.1 576.0a1.42 1.42 0 1 0 2.84 0a1.42 1.42 0 1 0 -2.84 0M1237.4 576.0a2.17 2.17 0 1 0 4.33 0a2.17 2.17 0 1 0 -4.33 0M1258.3 576.0a2.29 2.29 0 1 0 4.58 0a2.29 2.29 0 1 0 -4.58 0M1279.6 576.0a2.02 2.02 0 1 0 4.05 0a2.02 2.02 0 1 0 -4.05 0M1300.7 576.0a1.98 1.98 0 1 0 3.96 0a1.98 1.98 0 1 0 -3.96 0M749.0 597.1a6.45 6.45 0 1 0 12.90 0a6.45 6.45 0 1 0 -12.90 0M769.6 597.1a6.85 6.85 0 1 0 13.70 0a6.85 6.85 0 1 0 -13.70 0M792.3 597.1a5.16 5.16 0 1 0 10.31 0a5.16 5.16 0 1 0 -10.31 0M817.3 597.1a1.30 1.30 0 1 0 2.60 0a1.30 1.30 0 1 0 -2.60 0M835.6 597.1a3.96 3.96 0 1 0 7.92 0a3.96 3.96 0 1 0 -7.92 0M851.8 597.1a8.86 8.86 0 1 0 17.71 0a8.86 8.86 0 1 0 -17.71 0M876.0 597.1a5.67 5.67 0 1 0 11.33 0a5.67 5.67 0 1 0 -11.33 0M900.5 597.1a2.26 2.26 0 1 0 4.53 0a2.26 2.26 0 1 0 -4.53 0M922.2 597.1a1.56 1.56 0 1 0 3.12 0a1.56 1.56 0 1 0 -3.12 0M939.0 597.1a5.86 5.86 0 1 0 11.73 0a5.86 5.86 0 1 0 -11.73 0M958.0 597.1a7.92 7.92 0 1 0 15.83 0a7.92 7.92 0 1 0 -15.83 0M981.3 597.1a5.65 5.65 0 1 0 11.29 0a5.65 5.65 0 1 0 -11.29 0M1022.1 597.1a6.98 6.98 0 1 0 13.97 0a6.98 6.98 0 1 0 -13.97 0M1042.0 597.1a8.10 8.10 0 1 0 16.20 0a8.10 8.10 0 1 0 -16.20 0M1065.1 597.1a6.08 6.08 0 1 0 12.17 0a6.08 6.08 0 1 0 -12.17 0M1090.1 597.1a2.05 2.05 0 1 0 4.11 0a2.05 2.05 0 1 0 -4.11 0M1109.4 597.1a3.87 3.87 0 1 0 7.74 0a3.87 3.87 0 1 0 -7.74 0M1128.2 597.1a6.12 6.12 0 1 0 12.25 0a6.12 6.12 0 1 0 -12.25 0M1149.9 597.1a5.48 5.48 0 1 0 10.96 0a5.48 5.48 0 1 0 -10.96 0M1172.8 597.1a3.59 3.59 0 1 0 7.17 0a3.59 3.59 0 1 0 -7.17 0M1217.0 597.1a1.52 1.52 0 1 0 3.05 0a1.52 1.52 0 1 0 -3.05 0M1237.3 597.1a2.30 2.30 0 1 0 4.59 0a2.30 2.30 0 1 0 -4.59 0M1258.1 597.1a2.48 2.48 0 1 0 4.96 0a2.48 2.48 0 1 0 -4.96 0M1279.4 597.1a2.24 2.24 0 1 0 4.47 0a2.24 2.24 0 1 0 -4.47 0M1300.5 597.1a2.20 2.20 0 1 0 4.40 0a2.20 2.20 0 1 0 -4.40 0"/><path stroke-width="1.15" d="M734.4 50.3l8.3 -0.9M755.4 50.3l8.3 -0.0M776.5 50.3l8.3 0.1M797.5 50.3l8.3 -0.1M818.6 50.3l8.3 -0.6M839.6 50.3l-8.3 -0.4M860.7 50.3l-8.3 -0.2M881.7 50.3l-8.3 0.2M902.8 50.3l-8.1 -1.6M923.8 50.3l7.6 -3.4M944.9 50.3l8.3 -0.1M965.9 50.3l8.3 0.0M987.0 50.3l8.3 -0.3M1008.0 50.3l8.3 0.8M1029.0 50.3l-8.3 0.9M1050.1 50.3l-7.2 4.1M1071.2 50.3l-5.1 6.5M1092.2 50.3l0.1 8.3M1113.2 50.3l4.7 6.8M1134.3 50.3l4.6 6.9M1155.3 50.3l5.0 6.6M1176.4 50.3l-8.1 2.0M1197.5 50.3l-7.9 -2.6M1218.5 50.3l-7.2 -4.0M1239.6 50.3l-6.1 -5.6M1260.6 50.3l-4.7 -6.8M1281.7 50.3l-0.6 -8.3M1302.7 50.3l-0.3 -8.3M734.4 71.3l7.7 -3.1M755.4 71.3l8.3 -0.2M776.5 71.3l8.3 -0.1M797.5 71.3l8.3 -0.3M818.6 71.3l8.2 1.1M839.6 71.3l-8.3 -0.1M860.7 71.3l-8.3 0.0M881.7 71.3l-8.3 -0.2M902.8 71.3l-8.3 -0.1M923.8 71.3l8.3 -0.8M944.9 71.3l8.3 -0.3M965.9 71.3l8.3 0.2M987.0 71.3l8.3 0.1M1008.0 71.3l8.3 0.0M1029.0 71.3l-8.2 0.9M1050.1 71.3l-8.0 2.2M1071.2 71.3l-6.1 5.6M1092.2 71.3l1.3 8.2M1113.2 71.3l7.4 3.8M1134.3 71.3l5.8 6.0M1155.3 71.3l5.3 6.4M1176.4 71.3l-8.3 0.7M1197.5 71.3l-8.3 -0.8M1218.5 71.3l-8.1 -1.7M1239.6 71.3l-7.8 -2.9M1260.6 71.3l-7.5 -3.5M1281.7 71.3l-0.7 -8.3M1302.7 71.3l-0.7 -8.3M734.4 92.4l7.8 -3.0M755.4 92.4l8.3 -0.1M776.5 92.4l8.3 0.0M797.5 92.4l8.3 0.1M818.6 92.4l8.2 1.5M839.6 92.4l-8.3 0.3M860.7 92.4l-8.3 0.2M881.7 92.4l-8.3 -0.3M902.8 92.4l-8.3 -0.1M923.8 92.4l8.3 0.9M944.9 92.4l8.3 -0.1M965.9 92.4l8.3 -0.1M987.0 92.4l8.3 0.0M1008.0 92.4l7.7 -3.2M1029.0 92.4l-8.3 -0.5M1050.1 92.4l-7.8 -2.8M1071.2 92.4l-6.8 -4.8M1092.2 92.4l1.4 -8.2M1113.2 92.4l7.8 -2.9M1134.3 92.4l7.2 -4.0M1155.3 92.4l5.4 -6.3M1176.4 92.4l-8.3 -0.5M1197.5 92.4l-8.3 0.8M1218.5 92.4l-8.3 0.9M1239.6 92.4l-8.0 2.2M1260.6 92.4l-7.8 2.7M1281.7 92.4l-1.2 8.2M1302.7 92.4l0.9 8.3M734.4 113.4l8.3 -0.0M755.4 113.4l8.3 -0.1M776.5 113.4l8.3 -0.2M797.5 113.4l8.3 0.1M818.6 113.4l8.3 0.3M839.6 113.4l-8.3 -0.3M860.7 113.4l-8.3 -0.2M881.7 113.4l-8.3 -0.1M902.8 113.4l-8.2 1.5M923.8 113.4l7.7 3.0M944.9 113.4l8.3 0.0M965.9 113.4l8.3 -0.1M987.0 113.4l8.3 0.3M1008.0 113.4l3.7 7.4M1029.0 113.4l-8.1 -1.6M1050.1 113.4l-7.6 -3.4M1071.2 113.4l-5.4 -6.3M1092.2 113.4l-0.5 -8.3M1113.2 113.4l5.2 -6.5M1134.3 113.4l5.0 -6.6M1155.3 113.4l4.6 -6.9M1176.4 113.4l-8.1 -2.0M1197.5 113.4l-8.1 1.8M1218.5 113.4l-7.4 3.7M1239.6 113.4l-6.2 5.5M1260.6 113.4l-5.1 6.5M1281.7 113.4l-0.6 8.3M1302.7 113.4l-0.3 8.3M734.4 134.4l8.2 -1.1M755.4 134.4l8.3 0.1M776.5 134.4l8.3 0.2M797.5 134.4l8.3 0.3M818.6 134.4l8.2 1.0M839.6 134.4l-8.3 -0.4M860.7 134.4l-8.3 0.1M881.7 134.4l-8.3 -0.0M902.8 134.4l-8.1 1.9M923.8 134.4l7.2 4.1M944.9 134.4l8.3 0.1M965.9 134.4l8.3 -0.2M987.0 134.4l8.3 -0.2M1008.0 134.4l-0.1 -8.3M1029.0 134.4l-8.2 -1.2M1050.1 134.4l-7.7 -3.1M1071.2 134.4l-5.5 -6.3M1092.2 134.4l-0.9 -8.3M1113.2 134.4l4.2 -7.1M1134.3 134.4l5.3 -6.4M1155.3 134.4l5.6 -6.1M1176.4 134.4l1.1 -8.2M1197.5 134.4l-7.2 4.0M1218.5 134.4l-5.9 5.8M1239.6 134.4l-4.8 6.8M1260.6 134.4l-3.7 7.4M1281.7 134.4l-0.8 8.3M1302.7 134.4l-0.0 8.3M734.4 155.4l8.1 1.9M755.4 155.4l8.3 -0.2M776.5 155.4l8.3 0.2M797.5 155.4l8.3 -0.4M818.6 155.4l8.2 1.5M839.6 155.4l-8.3 0.4M860.7 155.4l-8.3 0.2M881.7 155.4l-8.3 -0.1M902.8 155.4l-8.2 0.9M923.8 155.4l7.2 4.1M944.9 155.4l8.3 0.2M965.9 155.4l8.3 -0.0M987.0 155.4l8.3 -0.3M1008.0 155.4l6.3 5.4M1029.0 155.4l-8.3 -0.9M1050.1 155.4l-8.0 -2.0M1071.2 155.4l-7.0 -4.4M1092.2 155.4l-1.3 -8.2M1113.2 155.4l5.5 -6.2M1134.3 155.4l6.7 -4.9M1155.3 155.4l7.4 -3.8M1176.4 155.4l8.1 -2.0M1197.5 155.4l-4.7 6.9M1218.5 155.4l-5.1 6.5M1239.6 155.4l-3.9 7.3M1260.6 155.4l-3.2 7.7M1281.7 155.4l-0.3 8.3M1302.7 155.4l-0.1 8.3M734.4 176.5l8.2 -1.1M755.4 176.5l8.3 -0.1M776.5 176.5l8.3 0.0M797.5 176.5l8.3 0.1M818.6 176.5l8.3 -0.5M839.6 176.5l-8.3 -0.4M860.7 176.5l-8.3 -0.1M881.7 176.5l-8.3 0.3M902.8 176.5l-8.2 1.4M923.8 176.5l7.9 2.4M944.9 176.5l8.3 0.1M965.9 176.5l8.3 0.1M987.0 176.5l8.3 -0.3M1008.0 176.5l8.2 -1.3M1029.0 176.5l-8.3 0.0M1050.1 176.5l-8.3 -0.4M1071.2 176.5l-8.1 -1.6M1092.2 176.5l-6.3 -5.5M1113.2 176.5l7.8 -2.9M1134.3 176.5l8.2 -1.2M1155.3 176.5l8.2 -1.2M1176.4 176.5l8.3 -0.5M1197.5 176.5l-2.9 7.8M1218.5 176.5l-7.2 4.1M1239.6 176.5l-6.1 5.6M1260.6 176.5l-5.7 6.0M1281.7 176.5l-2.9 7.8M1302.7 176.5l1.0 8.2M734.4 197.5l8.0 2.1M755.4 197.5l8.3 0.1M776.5 197.5l8.3 0.1M797.5 197.5l8.3 0.3M818.6 197.5l8.3 0.0M839.6 197.5l-8.3 0.0M860.7 197.5l-8.3 -0.2M881.7 197.5l-8.3 -0.0M902.8 197.5l-8.2 -1.5M923.8 197.5l8.2 -1.5M944.9 197.5l8.3 0.0M965.9 197.5l8.3 0.2M987.0 197.5l8.3 0.3M1008.0 197.5l-7.7 3.0M1029.0 197.5l-8.3 0.5M1050.1 197.5l-8.2 1.2M1071.2 197.5l-8.0 2.1M1092.2 197.5l-3.4 7.6M1113.2 197.5l7.1 4.3M1134.3 197.5l7.8 2.8M1155.3 197.5l8.0 2.3M1176.4 197.5l8.3 0.2M1197.5 197.5l-0.0 -8.3M1218.5 197.5l-6.0 -5.8M1239.6 197.5l-5.9 -5.9M1260.6 197.5l-3.7 -7.4M1281.7 197.5l-1.3 -8.2M1302.7 197.5l-0.3 -8.3M734.4 218.5l8.2 -1.3M755.4 218.5l8.3 -0.2M776.5 218.5l8.3 -0.1M797.5 218.5l8.3 -0.4M818.6 218.5l8.2 1.2M839.6 218.5l-8.3 0.5M860.7 218.5l-8.3 0.2M881.7 218.5l-8.3 0.3M902.8 218.5l-8.0 -2.3M923.8 218.5l7.0 -4.4M944.9 218.5l8.3 -0.1M965.9 218.5l8.3 -0.1M987.0 218.5l8.3 0.1M1008.0 218.5l3.9 7.3M1029.0 218.5l-8.3 0.8M1050.1 218.5l-7.9 2.5M1071.2 218.5l-6.6 5.0M1092.2 218.5l-1.6 8.1M1113.2 218.5l4.7 6.9M1134.3 218.5l6.5 5.2M1155.3 218.5l7.1 4.2M1176.4 218.5l7.6 3.4M1197.5 218.5l-6.5 -5.1M1218.5 218.5l-5.0 -6.6M1239.6 218.5l-4.5 -7.0M1260.6 218.5l-3.1 -7.7M1281.7 218.5l-0.8 -8.3M1302.7 218.5l-0.2 -8.3M734.4 239.6l8.3 -0.5M755.4 239.6l8.3 -0.2M776.5 239.6l8.3 0.1M797.5 239.6l8.3 -0.3M818.6 239.6l8.2 -1.5M839.6 239.6l-8.3 -0.2M860.7 239.6l-8.3 -0.2M881.7 239.6l-8.3 -0.1M902.8 239.6l-8.2 -1.2M923.8 239.6l7.2 -4.1M944.9 239.6l8.3 -0.1M965.9 239.6l8.3 -0.1M987.0 239.6l8.3 -0.3M1008.0 239.6l0.7 8.3M1029.0 239.6l-8.2 1.5M1050.1 239.6l-7.6 3.4M1071.2 239.6l-5.1 6.5M1092.2 239.6l-0.2 8.3M1113.2 239.6l4.4 7.0M1134.3 239.6l5.2 6.5M1155.3 239.6l5.5 6.2M1176.4 239.6l-4.1 7.2M1197.5 239.6l-7.6 -3.2M1218.5 239.6l-6.7 -4.8M1239.6 239.6l-5.0 -6.6M1260.6 239.6l-4.0 -7.3M1281.7 239.6l-0.8 -8.3M1302.7 239.6l-0.1 -8.3M734.4 260.6l7.9 2.5M755.4 260.6l8.3 0.3M776.5 260.6l8.3 0.2M797.5 260.6l8.3 0.1M818.6 260.6l8.2 1.4M839.6 260.6l-8.3 0.4M860.7 260.6l-8.3 -0.1M881.7 260.6l-8.3 0.2M902.8 260.6l-8.2 -1.2M923.8 260.6l7.8 -2.9M944.9 260.6l8.3 -0.1M965.9 260.6l8.3 0.2M987.0 260.6l8.3 0.1M1008.0 260.6l8.0 -2.1M1029.0 260.6l-8.2 1.2M1050.1 260.6l-7.6 3.3M1071.2 260.6l-5.2 6.4M1092.2 260.6l0.4 8.3M1113.2 260.6l5.5 6.2M1134.3 260.6l4.6 6.9M1155.3 260.6l3.7 7.4M1176.4 260.6l-8.2 1.0M1197.5 260.6l-8.1 -1.8M1218.5 260.6l-7.7 -3.2M1239.6 260.6l-7.1 -4.4M1260.6 260.6l-5.6 -6.1M1281.7 260.6l-0.7 -8.3M1302.7 260.6l-0.3 -8.3M734.4 281.6l7.8 -2.9M755.4 281.6l8.3 0.2M776.5 281.6l8.3 0.2M797.5 281.6l8.3 -0.3M818.6 281.6l8.3 0.4M839.6 281.6l-8.3 0.4M860.7 281.6l-8.3 0.0M881.7 281.6l-8.3 -0.2M902.8 281.6l-8.3 -0.5M923.8 281.6l8.3 -0.1M944.9 281.6l8.3 0.2M965.9 281.6l8.3 0.0M987.0 281.6l8.3 -0.1M1008.0 281.6l-0.6 -8.3M1029.0 281.6l-8.3 0.3M1050.1 281.6l-8.2 1.1M1071.2 281.6l-8.2 1.0M1092.2 281.6l-1.8 8.1M1113.2 281.6l8.3 0.6M1134.3 281.6l8.3 0.9M1155.3 281.6l8.2 1.3M1176.4 281.6l-8.3 -0.3M1197.5 281.6l-8.3 -0.4M1218.5 281.6l-8.3 -0.5M1239.6 281.6l-8.3 -0.8M1260.6 281.6l-8.2 -1.1M1281.7 281.6l-5.6 -6.2M1302.7 281.6l-3.2 -7.7M734.4 302.7l7.7 -3.1M755.4 302.7l8.3 -0.1M776.5 302.7l8.3 -0.1M797.5 302.7l8.3 -0.3M818.6 302.7l8.2 -1.3M839.6 302.7l-8.3 -0.4M860.7 302.7l-8.3 -0.2M881.7 302.7l-8.3 -0.2M902.8 302.7l-8.2 1.1M923.8 302.7l8.0 2.1M944.9 302.7l8.3 -0.0M965.9 302.7l8.3 0.2M987.0 302.7l8.3 -0.2M1008.0 302.7l6.1 5.6M1029.0 302.7l-8.2 -0.9M1050.1 302.7l-7.3 -3.9M1071.2 302.7l-6.1 -5.6M1092.2 302.7l-0.3 -8.3M1113.2 302.7l6.5 -5.2M1134.3 302.7l5.1 -6.6M1155.3 302.7l3.4 -7.6M1176.4 302.7l-8.2 -1.1M1197.5 302.7l-8.2 1.3M1218.5 302.7l-8.0 2.1M1239.6 302.7l-7.5 3.5M1260.6 302.7l-6.4 5.2M1281.7 302.7l-0.7 8.3M1302.7 302.7l0.3 8.3M734.4 323.7l7.9 -2.5M755.4 323.7l8.3 0.3M776.5 323.7l8.3 -0.1M797.5 323.7l8.3 0.4M818.6 323.7l8.3 -0.6M839.6 323.7l-8.3 0.4M860.7 323.7l-8.3 0.2M881.7 323.7l-8.3 -0.2M902.8 323.7l-8.2 1.5M923.8 323.7l7.3 3.9M944.9 323.7l8.3 0.2M965.9 323.7l8.3 -0.2M987.0 323.7l8.3 -0.1M1008.0 323.7l2.0 -8.0M1029.0 323.7l-8.2 -1.0M1050.1 323.7l-7.6 -3.4M1071.2 323.7l-5.0 -6.7M1092.2 323.7l-0.5 -8.3M1113.2 323.7l4.7 -6.9M1134.3 323.7l4.7 -6.8M1155.3 323.7l4.6 -6.9M1176.4 323.7l-7.1 -4.3M1197.5 323.7l-7.7 3.2M1218.5 323.7l-7.1 4.3M1239.6 323.7l-5.7 6.0M1260.6 323.7l-4.2 7.2M1281.7 323.7l-0.5 8.3M1302.7 323.7l0.2 8.3M734.4 344.7l8.2 1.0M755.4 344.7l8.3 -0.3M776.5 344.7l8.3 -0.3M797.5 344.7l8.3 -0.3M818.6 344.7l8.2 1.2M839.6 344.7l-8.3 -0.1M860.7 344.7l-8.3 -0.1M881.7 344.7l-8.3 -0.3M902.8 344.7l-8.2 1.1M923.8 344.7l7.4 3.7M944.9 344.7l8.3 0.4M965.9 344.7l8.3 -0.0M987.0 344.7l8.3 -0.3M1008.0 344.7l8.3 0.7M1029.0 344.7l-8.3 -0.8M1050.1 344.7l-7.9 -2.5M1071.2 344.7l-6.1 -5.6M1092.2 344.7l-1.3 -8.2M1113.2 344.7l4.4 -7.1M1134.3 344.7l5.8 -6.0M1155.3 344.7l6.7 -4.8M1176.4 344.7l7.1 -4.4M1197.5 344.7l-6.9 4.6M1218.5 344.7l-5.2 6.4M1239.6 344.7l-4.3 7.1M1260.6 344.7l-3.2 7.6M1281.7 344.7l-0.3 8.3M1302.7 344.7l-0.2 8.3M734.4 365.8l8.2 1.4M755.4 365.8l8.3 0.2M776.5 365.8l8.3 -0.0M797.5 365.8l8.3 0.1M818.6 365.8l8.3 0.6M839.6 365.8l-8.3 -0.1M860.7 365.8l-8.3 0.2M881.7 365.8l-8.3 0.2M902.8 365.8l-8.3 0.8M923.8 365.8l7.6 3.4M944.9 365.8l8.3 0.4M965.9 365.8l8.3 0.2M987.0 365.8l8.3 -0.3M1008.0 365.8l-7.9 2.4M1029.0 365.8l-8.3 -0.4M1050.1 365.8l-8.2 -1.3M1071.2 365.8l-7.7 -3.1M1092.2 365.8l-2.1 -8.0M1113.2 365.8l6.4 -5.3M1134.3 365.8l7.4 -3.7M1155.3 365.8l7.9 -2.5M1176.4 365.8l8.3 -0.5M1197.5 365.8l-3.2 7.6M1218.5 365.8l-4.3 7.1M1239.6 365.8l-4.2 7.2M1260.6 365.8l-3.5 7.5M1281.7 365.8l-0.4 8.3M1302.7 365.8l0.5 8.3M734.4 386.8l8.0 -2.2M755.4 386.8l8.3 0.2M776.5 386.8l8.3 -0.1M797.5 386.8l8.3 -0.3M818.6 386.8l8.3 -0.5M839.6 386.8l-8.3 0.1M860.7 386.8l-8.3 0.2M881.7 386.8l-8.3 0.2M902.8 386.8l-8.3 -0.8M923.8 386.8l8.3 -0.7M944.9 386.8l8.3 -0.3M965.9 386.8l8.3 0.1M987.0 386.8l8.3 -0.1M1008.0 386.8l-6.2 5.5M1029.0 386.8l-8.3 0.3M1050.1 386.8l-8.3 0.3M1071.2 386.8l-8.3 0.3M1092.2 386.8l-7.9 2.4M1113.2 386.8l8.2 1.0M1134.3 386.8l8.3 0.1M1155.3 386.8l8.3 0.1M1176.4 386.8l8.3 -0.4M1197.5 386.8l8.3 0.3M1218.5 386.8l-8.1 -1.9M1239.6 386.8l-8.0 -2.2M1260.6 386.8l-8.2 -1.4M1281.7 386.8l-5.1 -6.6M1302.7 386.8l-5.0 -6.6M734.4 407.8l8.2 1.1M755.4 407.8l8.3 -0.3M776.5 407.8l8.3 0.0M797.5 407.8l8.3 0.0M818.6 407.8l8.3 -0.4M839.6 407.8l-8.3 0.5M860.7 407.8l-8.3 0.2M881.7 407.8l-8.3 -0.3M902.8 407.8l-8.2 -1.2M923.8 407.8l8.0 -2.1M944.9 407.8l8.3 -0.1M965.9 407.8l8.3 0.1M987.0 407.8l8.3 0.2M1008.0 407.8l0.1 8.3M1029.0 407.8l-8.2 0.9M1050.1 407.8l-8.2 1.5M1071.2 407.8l-7.4 3.8M1092.2 407.8l-1.7 8.1M1113.2 407.8l5.6 6.1M1134.3 407.8l7.4 3.8M1155.3 407.8l7.7 3.2M1176.4 407.8l8.1 1.8M1197.5 407.8l-3.4 -7.6M1218.5 407.8l-4.5 -7.0M1239.6 407.8l-4.2 -7.2M1260.6 407.8l-3.0 -7.7M1281.7 407.8l-0.6 -8.3M1302.7 407.8l-0.3 -8.3M734.4 428.8l8.0 2.1M755.4 428.8l8.3 0.0M776.5 428.8l8.3 -0.1M797.5 428.8l8.3 0.4M818.6 428.8l8.2 -1.5M839.6 428.8l-8.3 0.5M860.7 428.8l-8.3 -0.1M881.7 428.8l-8.3 0.3M902.8 428.8l-8.0 -2.1M923.8 428.8l7.7 -3.2M944.9 428.8l8.3 -0.5M965.9 428.8l8.3 0.2M987.0 428.8l8.3 -0.1M1008.0 428.8l-6.0 -5.7M1029.0 428.8l-8.3 0.9M1050.1 428.8l-7.6 3.2M1071.2 428.8l-5.9 5.9M1092.2 428.8l-1.0 8.2M1113.2 428.8l4.6 6.9M1134.3 428.8l5.6 6.1M1155.3 428.8l6.2 5.5M1176.4 428.8l5.6 6.1M1197.5 428.8l-7.3 -4.0M1218.5 428.8l-5.7 -6.0M1239.6 428.8l-4.4 -7.0M1260.6 428.8l-3.4 -7.6M1281.7 428.8l-0.2 -8.3M1302.7 428.8l-0.2 -8.3M734.4 449.9l8.1 2.0M755.4 449.9l8.3 -0.1M776.5 449.9l8.3 -0.2M797.5 449.9l8.3 -0.1M818.6 449.9l8.2 -1.4M839.6 449.9l-8.3 -0.4M860.7 449.9l-8.3 -0.2M881.7 449.9l-8.3 0.1M902.8 449.9l-8.1 -1.6M923.8 449.9l7.6 -3.3M944.9 449.9l8.3 -0.3M965.9 449.9l8.3 0.2M987.0 449.9l8.3 0.3M1008.0 449.9l-1.1 8.2M1029.0 449.9l-8.1 1.7M1050.1 449.9l-7.6 3.4M1071.2 449.9l-5.2 6.5M1092.2 449.9l0.0 8.3M1113.2 449.9l4.8 6.8M1134.3 449.9l5.1 6.6M1155.3 449.9l4.6 6.9M1176.4 449.9l-8.0 2.2M1197.5 449.9l-8.0 -2.2M1218.5 449.9l-7.0 -4.4M1239.6 449.9l-5.7 -6.0M1260.6 449.9l-4.5 -7.0M1281.7 449.9l-0.9 -8.3M1302.7 449.9l0.1 -8.3M734.4 470.9l7.7 -3.1M755.4 470.9l8.3 0.2M776.5 470.9l8.3 -0.3M797.5 470.9l8.3 -0.4M818.6 470.9l8.2 -1.4M839.6 470.9l-8.3 -0.2M860.7 470.9l-8.3 -0.2M881.7 470.9l-8.3 -0.2M902.8 470.9l-8.3 -0.9M923.8 470.9l8.3 -0.8M944.9 470.9l8.3 -0.2M965.9 470.9l8.3 0.2M987.0 470.9l8.3 -0.3M1008.0 470.9l3.2 -7.7M1029.0 470.9l-8.3 0.7M1050.1 470.9l-8.0 2.4M1071.2 470.9l-5.9 5.8M1092.2 470.9l0.4 8.3M1113.2 470.9l6.8 4.8M1134.3 470.9l5.8 6.0M1155.3 470.9l3.5 7.5M1176.4 470.9l-8.2 1.3M1197.5 470.9l-8.2 -1.1M1218.5 470.9l-8.0 -2.2M1239.6 470.9l-7.8 -3.0M1260.6 470.9l-7.2 -4.1M1281.7 470.9l-1.8 -8.1M1302.7 470.9l0.6 -8.3M734.4 491.9l8.3 -0.6M755.4 491.9l8.3 -0.1M776.5 491.9l8.3 -0.2M797.5 491.9l8.3 0.1M818.6 491.9l8.2 1.5M839.6 491.9l-8.3 0.0M860.7 491.9l-8.3 -0.2M881.7 491.9l-8.3 0.2M902.8 491.9l-8.3 0.6M923.8 491.9l8.3 0.1M944.9 491.9l8.3 0.2M965.9 491.9l8.3 -0.2M987.0 491.9l8.3 -0.3M1008.0 491.9l-5.7 -6.0M1029.0 491.9l-8.3 0.0M1050.1 491.9l-8.0 -2.3M1071.2 491.9l-7.3 -4.0M1092.2 491.9l1.9 -8.1M1113.2 491.9l7.8 -2.7M1134.3 491.9l7.5 -3.6M1155.3 491.9l7.2 -4.2M1176.4 491.9l-8.3 -0.8M1197.5 491.9l-8.3 0.6M1218.5 491.9l-8.2 1.1M1239.6 491.9l-8.2 1.4M1260.6 491.9l-8.0 2.2M1281.7 491.9l-3.7 7.4M1302.7 491.9l-1.2 8.2M734.4 513.0l7.8 2.9M755.4 513.0l8.3 0.1M776.5 513.0l8.3 -0.3M797.5 513.0l8.3 0.1M818.6 513.0l8.3 0.2M839.6 513.0l-8.3 0.4M860.7 513.0l-8.3 -0.1M881.7 513.0l-8.3 -0.2M902.8 513.0l-8.3 0.9M923.8 513.0l8.0 2.0M944.9 513.0l8.3 0.3M965.9 513.0l8.3 -0.2M987.0 513.0l8.3 0.2M1008.0 513.0l7.7 -3.1M1029.0 513.0l-8.3 -0.8M1050.1 513.0l-7.4 -3.7M1071.2 513.0l-4.9 -6.7M1092.2 513.0l0.3 -8.3M1113.2 513.0l5.1 -6.5M1134.3 513.0l5.2 -6.5M1155.3 513.0l4.9 -6.7M1176.4 513.0l-8.2 -1.1M1197.5 513.0l-8.1 1.9M1218.5 513.0l-7.7 3.2M1239.6 513.0l-6.7 4.9M1260.6 513.0l-5.6 6.2M1281.7 513.0l-1.0 8.2M1302.7 513.0l-0.1 8.3M734.4 534.0l8.0 -2.1M755.4 534.0l8.3 -0.1M776.5 534.0l8.3 -0.2M797.5 534.0l8.3 0.2M818.6 534.0l8.2 1.5M839.6 534.0l-8.3 -0.5M860.7 534.0l-8.3 -0.1M881.7 534.0l-8.3 0.3M902.8 534.0l-8.2 1.5M923.8 534.0l7.5 3.5M944.9 534.0l8.3 0.1M965.9 534.0l8.3 0.2M987.0 534.0l8.3 -0.2M1008.0 534.0l8.1 -1.8M1029.0 534.0l-8.1 -1.6M1050.1 534.0l-7.6 -3.4M1071.2 534.0l-5.8 -6.0M1092.2 534.0l-0.8 -8.3M1113.2 534.0l4.6 -6.9M1134.3 534.0l5.5 -6.2M1155.3 534.0l5.5 -6.2M1176.4 534.0l0.1 -8.3M1197.5 534.0l-7.3 3.9M1218.5 534.0l-6.2 5.5M1239.6 534.0l-5.0 6.7M1260.6 534.0l-3.7 7.4M1281.7 534.0l-0.7 8.3M1302.7 534.0l0.3 8.3M734.4 555.0l7.9 2.6M755.4 555.0l8.3 0.1M776.5 555.0l8.3 -0.3M797.5 555.0l8.3 -0.0M818.6 555.0l8.2 1.5M839.6 555.0l-8.3 0.3M860.7 555.0l-8.3 0.1M881.7 555.0l-8.3 -0.3M902.8 555.0l-8.2 1.2M923.8 555.0l7.6 3.2M944.9 555.0l8.3 0.4M965.9 555.0l8.3 0.2M987.0 555.0l8.3 0.3M1008.0 555.0l7.1 -4.4M1029.0 555.0l-8.2 -1.2M1050.1 555.0l-8.0 -2.4M1071.2 555.0l-6.7 -4.9M1092.2 555.0l-1.1 -8.2M1113.2 555.0l5.1 -6.5M1134.3 555.0l6.7 -4.9M1155.3 555.0l7.1 -4.4M1176.4 555.0l7.8 -3.0M1197.5 555.0l-5.3 6.4M1218.5 555.0l-4.9 6.7M1239.6 555.0l-4.5 7.0M1260.6 555.0l-2.6 7.9M1281.7 555.0l-0.9 8.2M1302.7 555.0l-0.3 8.3M734.4 576.0l8.3 -0.4M755.4 576.0l8.3 -0.3M776.5 576.0l8.3 -0.0M797.5 576.0l8.3 -0.3M818.6 576.0l8.3 -0.8M839.6 576.0l-8.3 -0.0M860.7 576.0l-8.3 0.1M881.7 576.0l-8.3 -0.0M902.8 576.0l-8.3 -0.1M923.8 576.0l7.9 2.6M944.9 576.0l8.3 0.4M965.9 576.0l8.3 0.2M987.0 576.0l8.3 0.2M1008.0 576.0l-3.5 -7.5M1029.0 576.0l-8.3 -0.0M1050.1 576.0l-8.2 -0.9M1071.2 576.0l-8.1 -1.6M1092.2 576.0l-5.3 -6.4M1113.2 576.0l7.2 -4.1M1134.3 576.0l8.1 -1.7M1155.3 576.0l8.1 -1.6M1176.4 576.0l8.3 -0.2M1197.5 576.0l2.4 7.9M1218.5 576.0l-4.8 6.8M1239.6 576.0l-5.7 6.0M1260.6 576.0l-4.7 6.9M1281.7 576.0l-0.8 8.3M1302.7 576.0l-0.9 8.3M734.4 597.1l8.0 2.3M755.4 597.1l8.3 -0.1M776.5 597.1l8.3 0.3M797.5 597.1l8.3 -0.3M818.6 597.1l8.2 1.0M839.6 597.1l-8.3 0.4M860.7 597.1l-8.3 -0.2M881.7 597.1l-8.3 0.2M902.8 597.1l-8.2 -1.5M923.8 597.1l7.8 -2.9M944.9 597.1l8.3 -0.4M965.9 597.1l8.3 -0.1M987.0 597.1l8.3 -0.3M1008.0 597.1l-7.6 3.2M1029.0 597.1l-8.3 0.2M1050.1 597.1l-8.3 0.8M1071.2 597.1l-8.1 1.7M1092.2 597.1l-3.5 7.5M1113.2 597.1l7.1 4.4M1134.3 597.1l8.0 2.2M1155.3 597.1l8.2 1.4M1176.4 597.1l8.3 0.4M1197.5 597.1l-4.1 -7.2M1218.5 597.1l-4.7 -6.9M1239.6 597.1l-5.2 -6.4M1260.6 597.1l-4.9 -6.7M1281.7 597.1l-0.7 -8.3M1302.7 597.1l-0.6 -8.3"/><path fill="#111" stroke="none" d="M732.9 50.3a1.45 1.45 0 1 0 2.90 0a1.45 1.45 0 1 0 -2.90 0M1006.5 50.3a1.45 1.45 0 1 0 2.90 0a1.45 1.45 0 1 0 -2.90 0M732.9 71.3a1.45 1.45 0 1 0 2.90 0a1.45 1.45 0 1 0 -2.90 0M1006.5 71.3a1.45 1.45 0 1 0 2.90 0a1.45 1.45 0 1 0 -2.90 0M732.9 92.4a1.45 1.45 0 1 0 2.90 0a1.45 1.45 0 1 0 -2.90 0M1006.5 92.4a1.45 1.45 0 1 0 2.90 0a1.45 1.45 0 1 0 -2.90 0M732.9 113.4a1.45 1.45 0 1 0 2.90 0a1.45 1.45 0 1 0 -2.90 0M1006.5 113.4a1.45 1.45 0 1 0 2.90 0a1.45 1.45 0 1 0 -2.90 0M732.9 134.4a1.45 1.45 0 1 0 2.90 0a1.45 1.45 0 1 0 -2.90 0M1006.5 134.4a1.45 1.45 0 1 0 2.90 0a1.45 1.45 0 1 0 -2.90 0M1175.0 134.4a1.45 1.45 0 1 0 2.90 0a1.45 1.45 0 1 0 -2.90 0M732.9 155.4a1.45 1.45 0 1 0 2.90 0a1.45 1.45 0 1 0 -2.90 0M1006.5 155.4a1.45 1.45 0 1 0 2.90 0a1.45 1.45 0 1 0 -2.90 0M732.9 176.5a1.45 1.45 0 1 0 2.90 0a1.45 1.45 0 1 0 -2.90 0M1006.5 176.5a1.45 1.45 0 1 0 2.90 0a1.45 1.45 0 1 0 -2.90 0M1196.0 176.5a1.45 1.45 0 1 0 2.90 0a1.45 1.45 0 1 0 -2.90 0M732.9 197.5a1.45 1.45 0 1 0 2.90 0a1.45 1.45 0 1 0 -2.90 0M1006.5 197.5a1.45 1.45 0 1 0 2.90 0a1.45 1.45 0 1 0 -2.90 0M1196.0 197.5a1.45 1.45 0 1 0 2.90 0a1.45 1.45 0 1 0 -2.90 0M732.9 218.5a1.45 1.45 0 1 0 2.90 0a1.45 1.45 0 1 0 -2.90 0M1006.5 218.5a1.45 1.45 0 1 0 2.90 0a1.45 1.45 0 1 0 -2.90 0M732.9 239.6a1.45 1.45 0 1 0 2.90 0a1.45 1.45 0 1 0 -2.90 0M1006.5 239.6a1.45 1.45 0 1 0 2.90 0a1.45 1.45 0 1 0 -2.90 0M1175.0 239.6a1.45 1.45 0 1 0 2.90 0a1.45 1.45 0 1 0 -2.90 0M732.9 260.6a1.45 1.45 0 1 0 2.90 0a1.45 1.45 0 1 0 -2.90 0M1006.5 260.6a1.45 1.45 0 1 0 2.90 0a1.45 1.45 0 1 0 -2.90 0M732.9 281.6a1.45 1.45 0 1 0 2.90 0a1.45 1.45 0 1 0 -2.90 0M1006.5 281.6a1.45 1.45 0 1 0 2.90 0a1.45 1.45 0 1 0 -2.90 0M1090.8 281.6a1.45 1.45 0 1 0 2.90 0a1.45 1.45 0 1 0 -2.90 0M1153.9 281.6a1.45 1.45 0 1 0 2.90 0a1.45 1.45 0 1 0 -2.90 0M1280.2 281.6a1.45 1.45 0 1 0 2.90 0a1.45 1.45 0 1 0 -2.90 0M1301.2 281.6a1.45 1.45 0 1 0 2.90 0a1.45 1.45 0 1 0 -2.90 0M732.9 302.7a1.45 1.45 0 1 0 2.90 0a1.45 1.45 0 1 0 -2.90 0M1006.5 302.7a1.45 1.45 0 1 0 2.90 0a1.45 1.45 0 1 0 -2.90 0M732.9 323.7a1.45 1.45 0 1 0 2.90 0a1.45 1.45 0 1 0 -2.90 0M1006.5 323.7a1.45 1.45 0 1 0 2.90 0a1.45 1.45 0 1 0 -2.90 0M732.9 344.7a1.45 1.45 0 1 0 2.90 0a1.45 1.45 0 1 0 -2.90 0M1006.5 344.7a1.45 1.45 0 1 0 2.90 0a1.45 1.45 0 1 0 -2.90 0M732.9 365.8a1.45 1.45 0 1 0 2.90 0a1.45 1.45 0 1 0 -2.90 0M1006.5 365.8a1.45 1.45 0 1 0 2.90 0a1.45 1.45 0 1 0 -2.90 0M732.9 386.8a1.45 1.45 0 1 0 2.90 0a1.45 1.45 0 1 0 -2.90 0M1006.5 386.8a1.45 1.45 0 1 0 2.90 0a1.45 1.45 0 1 0 -2.90 0M1196.0 386.8a1.45 1.45 0 1 0 2.90 0a1.45 1.45 0 1 0 -2.90 0M1217.0 386.8a1.45 1.45 0 1 0 2.90 0a1.45 1.45 0 1 0 -2.90 0M1280.2 386.8a1.45 1.45 0 1 0 2.90 0a1.45 1.45 0 1 0 -2.90 0M1301.2 386.8a1.45 1.45 0 1 0 2.90 0a1.45 1.45 0 1 0 -2.90 0M732.9 407.8a1.45 1.45 0 1 0 2.90 0a1.45 1.45 0 1 0 -2.90 0M1006.5 407.8a1.45 1.45 0 1 0 2.90 0a1.45 1.45 0 1 0 -2.90 0M732.9 428.8a1.45 1.45 0 1 0 2.90 0a1.45 1.45 0 1 0 -2.90 0M1006.5 428.8a1.45 1.45 0 1 0 2.90 0a1.45 1.45 0 1 0 -2.90 0M732.9 449.9a1.45 1.45 0 1 0 2.90 0a1.45 1.45 0 1 0 -2.90 0M1006.5 449.9a1.45 1.45 0 1 0 2.90 0a1.45 1.45 0 1 0 -2.90 0M732.9 470.9a1.45 1.45 0 1 0 2.90 0a1.45 1.45 0 1 0 -2.90 0M1006.5 470.9a1.45 1.45 0 1 0 2.90 0a1.45 1.45 0 1 0 -2.90 0M732.9 491.9a1.45 1.45 0 1 0 2.90 0a1.45 1.45 0 1 0 -2.90 0M1006.5 491.9a1.45 1.45 0 1 0 2.90 0a1.45 1.45 0 1 0 -2.90 0M1153.9 491.9a1.45 1.45 0 1 0 2.90 0a1.45 1.45 0 1 0 -2.90 0M732.9 513.0a1.45 1.45 0 1 0 2.90 0a1.45 1.45 0 1 0 -2.90 0M1006.5 513.0a1.45 1.45 0 1 0 2.90 0a1.45 1.45 0 1 0 -2.90 0M732.9 534.0a1.45 1.45 0 1 0 2.90 0a1.45 1.45 0 1 0 -2.90 0M1006.5 534.0a1.45 1.45 0 1 0 2.90 0a1.45 1.45 0 1 0 -2.90 0M1175.0 534.0a1.45 1.45 0 1 0 2.90 0a1.45 1.45 0 1 0 -2.90 0M732.9 555.0a1.45 1.45 0 1 0 2.90 0a1.45 1.45 0 1 0 -2.90 0M1006.5 555.0a1.45 1.45 0 1 0 2.90 0a1.45 1.45 0 1 0 -2.90 0M732.9 576.0a1.45 1.45 0 1 0 2.90 0a1.45 1.45 0 1 0 -2.90 0M1006.5 576.0a1.45 1.45 0 1 0 2.90 0a1.45 1.45 0 1 0 -2.90 0M1196.0 576.0a1.45 1.45 0 1 0 2.90 0a1.45 1.45 0 1 0 -2.90 0M732.9 597.1a1.45 1.45 0 1 0 2.90 0a1.45 1.45 0 1 0 -2.90 0M1006.5 597.1a1.45 1.45 0 1 0 2.90 0a1.45 1.45 0 1 0 -2.90 0M1196.0 597.1a1.45 1.45 0 1 0 2.90 0a1.45 1.45 0 1 0 -2.90 0"/></g><g fill="none" stroke="#111" stroke-width="1"><rect x="67.50" y="45.50" width="551.00" height="552.00"/><rect x="737.50" y="45.50" width="551.00" height="552.00"/></g><path fill="none" stroke="#222" stroke-width="1" d="M67.45 597.50v11.3M67.45 45.50v-11.3M67.50 597.30h-11.3M618.50 597.30h11.3M130.22 597.50v11.3M130.22 45.50v-11.3M67.50 534.46h-11.3M618.50 534.46h11.3M193.00 597.50v11.3M193.00 45.50v-11.3M67.50 471.62h-11.3M618.50 471.62h11.3M255.77 597.50v11.3M255.77 45.50v-11.3M67.50 408.78h-11.3M618.50 408.78h11.3M318.55 597.50v11.3M318.55 45.50v-11.3M67.50 345.94h-11.3M618.50 345.94h11.3M381.32 597.50v11.3M381.32 45.50v-11.3M67.50 283.10h-11.3M618.50 283.10h11.3M444.10 597.50v11.3M444.10 45.50v-11.3M67.50 220.26h-11.3M618.50 220.26h11.3M506.88 597.50v11.3M506.88 45.50v-11.3M67.50 157.42h-11.3M618.50 157.42h11.3M569.65 597.50v11.3M569.65 45.50v-11.3M67.50 94.58h-11.3M618.50 94.58h11.3M798.70 597.50v11.3M798.70 45.50v-11.3M951.70 597.50v11.3M951.70 45.50v-11.3M1104.70 597.50v11.3M1104.70 45.50v-11.3M1257.70 597.50v11.3M1257.70 45.50v-11.3M737.50 597.30h-11.3M1288.50 597.30h11.3M737.50 444.10h-11.3M1288.50 444.10h11.3M737.50 290.90h-11.3M1288.50 290.90h11.3M737.50 137.70h-11.3M1288.50 137.70h11.3M71.50 709.50v11.3M305.88 709.50v11.3M540.26 709.50v11.3M774.64 709.50v11.3M1009.02 709.50v11.3M1243.40 709.50v11.3"/><rect x="67.5" y="691.5" width="1221" height="18" fill="url(#cbar)" stroke="#111" stroke-width="1"/><path fill="none" stroke="#222" stroke-width="1" d="M87.60 825.00L1268.40 804.50M87.60 825.00L1268.40 845.50M87.60 825.00v-20.40M382.80 825.00v-20.40M377.68 825.00a5.12 5.12 0 1 0 10.25 0a5.12 5.12 0 1 0 -10.25 0M678.00 825.00v-20.40M667.75 825.00a10.25 10.25 0 1 0 20.50 0a10.25 10.25 0 1 0 -20.50 0M973.20 825.00v-20.40M957.83 825.00a15.38 15.38 0 1 0 30.75 0a15.38 15.38 0 1 0 -30.75 0M1268.40 825.00v-20.40M1247.90 825.00a20.50 20.50 0 1 0 41.00 0a20.50 20.50 0 1 0 -41.00 0"/><text x="67.5" y="652.8" text-anchor="middle" font-size="37.0">0</text><text x="36.0" y="606.9" text-anchor="end" font-size="37.0">0</text><text x="130.2" y="652.8" text-anchor="middle" font-size="37.0">10</text><text x="36.0" y="544.1" text-anchor="end" font-size="37.0">10</text><text x="193.0" y="652.8" text-anchor="middle" font-size="37.0">20</text><text x="36.0" y="481.2" text-anchor="end" font-size="37.0">20</text><text x="255.8" y="652.8" text-anchor="middle" font-size="37.0">30</text><text x="36.0" y="418.4" text-anchor="end" font-size="37.0">30</text><text x="318.6" y="652.8" text-anchor="middle" font-size="37.0">40</text><text x="36.0" y="355.5" text-anchor="end" font-size="37.0">40</text><text x="381.3" y="652.8" text-anchor="middle" font-size="37.0">50</text><text x="36.0" y="292.7" text-anchor="end" font-size="37.0">50</text><text x="444.1" y="652.8" text-anchor="middle" font-size="37.0">60</text><text x="36.0" y="229.9" text-anchor="end" font-size="37.0">60</text><text x="506.9" y="652.8" text-anchor="middle" font-size="37.0">70</text><text x="36.0" y="167.0" text-anchor="end" font-size="37.0">70</text><text x="569.6" y="652.8" text-anchor="middle" font-size="37.0">80</text><text x="36.0" y="104.2" text-anchor="end" font-size="37.0">80</text><text x="798.7" y="652.8" text-anchor="middle" font-size="37.0">55</text><text x="951.7" y="652.8" text-anchor="middle" font-size="37.0">60</text><text x="1104.7" y="652.8" text-anchor="middle" font-size="37.0">65</text><text x="1257.7" y="652.8" text-anchor="middle" font-size="37.0">70</text><text x="706.0" y="606.9" text-anchor="end" font-size="37.0">0</text><text x="706.0" y="453.7" text-anchor="end" font-size="37.0">5</text><text x="706.0" y="300.5" text-anchor="end" font-size="37.0">10</text><text x="706.0" y="147.3" text-anchor="end" font-size="37.0">15</text><text x="85.8" y="765.8" text-anchor="middle" font-size="37.0">2.0</text><text transform="translate(49.10 765.8) scale(1.32 1)" text-anchor="middle" font-size="37.0">&#8722;</text><text x="320.1" y="765.8" text-anchor="middle" font-size="37.0">1.0</text><text transform="translate(283.48 765.8) scale(1.32 1)" text-anchor="middle" font-size="37.0">&#8722;</text><text x="540.3" y="765.8" text-anchor="middle" font-size="37.0">0.0</text><text x="774.6" y="765.8" text-anchor="middle" font-size="37.0">1.0</text><text x="1009.0" y="765.8" text-anchor="middle" font-size="37.0">2.0</text><text x="1243.4" y="765.8" text-anchor="middle" font-size="37.0">3.0</text><text x="87.6" y="895.0" text-anchor="middle" font-size="37.0">0.0</text><text x="382.8" y="895.0" text-anchor="middle" font-size="37.0">1.2</text><text x="678.0" y="895.0" text-anchor="middle" font-size="37.0">2.5</text><text x="973.2" y="895.0" text-anchor="middle" font-size="37.0">3.7</text><text x="1268.4" y="895.0" text-anchor="middle" font-size="37.0">4.9</text><text x="68.0" y="26.5" text-anchor="start" font-size="37.0">a)</text><text x="740.0" y="26.5" text-anchor="start" font-size="37.0">b)</text><text x="18.5" y="708.0" text-anchor="middle" font-size="37.0" font-style="italic">&#968;</text><text x="25.0" y="835.0" text-anchor="middle" font-size="37.0">|<tspan font-style="italic">U</tspan>|</text></svg></body></html>
